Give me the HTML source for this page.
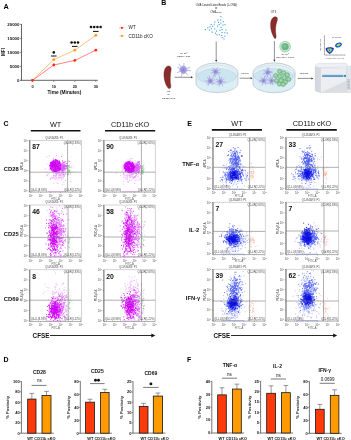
<!DOCTYPE html>
<html><head><meta charset="utf-8"><style>
html,body{margin:0;padding:0;background:#fff;width:351px;height:440px;overflow:hidden}
svg{display:block;font-family:"Liberation Sans", sans-serif;filter:blur(0.3px)}
</style></head><body>
<svg width="351" height="440" viewBox="0 0 351 440">
<defs><radialGradient id="dcg"><stop offset="0" stop-color="#857ccc"/><stop offset="0.55" stop-color="#a098dc"/><stop offset="1" stop-color="#b4aee8"/></radialGradient><filter id="soft" x="-10%" y="-10%" width="120%" height="120%"><feGaussianBlur stdDeviation="0.35"/></filter><filter id="bl" x="-50%" y="-50%" width="200%" height="200%"><feGaussianBlur stdDeviation="0.9"/></filter></defs>
<rect width="351" height="440" fill="#fff"/>
<text x="3.40" y="8.50" font-size="7.3" font-weight="bold" text-anchor="start" fill="#000" >A</text>
<line x1="21.50" y1="24.00" x2="21.50" y2="80.70" stroke="#666" stroke-width="1.0" />
<line x1="20.00" y1="80.30" x2="21.50" y2="80.30" stroke="#555" stroke-width="0.7" />
<text x="19.50" y="81.80" font-size="4.4" font-weight="bold" text-anchor="end" fill="#111" >0</text>
<line x1="20.00" y1="66.30" x2="21.50" y2="66.30" stroke="#555" stroke-width="0.7" />
<text x="19.50" y="67.80" font-size="4.4" font-weight="bold" text-anchor="end" fill="#111" >5000</text>
<line x1="20.00" y1="52.30" x2="21.50" y2="52.30" stroke="#555" stroke-width="0.7" />
<text x="19.50" y="53.80" font-size="4.4" font-weight="bold" text-anchor="end" fill="#111" >10000</text>
<line x1="20.00" y1="38.30" x2="21.50" y2="38.30" stroke="#555" stroke-width="0.7" />
<text x="19.50" y="39.80" font-size="4.4" font-weight="bold" text-anchor="end" fill="#111" >15000</text>
<line x1="20.00" y1="24.30" x2="21.50" y2="24.30" stroke="#555" stroke-width="0.7" />
<text x="19.50" y="25.80" font-size="4.4" font-weight="bold" text-anchor="end" fill="#111" >20000</text>
<line x1="20.50" y1="80.30" x2="97.80" y2="80.30" stroke="#666" stroke-width="1.0" />
<line x1="32.50" y1="80.30" x2="32.50" y2="81.80" stroke="#555" stroke-width="0.7" />
<text x="32.50" y="87.50" font-size="3.9" font-weight="bold" text-anchor="middle" fill="#111" >0</text>
<line x1="53.80" y1="80.30" x2="53.80" y2="81.80" stroke="#555" stroke-width="0.7" />
<text x="53.80" y="87.50" font-size="3.9" font-weight="bold" text-anchor="middle" fill="#111" >10</text>
<line x1="74.80" y1="80.30" x2="74.80" y2="81.80" stroke="#555" stroke-width="0.7" />
<text x="74.80" y="87.50" font-size="3.9" font-weight="bold" text-anchor="middle" fill="#111" >20</text>
<line x1="95.80" y1="80.30" x2="95.80" y2="81.80" stroke="#555" stroke-width="0.7" />
<text x="95.80" y="87.50" font-size="3.9" font-weight="bold" text-anchor="middle" fill="#111" >30</text>
<text x="64.40" y="94.40" font-size="4.8" font-weight="bold" text-anchor="middle" fill="#111" >Time (Minutes)</text>
<text transform="translate(5.2,52) rotate(-90)" font-size="4.6" font-weight="bold" text-anchor="middle" fill="#222">MFI</text>
<polyline points="32.5,80.3 53.8,59.6 74.8,50.2 95.8,35.3" fill="none" stroke="#ffa64d" stroke-width="0.7"/>
<polyline points="32.5,80.3 53.8,65.0 74.8,60.4 95.8,50.2" fill="none" stroke="#ff4d4d" stroke-width="0.7"/>
<circle cx="32.5" cy="80.3" r="1.4" fill="#ff9a1a"/>
<circle cx="53.8" cy="59.6" r="1.4" fill="#ff9a1a"/>
<circle cx="74.8" cy="50.2" r="1.4" fill="#ff9a1a"/>
<circle cx="95.8" cy="35.3" r="1.4" fill="#ff9a1a"/>
<circle cx="32.5" cy="80.3" r="1.4" fill="#ff2a1a"/>
<circle cx="53.8" cy="65.0" r="1.4" fill="#ff2a1a"/>
<circle cx="74.8" cy="60.4" r="1.4" fill="#ff2a1a"/>
<circle cx="95.8" cy="50.2" r="1.4" fill="#ff2a1a"/>
<circle cx="53.80" cy="52.4" r="1.3" fill="#111"/>
<line x1="51.00" y1="56.00" x2="56.60" y2="56.00" stroke="#111" stroke-width="1.0" />
<circle cx="71.60" cy="42.5" r="1.3" fill="#111"/>
<circle cx="74.80" cy="42.5" r="1.3" fill="#111"/>
<circle cx="78.00" cy="42.5" r="1.3" fill="#111"/>
<line x1="72.00" y1="46.40" x2="77.60" y2="46.40" stroke="#111" stroke-width="1.0" />
<circle cx="91.00" cy="27.0" r="1.3" fill="#111"/>
<circle cx="94.20" cy="27.0" r="1.3" fill="#111"/>
<circle cx="97.40" cy="27.0" r="1.3" fill="#111"/>
<circle cx="100.60" cy="27.0" r="1.3" fill="#111"/>
<line x1="93.00" y1="31.40" x2="98.60" y2="31.40" stroke="#111" stroke-width="1.0" />
<line x1="119.20" y1="27.80" x2="124.60" y2="27.80" stroke="#ff6a6a" stroke-width="0.6" />
<circle cx="121.9" cy="27.8" r="1.1" fill="#ff2a1a"/>
<text x="128.60" y="29.40" font-size="4.6" font-weight="normal" text-anchor="start" fill="#222" >WT</text>
<line x1="119.20" y1="35.90" x2="124.60" y2="35.90" stroke="#ffb060" stroke-width="0.6" />
<circle cx="121.9" cy="35.9" r="1.1" fill="#ff9a1a"/>
<text x="128.60" y="37.50" font-size="4.6" font-weight="normal" text-anchor="start" fill="#222" >CD11b cKO</text>
<text x="3.60" y="362.40" font-size="7.0" font-weight="bold" text-anchor="start" fill="#000" >D</text>
<text x="187.00" y="362.00" font-size="7.0" font-weight="bold" text-anchor="start" fill="#000" >F</text>
<line x1="21.40" y1="381.20" x2="21.40" y2="433.50" stroke="#777" stroke-width="1.0" />
<line x1="20.00" y1="433.20" x2="21.40" y2="433.20" stroke="#666" stroke-width="0.7" />
<text x="19.80" y="434.60" font-size="4.0" font-weight="bold" text-anchor="end" fill="#111" >0</text>
<line x1="20.00" y1="422.86" x2="21.40" y2="422.86" stroke="#666" stroke-width="0.7" />
<text x="19.80" y="424.26" font-size="4.0" font-weight="bold" text-anchor="end" fill="#111" >20</text>
<line x1="20.00" y1="412.52" x2="21.40" y2="412.52" stroke="#666" stroke-width="0.7" />
<text x="19.80" y="413.92" font-size="4.0" font-weight="bold" text-anchor="end" fill="#111" >40</text>
<line x1="20.00" y1="402.18" x2="21.40" y2="402.18" stroke="#666" stroke-width="0.7" />
<text x="19.80" y="403.58" font-size="4.0" font-weight="bold" text-anchor="end" fill="#111" >60</text>
<line x1="20.00" y1="391.84" x2="21.40" y2="391.84" stroke="#666" stroke-width="0.7" />
<text x="19.80" y="393.24" font-size="4.0" font-weight="bold" text-anchor="end" fill="#111" >80</text>
<line x1="20.00" y1="381.50" x2="21.40" y2="381.50" stroke="#666" stroke-width="0.7" />
<text x="19.80" y="382.90" font-size="4.0" font-weight="bold" text-anchor="end" fill="#111" >100</text>
<line x1="20.60" y1="433.20" x2="53.80" y2="433.20" stroke="#777" stroke-width="1.0" />
<line x1="31.85" y1="399.08" x2="31.85" y2="393.39" stroke="#555" stroke-width="0.6" />
<line x1="29.45" y1="393.39" x2="34.25" y2="393.39" stroke="#555" stroke-width="0.6" />
<rect x="27.70" y="399.08" width="8.30" height="34.12" fill="#ff3a0a" stroke="#151515" stroke-width="0.8"/>
<line x1="31.85" y1="433.20" x2="31.85" y2="434.20" stroke="#555" stroke-width="0.5" />
<line x1="46.50" y1="395.46" x2="46.50" y2="391.32" stroke="#555" stroke-width="0.6" />
<line x1="44.10" y1="391.32" x2="48.90" y2="391.32" stroke="#555" stroke-width="0.6" />
<rect x="42.00" y="395.46" width="9.00" height="37.74" fill="#ff9a00" stroke="#151515" stroke-width="0.8"/>
<line x1="46.50" y1="433.20" x2="46.50" y2="434.20" stroke="#555" stroke-width="0.5" />
<text x="39.40" y="373.70" font-size="5.0" font-weight="bold" text-anchor="middle" fill="#111" >CD28</text>
<text x="39.30" y="382.40" font-size="4.5" font-weight="normal" text-anchor="middle" fill="#111" >ns</text>
<line x1="31.60" y1="385.40" x2="46.50" y2="385.40" stroke="#444" stroke-width="0.7" />
<text transform="translate(9.10,407.35) rotate(-90)" font-size="4.1" font-weight="bold" text-anchor="middle" fill="#111">% Positivity</text>
<text x="27.20" y="440.20" font-size="3.9" font-weight="bold" text-anchor="start" fill="#111" >WT CD11b cKO</text>
<line x1="80.30" y1="381.20" x2="80.30" y2="433.50" stroke="#777" stroke-width="1.0" />
<line x1="78.90" y1="433.20" x2="80.30" y2="433.20" stroke="#666" stroke-width="0.7" />
<text x="78.70" y="434.60" font-size="4.0" font-weight="bold" text-anchor="end" fill="#111" >0</text>
<line x1="78.90" y1="420.27" x2="80.30" y2="420.27" stroke="#666" stroke-width="0.7" />
<text x="78.70" y="421.67" font-size="4.0" font-weight="bold" text-anchor="end" fill="#111" >20</text>
<line x1="78.90" y1="407.35" x2="80.30" y2="407.35" stroke="#666" stroke-width="0.7" />
<text x="78.70" y="408.75" font-size="4.0" font-weight="bold" text-anchor="end" fill="#111" >40</text>
<line x1="78.90" y1="394.43" x2="80.30" y2="394.43" stroke="#666" stroke-width="0.7" />
<text x="78.70" y="395.82" font-size="4.0" font-weight="bold" text-anchor="end" fill="#111" >60</text>
<line x1="78.90" y1="381.50" x2="80.30" y2="381.50" stroke="#666" stroke-width="0.7" />
<text x="78.70" y="382.90" font-size="4.0" font-weight="bold" text-anchor="end" fill="#111" >80</text>
<line x1="79.50" y1="433.20" x2="111.90" y2="433.20" stroke="#777" stroke-width="1.0" />
<line x1="90.00" y1="402.18" x2="90.00" y2="399.27" stroke="#555" stroke-width="0.6" />
<line x1="87.60" y1="399.27" x2="92.40" y2="399.27" stroke="#555" stroke-width="0.6" />
<rect x="85.60" y="402.18" width="8.80" height="31.02" fill="#ff3a0a" stroke="#151515" stroke-width="0.8"/>
<line x1="90.00" y1="433.20" x2="90.00" y2="434.20" stroke="#555" stroke-width="0.5" />
<line x1="104.85" y1="392.49" x2="104.85" y2="389.25" stroke="#555" stroke-width="0.6" />
<line x1="102.45" y1="389.25" x2="107.25" y2="389.25" stroke="#555" stroke-width="0.6" />
<rect x="100.60" y="392.49" width="8.50" height="40.71" fill="#ff9a00" stroke="#151515" stroke-width="0.8"/>
<line x1="104.85" y1="433.20" x2="104.85" y2="434.20" stroke="#555" stroke-width="0.5" />
<text x="97.30" y="373.30" font-size="5.0" font-weight="bold" text-anchor="middle" fill="#111" >CD25</text>
<circle cx="95.50" cy="380.20" r="1.45" fill="#111"/>
<circle cx="98.50" cy="380.20" r="1.45" fill="#111"/>
<line x1="90.00" y1="383.60" x2="104.60" y2="383.60" stroke="#444" stroke-width="0.7" />
<text transform="translate(69.90,407.35) rotate(-90)" font-size="4.1" font-weight="bold" text-anchor="middle" fill="#111">% Positivity</text>
<text x="87.30" y="440.20" font-size="3.9" font-weight="bold" text-anchor="start" fill="#111" >WT CD11b cKO</text>
<line x1="133.00" y1="381.40" x2="133.00" y2="433.40" stroke="#777" stroke-width="1.0" />
<line x1="131.60" y1="433.10" x2="133.00" y2="433.10" stroke="#666" stroke-width="0.7" />
<text x="131.40" y="434.50" font-size="4.0" font-weight="bold" text-anchor="end" fill="#111" >0</text>
<line x1="131.60" y1="422.82" x2="133.00" y2="422.82" stroke="#666" stroke-width="0.7" />
<text x="131.40" y="424.22" font-size="4.0" font-weight="bold" text-anchor="end" fill="#111" >5</text>
<line x1="131.60" y1="412.54" x2="133.00" y2="412.54" stroke="#666" stroke-width="0.7" />
<text x="131.40" y="413.94" font-size="4.0" font-weight="bold" text-anchor="end" fill="#111" >10</text>
<line x1="131.60" y1="402.26" x2="133.00" y2="402.26" stroke="#666" stroke-width="0.7" />
<text x="131.40" y="403.66" font-size="4.0" font-weight="bold" text-anchor="end" fill="#111" >15</text>
<line x1="131.60" y1="391.98" x2="133.00" y2="391.98" stroke="#666" stroke-width="0.7" />
<text x="131.40" y="393.38" font-size="4.0" font-weight="bold" text-anchor="end" fill="#111" >20</text>
<line x1="131.60" y1="381.70" x2="133.00" y2="381.70" stroke="#666" stroke-width="0.7" />
<text x="131.40" y="383.10" font-size="4.0" font-weight="bold" text-anchor="end" fill="#111" >25</text>
<line x1="132.20" y1="433.10" x2="165.40" y2="433.10" stroke="#777" stroke-width="1.0" />
<line x1="143.65" y1="406.37" x2="143.65" y2="403.29" stroke="#555" stroke-width="0.6" />
<line x1="141.25" y1="403.29" x2="146.05" y2="403.29" stroke="#555" stroke-width="0.6" />
<rect x="139.30" y="406.37" width="8.70" height="26.73" fill="#ff3a0a" stroke="#151515" stroke-width="0.8"/>
<line x1="143.65" y1="433.10" x2="143.65" y2="434.10" stroke="#555" stroke-width="0.5" />
<line x1="157.95" y1="396.09" x2="157.95" y2="393.01" stroke="#555" stroke-width="0.6" />
<line x1="155.55" y1="393.01" x2="160.35" y2="393.01" stroke="#555" stroke-width="0.6" />
<rect x="153.30" y="396.09" width="9.30" height="37.01" fill="#ff9a00" stroke="#151515" stroke-width="0.8"/>
<line x1="157.95" y1="433.10" x2="157.95" y2="434.10" stroke="#555" stroke-width="0.5" />
<text x="150.90" y="375.10" font-size="5.0" font-weight="bold" text-anchor="middle" fill="#111" >CD69</text>
<circle cx="150.90" cy="383.90" r="1.45" fill="#111"/>
<line x1="143.20" y1="387.40" x2="158.60" y2="387.40" stroke="#444" stroke-width="0.7" />
<text transform="translate(122.70,407.40) rotate(-90)" font-size="4.1" font-weight="bold" text-anchor="middle" fill="#111">% Positivity</text>
<text x="140.40" y="440.20" font-size="3.9" font-weight="bold" text-anchor="start" fill="#111" >WT CD11b cKO</text>
<line x1="211.80" y1="381.00" x2="211.80" y2="433.30" stroke="#777" stroke-width="1.0" />
<line x1="210.40" y1="433.00" x2="211.80" y2="433.00" stroke="#666" stroke-width="0.7" />
<text x="210.20" y="434.40" font-size="4.0" font-weight="bold" text-anchor="end" fill="#111" >0</text>
<line x1="210.40" y1="420.07" x2="211.80" y2="420.07" stroke="#666" stroke-width="0.7" />
<text x="210.20" y="421.47" font-size="4.0" font-weight="bold" text-anchor="end" fill="#111" >10</text>
<line x1="210.40" y1="407.15" x2="211.80" y2="407.15" stroke="#666" stroke-width="0.7" />
<text x="210.20" y="408.55" font-size="4.0" font-weight="bold" text-anchor="end" fill="#111" >20</text>
<line x1="210.40" y1="394.23" x2="211.80" y2="394.23" stroke="#666" stroke-width="0.7" />
<text x="210.20" y="395.62" font-size="4.0" font-weight="bold" text-anchor="end" fill="#111" >30</text>
<line x1="210.40" y1="381.30" x2="211.80" y2="381.30" stroke="#666" stroke-width="0.7" />
<text x="210.20" y="382.70" font-size="4.0" font-weight="bold" text-anchor="end" fill="#111" >40</text>
<line x1="211.00" y1="433.00" x2="244.10" y2="433.00" stroke="#777" stroke-width="1.0" />
<line x1="222.00" y1="394.87" x2="222.00" y2="387.76" stroke="#555" stroke-width="0.6" />
<line x1="219.60" y1="387.76" x2="224.40" y2="387.76" stroke="#555" stroke-width="0.6" />
<rect x="217.70" y="394.87" width="8.60" height="38.13" fill="#ff3a0a" stroke="#151515" stroke-width="0.8"/>
<line x1="222.00" y1="433.00" x2="222.00" y2="434.00" stroke="#555" stroke-width="0.5" />
<line x1="236.90" y1="389.06" x2="236.90" y2="384.14" stroke="#555" stroke-width="0.6" />
<line x1="234.50" y1="384.14" x2="239.30" y2="384.14" stroke="#555" stroke-width="0.6" />
<rect x="232.50" y="389.06" width="8.80" height="43.94" fill="#ff9a00" stroke="#151515" stroke-width="0.8"/>
<line x1="236.90" y1="433.00" x2="236.90" y2="434.00" stroke="#555" stroke-width="0.5" />
<text x="229.90" y="367.00" font-size="5.0" font-weight="bold" text-anchor="middle" fill="#111" >TNF-&#945;</text>
<text x="229.40" y="376.00" font-size="4.5" font-weight="normal" text-anchor="middle" fill="#111" >ns</text>
<line x1="222.00" y1="378.20" x2="237.00" y2="378.20" stroke="#444" stroke-width="0.7" />
<text transform="translate(201.20,407.15) rotate(-90)" font-size="4.1" font-weight="bold" text-anchor="middle" fill="#111">% Positivity</text>
<text x="218.60" y="440.20" font-size="3.9" font-weight="bold" text-anchor="start" fill="#111" >WT CD11b cKO</text>
<line x1="260.60" y1="381.00" x2="260.60" y2="433.30" stroke="#777" stroke-width="1.0" />
<line x1="259.20" y1="433.00" x2="260.60" y2="433.00" stroke="#666" stroke-width="0.7" />
<text x="259.00" y="434.40" font-size="4.0" font-weight="bold" text-anchor="end" fill="#111" >0</text>
<line x1="259.20" y1="422.66" x2="260.60" y2="422.66" stroke="#666" stroke-width="0.7" />
<text x="259.00" y="424.06" font-size="4.0" font-weight="bold" text-anchor="end" fill="#111" >5</text>
<line x1="259.20" y1="412.32" x2="260.60" y2="412.32" stroke="#666" stroke-width="0.7" />
<text x="259.00" y="413.72" font-size="4.0" font-weight="bold" text-anchor="end" fill="#111" >10</text>
<line x1="259.20" y1="401.98" x2="260.60" y2="401.98" stroke="#666" stroke-width="0.7" />
<text x="259.00" y="403.38" font-size="4.0" font-weight="bold" text-anchor="end" fill="#111" >15</text>
<line x1="259.20" y1="391.64" x2="260.60" y2="391.64" stroke="#666" stroke-width="0.7" />
<text x="259.00" y="393.04" font-size="4.0" font-weight="bold" text-anchor="end" fill="#111" >20</text>
<line x1="259.20" y1="381.30" x2="260.60" y2="381.30" stroke="#666" stroke-width="0.7" />
<text x="259.00" y="382.70" font-size="4.0" font-weight="bold" text-anchor="end" fill="#111" >25</text>
<line x1="259.80" y1="433.00" x2="293.10" y2="433.00" stroke="#777" stroke-width="1.0" />
<line x1="271.10" y1="393.29" x2="271.10" y2="385.85" stroke="#555" stroke-width="0.6" />
<line x1="268.70" y1="385.85" x2="273.50" y2="385.85" stroke="#555" stroke-width="0.6" />
<rect x="266.70" y="393.29" width="8.80" height="39.71" fill="#ff3a0a" stroke="#151515" stroke-width="0.8"/>
<line x1="271.10" y1="433.00" x2="271.10" y2="434.00" stroke="#555" stroke-width="0.5" />
<line x1="285.90" y1="392.67" x2="285.90" y2="385.44" stroke="#555" stroke-width="0.6" />
<line x1="283.50" y1="385.44" x2="288.30" y2="385.44" stroke="#555" stroke-width="0.6" />
<rect x="281.50" y="392.67" width="8.80" height="40.33" fill="#ff9a00" stroke="#151515" stroke-width="0.8"/>
<line x1="285.90" y1="433.00" x2="285.90" y2="434.00" stroke="#555" stroke-width="0.5" />
<text x="277.50" y="368.00" font-size="5.0" font-weight="bold" text-anchor="middle" fill="#111" >IL-2</text>
<text x="278.30" y="376.90" font-size="4.5" font-weight="normal" text-anchor="middle" fill="#111" >ns</text>
<line x1="270.80" y1="379.00" x2="286.00" y2="379.00" stroke="#444" stroke-width="0.7" />
<text transform="translate(250.70,407.15) rotate(-90)" font-size="4.1" font-weight="bold" text-anchor="middle" fill="#111">% Positivity</text>
<text x="267.40" y="440.20" font-size="3.9" font-weight="bold" text-anchor="start" fill="#111" >WT CD11b cKO</text>
<line x1="309.40" y1="381.10" x2="309.40" y2="433.60" stroke="#777" stroke-width="1.0" />
<line x1="308.00" y1="433.30" x2="309.40" y2="433.30" stroke="#666" stroke-width="0.7" />
<text x="307.80" y="434.70" font-size="4.0" font-weight="bold" text-anchor="end" fill="#111" >0</text>
<line x1="308.00" y1="420.32" x2="309.40" y2="420.32" stroke="#666" stroke-width="0.7" />
<text x="307.80" y="421.72" font-size="4.0" font-weight="bold" text-anchor="end" fill="#111" >20</text>
<line x1="308.00" y1="407.35" x2="309.40" y2="407.35" stroke="#666" stroke-width="0.7" />
<text x="307.80" y="408.75" font-size="4.0" font-weight="bold" text-anchor="end" fill="#111" >40</text>
<line x1="308.00" y1="394.38" x2="309.40" y2="394.38" stroke="#666" stroke-width="0.7" />
<text x="307.80" y="395.77" font-size="4.0" font-weight="bold" text-anchor="end" fill="#111" >60</text>
<line x1="308.00" y1="381.40" x2="309.40" y2="381.40" stroke="#666" stroke-width="0.7" />
<text x="307.80" y="382.80" font-size="4.0" font-weight="bold" text-anchor="end" fill="#111" >80</text>
<line x1="308.60" y1="433.30" x2="341.70" y2="433.30" stroke="#777" stroke-width="1.0" />
<line x1="319.85" y1="409.30" x2="319.85" y2="404.43" stroke="#555" stroke-width="0.6" />
<line x1="317.45" y1="404.43" x2="322.25" y2="404.43" stroke="#555" stroke-width="0.6" />
<rect x="315.50" y="409.30" width="8.70" height="24.00" fill="#ff3a0a" stroke="#151515" stroke-width="0.8"/>
<line x1="319.85" y1="433.30" x2="319.85" y2="434.30" stroke="#555" stroke-width="0.5" />
<line x1="334.60" y1="395.35" x2="334.60" y2="389.83" stroke="#555" stroke-width="0.6" />
<line x1="332.20" y1="389.83" x2="337.00" y2="389.83" stroke="#555" stroke-width="0.6" />
<rect x="330.30" y="395.35" width="8.60" height="37.95" fill="#ff9a00" stroke="#151515" stroke-width="0.8"/>
<line x1="334.60" y1="433.30" x2="334.60" y2="434.30" stroke="#555" stroke-width="0.5" />
<text x="324.80" y="372.30" font-size="5.0" font-weight="bold" text-anchor="middle" fill="#111" >IFN-&#947;</text>
<text x="327.70" y="381.00" font-size="4.5" font-weight="normal" text-anchor="middle" fill="#111" >0.0699</text>
<line x1="319.70" y1="383.30" x2="334.70" y2="383.30" stroke="#444" stroke-width="0.7" />
<text transform="translate(299.10,407.35) rotate(-90)" font-size="4.1" font-weight="bold" text-anchor="middle" fill="#111">% Positivity</text>
<text x="316.40" y="440.20" font-size="3.9" font-weight="bold" text-anchor="start" fill="#111" >WT CD11b cKO</text>
<text x="3.60" y="126.40" font-size="7.0" font-weight="bold" text-anchor="start" fill="#000" >C</text>
<text x="187.20" y="126.40" font-size="7.0" font-weight="bold" text-anchor="start" fill="#000" >E</text>
<text x="55.60" y="126.60" font-size="7.3" font-weight="normal" text-anchor="middle" fill="#111" >WT</text>
<text x="130.10" y="126.60" font-size="7.3" font-weight="normal" text-anchor="middle" fill="#111" >CD11b cKO</text>
<line x1="30.80" y1="130.80" x2="80.50" y2="130.80" stroke="#111" stroke-width="1.6" />
<line x1="105.00" y1="130.80" x2="155.20" y2="130.80" stroke="#111" stroke-width="1.6" />
<text x="237.00" y="126.30" font-size="7.3" font-weight="normal" text-anchor="middle" fill="#111" >WT</text>
<text x="312.00" y="126.30" font-size="7.3" font-weight="normal" text-anchor="middle" fill="#111" >CD11b cKO</text>
<line x1="211.80" y1="129.90" x2="262.00" y2="129.90" stroke="#111" stroke-width="1.6" />
<line x1="286.40" y1="129.90" x2="336.80" y2="129.90" stroke="#111" stroke-width="1.6" />
<text x="3.80" y="170.60" font-size="5.8" font-weight="bold" text-anchor="start" fill="#111" >CD28</text>
<text x="3.80" y="235.60" font-size="5.8" font-weight="bold" text-anchor="start" fill="#111" >CD25</text>
<text x="3.80" y="300.60" font-size="5.8" font-weight="bold" text-anchor="start" fill="#111" >CD69</text>
<text x="182.30" y="166.20" font-size="5.8" font-weight="bold" text-anchor="start" fill="#111" >TNF-&#945;</text>
<text x="189.00" y="231.80" font-size="5.8" font-weight="bold" text-anchor="start" fill="#111" >IL-2</text>
<text x="185.80" y="300.20" font-size="5.8" font-weight="bold" text-anchor="start" fill="#111" >IFN-&#947;</text>
<text x="32.60" y="337.90" font-size="6.3" font-weight="bold" text-anchor="start" fill="#111" >CFSE</text>
<line x1="50.00" y1="335.50" x2="152.80" y2="335.50" stroke="#111" stroke-width="0.9" />
<path d="M155.3 335.5 L151.3 333.6 L151.3 337.4 Z" fill="#111"/>
<text x="213.40" y="337.90" font-size="6.3" font-weight="bold" text-anchor="start" fill="#111" >CFSE</text>
<line x1="231.00" y1="335.50" x2="334.70" y2="335.50" stroke="#111" stroke-width="0.9" />
<path d="M337.2 335.5 L333.2 333.6 L333.2 337.4 Z" fill="#111"/>
<rect x="29.8" y="140.3" width="51.60" height="51.70" fill="#fff" stroke="#a8a8a8" stroke-width="0.5"/>
<g filter="url(#soft)">
<ellipse cx="55.2" cy="166.0" rx="5.0" ry="5.4" fill="#d000f6" fill-opacity="0.95" filter="url(#bl)"/>
<ellipse cx="62.0" cy="167.5" rx="4.0" ry="4.2" fill="#dd5cff" fill-opacity="0.45" filter="url(#bl)"/>
<path d="M59.5 177.3h0.9M57.4 180.1h0.9M55.8 173.6h0.9M61.6 175.7h0.9M56.3 173.5h0.9M56.4 177.6h0.9M59.2 171.4h0.9M59.5 176.1h0.9M52.9 178.1h0.9M56.3 174.4h0.9M61.2 180.0h0.9M54.4 177.0h0.9M53.5 183.4h0.9M55.3 179.6h0.9M54.6 178.3h0.9M67.8 166.9h0.9M55.6 177.2h0.9M57.1 173.2h0.9M67.4 175.8h0.9M50.0 178.4h0.9M49.6 179.4h0.9M54.9 176.0h0.9M63.4 175.9h0.9M51.2 169.7h0.9M63.0 178.0h0.9M53.8 178.4h0.9M59.8 177.7h0.9M47.2 174.5h0.9M61.7 178.0h0.9M61.6 167.1h0.9M58.3 177.2h0.9M69.3 172.3h0.9M56.0 175.6h0.9M61.6 174.0h0.9M62.8 172.8h0.9M58.8 173.7h0.9M58.3 173.2h0.9M50.2 179.2h0.9M58.9 173.6h0.9M58.5 178.9h0.9M53.1 175.1h0.9M60.0 177.3h0.9M56.0 168.3h0.9M63.3 176.6h0.9M57.6 174.6h0.9M58.8 174.1h0.9M52.8 173.0h0.9M54.8 173.4h0.9M52.2 177.7h0.9M51.5 177.7h0.9M52.9 176.7h0.9M63.9 176.2h0.9M54.2 175.7h0.9M58.2 169.6h0.9M54.8 176.1h0.9M55.4 175.8h0.9M60.9 178.1h0.9M61.7 177.5h0.9M56.2 175.4h0.9M56.3 174.4h0.9M56.7 169.6h0.9M56.0 175.4h0.9M53.1 175.4h0.9M59.9 174.9h0.9M67.1 166.6h0.9M56.6 169.3h0.9M62.1 184.5h0.9M46.0 175.9h0.9M59.9 174.5h0.9M60.1 167.9h0.9M61.5 176.8h0.9M57.7 173.5h0.9M60.5 173.8h0.9M58.6 173.8h0.9M47.2 175.4h0.9M58.5 178.1h0.9M53.5 175.4h0.9M60.4 176.0h0.9M63.3 182.3h0.9M53.4 169.0h0.9M61.3 179.2h0.9M61.6 174.9h0.9M53.1 165.7h0.9M61.4 164.5h0.9M46.6 164.0h0.9M70.3 181.5h0.9M52.8 165.6h0.9M57.8 165.5h0.9M63.8 169.5h0.9M50.6 177.9h0.9M53.3 171.3h0.9M56.5 168.1h0.9M58.3 165.8h0.9M46.4 156.8h0.9M49.6 165.4h0.9M56.4 170.3h0.9M59.6 170.7h0.9M52.2 165.7h0.9M44.9 169.0h0.9M59.2 173.2h0.9M55.9 169.0h0.9M61.7 170.1h0.9M60.6 173.5h0.9M57.7 177.8h0.9M53.4 167.8h0.9M52.1 165.2h0.9M65.1 180.6h0.9M56.7 173.4h0.9M63.0 174.8h0.9M63.2 162.4h0.9M53.0 172.7h0.9M64.4 170.6h0.9M51.8 167.9h0.9M52.9 164.9h0.9M64.8 166.2h0.9M56.7 183.0h0.9M63.1 172.0h0.9M53.2 172.5h0.9M65.5 173.7h0.9M63.5 170.6h0.9M59.4 168.8h0.9M58.9 177.8h0.9M48.7 169.6h0.9M57.9 166.6h0.9M54.9 174.7h0.9M67.6 173.8h0.9M58.3 160.7h0.9M67.2 170.5h0.9M56.4 163.3h0.9M56.2 163.4h0.9M56.9 172.8h0.9M56.7 171.7h0.9M51.9 178.6h0.9M53.0 159.1h0.9M55.5 165.4h0.9M51.0 167.9h0.9M58.2 162.9h0.9M55.8 178.6h0.9M60.3 169.1h0.9M57.3 169.3h0.9M56.3 174.4h0.9M56.0 155.6h0.9M56.4 164.7h0.9M60.1 166.3h0.9M57.4 183.1h0.9M50.8 163.3h0.9M48.8 155.6h0.9M46.2 172.2h0.9M53.0 158.8h0.9M48.4 173.7h0.9" stroke="#eba8ff" stroke-width="0.9" fill="none"/>
<path d="M65.6 163.6h0.9M58.1 162.3h0.9M65.1 166.0h0.9M61.9 166.5h0.9M61.7 164.0h0.9M62.1 162.9h0.9M61.9 168.5h0.9M63.3 166.8h0.9M59.7 168.0h0.9M60.8 172.5h0.9M64.0 167.1h0.9M60.8 165.3h0.9M59.6 166.4h0.9M62.8 169.1h0.9M63.5 174.2h0.9M60.2 167.5h0.9M69.3 161.5h0.9M60.7 168.0h0.9M62.5 168.8h0.9M61.4 168.7h0.9M62.2 170.0h0.9M57.1 164.7h0.9M62.0 164.2h0.9M59.3 169.5h0.9M60.4 169.5h0.9M64.0 168.5h0.9M63.4 167.2h0.9M58.4 167.4h0.9M63.2 165.8h0.9M61.8 169.9h0.9M59.8 169.5h0.9M66.9 165.7h0.9M62.4 167.0h0.9M66.1 168.5h0.9M64.4 165.3h0.9M62.0 167.5h0.9M57.4 172.1h0.9M64.4 161.9h0.9M64.0 167.1h0.9M63.2 168.7h0.9M58.2 166.8h0.9M65.9 165.7h0.9M59.4 163.1h0.9M58.9 168.6h0.9M66.5 168.9h0.9M62.7 174.6h0.9M60.7 165.3h0.9M63.4 169.3h0.9M59.4 163.8h0.9M62.8 168.3h0.9M58.7 166.9h0.9M60.6 169.0h0.9M61.7 167.2h0.9M61.1 170.9h0.9M65.7 166.3h0.9M64.2 165.1h0.9M62.2 169.9h0.9M66.0 166.3h0.9M61.9 168.1h0.9M58.2 167.6h0.9M60.3 168.7h0.9M59.1 161.2h0.9M62.1 168.3h0.9M60.6 170.3h0.9M61.3 165.6h0.9M63.3 162.5h0.9M60.3 167.4h0.9M64.3 167.0h0.9M62.9 165.4h0.9M62.8 172.8h0.9M60.3 175.1h0.9M60.4 167.6h0.9M62.5 170.8h0.9M58.8 160.8h0.9M63.6 170.0h0.9M63.7 175.9h0.9M62.6 168.3h0.9M64.5 168.7h0.9M66.4 163.5h0.9M61.1 156.5h0.9M64.2 166.3h0.9M64.5 174.4h0.9M62.0 166.7h0.9M60.8 164.8h0.9M60.4 169.5h0.9M62.1 167.7h0.9M61.6 170.4h0.9M63.3 167.0h0.9M63.8 167.0h0.9M59.1 172.2h0.9M63.3 164.4h0.9M64.9 168.6h0.9M58.0 172.7h0.9M62.9 170.4h0.9M62.6 167.0h0.9M58.0 170.6h0.9M62.1 166.6h0.9M63.0 167.7h0.9M63.8 166.3h0.9M62.0 160.7h0.9M60.9 169.7h0.9M65.5 166.3h0.9M61.7 172.6h0.9M61.2 169.8h0.9M66.4 167.6h0.9M65.2 165.2h0.9M62.6 167.3h0.9M62.3 171.1h0.9M68.3 165.4h0.9M60.6 169.1h0.9M59.3 169.1h0.9M63.5 166.6h0.9M63.4 162.5h0.9M64.0 162.6h0.9M60.2 165.7h0.9M61.0 170.2h0.9M62.3 166.2h0.9M63.5 172.6h0.9M62.1 168.7h0.9M65.3 168.4h0.9M58.7 175.5h0.9M67.8 161.1h0.9M61.9 168.8h0.9M64.6 169.6h0.9M61.3 164.1h0.9M62.3 170.8h0.9M59.2 164.2h0.9M62.0 161.3h0.9M61.4 166.1h0.9M63.2 165.3h0.9M59.8 166.2h0.9M61.9 165.4h0.9M62.1 169.9h0.9M65.1 173.0h0.9M60.0 166.2h0.9M55.6 173.6h0.9M60.2 167.4h0.9M63.4 163.2h0.9M63.3 167.4h0.9M57.3 168.4h0.9M65.2 161.5h0.9M64.1 168.2h0.9M63.3 168.9h0.9M65.4 166.8h0.9M64.3 166.2h0.9M63.9 164.9h0.9M61.8 173.0h0.9M63.2 167.0h0.9M59.1 165.0h0.9M62.6 170.5h0.9" stroke="#dd5cff" stroke-width="0.9" fill="none"/>
<path d="M53.1 161.7h0.9M56.7 160.7h0.9M55.5 164.3h0.9M50.1 166.1h0.9M49.9 165.2h0.9M54.2 170.1h0.9M50.8 162.6h0.9M56.5 171.6h0.9M55.9 164.7h0.9M59.1 163.4h0.9M52.9 169.9h0.9M51.5 167.0h0.9M56.6 164.4h0.9M55.6 160.6h0.9M57.1 165.1h0.9M53.0 167.1h0.9M54.5 163.5h0.9M58.3 168.5h0.9M52.2 166.9h0.9M55.3 170.7h0.9M57.6 163.4h0.9M54.1 169.2h0.9M51.2 165.9h0.9M49.9 168.1h0.9M58.0 166.9h0.9M59.3 163.7h0.9M57.2 167.2h0.9M55.9 165.5h0.9M54.8 168.0h0.9M50.1 168.5h0.9M58.7 163.3h0.9M53.8 168.1h0.9M49.7 165.5h0.9M50.9 162.9h0.9M53.8 170.6h0.9M50.4 165.4h0.9M55.6 170.8h0.9M58.6 170.5h0.9M52.6 164.9h0.9M53.5 170.8h0.9M51.4 162.7h0.9M52.1 165.8h0.9M56.0 163.1h0.9M53.6 166.8h0.9M60.1 168.4h0.9M55.2 167.5h0.9M57.0 160.5h0.9M59.5 169.5h0.9M59.2 169.7h0.9M53.8 164.7h0.9M50.6 167.7h0.9M51.8 161.8h0.9M53.3 160.5h0.9M50.6 164.3h0.9M56.3 161.6h0.9M52.3 164.1h0.9M53.5 161.3h0.9M54.7 165.8h0.9M53.3 163.1h0.9M58.7 161.8h0.9M55.4 161.6h0.9M55.5 160.1h0.9M55.4 171.9h0.9M59.1 168.4h0.9M52.4 164.3h0.9M51.3 169.4h0.9M55.4 169.5h0.9M53.1 162.6h0.9M59.0 169.8h0.9M58.6 169.0h0.9M52.0 166.2h0.9M53.4 160.2h0.9M52.4 168.4h0.9M60.2 165.3h0.9M60.1 164.3h0.9M51.9 162.6h0.9M51.7 162.3h0.9M56.4 171.0h0.9M58.9 165.7h0.9M56.8 169.7h0.9M50.4 168.0h0.9M59.6 169.5h0.9M57.9 165.7h0.9M51.4 169.6h0.9M53.2 169.7h0.9M60.3 164.7h0.9M53.9 171.5h0.9M57.6 161.9h0.9M51.1 170.0h0.9M53.4 166.6h0.9M60.3 167.9h0.9M55.3 171.4h0.9M54.3 170.6h0.9M58.7 162.4h0.9M52.3 163.4h0.9M52.1 167.1h0.9M52.4 165.0h0.9M53.4 165.5h0.9M56.0 171.0h0.9M54.2 171.2h0.9M55.1 166.4h0.9M55.3 160.0h0.9M54.4 162.1h0.9M51.4 165.7h0.9M57.6 166.7h0.9M53.1 166.2h0.9M55.7 169.5h0.9M50.6 166.7h0.9M52.2 163.2h0.9M58.1 166.1h0.9M55.7 169.2h0.9M59.7 165.3h0.9M56.3 166.1h0.9M55.2 168.4h0.9M54.5 166.4h0.9M54.8 171.5h0.9M57.3 170.7h0.9M55.7 171.5h0.9M58.9 161.5h0.9M50.8 165.3h0.9M50.3 162.8h0.9M50.3 168.1h0.9M58.2 170.9h0.9M51.2 168.7h0.9M56.8 161.6h0.9M53.9 165.8h0.9M51.3 165.2h0.9M55.2 164.0h0.9M51.6 163.7h0.9M55.7 165.3h0.9M56.4 166.2h0.9M50.6 163.1h0.9M52.5 161.4h0.9M54.2 171.1h0.9M58.6 163.0h0.9M55.8 168.5h0.9M57.2 165.1h0.9M56.6 169.7h0.9M54.5 164.0h0.9M55.6 171.3h0.9M52.5 161.4h0.9M55.4 162.8h0.9M52.9 163.6h0.9M58.0 163.4h0.9M55.1 162.0h0.9M57.7 166.6h0.9M51.6 165.7h0.9M58.6 165.2h0.9M55.0 170.1h0.9M53.9 166.1h0.9M53.3 170.1h0.9M57.4 167.7h0.9M54.0 164.1h0.9M50.2 169.0h0.9M52.3 161.8h0.9M59.2 168.1h0.9M52.6 162.8h0.9M52.7 165.5h0.9M51.2 165.3h0.9M60.3 166.6h0.9M52.9 164.2h0.9M54.8 166.0h0.9M51.7 166.1h0.9M50.5 164.8h0.9M52.9 162.7h0.9M56.0 166.4h0.9M57.9 168.0h0.9M57.5 170.7h0.9M53.8 163.8h0.9M57.6 167.8h0.9M59.4 167.6h0.9M57.7 169.9h0.9M51.0 166.3h0.9M55.1 170.2h0.9M58.5 170.0h0.9M56.0 170.9h0.9M57.1 168.4h0.9M50.9 164.3h0.9M55.7 167.6h0.9M56.5 168.2h0.9M54.9 159.8h0.9M58.4 169.1h0.9M55.1 166.4h0.9M56.8 160.6h0.9M57.7 162.9h0.9M50.3 163.1h0.9M57.6 162.3h0.9M55.0 164.5h0.9M54.8 168.3h0.9M58.0 167.5h0.9M56.6 160.8h0.9M51.1 162.9h0.9M57.8 163.6h0.9M55.8 160.0h0.9M50.1 163.1h0.9M57.0 168.4h0.9M57.0 163.4h0.9M55.2 165.6h0.9M54.7 161.3h0.9M59.5 162.3h0.9M49.6 165.5h0.9M54.5 163.1h0.9M51.8 167.0h0.9M51.0 166.3h0.9M58.6 166.1h0.9M59.4 168.5h0.9M52.0 170.9h0.9M54.9 160.1h0.9M49.5 165.9h0.9M54.5 163.5h0.9M51.0 164.1h0.9M53.0 170.2h0.9M59.8 168.6h0.9M59.5 163.4h0.9M53.6 164.7h0.9M53.5 165.1h0.9M52.6 171.4h0.9M52.2 163.1h0.9M55.2 162.2h0.9M53.6 171.7h0.9" stroke="#d000f6" stroke-width="0.9" fill="none"/>
<path d="M69.0 167.3h0.7M71.4 166.7h0.7M71.3 165.8h0.7M72.3 168.0h0.7M71.2 157.0h0.7M73.6 168.1h0.7M66.2 168.4h0.7M71.8 172.3h0.7M67.9 174.2h0.7M70.3 177.6h0.7M70.3 170.7h0.7M69.7 163.5h0.7M73.4 171.6h0.7M74.5 171.4h0.7M69.2 161.4h0.7M69.0 165.3h0.7M68.6 170.3h0.7M71.5 166.9h0.7M71.1 167.4h0.7M71.2 171.0h0.7M73.0 165.3h0.7M66.9 173.7h0.7" stroke="#bfe3bf" stroke-width="0.7" fill="none"/>
<path d="M67.6 169.5h0.7M68.5 174.0h0.7M70.0 173.2h0.7M68.4 171.0h0.7M69.9 174.2h0.7M68.0 171.7h0.7M68.5 170.6h0.7M67.8 167.1h0.7M67.8 166.5h0.7M69.4 171.9h0.7M67.2 174.1h0.7M69.1 165.5h0.7M69.9 172.6h0.7M70.1 167.3h0.7M68.7 171.6h0.7M68.4 170.9h0.7M69.2 166.6h0.7M67.1 166.9h0.7M67.7 168.9h0.7M68.6 171.2h0.7M68.3 168.7h0.7M67.9 173.0h0.7M68.9 170.8h0.7M68.0 174.5h0.7M67.7 172.2h0.7M69.3 169.8h0.7M69.0 167.6h0.7M69.2 171.0h0.7M66.8 172.2h0.7M67.4 173.8h0.7" stroke="#78c07e" stroke-width="0.7" fill="none"/>
</g>
<line x1="48" y1="191.5" x2="66" y2="191.5" stroke="#dd5cff" stroke-width="0.6" stroke-opacity="0.6"/>
<line x1="67.60" y1="140.30" x2="67.60" y2="192.00" stroke="#7a7a7a" stroke-width="0.6" />
<line x1="29.80" y1="172.20" x2="81.40" y2="172.20" stroke="#7a7a7a" stroke-width="0.6" />
<line x1="29.80" y1="140.30" x2="29.80" y2="192.00" stroke="#666" stroke-width="0.9" />
<line x1="29.80" y1="192.00" x2="81.40" y2="192.00" stroke="#999" stroke-width="0.5" />
<text x="32.20" y="149.30" font-size="6.8" font-weight="bold" text-anchor="start" fill="#111" >87</text>
<text x="54.10" y="138.70" font-size="2.7" font-weight="normal" text-anchor="middle" fill="#444" >Q1-R4&amp;R3: P1</text>
<text x="80.80" y="143.70" font-size="2.6" font-weight="normal" text-anchor="end" fill="#444" >Q4-UR(2.83%)</text>
<text x="30.80" y="190.50" font-size="2.6" font-weight="normal" text-anchor="start" fill="#444" >Q4-LL(8.93%)</text>
<text x="80.80" y="190.50" font-size="2.6" font-weight="normal" text-anchor="end" fill="#444" >Q4-LR(1.22%)</text>
<line x1="30.60" y1="192.00" x2="30.60" y2="192.90" stroke="#777" stroke-width="0.45" />
<text x="30.60" y="196.90" font-size="2.8" font-weight="normal" text-anchor="middle" fill="#555" >10<tspan dy="-1" font-size="2">0</tspan></text>
<line x1="40.60" y1="192.00" x2="40.60" y2="192.90" stroke="#777" stroke-width="0.45" />
<text x="40.60" y="196.90" font-size="2.8" font-weight="normal" text-anchor="middle" fill="#555" >10<tspan dy="-1" font-size="2">1</tspan></text>
<line x1="50.60" y1="192.00" x2="50.60" y2="192.90" stroke="#777" stroke-width="0.45" />
<text x="50.60" y="196.90" font-size="2.8" font-weight="normal" text-anchor="middle" fill="#555" >10<tspan dy="-1" font-size="2">2</tspan></text>
<line x1="60.60" y1="192.00" x2="60.60" y2="192.90" stroke="#777" stroke-width="0.45" />
<text x="60.60" y="196.90" font-size="2.8" font-weight="normal" text-anchor="middle" fill="#555" >10<tspan dy="-1" font-size="2">3</tspan></text>
<line x1="70.60" y1="192.00" x2="70.60" y2="192.90" stroke="#777" stroke-width="0.45" />
<text x="70.60" y="196.90" font-size="2.8" font-weight="normal" text-anchor="middle" fill="#555" >10<tspan dy="-1" font-size="2">4</tspan></text>
<line x1="80.60" y1="192.00" x2="80.60" y2="192.90" stroke="#777" stroke-width="0.45" />
<text x="80.60" y="196.90" font-size="2.8" font-weight="normal" text-anchor="middle" fill="#555" >10<tspan dy="-1" font-size="2">5</tspan></text>
<text x="55.60" y="199.80" font-size="2.6" font-weight="normal" text-anchor="middle" fill="#555" >FITC-A</text>
<path d="M29.2 140.3h0.6M29.2 142.5h0.6M29.2 144.6h0.6M29.2 146.8h0.6M29.2 148.9h0.6M29.2 151.1h0.6M29.2 153.2h0.6M29.2 155.4h0.6M29.2 157.5h0.6M29.2 159.7h0.6M29.2 161.8h0.6M29.2 164.0h0.6M29.2 166.2h0.6M29.2 168.3h0.6M29.2 170.5h0.6M29.2 172.6h0.6M29.2 174.8h0.6M29.2 176.9h0.6M29.2 179.1h0.6M29.2 181.2h0.6M29.2 183.4h0.6M29.2 185.5h0.6M29.2 187.7h0.6M29.2 189.8h0.6M29.2 192.0h0.6" stroke="#888" stroke-width="0.35"/>
<path d="M29.8 192.0v0.6M32.0 192.0v0.6M34.1 192.0v0.6M36.2 192.0v0.6M38.4 192.0v0.6M40.6 192.0v0.6M42.7 192.0v0.6M44.9 192.0v0.6M47.0 192.0v0.6M49.2 192.0v0.6M51.3 192.0v0.6M53.5 192.0v0.6M55.6 192.0v0.6M57.8 192.0v0.6M59.9 192.0v0.6M62.1 192.0v0.6M64.2 192.0v0.6M66.4 192.0v0.6M68.5 192.0v0.6M70.7 192.0v0.6M72.8 192.0v0.6M75.0 192.0v0.6M77.1 192.0v0.6M79.3 192.0v0.6M81.4 192.0v0.6" stroke="#888" stroke-width="0.35"/>
<line x1="28.60" y1="191.40" x2="29.80" y2="191.40" stroke="#666" stroke-width="0.45" />
<text x="27.80" y="192.30" font-size="2.8" font-weight="normal" text-anchor="end" fill="#555" >10<tspan dy="-1" font-size="2">0</tspan></text>
<line x1="28.60" y1="181.30" x2="29.80" y2="181.30" stroke="#666" stroke-width="0.45" />
<text x="27.80" y="182.20" font-size="2.8" font-weight="normal" text-anchor="end" fill="#555" >10<tspan dy="-1" font-size="2">1</tspan></text>
<line x1="28.60" y1="171.20" x2="29.80" y2="171.20" stroke="#666" stroke-width="0.45" />
<text x="27.80" y="172.10" font-size="2.8" font-weight="normal" text-anchor="end" fill="#555" >10<tspan dy="-1" font-size="2">2</tspan></text>
<line x1="28.60" y1="161.10" x2="29.80" y2="161.10" stroke="#666" stroke-width="0.45" />
<text x="27.80" y="162.00" font-size="2.8" font-weight="normal" text-anchor="end" fill="#555" >10<tspan dy="-1" font-size="2">3</tspan></text>
<line x1="28.60" y1="151.00" x2="29.80" y2="151.00" stroke="#666" stroke-width="0.45" />
<text x="27.80" y="151.90" font-size="2.8" font-weight="normal" text-anchor="end" fill="#555" >10<tspan dy="-1" font-size="2">4</tspan></text>
<line x1="28.60" y1="140.90" x2="29.80" y2="140.90" stroke="#666" stroke-width="0.45" />
<text x="27.80" y="141.80" font-size="2.8" font-weight="normal" text-anchor="end" fill="#555" >10<tspan dy="-1" font-size="2">5</tspan></text>
<text transform="translate(22.60,166.15) rotate(-90)" font-size="2.6" text-anchor="middle" fill="#555" stroke="#555" stroke-width="0.08">APC-A</text>
<rect x="103.9" y="140.3" width="51.30" height="51.70" fill="#fff" stroke="#a8a8a8" stroke-width="0.5"/>
<g filter="url(#soft)">
<ellipse cx="129.2" cy="167.0" rx="5.0" ry="5.0" fill="#d000f6" fill-opacity="0.95" filter="url(#bl)"/>
<ellipse cx="136.0" cy="168" rx="4.0" ry="4.0" fill="#dd5cff" fill-opacity="0.45" filter="url(#bl)"/>
<path d="M129.0 171.8h0.9M135.2 177.4h0.9M126.8 178.0h0.9M123.1 172.4h0.9M136.7 174.6h0.9M125.6 177.2h0.9M135.8 175.4h0.9M123.2 174.3h0.9M133.5 178.1h0.9M140.1 174.6h0.9M129.3 175.4h0.9M137.1 172.3h0.9M137.6 166.2h0.9M135.2 173.2h0.9M133.7 177.8h0.9M126.1 175.2h0.9M132.7 177.5h0.9M127.3 172.1h0.9M122.7 184.1h0.9M130.7 174.7h0.9M124.7 178.7h0.9M129.1 180.4h0.9M135.5 175.6h0.9M134.9 171.7h0.9M130.1 173.5h0.9M125.7 175.6h0.9M130.9 180.4h0.9M116.1 173.2h0.9M127.3 173.9h0.9M133.5 176.9h0.9M131.7 173.9h0.9M133.8 176.7h0.9M123.1 174.6h0.9M125.2 171.5h0.9M132.2 175.7h0.9M132.1 172.5h0.9M130.6 172.4h0.9M133.3 177.8h0.9M139.6 179.8h0.9M127.8 173.9h0.9M127.2 176.5h0.9M140.7 177.9h0.9M121.4 171.2h0.9M125.6 177.3h0.9M131.6 176.5h0.9M139.7 172.7h0.9M127.7 182.2h0.9M133.1 172.9h0.9M122.2 170.3h0.9M120.3 175.7h0.9M131.8 178.9h0.9M130.9 173.1h0.9M128.1 182.0h0.9M123.4 176.1h0.9M131.7 177.6h0.9M129.7 177.2h0.9M135.3 175.0h0.9M129.4 174.9h0.9M127.1 174.8h0.9M130.2 176.2h0.9M137.7 179.9h0.9M129.5 177.6h0.9M132.9 178.1h0.9M131.6 176.4h0.9M129.4 172.8h0.9M135.6 179.9h0.9M134.6 177.0h0.9M132.8 174.0h0.9M123.3 177.8h0.9M132.5 173.6h0.9M127.1 179.8h0.9M123.3 181.5h0.9M134.5 183.6h0.9M128.2 175.4h0.9M129.2 176.0h0.9M130.6 173.0h0.9M136.5 172.8h0.9M129.2 177.4h0.9M129.1 174.0h0.9M133.2 174.2h0.9M123.7 169.4h0.9M129.3 180.2h0.9M124.5 175.8h0.9M126.2 167.9h0.9M128.8 171.6h0.9M135.3 180.5h0.9M127.0 178.0h0.9M136.0 174.9h0.9M126.4 175.4h0.9M130.0 172.1h0.9M129.1 174.0h0.9M136.7 176.8h0.9M129.4 176.0h0.9M138.5 164.4h0.9M138.6 162.0h0.9M133.5 173.6h0.9M138.7 171.7h0.9M127.9 165.2h0.9M123.7 174.6h0.9M129.2 165.7h0.9M133.5 165.4h0.9M128.1 167.2h0.9M139.6 178.8h0.9M129.7 160.6h0.9M132.1 170.4h0.9M132.5 173.4h0.9M128.8 175.6h0.9M135.2 171.3h0.9M128.3 167.1h0.9M134.4 163.4h0.9M129.7 165.5h0.9M122.9 173.6h0.9M130.4 170.2h0.9M135.4 161.0h0.9M130.2 171.7h0.9M135.1 163.5h0.9M134.5 171.3h0.9M138.0 176.8h0.9M133.6 182.9h0.9M130.5 167.5h0.9M128.7 164.4h0.9M130.4 158.7h0.9M130.1 172.6h0.9M136.0 167.9h0.9M138.2 166.1h0.9M129.8 158.7h0.9M126.4 165.3h0.9M138.6 173.1h0.9M124.6 173.1h0.9M133.1 168.6h0.9M130.7 168.2h0.9M127.6 159.6h0.9M130.1 177.5h0.9M138.2 168.4h0.9M126.5 168.8h0.9M135.4 172.1h0.9M127.4 172.1h0.9M129.4 173.0h0.9M128.4 161.4h0.9M130.9 174.5h0.9M124.6 169.4h0.9M135.3 167.8h0.9M127.1 181.9h0.9M135.0 176.0h0.9M125.5 179.5h0.9M121.7 167.0h0.9M134.5 177.8h0.9M125.6 166.1h0.9M131.6 158.7h0.9M134.0 173.3h0.9" stroke="#eba8ff" stroke-width="0.9" fill="none"/>
<path d="M141.5 173.5h0.9M141.2 170.2h0.9M135.2 166.2h0.9M133.9 168.3h0.9M136.0 170.0h0.9M130.8 174.9h0.9M142.0 167.9h0.9M137.8 169.4h0.9M136.8 167.4h0.9M135.7 165.5h0.9M136.5 167.9h0.9M136.9 165.4h0.9M136.2 168.1h0.9M137.6 164.8h0.9M137.1 170.9h0.9M137.6 166.9h0.9M134.8 167.3h0.9M137.9 172.7h0.9M135.6 166.1h0.9M137.0 168.6h0.9M133.7 165.8h0.9M135.8 170.0h0.9M132.9 164.9h0.9M137.3 164.3h0.9M136.3 169.1h0.9M135.8 164.9h0.9M135.9 167.0h0.9M136.9 165.5h0.9M138.9 163.0h0.9M135.6 168.0h0.9M138.6 166.2h0.9M137.5 166.3h0.9M138.0 173.2h0.9M135.0 169.3h0.9M133.6 170.9h0.9M139.2 168.1h0.9M133.1 169.2h0.9M139.0 171.3h0.9M138.2 162.5h0.9M134.3 172.3h0.9M132.9 171.4h0.9M140.9 170.3h0.9M139.0 167.0h0.9M132.9 167.7h0.9M135.5 167.9h0.9M137.9 167.6h0.9M136.5 169.3h0.9M136.0 173.5h0.9M137.2 168.3h0.9M135.5 166.1h0.9M139.5 168.5h0.9M133.2 166.3h0.9M135.7 166.7h0.9M138.9 164.5h0.9M137.3 168.4h0.9M133.0 168.1h0.9M135.8 169.5h0.9M134.9 168.9h0.9M131.7 164.7h0.9M138.1 171.1h0.9M136.0 166.2h0.9M138.9 161.7h0.9M134.0 170.0h0.9M137.7 164.9h0.9M131.1 172.4h0.9M136.4 165.3h0.9M136.2 170.7h0.9M129.3 171.3h0.9M138.0 161.8h0.9M138.1 162.7h0.9M139.0 169.2h0.9M141.9 166.2h0.9M136.1 171.1h0.9M134.4 165.9h0.9M135.1 167.8h0.9M133.2 169.5h0.9M137.5 168.2h0.9M140.5 167.0h0.9M139.4 166.4h0.9M138.0 162.2h0.9M136.6 167.5h0.9M134.8 166.2h0.9M135.1 165.8h0.9M130.3 166.2h0.9M134.6 166.4h0.9M133.3 167.6h0.9M138.1 167.2h0.9M134.8 172.1h0.9M138.6 170.8h0.9M139.1 167.0h0.9M135.7 171.3h0.9M134.6 167.6h0.9M137.0 169.1h0.9M135.3 171.0h0.9M135.6 170.2h0.9M138.8 170.0h0.9M138.0 164.5h0.9M132.6 166.1h0.9M137.3 172.5h0.9M132.9 168.9h0.9M133.8 165.8h0.9M135.3 170.1h0.9M136.6 171.5h0.9M133.5 170.7h0.9M138.5 168.2h0.9M137.3 166.3h0.9M133.2 166.8h0.9M134.4 176.7h0.9M134.8 173.0h0.9M136.6 168.9h0.9M138.0 165.7h0.9M138.4 169.1h0.9M132.1 169.8h0.9M137.5 169.4h0.9M140.2 166.8h0.9M137.4 170.2h0.9M133.7 171.6h0.9M132.3 164.1h0.9M137.4 164.7h0.9M135.7 163.1h0.9M136.2 164.6h0.9M136.9 163.4h0.9M137.2 167.2h0.9M136.2 167.8h0.9M136.4 164.0h0.9M129.4 168.1h0.9M133.6 166.6h0.9M137.2 162.0h0.9M134.1 166.2h0.9M133.3 169.0h0.9M135.7 165.5h0.9M133.5 170.4h0.9M134.3 169.8h0.9M137.2 162.3h0.9M133.2 168.0h0.9M136.9 170.3h0.9M138.1 171.1h0.9M135.1 167.4h0.9M138.1 166.7h0.9M138.8 163.2h0.9M137.7 167.5h0.9M130.9 170.9h0.9M136.9 168.1h0.9M133.3 166.6h0.9M140.0 165.5h0.9M127.0 165.4h0.9M132.9 167.6h0.9M135.0 165.3h0.9M133.9 171.1h0.9M132.3 173.9h0.9" stroke="#dd5cff" stroke-width="0.9" fill="none"/>
<path d="M126.1 166.5h0.9M129.4 170.0h0.9M131.9 168.7h0.9M127.4 165.0h0.9M125.2 171.0h0.9M130.9 169.8h0.9M125.3 166.3h0.9M132.1 167.9h0.9M124.9 166.6h0.9M133.4 164.0h0.9M125.6 164.7h0.9M131.3 171.0h0.9M125.2 163.0h0.9M126.2 165.0h0.9M129.3 163.1h0.9M127.1 163.4h0.9M124.6 165.7h0.9M131.7 166.2h0.9M125.6 168.6h0.9M124.6 163.6h0.9M127.8 161.6h0.9M127.9 170.4h0.9M131.2 167.0h0.9M130.5 166.6h0.9M125.0 168.2h0.9M128.0 169.8h0.9M133.6 166.2h0.9M129.9 169.9h0.9M128.2 163.9h0.9M131.5 171.4h0.9M132.1 169.3h0.9M133.0 169.1h0.9M130.6 166.5h0.9M127.0 168.5h0.9M124.5 166.1h0.9M132.2 169.5h0.9M130.5 164.1h0.9M128.2 166.5h0.9M130.4 165.9h0.9M131.0 172.0h0.9M125.5 168.8h0.9M132.2 165.7h0.9M128.9 172.5h0.9M123.9 167.5h0.9M125.3 170.3h0.9M134.0 167.2h0.9M124.6 167.9h0.9M129.5 169.5h0.9M129.2 168.6h0.9M132.7 167.3h0.9M128.0 172.2h0.9M125.8 169.1h0.9M127.8 170.0h0.9M127.4 161.9h0.9M126.5 165.8h0.9M123.6 166.1h0.9M128.2 169.3h0.9M127.4 164.3h0.9M126.0 169.8h0.9M134.0 167.3h0.9M125.9 170.5h0.9M127.8 163.7h0.9M124.9 170.2h0.9M132.5 168.6h0.9M128.7 167.7h0.9M127.4 168.6h0.9M132.6 170.7h0.9M128.7 164.6h0.9M129.6 162.7h0.9M132.8 165.3h0.9M133.0 164.3h0.9M127.7 164.1h0.9M128.2 163.4h0.9M126.6 164.0h0.9M126.8 166.8h0.9M128.2 168.6h0.9M130.8 165.4h0.9M133.6 170.3h0.9M125.0 170.8h0.9M130.8 164.1h0.9M126.1 170.2h0.9M127.3 163.0h0.9M133.6 170.4h0.9M130.3 170.3h0.9M130.9 171.6h0.9M132.3 170.9h0.9M125.7 169.2h0.9M129.4 169.8h0.9M128.4 171.4h0.9M129.7 164.3h0.9M126.1 162.8h0.9M129.0 161.9h0.9M128.7 162.9h0.9M129.0 167.0h0.9M129.5 171.2h0.9M128.7 167.7h0.9M130.9 171.0h0.9M127.6 166.1h0.9M130.6 168.6h0.9M123.8 168.3h0.9M131.1 172.0h0.9M129.2 166.8h0.9M131.5 168.5h0.9M127.2 171.2h0.9M127.6 166.7h0.9M129.3 170.1h0.9M125.8 166.2h0.9M128.2 167.6h0.9M132.7 164.6h0.9M132.7 165.9h0.9M129.1 164.4h0.9M129.1 172.5h0.9M130.8 170.4h0.9M127.2 164.9h0.9M126.8 168.0h0.9M130.6 170.3h0.9M133.4 167.5h0.9M124.0 164.7h0.9M133.8 168.3h0.9M130.8 170.4h0.9M133.6 168.3h0.9M130.4 168.5h0.9M131.2 168.1h0.9M131.1 163.7h0.9M130.9 166.5h0.9M132.0 162.4h0.9M132.1 171.8h0.9M130.8 165.5h0.9M132.7 170.3h0.9M129.7 164.2h0.9M126.8 166.1h0.9M127.0 166.2h0.9M130.6 172.0h0.9M124.1 167.8h0.9M132.5 167.9h0.9M133.7 166.4h0.9M123.6 165.7h0.9M130.1 172.1h0.9M134.4 166.7h0.9M128.1 162.4h0.9M130.7 163.7h0.9M131.5 164.0h0.9M131.7 163.4h0.9M131.4 171.1h0.9M131.6 162.2h0.9M130.5 169.4h0.9M128.6 172.0h0.9M126.9 169.7h0.9M125.3 171.2h0.9M128.9 161.9h0.9M127.6 167.9h0.9M128.4 169.1h0.9M125.1 170.4h0.9M127.5 168.7h0.9M130.5 166.0h0.9M127.8 170.3h0.9M129.8 164.6h0.9M131.3 170.8h0.9M127.2 168.2h0.9M130.2 164.8h0.9M128.2 171.5h0.9M127.7 169.1h0.9M130.2 171.6h0.9M132.5 164.5h0.9M128.2 168.0h0.9M132.6 171.5h0.9M132.5 171.3h0.9M129.9 164.4h0.9M133.0 170.6h0.9M131.1 171.8h0.9M127.3 162.2h0.9M129.7 170.4h0.9M125.7 169.9h0.9M130.2 169.1h0.9M128.7 163.6h0.9M126.3 169.9h0.9M132.3 166.5h0.9M132.1 163.9h0.9M129.9 171.6h0.9M133.4 167.3h0.9M128.8 168.0h0.9M125.6 163.4h0.9M125.5 169.3h0.9M127.5 167.7h0.9M128.0 167.2h0.9M124.6 168.5h0.9M132.3 163.0h0.9M130.1 165.2h0.9M129.3 161.4h0.9M133.2 166.8h0.9M129.8 164.2h0.9M132.2 166.1h0.9M125.7 163.3h0.9M129.7 171.3h0.9M128.6 172.2h0.9M130.1 165.8h0.9M126.3 167.7h0.9M130.6 172.3h0.9M131.0 165.8h0.9M128.5 163.1h0.9M126.3 165.3h0.9M132.3 169.4h0.9M131.0 164.7h0.9M130.1 170.0h0.9M124.6 165.0h0.9M126.3 162.6h0.9M128.8 163.2h0.9M126.1 162.9h0.9M131.5 163.5h0.9M125.0 166.4h0.9M132.9 168.5h0.9M128.5 165.1h0.9M132.7 166.7h0.9M130.5 162.9h0.9M131.4 167.6h0.9M126.4 166.0h0.9M125.2 164.3h0.9M132.9 165.1h0.9M125.3 166.9h0.9M127.0 171.7h0.9" stroke="#d000f6" stroke-width="0.9" fill="none"/>
<path d="M148.6 162.6h0.7M140.7 168.2h0.7M144.8 170.8h0.7M142.8 167.2h0.7M143.1 165.8h0.7M137.5 171.7h0.7M144.3 168.6h0.7M142.1 169.0h0.7M143.6 167.7h0.7M146.3 161.4h0.7M144.3 163.9h0.7M142.9 173.8h0.7M141.0 167.6h0.7M142.2 171.6h0.7M141.3 161.5h0.7M144.9 166.6h0.7M142.9 172.2h0.7M141.5 166.6h0.7M144.0 169.6h0.7M142.4 172.0h0.7" stroke="#bfe3bf" stroke-width="0.7" fill="none"/>
<path d="M141.5 171.4h0.7M142.5 170.8h0.7M142.3 173.8h0.7M141.4 170.4h0.7M141.4 172.6h0.7M141.5 171.2h0.7M142.0 170.2h0.7M143.3 169.8h0.7M143.1 172.1h0.7M143.0 169.6h0.7M142.7 171.9h0.7M141.3 170.7h0.7M141.7 169.9h0.7M143.0 168.2h0.7M140.4 165.6h0.7M141.5 168.4h0.7M141.9 171.4h0.7M143.4 170.8h0.7M142.3 168.2h0.7M142.4 173.4h0.7M143.0 165.1h0.7M142.6 174.0h0.7M142.6 166.3h0.7M141.6 171.5h0.7M142.2 168.0h0.7M141.1 172.4h0.7M140.7 173.6h0.7M141.9 170.8h0.7M140.7 168.5h0.7M142.4 166.3h0.7" stroke="#78c07e" stroke-width="0.7" fill="none"/>
</g>
<line x1="122" y1="191.5" x2="140" y2="191.5" stroke="#dd5cff" stroke-width="0.6" stroke-opacity="0.6"/>
<line x1="141.40" y1="140.30" x2="141.40" y2="192.00" stroke="#7a7a7a" stroke-width="0.6" />
<line x1="103.90" y1="172.20" x2="155.20" y2="172.20" stroke="#7a7a7a" stroke-width="0.6" />
<line x1="103.90" y1="140.30" x2="103.90" y2="192.00" stroke="#666" stroke-width="0.9" />
<line x1="103.90" y1="192.00" x2="155.20" y2="192.00" stroke="#999" stroke-width="0.5" />
<text x="106.30" y="149.30" font-size="6.8" font-weight="bold" text-anchor="start" fill="#111" >90</text>
<text x="128.05" y="138.70" font-size="2.7" font-weight="normal" text-anchor="middle" fill="#444" >Q1-R4&amp;R3: P1</text>
<text x="154.60" y="143.70" font-size="2.6" font-weight="normal" text-anchor="end" fill="#444" >Q4-UR(2.83%)</text>
<text x="104.90" y="190.50" font-size="2.6" font-weight="normal" text-anchor="start" fill="#444" >Q4-LL(8.93%)</text>
<text x="154.60" y="190.50" font-size="2.6" font-weight="normal" text-anchor="end" fill="#444" >Q4-LR(1.22%)</text>
<line x1="104.70" y1="192.00" x2="104.70" y2="192.90" stroke="#777" stroke-width="0.45" />
<text x="104.70" y="196.90" font-size="2.8" font-weight="normal" text-anchor="middle" fill="#555" >10<tspan dy="-1" font-size="2">0</tspan></text>
<line x1="114.64" y1="192.00" x2="114.64" y2="192.90" stroke="#777" stroke-width="0.45" />
<text x="114.64" y="196.90" font-size="2.8" font-weight="normal" text-anchor="middle" fill="#555" >10<tspan dy="-1" font-size="2">1</tspan></text>
<line x1="124.58" y1="192.00" x2="124.58" y2="192.90" stroke="#777" stroke-width="0.45" />
<text x="124.58" y="196.90" font-size="2.8" font-weight="normal" text-anchor="middle" fill="#555" >10<tspan dy="-1" font-size="2">2</tspan></text>
<line x1="134.52" y1="192.00" x2="134.52" y2="192.90" stroke="#777" stroke-width="0.45" />
<text x="134.52" y="196.90" font-size="2.8" font-weight="normal" text-anchor="middle" fill="#555" >10<tspan dy="-1" font-size="2">3</tspan></text>
<line x1="144.46" y1="192.00" x2="144.46" y2="192.90" stroke="#777" stroke-width="0.45" />
<text x="144.46" y="196.90" font-size="2.8" font-weight="normal" text-anchor="middle" fill="#555" >10<tspan dy="-1" font-size="2">4</tspan></text>
<line x1="154.40" y1="192.00" x2="154.40" y2="192.90" stroke="#777" stroke-width="0.45" />
<text x="154.40" y="196.90" font-size="2.8" font-weight="normal" text-anchor="middle" fill="#555" >10<tspan dy="-1" font-size="2">5</tspan></text>
<text x="129.55" y="199.80" font-size="2.6" font-weight="normal" text-anchor="middle" fill="#555" >FITC-A</text>
<path d="M103.3 140.3h0.6M103.3 142.5h0.6M103.3 144.6h0.6M103.3 146.8h0.6M103.3 148.9h0.6M103.3 151.1h0.6M103.3 153.2h0.6M103.3 155.4h0.6M103.3 157.5h0.6M103.3 159.7h0.6M103.3 161.8h0.6M103.3 164.0h0.6M103.3 166.2h0.6M103.3 168.3h0.6M103.3 170.5h0.6M103.3 172.6h0.6M103.3 174.8h0.6M103.3 176.9h0.6M103.3 179.1h0.6M103.3 181.2h0.6M103.3 183.4h0.6M103.3 185.5h0.6M103.3 187.7h0.6M103.3 189.8h0.6M103.3 192.0h0.6" stroke="#888" stroke-width="0.35"/>
<path d="M103.9 192.0v0.6M106.0 192.0v0.6M108.2 192.0v0.6M110.3 192.0v0.6M112.5 192.0v0.6M114.6 192.0v0.6M116.7 192.0v0.6M118.9 192.0v0.6M121.0 192.0v0.6M123.1 192.0v0.6M125.3 192.0v0.6M127.4 192.0v0.6M129.6 192.0v0.6M131.7 192.0v0.6M133.8 192.0v0.6M136.0 192.0v0.6M138.1 192.0v0.6M140.2 192.0v0.6M142.4 192.0v0.6M144.5 192.0v0.6M146.6 192.0v0.6M148.8 192.0v0.6M150.9 192.0v0.6M153.1 192.0v0.6M155.2 192.0v0.6" stroke="#888" stroke-width="0.35"/>
<line x1="102.70" y1="191.40" x2="103.90" y2="191.40" stroke="#666" stroke-width="0.45" />
<text x="101.90" y="192.30" font-size="2.8" font-weight="normal" text-anchor="end" fill="#555" >10<tspan dy="-1" font-size="2">0</tspan></text>
<line x1="102.70" y1="181.30" x2="103.90" y2="181.30" stroke="#666" stroke-width="0.45" />
<text x="101.90" y="182.20" font-size="2.8" font-weight="normal" text-anchor="end" fill="#555" >10<tspan dy="-1" font-size="2">1</tspan></text>
<line x1="102.70" y1="171.20" x2="103.90" y2="171.20" stroke="#666" stroke-width="0.45" />
<text x="101.90" y="172.10" font-size="2.8" font-weight="normal" text-anchor="end" fill="#555" >10<tspan dy="-1" font-size="2">2</tspan></text>
<line x1="102.70" y1="161.10" x2="103.90" y2="161.10" stroke="#666" stroke-width="0.45" />
<text x="101.90" y="162.00" font-size="2.8" font-weight="normal" text-anchor="end" fill="#555" >10<tspan dy="-1" font-size="2">3</tspan></text>
<line x1="102.70" y1="151.00" x2="103.90" y2="151.00" stroke="#666" stroke-width="0.45" />
<text x="101.90" y="151.90" font-size="2.8" font-weight="normal" text-anchor="end" fill="#555" >10<tspan dy="-1" font-size="2">4</tspan></text>
<line x1="102.70" y1="140.90" x2="103.90" y2="140.90" stroke="#666" stroke-width="0.45" />
<text x="101.90" y="141.80" font-size="2.8" font-weight="normal" text-anchor="end" fill="#555" >10<tspan dy="-1" font-size="2">5</tspan></text>
<text transform="translate(96.70,166.15) rotate(-90)" font-size="2.6" text-anchor="middle" fill="#555" stroke="#555" stroke-width="0.08">APC-A</text>
<rect x="29.8" y="205.0" width="51.60" height="52.00" fill="#fff" stroke="#a8a8a8" stroke-width="0.5"/>
<g filter="url(#soft)">
<ellipse cx="53.6" cy="236.0" rx="2.8" ry="11" fill="#d000f6" fill-opacity="0.3" filter="url(#bl)"/>
<path d="M61.1 254.8h0.9M60.7 246.3h0.9M64.5 247.1h0.9M66.1 214.5h0.9M67.3 233.4h0.9M48.8 224.7h0.9M50.6 232.7h0.9M50.1 220.0h0.9M59.0 235.0h0.9M53.6 230.0h0.9M57.1 234.0h0.9M57.5 230.1h0.9M61.9 212.2h0.9M55.1 234.7h0.9M55.5 225.8h0.9M55.4 235.7h0.9M63.8 230.6h0.9M56.2 237.6h0.9M56.3 207.9h0.9M58.9 228.1h0.9M54.7 241.2h0.9M57.8 225.7h0.9M46.7 210.7h0.9M57.6 231.5h0.9M59.7 235.9h0.9M55.2 216.6h0.9M52.1 231.2h0.9M51.8 242.8h0.9M50.9 209.7h0.9M56.6 209.9h0.9M65.7 220.1h0.9M57.3 229.8h0.9M53.5 210.0h0.9M48.2 244.2h0.9M50.2 240.3h0.9M57.5 244.0h0.9M55.0 242.4h0.9M62.0 240.9h0.9M64.8 230.7h0.9M65.3 223.9h0.9M57.6 222.6h0.9M57.6 246.4h0.9M61.1 234.2h0.9M66.1 213.8h0.9M53.5 252.6h0.9M59.2 206.0h0.9M59.3 217.6h0.9M64.9 247.9h0.9M54.8 249.8h0.9M53.4 245.0h0.9M60.4 231.3h0.9M50.4 229.4h0.9M46.1 225.7h0.9M48.3 248.8h0.9M60.5 237.8h0.9M61.4 233.9h0.9M59.9 245.5h0.9M54.6 214.6h0.9M57.3 211.3h0.9M57.6 243.0h0.9M65.1 236.4h0.9M58.5 242.7h0.9M64.5 228.8h0.9M51.4 222.7h0.9M51.3 221.4h0.9M56.9 237.5h0.9M58.3 233.9h0.9M55.8 238.5h0.9M62.0 242.9h0.9M65.0 229.2h0.9M56.3 255.0h0.9M58.6 238.4h0.9M55.9 245.6h0.9M55.5 219.9h0.9M57.2 227.3h0.9M61.7 228.1h0.9M58.2 230.2h0.9M59.3 224.8h0.9M63.1 214.5h0.9M55.6 223.8h0.9M60.8 233.5h0.9M60.0 228.7h0.9M54.0 218.4h0.9M55.9 226.0h0.9M59.0 237.6h0.9M62.4 231.6h0.9M53.8 219.2h0.9M57.9 237.7h0.9M67.3 235.4h0.9M52.3 248.7h0.9M63.2 250.5h0.9M57.5 245.4h0.9M55.1 232.1h0.9M57.6 256.2h0.9M56.5 245.4h0.9M57.9 223.8h0.9M58.8 241.6h0.9M54.0 241.2h0.9M54.0 221.6h0.9M58.7 229.9h0.9M52.6 211.8h0.9M57.7 236.2h0.9M55.3 235.4h0.9M49.9 238.1h0.9M59.6 236.6h0.9M54.5 234.0h0.9M58.2 246.9h0.9M58.9 236.3h0.9M53.9 244.2h0.9M63.4 226.6h0.9M60.7 237.0h0.9M57.3 216.3h0.9M66.3 208.8h0.9M59.1 228.1h0.9" stroke="#eba8ff" stroke-width="0.9" fill="none"/>
<path d="M62.0 237.7h0.9M63.2 221.6h0.9M61.0 229.0h0.9M59.8 238.1h0.9M56.7 232.8h0.9M56.2 237.6h0.9M57.1 230.2h0.9M60.2 228.7h0.9M62.9 228.8h0.9M62.0 237.7h0.9M56.5 232.9h0.9M57.1 231.5h0.9M58.8 252.6h0.9M58.3 250.2h0.9M60.9 222.3h0.9M52.8 241.6h0.9M53.8 242.0h0.9M62.5 238.8h0.9M58.9 232.6h0.9M60.3 232.1h0.9M58.0 231.4h0.9M63.0 229.0h0.9M60.7 223.8h0.9M57.5 221.7h0.9M59.0 241.6h0.9M60.4 230.2h0.9M61.3 231.6h0.9M60.6 237.6h0.9M61.1 211.0h0.9M55.8 242.5h0.9M58.9 229.7h0.9M63.9 240.4h0.9M65.1 239.9h0.9M59.0 242.0h0.9M57.3 230.7h0.9M57.9 232.9h0.9M61.8 230.3h0.9M60.5 230.2h0.9M62.1 208.3h0.9M58.9 236.6h0.9M56.4 244.8h0.9M60.2 247.4h0.9M62.3 241.2h0.9M59.1 224.5h0.9M58.9 230.6h0.9M60.3 230.5h0.9M68.4 219.6h0.9M63.0 230.5h0.9M58.8 243.9h0.9M59.6 223.3h0.9M60.7 233.1h0.9M53.6 236.9h0.9M56.5 227.8h0.9M60.9 237.9h0.9M58.7 256.0h0.9M60.8 229.1h0.9M60.2 233.8h0.9M53.2 219.8h0.9M55.5 254.9h0.9M59.0 232.3h0.9M57.9 244.5h0.9M59.6 251.5h0.9M61.8 250.9h0.9M59.2 238.6h0.9M58.3 233.4h0.9M54.5 229.4h0.9M56.8 228.7h0.9M63.1 237.5h0.9M63.1 243.3h0.9M62.2 244.7h0.9M57.8 242.7h0.9M58.6 229.9h0.9M63.0 255.9h0.9M56.7 251.7h0.9M62.0 226.8h0.9M60.3 238.6h0.9M60.6 231.6h0.9M55.8 235.3h0.9M62.0 242.6h0.9M61.5 245.6h0.9M56.7 234.6h0.9M60.5 244.6h0.9M60.0 240.0h0.9M59.9 255.2h0.9M53.2 234.8h0.9M66.7 237.3h0.9M54.3 236.3h0.9M55.4 228.5h0.9M60.2 251.5h0.9M60.9 241.4h0.9M62.5 236.9h0.9M57.1 234.1h0.9M60.5 232.3h0.9M57.6 231.5h0.9M55.2 225.1h0.9M59.3 231.5h0.9M59.7 248.5h0.9M60.4 234.7h0.9M56.2 224.6h0.9M60.6 226.6h0.9M60.8 224.7h0.9M59.9 234.3h0.9M62.4 231.2h0.9M58.5 237.4h0.9M59.7 251.3h0.9M58.8 229.8h0.9M58.6 239.6h0.9M60.2 241.7h0.9M64.9 234.7h0.9M56.1 236.5h0.9M60.7 213.5h0.9M59.6 220.8h0.9M60.9 248.3h0.9M62.5 220.5h0.9M63.5 243.7h0.9M58.5 239.8h0.9M63.9 231.8h0.9M59.5 229.6h0.9M62.9 214.3h0.9M63.6 225.7h0.9M62.2 219.4h0.9M56.8 229.2h0.9M61.9 219.4h0.9M61.3 228.9h0.9M63.1 232.0h0.9M61.0 233.3h0.9M64.7 231.5h0.9M59.5 254.1h0.9M59.8 241.6h0.9M57.4 236.9h0.9M53.0 236.0h0.9M57.7 220.5h0.9M55.5 246.0h0.9M60.8 220.4h0.9M64.8 228.3h0.9M58.5 237.4h0.9M56.3 219.4h0.9M57.4 246.4h0.9M62.3 219.8h0.9M63.0 235.3h0.9M61.0 235.5h0.9M60.7 225.4h0.9M56.9 228.2h0.9M58.5 241.0h0.9M56.0 250.3h0.9M57.7 229.3h0.9M61.6 239.2h0.9M58.6 224.7h0.9M56.7 219.6h0.9M62.9 245.4h0.9M64.9 239.8h0.9M60.5 242.3h0.9M62.3 232.5h0.9M60.6 255.7h0.9M54.7 221.5h0.9M56.8 242.3h0.9M63.0 231.7h0.9M61.5 234.5h0.9M60.4 229.8h0.9M59.5 235.0h0.9M54.3 240.1h0.9M59.5 244.3h0.9M62.6 242.5h0.9M61.9 225.9h0.9M54.6 251.1h0.9M63.0 225.8h0.9M63.3 241.4h0.9M52.5 243.7h0.9M56.7 246.2h0.9M57.6 227.8h0.9M55.1 232.9h0.9M62.5 228.5h0.9M54.2 255.7h0.9M64.9 241.6h0.9M58.0 223.3h0.9M54.8 240.4h0.9M63.3 224.8h0.9M59.5 232.3h0.9M58.8 239.8h0.9M65.6 228.9h0.9M62.0 245.5h0.9M58.7 233.6h0.9M55.7 245.4h0.9M58.0 228.7h0.9M59.7 226.7h0.9M56.5 232.1h0.9M63.8 233.0h0.9M61.1 220.9h0.9M53.9 252.5h0.9M58.4 220.2h0.9M59.2 240.9h0.9M54.6 226.5h0.9M60.3 226.1h0.9M61.9 244.3h0.9M60.8 230.9h0.9M59.4 228.9h0.9M59.2 238.1h0.9M53.2 230.6h0.9M61.6 220.3h0.9M55.0 229.6h0.9M55.9 222.4h0.9M52.7 230.8h0.9M55.9 227.4h0.9M51.7 228.3h0.9M56.4 222.7h0.9M55.9 238.7h0.9M48.6 228.1h0.9M50.7 214.8h0.9M53.4 227.7h0.9M54.2 216.1h0.9M49.9 220.2h0.9M54.1 218.4h0.9M49.7 235.9h0.9M51.6 222.9h0.9M52.5 220.0h0.9M54.2 222.0h0.9M55.8 216.0h0.9M49.7 237.2h0.9M53.8 229.2h0.9M57.5 227.8h0.9M54.2 213.5h0.9M49.4 230.6h0.9M56.0 227.9h0.9M49.2 209.5h0.9M51.0 216.0h0.9M54.5 217.1h0.9M58.6 219.8h0.9M52.4 229.9h0.9M55.0 217.9h0.9M56.4 237.0h0.9M50.5 222.3h0.9M50.9 210.8h0.9M55.9 228.7h0.9M56.9 226.9h0.9M48.2 223.8h0.9M52.1 216.0h0.9M50.8 229.2h0.9M53.2 237.4h0.9M55.4 211.0h0.9M56.7 232.5h0.9M54.1 215.8h0.9M59.2 215.1h0.9M53.8 211.0h0.9M50.4 212.4h0.9M57.2 232.0h0.9M52.9 214.8h0.9M53.9 226.6h0.9M49.6 216.1h0.9M53.8 228.8h0.9M54.3 227.1h0.9M50.4 207.0h0.9M55.0 217.7h0.9M53.7 221.4h0.9M55.5 218.7h0.9M58.3 224.2h0.9M55.6 228.3h0.9M57.1 226.8h0.9M48.9 219.7h0.9M59.5 227.2h0.9M55.7 227.2h0.9M52.2 219.4h0.9M52.2 231.9h0.9M55.1 236.2h0.9M55.5 236.9h0.9M55.4 215.9h0.9M59.2 226.3h0.9M57.5 225.5h0.9M53.1 225.2h0.9M50.8 215.8h0.9M51.4 220.4h0.9M50.1 223.3h0.9M54.9 237.9h0.9M59.5 223.7h0.9M56.7 222.5h0.9M55.2 223.8h0.9M52.5 224.5h0.9M49.7 227.0h0.9M53.2 216.6h0.9M53.0 227.8h0.9M52.0 227.3h0.9M55.7 234.7h0.9M50.8 223.2h0.9M55.6 234.3h0.9M54.8 229.2h0.9M49.7 220.0h0.9M59.0 222.0h0.9M60.4 219.0h0.9M53.2 213.0h0.9M55.9 225.8h0.9M60.0 225.1h0.9M53.3 214.3h0.9M53.8 230.5h0.9M56.2 232.5h0.9M56.6 223.7h0.9M55.8 225.2h0.9M50.1 235.8h0.9M55.2 216.7h0.9M55.2 226.0h0.9M57.0 234.0h0.9M45.0 227.8h0.9M58.6 217.4h0.9M48.5 225.9h0.9M55.0 226.4h0.9M50.8 220.8h0.9M54.6 229.2h0.9M60.6 226.0h0.9M52.3 207.6h0.9M57.2 223.1h0.9M53.7 217.1h0.9M56.2 211.6h0.9M54.4 224.8h0.9M54.9 233.1h0.9M53.8 224.7h0.9M56.6 213.2h0.9M53.2 224.5h0.9M56.9 218.4h0.9M56.4 226.7h0.9M49.6 213.7h0.9M49.8 225.0h0.9M54.7 229.0h0.9M56.5 220.2h0.9M57.2 229.7h0.9M55.5 227.3h0.9M50.2 226.5h0.9M51.0 215.7h0.9M53.0 225.0h0.9M53.9 221.7h0.9M51.1 225.3h0.9M51.8 214.2h0.9M54.3 234.1h0.9M52.8 216.6h0.9M58.2 235.9h0.9M53.2 222.5h0.9M54.7 244.5h0.9M54.4 230.9h0.9M55.4 211.3h0.9M50.8 215.4h0.9M55.3 224.7h0.9M59.4 222.1h0.9M55.0 224.5h0.9M54.5 240.1h0.9M54.9 234.3h0.9M57.9 219.8h0.9M56.1 221.3h0.9M54.4 225.1h0.9M54.1 220.7h0.9M58.7 222.2h0.9" stroke="#dd5cff" stroke-width="0.9" fill="none"/>
<path d="M58.5 233.3h0.9M57.6 217.8h0.9M56.5 233.9h0.9M53.3 233.9h0.9M51.4 225.3h0.9M52.0 248.8h0.9M55.8 233.8h0.9M51.6 230.6h0.9M50.0 253.5h0.9M54.6 238.1h0.9M51.7 227.7h0.9M56.2 244.1h0.9M50.6 246.0h0.9M50.2 242.9h0.9M50.6 233.2h0.9M54.2 240.9h0.9M55.5 229.4h0.9M56.9 249.3h0.9M52.9 241.2h0.9M51.0 235.6h0.9M49.7 237.8h0.9M53.4 249.3h0.9M55.3 244.4h0.9M52.0 235.0h0.9M52.1 239.0h0.9M48.1 244.0h0.9M49.0 232.3h0.9M53.0 232.3h0.9M57.1 236.1h0.9M56.9 247.7h0.9M51.7 240.7h0.9M56.2 234.0h0.9M53.2 231.9h0.9M53.1 233.8h0.9M53.2 246.1h0.9M56.4 238.2h0.9M53.5 244.8h0.9M52.2 227.3h0.9M55.7 228.5h0.9M55.3 228.2h0.9M57.5 227.5h0.9M55.1 250.7h0.9M50.6 250.5h0.9M50.9 220.9h0.9M54.8 243.4h0.9M52.4 214.0h0.9M52.8 234.2h0.9M52.0 234.4h0.9M48.5 231.8h0.9M57.4 251.1h0.9M52.0 230.5h0.9M53.9 246.7h0.9M54.8 226.3h0.9M53.4 238.3h0.9M56.5 247.9h0.9M54.3 248.1h0.9M52.0 251.0h0.9M51.9 240.6h0.9M55.2 228.7h0.9M51.2 221.0h0.9M53.4 236.5h0.9M52.1 241.5h0.9M47.7 236.8h0.9M53.2 234.6h0.9M54.9 253.0h0.9M51.8 228.4h0.9M51.4 237.8h0.9M54.4 229.1h0.9M55.4 227.7h0.9M55.0 240.9h0.9M52.3 235.5h0.9M54.1 244.9h0.9M49.6 239.5h0.9M51.1 242.7h0.9M56.4 237.5h0.9M52.7 238.7h0.9M45.6 244.0h0.9M54.4 238.5h0.9M52.0 230.3h0.9M52.5 248.1h0.9M52.7 249.3h0.9M46.5 232.8h0.9M53.6 236.9h0.9M48.8 230.9h0.9M56.1 225.2h0.9M50.5 227.0h0.9M51.6 242.9h0.9M54.4 218.5h0.9M56.6 231.6h0.9M51.5 252.2h0.9M52.7 225.7h0.9M51.4 230.4h0.9M50.4 234.0h0.9M55.1 240.2h0.9M50.5 238.1h0.9M53.0 243.9h0.9M52.1 241.2h0.9M58.2 237.9h0.9M50.2 240.0h0.9M50.9 233.6h0.9M53.4 240.1h0.9M52.2 244.7h0.9M52.5 225.1h0.9M55.1 233.7h0.9M56.0 231.0h0.9M54.4 239.9h0.9M46.2 223.4h0.9M50.2 249.8h0.9M48.2 245.3h0.9M55.7 241.5h0.9M54.6 232.5h0.9M52.9 239.1h0.9M54.0 243.4h0.9M52.4 230.6h0.9M51.5 240.7h0.9M48.8 225.6h0.9M51.9 232.0h0.9M52.3 212.7h0.9M52.1 234.7h0.9M54.9 218.9h0.9M52.2 241.3h0.9M54.2 247.9h0.9M55.6 227.4h0.9M54.5 233.9h0.9M50.9 251.0h0.9M51.4 229.2h0.9M51.9 229.2h0.9M55.5 240.5h0.9M56.5 240.8h0.9M51.4 246.6h0.9M51.3 232.8h0.9M52.5 237.4h0.9M55.9 231.5h0.9M53.8 236.7h0.9M49.8 227.0h0.9M52.4 240.7h0.9M53.8 241.4h0.9M53.1 232.9h0.9M54.0 227.8h0.9M49.6 234.0h0.9M49.4 232.3h0.9M51.1 231.9h0.9M52.8 229.7h0.9M51.9 221.3h0.9M53.3 228.9h0.9M54.0 211.1h0.9M50.9 239.2h0.9M46.8 233.7h0.9M53.2 237.9h0.9M49.2 239.1h0.9M53.3 228.1h0.9M54.8 236.6h0.9M53.0 232.9h0.9M54.3 237.9h0.9M55.8 241.1h0.9M51.4 235.0h0.9M55.3 233.7h0.9M53.9 241.8h0.9M52.5 215.6h0.9M53.3 239.0h0.9M53.3 230.0h0.9M56.0 235.8h0.9M51.4 230.4h0.9M53.9 227.0h0.9M50.4 255.4h0.9M56.2 246.7h0.9M56.4 242.5h0.9M48.7 248.0h0.9M56.1 241.5h0.9M48.0 248.4h0.9M56.4 232.5h0.9M53.3 244.1h0.9M52.7 247.1h0.9M53.2 243.4h0.9M53.2 223.4h0.9M53.7 249.1h0.9M55.8 252.8h0.9M54.3 231.5h0.9M53.0 219.3h0.9M52.5 245.3h0.9M47.5 238.8h0.9M55.0 249.2h0.9M50.6 231.0h0.9M48.2 227.6h0.9M54.3 256.1h0.9M50.1 249.7h0.9M54.0 232.4h0.9M58.5 213.7h0.9M52.8 239.0h0.9M58.3 253.6h0.9M58.7 238.2h0.9M55.4 249.6h0.9M54.2 240.3h0.9M52.5 233.2h0.9M49.8 255.0h0.9M51.8 217.8h0.9M53.6 236.7h0.9M53.4 253.8h0.9M52.7 234.5h0.9M51.1 236.8h0.9M51.8 238.9h0.9M60.8 240.6h0.9M50.8 254.8h0.9M55.1 244.5h0.9M54.8 244.6h0.9M54.7 250.0h0.9M55.5 249.5h0.9M51.7 237.0h0.9M51.1 245.9h0.9M55.1 232.7h0.9M56.1 226.7h0.9M52.7 242.9h0.9M52.9 240.6h0.9M55.9 240.0h0.9M50.2 243.6h0.9M52.7 238.1h0.9M51.5 224.2h0.9M49.8 233.7h0.9M50.2 211.9h0.9M55.9 226.3h0.9M51.1 241.9h0.9M46.8 249.4h0.9M51.0 243.1h0.9M51.7 239.8h0.9M53.2 237.0h0.9M48.3 223.4h0.9M52.8 250.0h0.9M51.6 241.9h0.9M53.4 241.5h0.9M55.5 223.1h0.9M53.6 235.4h0.9M52.2 229.1h0.9M51.0 227.5h0.9M57.3 237.1h0.9M54.8 228.0h0.9M45.9 220.1h0.9M53.3 250.3h0.9M52.8 227.7h0.9M52.3 227.8h0.9M49.4 234.9h0.9M51.9 229.5h0.9M50.7 228.4h0.9M53.5 249.9h0.9M48.9 239.5h0.9M50.0 235.5h0.9M53.2 242.2h0.9M55.8 231.9h0.9M49.8 235.3h0.9M53.7 230.5h0.9M55.2 252.6h0.9M49.3 240.4h0.9M55.5 219.2h0.9M53.5 234.9h0.9M49.3 249.2h0.9M53.5 232.6h0.9M54.1 243.0h0.9M54.9 242.4h0.9M54.0 226.1h0.9M51.9 238.2h0.9M52.0 227.2h0.9M48.3 239.3h0.9M53.0 231.6h0.9M51.9 228.8h0.9M51.1 236.1h0.9M51.3 243.3h0.9M52.6 238.2h0.9M54.0 248.8h0.9M54.5 239.1h0.9M52.5 229.5h0.9M52.1 243.3h0.9M53.5 233.4h0.9M49.6 222.8h0.9M53.8 246.5h0.9M53.9 224.3h0.9M52.4 239.1h0.9M50.6 240.2h0.9M52.4 229.3h0.9M49.8 244.5h0.9M53.9 228.8h0.9M50.4 245.2h0.9M54.5 234.2h0.9M57.0 234.3h0.9M50.3 247.1h0.9M52.5 240.2h0.9M53.0 227.7h0.9M49.9 235.2h0.9M56.5 227.7h0.9M56.4 239.0h0.9M50.1 239.5h0.9M54.4 228.7h0.9M47.6 240.3h0.9M50.1 241.1h0.9M48.1 235.7h0.9M50.9 223.3h0.9M52.3 238.6h0.9M51.5 226.1h0.9M53.5 220.8h0.9M54.3 241.5h0.9M57.2 245.2h0.9M53.8 239.4h0.9M53.0 224.8h0.9M56.6 241.9h0.9M52.2 226.4h0.9M56.7 241.9h0.9M50.0 243.2h0.9M57.7 236.8h0.9M54.0 233.2h0.9M51.4 246.9h0.9M60.7 238.1h0.9M52.6 244.3h0.9M52.2 243.7h0.9M55.0 227.6h0.9M50.2 236.3h0.9" stroke="#d000f6" stroke-width="0.9" fill="none"/>
<path d="M67.2 243.0h0.6M74.6 237.5h0.6M69.9 245.1h0.6M64.8 234.6h0.6M63.5 237.2h0.6M68.7 232.1h0.6M70.4 231.4h0.6M71.9 236.0h0.6M70.5 256.2h0.6M68.8 243.4h0.6M68.1 245.9h0.6M71.6 237.1h0.6M71.7 248.8h0.6M72.4 236.0h0.6M69.6 244.8h0.6M66.8 231.2h0.6" stroke="#bfe3bf" stroke-width="0.6" fill="none"/>
<path d="M69.4 239.1h0.6M68.5 243.7h0.6M68.9 238.7h0.6M69.0 242.8h0.6M69.3 238.7h0.6M68.5 239.2h0.6M67.8 242.1h0.6M68.8 247.4h0.6M68.2 242.7h0.6M69.4 240.5h0.6M68.6 241.6h0.6M67.9 236.6h0.6M69.4 241.8h0.6M68.4 235.4h0.6M68.6 246.3h0.6M67.6 237.0h0.6M69.4 247.4h0.6M69.7 238.5h0.6M69.0 237.6h0.6M68.9 239.4h0.6M68.7 247.0h0.6M68.8 239.9h0.6M68.5 242.2h0.6M68.1 241.9h0.6M69.0 248.0h0.6M66.9 235.7h0.6" stroke="#78c07e" stroke-width="0.6" fill="none"/>
</g>
<line x1="48" y1="256.5" x2="66" y2="256.5" stroke="#dd5cff" stroke-width="0.6" stroke-opacity="0.6"/>
<line x1="68.00" y1="205.00" x2="68.00" y2="257.00" stroke="#7a7a7a" stroke-width="0.6" />
<line x1="29.80" y1="237.40" x2="81.40" y2="237.40" stroke="#7a7a7a" stroke-width="0.6" />
<line x1="29.80" y1="205.00" x2="29.80" y2="257.00" stroke="#666" stroke-width="0.9" />
<line x1="29.80" y1="257.00" x2="81.40" y2="257.00" stroke="#999" stroke-width="0.5" />
<text x="32.20" y="214.00" font-size="6.8" font-weight="bold" text-anchor="start" fill="#111" >46</text>
<text x="54.10" y="203.40" font-size="2.7" font-weight="normal" text-anchor="middle" fill="#444" >Q1-R4&amp;R3: P1</text>
<text x="80.80" y="208.40" font-size="2.6" font-weight="normal" text-anchor="end" fill="#444" >Q4-UR(2.83%)</text>
<text x="30.80" y="255.50" font-size="2.6" font-weight="normal" text-anchor="start" fill="#444" >Q4-LL(8.93%)</text>
<text x="80.80" y="255.50" font-size="2.6" font-weight="normal" text-anchor="end" fill="#444" >Q4-LR(1.22%)</text>
<line x1="30.60" y1="257.00" x2="30.60" y2="257.90" stroke="#777" stroke-width="0.45" />
<text x="30.60" y="261.90" font-size="2.8" font-weight="normal" text-anchor="middle" fill="#555" >10<tspan dy="-1" font-size="2">0</tspan></text>
<line x1="40.60" y1="257.00" x2="40.60" y2="257.90" stroke="#777" stroke-width="0.45" />
<text x="40.60" y="261.90" font-size="2.8" font-weight="normal" text-anchor="middle" fill="#555" >10<tspan dy="-1" font-size="2">1</tspan></text>
<line x1="50.60" y1="257.00" x2="50.60" y2="257.90" stroke="#777" stroke-width="0.45" />
<text x="50.60" y="261.90" font-size="2.8" font-weight="normal" text-anchor="middle" fill="#555" >10<tspan dy="-1" font-size="2">2</tspan></text>
<line x1="60.60" y1="257.00" x2="60.60" y2="257.90" stroke="#777" stroke-width="0.45" />
<text x="60.60" y="261.90" font-size="2.8" font-weight="normal" text-anchor="middle" fill="#555" >10<tspan dy="-1" font-size="2">3</tspan></text>
<line x1="70.60" y1="257.00" x2="70.60" y2="257.90" stroke="#777" stroke-width="0.45" />
<text x="70.60" y="261.90" font-size="2.8" font-weight="normal" text-anchor="middle" fill="#555" >10<tspan dy="-1" font-size="2">4</tspan></text>
<line x1="80.60" y1="257.00" x2="80.60" y2="257.90" stroke="#777" stroke-width="0.45" />
<text x="80.60" y="261.90" font-size="2.8" font-weight="normal" text-anchor="middle" fill="#555" >10<tspan dy="-1" font-size="2">5</tspan></text>
<text x="55.60" y="264.80" font-size="2.6" font-weight="normal" text-anchor="middle" fill="#555" >FITC-A</text>
<path d="M29.2 205.0h0.6M29.2 207.2h0.6M29.2 209.3h0.6M29.2 211.5h0.6M29.2 213.7h0.6M29.2 215.8h0.6M29.2 218.0h0.6M29.2 220.2h0.6M29.2 222.3h0.6M29.2 224.5h0.6M29.2 226.7h0.6M29.2 228.8h0.6M29.2 231.0h0.6M29.2 233.2h0.6M29.2 235.3h0.6M29.2 237.5h0.6M29.2 239.7h0.6M29.2 241.8h0.6M29.2 244.0h0.6M29.2 246.2h0.6M29.2 248.3h0.6M29.2 250.5h0.6M29.2 252.7h0.6M29.2 254.8h0.6M29.2 257.0h0.6" stroke="#888" stroke-width="0.35"/>
<path d="M29.8 257.0v0.6M32.0 257.0v0.6M34.1 257.0v0.6M36.2 257.0v0.6M38.4 257.0v0.6M40.6 257.0v0.6M42.7 257.0v0.6M44.9 257.0v0.6M47.0 257.0v0.6M49.2 257.0v0.6M51.3 257.0v0.6M53.5 257.0v0.6M55.6 257.0v0.6M57.8 257.0v0.6M59.9 257.0v0.6M62.1 257.0v0.6M64.2 257.0v0.6M66.4 257.0v0.6M68.5 257.0v0.6M70.7 257.0v0.6M72.8 257.0v0.6M75.0 257.0v0.6M77.1 257.0v0.6M79.3 257.0v0.6M81.4 257.0v0.6" stroke="#888" stroke-width="0.35"/>
<line x1="28.60" y1="256.40" x2="29.80" y2="256.40" stroke="#666" stroke-width="0.45" />
<text x="27.80" y="257.30" font-size="2.8" font-weight="normal" text-anchor="end" fill="#555" >10<tspan dy="-1" font-size="2">0</tspan></text>
<line x1="28.60" y1="246.24" x2="29.80" y2="246.24" stroke="#666" stroke-width="0.45" />
<text x="27.80" y="247.14" font-size="2.8" font-weight="normal" text-anchor="end" fill="#555" >10<tspan dy="-1" font-size="2">1</tspan></text>
<line x1="28.60" y1="236.08" x2="29.80" y2="236.08" stroke="#666" stroke-width="0.45" />
<text x="27.80" y="236.98" font-size="2.8" font-weight="normal" text-anchor="end" fill="#555" >10<tspan dy="-1" font-size="2">2</tspan></text>
<line x1="28.60" y1="225.92" x2="29.80" y2="225.92" stroke="#666" stroke-width="0.45" />
<text x="27.80" y="226.82" font-size="2.8" font-weight="normal" text-anchor="end" fill="#555" >10<tspan dy="-1" font-size="2">3</tspan></text>
<line x1="28.60" y1="215.76" x2="29.80" y2="215.76" stroke="#666" stroke-width="0.45" />
<text x="27.80" y="216.66" font-size="2.8" font-weight="normal" text-anchor="end" fill="#555" >10<tspan dy="-1" font-size="2">4</tspan></text>
<line x1="28.60" y1="205.60" x2="29.80" y2="205.60" stroke="#666" stroke-width="0.45" />
<text x="27.80" y="206.50" font-size="2.8" font-weight="normal" text-anchor="end" fill="#555" >10<tspan dy="-1" font-size="2">5</tspan></text>
<text transform="translate(22.60,231.00) rotate(-90)" font-size="2.6" text-anchor="middle" fill="#555" stroke="#555" stroke-width="0.08">PE-Cy7-A</text>
<rect x="103.9" y="205.0" width="51.30" height="52.00" fill="#fff" stroke="#a8a8a8" stroke-width="0.5"/>
<g filter="url(#soft)">
<ellipse cx="128.6" cy="235.0" rx="3.0" ry="11" fill="#d000f6" fill-opacity="0.3" filter="url(#bl)"/>
<path d="M129.7 230.8h0.9M137.5 224.8h0.9M123.8 231.0h0.9M135.1 251.7h0.9M127.0 250.9h0.9M135.9 237.8h0.9M128.8 220.8h0.9M127.8 243.9h0.9M133.6 245.7h0.9M141.5 232.3h0.9M126.1 226.3h0.9M130.7 227.2h0.9M133.3 221.4h0.9M138.3 214.7h0.9M128.5 210.5h0.9M125.7 239.5h0.9M135.6 229.5h0.9M136.7 239.9h0.9M129.7 231.6h0.9M130.4 236.8h0.9M135.2 247.6h0.9M134.6 245.7h0.9M127.3 228.7h0.9M123.0 231.4h0.9M144.0 235.1h0.9M133.0 235.5h0.9M133.3 215.2h0.9M129.1 229.9h0.9M133.4 221.1h0.9M132.0 222.7h0.9M126.1 223.7h0.9M128.6 242.7h0.9M139.1 239.4h0.9M131.5 225.0h0.9M124.8 225.4h0.9M140.2 246.7h0.9M133.7 229.0h0.9M132.6 237.4h0.9M132.5 237.5h0.9M128.8 232.7h0.9M130.8 245.8h0.9M126.5 248.6h0.9M132.1 225.7h0.9M132.7 233.7h0.9M131.4 237.5h0.9M129.7 210.6h0.9M136.0 231.8h0.9M140.7 237.0h0.9M122.7 247.8h0.9M129.2 239.0h0.9M143.5 245.9h0.9M127.2 230.9h0.9M124.7 240.6h0.9M135.3 219.1h0.9M134.8 243.9h0.9M136.5 223.6h0.9M129.1 217.9h0.9M126.2 236.1h0.9M132.7 248.6h0.9M133.9 228.0h0.9M125.5 251.7h0.9M133.4 231.7h0.9M127.6 218.8h0.9M135.7 219.8h0.9M135.4 240.1h0.9M130.7 211.6h0.9M134.6 249.9h0.9M128.5 216.1h0.9M137.9 233.9h0.9M129.5 247.6h0.9M131.2 237.8h0.9M130.6 222.6h0.9M133.6 221.3h0.9M123.8 225.3h0.9M138.6 246.0h0.9M143.2 244.7h0.9M140.5 235.3h0.9M130.4 238.0h0.9M127.9 241.4h0.9M130.4 235.4h0.9M128.4 230.4h0.9M137.4 229.4h0.9M129.2 235.7h0.9M136.9 229.8h0.9M126.8 212.5h0.9M126.0 245.6h0.9M132.1 238.2h0.9M137.8 235.7h0.9M134.9 225.8h0.9M124.7 240.1h0.9M132.1 239.4h0.9M127.3 230.3h0.9M142.4 221.5h0.9M133.0 248.6h0.9M131.4 233.7h0.9M122.1 241.9h0.9M130.4 248.3h0.9M132.1 227.5h0.9M134.7 229.1h0.9M130.0 251.6h0.9M137.4 233.5h0.9M136.5 242.5h0.9M135.4 232.7h0.9M132.9 237.3h0.9M135.3 236.6h0.9M129.9 231.2h0.9M134.8 219.8h0.9M132.5 241.7h0.9M133.4 228.6h0.9M132.4 226.1h0.9M137.4 227.5h0.9M124.4 217.1h0.9M134.0 234.8h0.9M130.2 215.8h0.9M131.8 221.7h0.9M129.3 232.2h0.9M128.8 236.1h0.9M128.9 226.4h0.9" stroke="#eba8ff" stroke-width="0.9" fill="none"/>
<path d="M137.5 224.8h0.9M133.0 242.6h0.9M140.1 227.1h0.9M137.9 227.5h0.9M135.7 238.8h0.9M131.1 244.3h0.9M139.9 234.5h0.9M135.4 222.3h0.9M139.9 234.6h0.9M130.7 241.6h0.9M130.2 227.1h0.9M128.2 247.8h0.9M141.2 227.7h0.9M132.6 228.2h0.9M132.9 239.5h0.9M138.9 223.9h0.9M135.9 216.0h0.9M139.1 233.1h0.9M132.4 249.3h0.9M134.2 247.7h0.9M137.8 250.6h0.9M132.1 234.6h0.9M135.7 232.1h0.9M139.1 226.9h0.9M137.6 247.6h0.9M128.7 224.3h0.9M131.8 228.5h0.9M135.7 232.3h0.9M134.8 229.4h0.9M134.3 238.8h0.9M136.8 226.2h0.9M134.2 226.4h0.9M134.0 219.6h0.9M137.4 240.7h0.9M134.2 227.2h0.9M133.2 227.3h0.9M129.9 250.3h0.9M144.4 221.7h0.9M131.0 239.8h0.9M136.4 218.3h0.9M128.8 239.4h0.9M128.6 248.2h0.9M133.1 234.9h0.9M134.5 228.4h0.9M134.1 231.0h0.9M138.3 233.1h0.9M134.5 228.7h0.9M132.6 226.6h0.9M134.6 252.4h0.9M137.9 236.4h0.9M139.6 244.1h0.9M135.2 232.4h0.9M131.3 236.5h0.9M133.6 218.1h0.9M130.7 253.4h0.9M135.2 239.0h0.9M135.1 229.4h0.9M135.9 244.8h0.9M133.6 239.1h0.9M137.6 229.2h0.9M135.1 226.6h0.9M136.4 230.3h0.9M138.0 226.4h0.9M139.6 230.9h0.9M132.0 225.0h0.9M136.5 225.4h0.9M140.0 246.8h0.9M136.1 219.8h0.9M134.5 226.7h0.9M129.1 238.3h0.9M141.2 228.6h0.9M137.0 246.8h0.9M131.7 230.6h0.9M135.4 238.7h0.9M131.1 236.2h0.9M134.2 243.5h0.9M129.8 228.4h0.9M133.0 230.8h0.9M136.7 227.7h0.9M142.8 226.9h0.9M137.1 244.2h0.9M137.4 232.0h0.9M132.1 231.4h0.9M136.5 235.2h0.9M136.3 239.7h0.9M131.9 224.6h0.9M138.9 229.1h0.9M129.8 252.6h0.9M132.0 224.7h0.9M137.5 222.7h0.9M131.9 244.5h0.9M134.9 234.6h0.9M132.6 231.8h0.9M133.0 233.8h0.9M136.9 221.3h0.9M131.8 213.1h0.9M139.1 233.3h0.9M134.5 233.4h0.9M137.6 237.2h0.9M137.1 232.3h0.9M134.2 233.4h0.9M129.0 244.9h0.9M129.8 224.1h0.9M136.6 234.6h0.9M137.0 251.1h0.9M140.1 247.8h0.9M133.9 254.5h0.9M131.9 233.1h0.9M137.5 231.9h0.9M134.2 230.5h0.9M138.6 209.3h0.9M138.4 244.6h0.9M134.3 239.6h0.9M131.6 245.1h0.9M143.7 224.8h0.9M138.7 233.4h0.9M133.5 229.1h0.9M134.0 221.5h0.9M130.5 250.6h0.9M134.5 239.5h0.9M135.5 238.8h0.9M130.0 224.5h0.9M136.4 244.0h0.9M131.1 228.2h0.9M131.3 240.5h0.9M135.6 234.3h0.9M132.6 237.4h0.9M134.6 226.6h0.9M135.5 227.4h0.9M137.4 240.3h0.9M132.5 239.9h0.9M134.8 226.9h0.9M131.8 217.4h0.9M131.2 237.5h0.9M138.2 227.7h0.9M135.0 237.4h0.9M136.9 238.4h0.9M138.2 241.7h0.9M132.3 238.0h0.9M127.5 232.2h0.9M134.6 239.8h0.9M133.6 242.3h0.9M138.5 225.6h0.9M132.9 236.6h0.9M136.0 235.4h0.9M137.0 222.2h0.9M136.9 245.7h0.9M137.9 238.3h0.9M133.8 238.0h0.9M134.3 218.1h0.9M132.7 233.6h0.9M133.0 224.7h0.9M133.9 230.3h0.9M134.8 233.5h0.9M135.1 243.9h0.9M135.0 238.1h0.9M133.3 240.8h0.9M133.5 227.8h0.9M130.8 242.9h0.9M133.0 236.5h0.9M137.9 239.4h0.9M141.3 232.7h0.9M137.4 240.9h0.9M132.6 234.5h0.9M132.9 223.8h0.9M135.4 226.3h0.9M139.6 226.6h0.9M132.9 234.9h0.9M133.0 234.5h0.9M132.7 219.8h0.9M127.3 221.1h0.9M139.1 238.4h0.9M135.0 229.4h0.9M134.1 237.0h0.9M130.4 226.0h0.9M131.9 246.6h0.9M131.4 245.7h0.9M134.3 234.3h0.9M138.6 242.7h0.9M137.4 223.3h0.9M138.0 250.8h0.9M134.2 229.2h0.9M131.3 244.2h0.9M135.4 234.1h0.9M130.8 250.2h0.9M137.2 233.8h0.9M139.0 224.5h0.9M137.2 224.0h0.9M138.8 231.2h0.9M138.2 229.8h0.9M135.7 245.4h0.9M131.8 235.0h0.9M132.0 242.5h0.9M132.7 230.3h0.9M133.9 245.6h0.9M131.4 233.7h0.9M128.0 219.2h0.9M126.5 221.9h0.9M129.7 212.2h0.9M129.8 214.7h0.9M129.1 239.0h0.9M126.0 222.5h0.9M128.2 229.9h0.9M127.5 210.5h0.9M123.9 224.2h0.9M129.9 230.5h0.9M127.3 227.7h0.9M125.6 232.1h0.9M128.8 218.3h0.9M129.6 235.2h0.9M126.3 214.3h0.9M125.8 214.9h0.9M128.9 225.5h0.9M128.5 224.4h0.9M132.8 221.0h0.9M125.0 207.0h0.9M129.8 218.2h0.9M128.3 225.9h0.9M130.5 212.0h0.9M126.0 223.5h0.9M128.6 231.0h0.9M127.4 208.5h0.9M132.8 211.6h0.9M125.9 225.7h0.9M125.7 240.4h0.9M129.8 226.7h0.9M127.7 238.5h0.9M130.8 218.0h0.9M133.1 211.2h0.9M127.2 225.0h0.9M129.5 216.3h0.9M134.1 233.3h0.9M126.1 225.6h0.9M127.0 220.0h0.9M132.2 223.9h0.9M128.7 223.7h0.9M125.3 231.5h0.9M126.6 232.2h0.9M127.6 219.8h0.9M133.8 224.3h0.9M127.0 219.3h0.9M131.0 236.1h0.9M131.0 220.2h0.9M125.5 218.3h0.9M128.7 224.7h0.9M127.0 232.0h0.9M126.0 218.0h0.9M130.6 226.4h0.9M127.8 229.7h0.9M124.5 234.4h0.9M136.0 236.7h0.9M129.4 236.8h0.9M129.2 232.3h0.9M128.4 224.4h0.9M130.7 210.8h0.9M128.4 235.0h0.9M119.7 225.7h0.9M132.0 225.3h0.9M129.7 232.7h0.9M130.1 209.8h0.9M126.0 220.9h0.9M129.5 219.9h0.9M128.7 234.7h0.9M119.7 231.1h0.9M132.0 227.2h0.9M129.1 223.4h0.9M130.2 224.7h0.9M126.7 228.5h0.9M126.4 222.7h0.9M127.9 214.9h0.9M131.0 222.5h0.9M125.3 222.5h0.9M124.6 233.0h0.9M130.7 236.9h0.9M127.2 227.9h0.9M126.0 217.0h0.9M128.8 225.9h0.9M132.0 221.1h0.9M132.6 229.7h0.9M126.3 221.8h0.9M126.1 234.9h0.9M127.3 229.2h0.9M132.0 221.2h0.9M127.5 225.4h0.9M126.6 214.2h0.9M126.0 225.4h0.9M129.7 235.3h0.9M123.2 226.5h0.9M125.4 231.1h0.9M131.3 223.9h0.9M133.7 220.4h0.9M127.4 215.7h0.9M127.0 223.8h0.9M131.2 231.9h0.9M128.2 217.9h0.9M128.0 220.0h0.9M127.6 220.2h0.9M126.3 222.6h0.9M127.4 221.8h0.9M124.6 224.0h0.9M130.9 227.5h0.9M127.3 215.1h0.9M124.9 214.8h0.9M127.0 220.8h0.9M123.4 227.7h0.9M124.2 218.2h0.9M126.8 228.8h0.9M134.9 220.5h0.9M128.2 220.3h0.9M128.4 221.8h0.9M136.9 215.4h0.9M128.7 217.5h0.9M130.2 219.4h0.9M130.9 215.5h0.9M135.7 224.5h0.9M123.4 227.9h0.9M127.6 215.0h0.9M130.4 219.4h0.9M131.4 219.2h0.9M131.9 224.0h0.9M130.2 224.1h0.9M127.9 220.5h0.9M130.5 227.9h0.9M127.8 238.5h0.9M134.4 215.1h0.9M132.5 222.5h0.9M129.8 217.5h0.9M134.3 217.3h0.9M128.8 218.0h0.9M135.2 231.7h0.9M124.9 219.9h0.9M130.2 220.0h0.9M127.9 215.6h0.9M129.8 215.5h0.9M131.7 239.5h0.9M128.0 234.3h0.9M130.2 218.4h0.9M128.0 216.4h0.9M129.4 227.8h0.9M132.0 221.1h0.9M125.3 222.5h0.9M134.3 224.9h0.9M128.9 208.7h0.9M127.7 226.8h0.9M126.1 232.3h0.9M127.3 217.0h0.9" stroke="#dd5cff" stroke-width="0.9" fill="none"/>
<path d="M129.3 241.4h0.9M133.1 252.6h0.9M128.9 240.2h0.9M124.3 234.3h0.9M128.7 233.9h0.9M128.1 241.7h0.9M125.3 230.7h0.9M123.0 246.8h0.9M125.0 220.0h0.9M130.1 234.0h0.9M130.6 232.5h0.9M133.8 242.7h0.9M128.4 237.1h0.9M127.4 243.6h0.9M133.5 232.0h0.9M124.9 241.6h0.9M130.9 222.0h0.9M126.0 226.6h0.9M129.5 240.7h0.9M125.9 225.4h0.9M129.8 216.7h0.9M129.7 234.5h0.9M133.3 245.3h0.9M126.3 233.4h0.9M127.2 229.2h0.9M128.2 245.0h0.9M123.8 233.9h0.9M132.1 243.0h0.9M125.7 228.4h0.9M125.6 221.0h0.9M131.1 236.7h0.9M126.0 222.6h0.9M126.9 231.2h0.9M132.7 231.7h0.9M128.3 246.0h0.9M129.8 234.3h0.9M121.9 249.1h0.9M129.6 231.9h0.9M127.7 227.1h0.9M125.5 222.1h0.9M129.3 240.8h0.9M128.4 243.3h0.9M129.4 237.1h0.9M125.5 241.5h0.9M131.2 241.9h0.9M131.4 231.6h0.9M125.3 247.7h0.9M126.3 238.3h0.9M127.4 236.2h0.9M127.2 231.0h0.9M123.0 253.8h0.9M128.5 218.0h0.9M125.5 225.5h0.9M125.9 212.2h0.9M129.5 251.3h0.9M127.3 242.9h0.9M129.6 224.4h0.9M131.3 220.3h0.9M126.4 232.7h0.9M131.4 237.1h0.9M127.6 228.5h0.9M128.2 236.4h0.9M130.0 249.0h0.9M130.0 236.2h0.9M127.5 250.9h0.9M128.5 235.8h0.9M132.9 250.6h0.9M129.5 235.0h0.9M126.2 245.9h0.9M126.7 244.9h0.9M125.8 237.0h0.9M129.1 237.3h0.9M128.6 239.5h0.9M124.9 225.7h0.9M127.5 252.8h0.9M127.6 227.4h0.9M126.1 236.3h0.9M131.2 230.7h0.9M129.5 237.7h0.9M127.0 227.2h0.9M127.5 229.3h0.9M129.4 219.6h0.9M131.0 243.0h0.9M129.5 249.9h0.9M129.6 220.1h0.9M128.1 240.2h0.9M126.1 225.5h0.9M129.1 240.7h0.9M126.8 233.8h0.9M126.6 230.7h0.9M127.8 246.0h0.9M123.6 232.8h0.9M132.4 238.9h0.9M128.4 243.7h0.9M125.2 224.8h0.9M123.4 222.5h0.9M128.6 243.9h0.9M126.8 229.7h0.9M129.1 241.7h0.9M128.7 218.4h0.9M126.5 212.6h0.9M128.6 228.1h0.9M126.2 249.9h0.9M131.6 240.5h0.9M128.7 237.6h0.9M126.4 235.5h0.9M133.2 227.9h0.9M126.1 237.5h0.9M130.4 243.7h0.9M125.3 234.8h0.9M127.2 224.6h0.9M128.2 231.6h0.9M130.5 240.0h0.9M125.8 236.7h0.9M127.0 230.1h0.9M126.6 245.8h0.9M126.8 220.2h0.9M125.8 243.5h0.9M133.8 226.3h0.9M127.0 233.0h0.9M124.1 239.7h0.9M127.8 238.6h0.9M134.0 233.5h0.9M130.1 243.7h0.9M126.2 230.5h0.9M132.2 242.6h0.9M128.3 225.9h0.9M130.4 240.9h0.9M133.9 249.6h0.9M130.1 238.5h0.9M128.1 230.9h0.9M128.8 238.3h0.9M129.7 246.0h0.9M128.8 231.0h0.9M130.1 250.3h0.9M125.7 239.9h0.9M129.4 241.0h0.9M129.3 235.2h0.9M127.7 251.6h0.9M132.7 223.1h0.9M121.0 240.0h0.9M126.1 231.2h0.9M123.6 239.3h0.9M127.8 231.0h0.9M132.0 246.8h0.9M126.8 242.1h0.9M127.8 246.7h0.9M129.5 235.7h0.9M129.5 229.4h0.9M130.1 249.9h0.9M127.0 241.1h0.9M123.4 244.7h0.9M130.3 226.6h0.9M132.7 237.1h0.9M123.2 223.4h0.9M130.3 233.5h0.9M131.0 221.7h0.9M127.7 245.0h0.9M126.1 242.3h0.9M127.0 239.2h0.9M124.6 243.2h0.9M131.5 225.6h0.9M130.8 208.6h0.9M127.3 220.2h0.9M128.8 229.3h0.9M126.4 228.3h0.9M128.8 231.7h0.9M125.5 233.9h0.9M129.1 228.1h0.9M131.0 220.7h0.9M129.1 232.4h0.9M132.2 230.1h0.9M126.1 223.6h0.9M133.4 241.7h0.9M125.0 232.9h0.9M125.3 250.1h0.9M129.1 217.2h0.9M128.5 244.4h0.9M128.0 240.4h0.9M127.7 237.9h0.9M128.5 229.5h0.9M128.9 237.5h0.9M127.8 229.7h0.9M125.2 238.3h0.9M130.2 213.7h0.9M126.5 248.5h0.9M130.4 229.4h0.9M131.6 226.9h0.9M125.8 253.9h0.9M126.8 234.0h0.9M123.5 226.7h0.9M124.8 234.7h0.9M123.0 245.8h0.9M127.0 230.4h0.9M126.2 242.9h0.9M132.1 232.2h0.9M132.3 250.9h0.9M131.6 238.8h0.9M123.9 242.2h0.9M126.8 237.8h0.9M122.8 233.4h0.9M128.6 227.3h0.9M128.8 251.5h0.9M128.6 229.7h0.9M134.4 216.1h0.9M125.4 239.8h0.9M126.3 214.8h0.9M128.7 243.7h0.9M125.8 249.6h0.9M129.3 247.0h0.9M123.8 236.0h0.9M132.3 254.6h0.9M131.5 236.0h0.9M128.4 230.2h0.9M130.9 229.6h0.9M128.3 216.9h0.9M123.8 252.5h0.9M128.1 238.0h0.9M122.0 235.7h0.9M133.6 222.1h0.9M121.5 234.5h0.9M126.5 234.1h0.9M124.5 223.4h0.9M124.6 241.9h0.9M127.8 243.6h0.9M125.0 241.5h0.9M126.7 236.8h0.9M130.5 236.3h0.9M127.0 220.6h0.9M128.1 243.3h0.9M126.2 235.4h0.9M123.1 223.6h0.9M129.1 248.0h0.9M127.1 220.5h0.9M126.9 221.5h0.9M127.2 254.0h0.9M128.8 234.6h0.9M130.8 232.5h0.9M128.9 237.9h0.9M129.2 222.3h0.9M129.9 244.2h0.9M121.7 210.7h0.9M125.5 249.9h0.9M128.0 242.3h0.9M129.5 244.3h0.9M126.2 230.5h0.9M129.0 241.7h0.9M129.5 239.2h0.9M126.6 246.3h0.9M129.2 245.9h0.9M121.0 245.4h0.9M121.2 238.0h0.9M126.1 237.1h0.9M126.6 233.1h0.9M128.5 239.2h0.9M125.7 212.3h0.9M125.8 241.1h0.9M125.6 240.0h0.9M126.9 227.2h0.9M131.2 251.5h0.9M127.7 235.5h0.9M130.6 223.6h0.9M125.5 246.6h0.9M130.4 231.4h0.9M125.8 239.3h0.9M124.1 231.3h0.9M127.3 212.9h0.9M129.6 243.2h0.9M130.9 222.5h0.9M124.4 228.3h0.9M124.3 255.3h0.9M125.2 233.1h0.9M128.5 240.3h0.9M132.0 225.8h0.9M130.4 237.4h0.9M124.7 237.4h0.9M124.1 251.3h0.9M125.9 245.5h0.9M131.6 230.2h0.9M125.5 237.2h0.9M125.0 244.5h0.9M128.4 228.8h0.9M126.0 242.8h0.9M123.9 251.9h0.9M125.8 234.2h0.9M125.4 251.3h0.9M130.2 248.3h0.9M129.8 236.8h0.9M132.7 242.3h0.9M129.2 241.4h0.9M130.0 238.6h0.9M127.5 220.9h0.9M133.7 223.7h0.9M121.9 229.3h0.9M133.3 247.5h0.9M126.3 238.5h0.9M127.9 217.2h0.9M127.0 238.8h0.9M131.2 224.6h0.9M121.7 221.1h0.9M128.9 236.8h0.9M128.4 237.4h0.9M126.9 223.1h0.9M129.2 239.7h0.9M129.6 247.8h0.9M124.5 213.8h0.9M123.0 256.3h0.9M125.4 239.8h0.9M127.9 242.9h0.9M136.9 231.1h0.9M127.5 230.3h0.9M128.6 240.9h0.9M125.2 248.5h0.9M131.2 240.2h0.9M127.6 233.7h0.9M123.3 242.2h0.9M125.2 231.2h0.9" stroke="#d000f6" stroke-width="0.9" fill="none"/>
<path d="M145.6 254.1h0.6M147.1 233.0h0.6M145.9 235.6h0.6M144.5 231.0h0.6M143.6 223.3h0.6M147.2 230.3h0.6M144.8 231.7h0.6M144.2 227.2h0.6M143.0 243.1h0.6M144.9 221.3h0.6M145.4 226.1h0.6M144.3 240.1h0.6M142.4 233.7h0.6M143.2 239.2h0.6M145.5 246.5h0.6M144.3 251.3h0.6" stroke="#bfe3bf" stroke-width="0.6" fill="none"/>
<path d="M141.7 247.4h0.6M143.1 245.1h0.6M141.3 241.1h0.6M142.6 244.5h0.6M140.6 240.8h0.6M141.3 244.3h0.6M142.4 238.8h0.6M143.6 239.9h0.6M143.8 240.3h0.6M141.8 249.2h0.6M141.5 239.0h0.6M143.1 240.9h0.6M142.3 235.6h0.6M143.3 245.3h0.6M142.2 244.1h0.6M141.5 239.0h0.6M140.7 242.7h0.6M142.9 244.8h0.6M142.6 244.1h0.6M141.2 235.5h0.6M142.4 241.8h0.6M142.7 239.9h0.6M141.2 243.0h0.6M141.5 234.0h0.6M141.4 237.3h0.6M141.0 238.7h0.6" stroke="#78c07e" stroke-width="0.6" fill="none"/>
</g>
<line x1="122" y1="256.5" x2="140" y2="256.5" stroke="#dd5cff" stroke-width="0.6" stroke-opacity="0.6"/>
<line x1="141.50" y1="205.00" x2="141.50" y2="257.00" stroke="#7a7a7a" stroke-width="0.6" />
<line x1="103.90" y1="237.00" x2="155.20" y2="237.00" stroke="#7a7a7a" stroke-width="0.6" />
<line x1="103.90" y1="205.00" x2="103.90" y2="257.00" stroke="#666" stroke-width="0.9" />
<line x1="103.90" y1="257.00" x2="155.20" y2="257.00" stroke="#999" stroke-width="0.5" />
<text x="106.30" y="214.00" font-size="6.8" font-weight="bold" text-anchor="start" fill="#111" >58</text>
<text x="128.05" y="203.40" font-size="2.7" font-weight="normal" text-anchor="middle" fill="#444" >Q1-R4&amp;R3: P1</text>
<text x="154.60" y="208.40" font-size="2.6" font-weight="normal" text-anchor="end" fill="#444" >Q4-UR(2.83%)</text>
<text x="104.90" y="255.50" font-size="2.6" font-weight="normal" text-anchor="start" fill="#444" >Q4-LL(8.93%)</text>
<text x="154.60" y="255.50" font-size="2.6" font-weight="normal" text-anchor="end" fill="#444" >Q4-LR(1.22%)</text>
<line x1="104.70" y1="257.00" x2="104.70" y2="257.90" stroke="#777" stroke-width="0.45" />
<text x="104.70" y="261.90" font-size="2.8" font-weight="normal" text-anchor="middle" fill="#555" >10<tspan dy="-1" font-size="2">0</tspan></text>
<line x1="114.64" y1="257.00" x2="114.64" y2="257.90" stroke="#777" stroke-width="0.45" />
<text x="114.64" y="261.90" font-size="2.8" font-weight="normal" text-anchor="middle" fill="#555" >10<tspan dy="-1" font-size="2">1</tspan></text>
<line x1="124.58" y1="257.00" x2="124.58" y2="257.90" stroke="#777" stroke-width="0.45" />
<text x="124.58" y="261.90" font-size="2.8" font-weight="normal" text-anchor="middle" fill="#555" >10<tspan dy="-1" font-size="2">2</tspan></text>
<line x1="134.52" y1="257.00" x2="134.52" y2="257.90" stroke="#777" stroke-width="0.45" />
<text x="134.52" y="261.90" font-size="2.8" font-weight="normal" text-anchor="middle" fill="#555" >10<tspan dy="-1" font-size="2">3</tspan></text>
<line x1="144.46" y1="257.00" x2="144.46" y2="257.90" stroke="#777" stroke-width="0.45" />
<text x="144.46" y="261.90" font-size="2.8" font-weight="normal" text-anchor="middle" fill="#555" >10<tspan dy="-1" font-size="2">4</tspan></text>
<line x1="154.40" y1="257.00" x2="154.40" y2="257.90" stroke="#777" stroke-width="0.45" />
<text x="154.40" y="261.90" font-size="2.8" font-weight="normal" text-anchor="middle" fill="#555" >10<tspan dy="-1" font-size="2">5</tspan></text>
<text x="129.55" y="264.80" font-size="2.6" font-weight="normal" text-anchor="middle" fill="#555" >FITC-A</text>
<path d="M103.3 205.0h0.6M103.3 207.2h0.6M103.3 209.3h0.6M103.3 211.5h0.6M103.3 213.7h0.6M103.3 215.8h0.6M103.3 218.0h0.6M103.3 220.2h0.6M103.3 222.3h0.6M103.3 224.5h0.6M103.3 226.7h0.6M103.3 228.8h0.6M103.3 231.0h0.6M103.3 233.2h0.6M103.3 235.3h0.6M103.3 237.5h0.6M103.3 239.7h0.6M103.3 241.8h0.6M103.3 244.0h0.6M103.3 246.2h0.6M103.3 248.3h0.6M103.3 250.5h0.6M103.3 252.7h0.6M103.3 254.8h0.6M103.3 257.0h0.6" stroke="#888" stroke-width="0.35"/>
<path d="M103.9 257.0v0.6M106.0 257.0v0.6M108.2 257.0v0.6M110.3 257.0v0.6M112.5 257.0v0.6M114.6 257.0v0.6M116.7 257.0v0.6M118.9 257.0v0.6M121.0 257.0v0.6M123.1 257.0v0.6M125.3 257.0v0.6M127.4 257.0v0.6M129.6 257.0v0.6M131.7 257.0v0.6M133.8 257.0v0.6M136.0 257.0v0.6M138.1 257.0v0.6M140.2 257.0v0.6M142.4 257.0v0.6M144.5 257.0v0.6M146.6 257.0v0.6M148.8 257.0v0.6M150.9 257.0v0.6M153.1 257.0v0.6M155.2 257.0v0.6" stroke="#888" stroke-width="0.35"/>
<line x1="102.70" y1="256.40" x2="103.90" y2="256.40" stroke="#666" stroke-width="0.45" />
<text x="101.90" y="257.30" font-size="2.8" font-weight="normal" text-anchor="end" fill="#555" >10<tspan dy="-1" font-size="2">0</tspan></text>
<line x1="102.70" y1="246.24" x2="103.90" y2="246.24" stroke="#666" stroke-width="0.45" />
<text x="101.90" y="247.14" font-size="2.8" font-weight="normal" text-anchor="end" fill="#555" >10<tspan dy="-1" font-size="2">1</tspan></text>
<line x1="102.70" y1="236.08" x2="103.90" y2="236.08" stroke="#666" stroke-width="0.45" />
<text x="101.90" y="236.98" font-size="2.8" font-weight="normal" text-anchor="end" fill="#555" >10<tspan dy="-1" font-size="2">2</tspan></text>
<line x1="102.70" y1="225.92" x2="103.90" y2="225.92" stroke="#666" stroke-width="0.45" />
<text x="101.90" y="226.82" font-size="2.8" font-weight="normal" text-anchor="end" fill="#555" >10<tspan dy="-1" font-size="2">3</tspan></text>
<line x1="102.70" y1="215.76" x2="103.90" y2="215.76" stroke="#666" stroke-width="0.45" />
<text x="101.90" y="216.66" font-size="2.8" font-weight="normal" text-anchor="end" fill="#555" >10<tspan dy="-1" font-size="2">4</tspan></text>
<line x1="102.70" y1="205.60" x2="103.90" y2="205.60" stroke="#666" stroke-width="0.45" />
<text x="101.90" y="206.50" font-size="2.8" font-weight="normal" text-anchor="end" fill="#555" >10<tspan dy="-1" font-size="2">5</tspan></text>
<text transform="translate(96.70,231.00) rotate(-90)" font-size="2.6" text-anchor="middle" fill="#555" stroke="#555" stroke-width="0.08">PE-Cy7-A</text>
<rect x="29.8" y="269.8" width="51.60" height="51.60" fill="#fff" stroke="#a8a8a8" stroke-width="0.5"/>
<g filter="url(#soft)">
<ellipse cx="54.6" cy="310.0" rx="3.4" ry="5.5" fill="#d000f6" fill-opacity="0.45" filter="url(#bl)"/>
<path d="M67.2 296.8h0.9M55.3 287.0h0.9M58.2 292.3h0.9M52.4 306.8h0.9M58.7 289.1h0.9M63.8 295.6h0.9M59.0 297.2h0.9M62.3 300.8h0.9M54.9 301.6h0.9M54.6 297.0h0.9M64.6 287.7h0.9M51.5 292.9h0.9M54.1 306.1h0.9M48.8 313.9h0.9M64.3 292.5h0.9M57.5 293.2h0.9M59.8 301.2h0.9M60.2 302.0h0.9M66.0 294.7h0.9M60.0 294.5h0.9M56.7 297.7h0.9M56.3 298.7h0.9M52.4 294.8h0.9M53.6 286.9h0.9M53.1 292.1h0.9M55.8 283.8h0.9M55.3 287.2h0.9M52.6 297.5h0.9M62.0 298.2h0.9M54.2 292.6h0.9M63.1 283.3h0.9M62.1 284.3h0.9M53.4 296.4h0.9M55.5 309.0h0.9M59.0 295.6h0.9M61.2 296.3h0.9M52.6 304.8h0.9M63.9 306.0h0.9M50.8 310.9h0.9M54.5 302.0h0.9M62.4 314.6h0.9M48.6 288.0h0.9M62.3 299.9h0.9M55.0 273.2h0.9M58.7 294.5h0.9M43.8 316.9h0.9M44.3 291.6h0.9M56.5 297.8h0.9M60.2 293.9h0.9M52.2 293.2h0.9M46.3 287.3h0.9M66.2 290.6h0.9M56.2 310.8h0.9M61.7 297.0h0.9M60.1 293.9h0.9M52.1 303.8h0.9M57.2 308.5h0.9M55.3 293.1h0.9M58.2 294.5h0.9M55.0 289.0h0.9M57.8 298.5h0.9M65.5 295.8h0.9M48.0 299.6h0.9M67.8 292.6h0.9M52.6 294.7h0.9M42.5 293.4h0.9M55.6 284.2h0.9M59.4 289.2h0.9M47.5 290.4h0.9M59.7 311.0h0.9M62.7 297.5h0.9M54.0 294.0h0.9M61.3 291.9h0.9M58.6 303.6h0.9M52.1 291.4h0.9M58.8 296.1h0.9M55.9 291.9h0.9M56.2 310.5h0.9M63.2 283.4h0.9M56.8 296.7h0.9M56.7 285.2h0.9M55.9 297.2h0.9M53.2 298.5h0.9M44.6 284.2h0.9M57.0 299.1h0.9M55.7 292.4h0.9M57.5 304.5h0.9M61.0 295.4h0.9M54.3 304.3h0.9M59.2 302.9h0.9" stroke="#eba8ff" stroke-width="0.9" fill="none"/>
<path d="M56.7 306.4h0.9M62.8 306.7h0.9M63.4 307.6h0.9M59.9 310.1h0.9M59.8 307.8h0.9M63.8 303.4h0.9M64.1 300.1h0.9M59.9 296.1h0.9M58.9 317.0h0.9M61.7 315.0h0.9M56.0 300.7h0.9M62.0 312.2h0.9M63.2 296.5h0.9M62.1 306.5h0.9M60.9 310.0h0.9M59.7 296.4h0.9M57.2 297.9h0.9M56.5 306.2h0.9M64.6 302.5h0.9M58.2 299.8h0.9M55.2 307.4h0.9M59.0 305.5h0.9M57.6 310.1h0.9M56.8 310.4h0.9M58.5 311.9h0.9M57.8 309.8h0.9M61.9 306.5h0.9M65.6 308.1h0.9M57.8 311.3h0.9M58.0 303.6h0.9M60.6 308.1h0.9M65.9 296.0h0.9M59.7 314.1h0.9M60.1 309.0h0.9M65.3 299.3h0.9M60.7 312.0h0.9M58.7 296.0h0.9M57.4 308.2h0.9M61.1 318.6h0.9M64.7 297.3h0.9M63.8 312.7h0.9M65.6 306.0h0.9M58.8 307.9h0.9M65.4 310.9h0.9M65.8 311.9h0.9M58.7 300.6h0.9M66.3 297.5h0.9M59.5 305.0h0.9M57.7 303.4h0.9M60.3 303.7h0.9M60.9 312.9h0.9M58.0 304.5h0.9M55.1 311.4h0.9M62.7 316.4h0.9M56.8 320.7h0.9M63.3 305.3h0.9M59.3 305.1h0.9M56.8 311.8h0.9M58.7 302.5h0.9M62.2 307.7h0.9M58.7 305.5h0.9M59.0 315.5h0.9M63.7 302.4h0.9M60.4 315.6h0.9M59.7 318.2h0.9M61.9 311.2h0.9M54.1 312.3h0.9M61.6 310.7h0.9M62.1 310.3h0.9M59.0 312.7h0.9M60.7 300.4h0.9M57.4 308.0h0.9M61.6 293.1h0.9M54.1 313.6h0.9M55.8 305.4h0.9M58.7 310.5h0.9M64.9 317.2h0.9M57.4 314.8h0.9M56.8 308.9h0.9M61.1 310.9h0.9M58.1 315.4h0.9M60.3 306.9h0.9M59.7 300.3h0.9M62.8 309.1h0.9M62.0 318.7h0.9M57.8 305.2h0.9M60.6 312.4h0.9M60.0 312.9h0.9M62.0 295.9h0.9M58.4 294.2h0.9M59.7 304.4h0.9M62.4 308.1h0.9M60.4 315.0h0.9M62.4 299.2h0.9M58.4 309.1h0.9M65.9 305.8h0.9M60.0 308.7h0.9M63.0 306.4h0.9M61.5 304.3h0.9M58.8 302.0h0.9M62.6 303.5h0.9M62.3 309.6h0.9M63.6 290.1h0.9M57.5 299.3h0.9M60.0 312.1h0.9M68.5 316.7h0.9M64.8 309.4h0.9M59.3 310.4h0.9M53.7 312.9h0.9M60.6 310.9h0.9M57.3 300.1h0.9M58.5 306.7h0.9M61.6 304.8h0.9M61.6 311.3h0.9M56.9 306.4h0.9M55.7 303.5h0.9M63.4 302.5h0.9M66.4 310.2h0.9M63.3 307.7h0.9M63.3 313.9h0.9M60.9 303.7h0.9M58.8 319.2h0.9M60.0 304.1h0.9M58.3 296.4h0.9M59.0 309.1h0.9M59.0 302.2h0.9M61.8 309.9h0.9M59.2 308.9h0.9M57.5 312.4h0.9M57.5 304.9h0.9M61.0 304.4h0.9M57.0 320.3h0.9M65.3 296.0h0.9M60.9 299.0h0.9M61.5 298.8h0.9M62.4 310.4h0.9M65.9 314.6h0.9M59.1 313.0h0.9M59.1 306.3h0.9M59.0 295.9h0.9M62.4 294.1h0.9M59.8 310.3h0.9M60.9 297.0h0.9M58.5 311.3h0.9M64.0 317.1h0.9M54.9 309.9h0.9M59.0 311.8h0.9M55.3 306.1h0.9M62.8 302.9h0.9M59.4 300.8h0.9M64.0 298.6h0.9M57.7 304.9h0.9M59.6 320.4h0.9M61.4 301.7h0.9M62.4 309.2h0.9M61.4 306.6h0.9M62.0 299.6h0.9M56.8 304.3h0.9M57.1 311.4h0.9M66.6 314.8h0.9M61.9 309.1h0.9M58.4 298.8h0.9M62.3 297.6h0.9M61.5 306.1h0.9M62.9 307.3h0.9M60.9 303.3h0.9M55.2 304.8h0.9M62.7 313.6h0.9M64.9 300.7h0.9M57.6 311.4h0.9M61.5 297.4h0.9M58.8 316.9h0.9M54.8 308.0h0.9M56.2 317.1h0.9M59.2 300.5h0.9M55.2 302.5h0.9M52.6 304.0h0.9" stroke="#dd5cff" stroke-width="0.9" fill="none"/>
<path d="M51.2 318.5h0.9M53.2 313.7h0.9M53.6 310.5h0.9M51.3 311.9h0.9M59.9 310.8h0.9M53.9 310.1h0.9M56.0 309.1h0.9M53.9 311.1h0.9M57.8 314.6h0.9M50.9 307.1h0.9M54.0 314.1h0.9M56.8 309.1h0.9M60.2 309.3h0.9M58.1 316.8h0.9M58.6 311.0h0.9M55.6 302.8h0.9M48.7 307.2h0.9M56.1 315.1h0.9M53.6 315.0h0.9M55.6 317.3h0.9M49.3 306.1h0.9M51.1 305.1h0.9M58.8 305.7h0.9M51.5 308.2h0.9M56.5 307.9h0.9M56.1 312.7h0.9M52.1 298.9h0.9M51.3 304.2h0.9M58.8 306.7h0.9M50.8 311.9h0.9M54.1 305.6h0.9M57.2 314.4h0.9M54.8 306.5h0.9M51.4 300.3h0.9M55.1 311.9h0.9M51.2 310.2h0.9M63.6 304.7h0.9M48.9 313.0h0.9M52.7 307.7h0.9M55.8 309.5h0.9M56.9 312.5h0.9M57.4 310.6h0.9M47.6 316.5h0.9M48.9 315.0h0.9M54.7 303.5h0.9M54.1 314.3h0.9M50.9 310.3h0.9M51.8 305.3h0.9M52.1 316.1h0.9M56.0 309.9h0.9M53.7 310.7h0.9M54.8 310.9h0.9M48.9 314.4h0.9M51.4 297.7h0.9M56.0 304.3h0.9M53.5 309.6h0.9M52.2 312.6h0.9M53.1 308.7h0.9M51.1 308.7h0.9M50.9 310.3h0.9M57.8 314.9h0.9M55.2 303.6h0.9M57.0 314.5h0.9M60.0 299.4h0.9M54.0 308.5h0.9M57.2 304.9h0.9M56.9 300.6h0.9M54.0 316.6h0.9M52.1 312.9h0.9M54.2 303.1h0.9M52.1 315.4h0.9M57.4 307.2h0.9M57.3 306.7h0.9M54.7 309.9h0.9M50.3 311.6h0.9M52.8 297.0h0.9M51.5 306.0h0.9M51.5 305.4h0.9M51.9 298.4h0.9M56.6 310.4h0.9M54.7 308.8h0.9M54.1 308.8h0.9M50.7 302.8h0.9M54.2 314.9h0.9M54.6 317.7h0.9M49.9 308.8h0.9M52.1 315.9h0.9M59.0 307.5h0.9M56.1 308.9h0.9M51.0 309.5h0.9M50.9 317.4h0.9M55.7 315.7h0.9M55.0 298.4h0.9M56.3 310.5h0.9M46.9 310.5h0.9M56.9 318.2h0.9M50.9 313.8h0.9M54.9 309.2h0.9M53.1 312.6h0.9M55.7 313.2h0.9M52.7 303.7h0.9M57.8 316.2h0.9M52.3 309.9h0.9M56.3 301.6h0.9M54.8 306.6h0.9M60.0 310.1h0.9M54.6 308.0h0.9M54.5 301.4h0.9M50.2 303.0h0.9M56.6 309.6h0.9M57.4 300.3h0.9M52.2 317.0h0.9M51.6 301.1h0.9M51.8 308.4h0.9M53.9 316.3h0.9M57.9 317.4h0.9M55.7 307.6h0.9M52.5 302.9h0.9M57.7 316.0h0.9M54.2 305.7h0.9M55.9 312.4h0.9M54.4 304.4h0.9M54.7 307.3h0.9M56.1 312.9h0.9M55.2 308.0h0.9M58.4 313.7h0.9M57.7 314.0h0.9M55.9 311.9h0.9M50.8 301.3h0.9M51.2 313.0h0.9M56.6 310.9h0.9M54.2 318.8h0.9M52.8 301.5h0.9M49.4 308.5h0.9M56.0 313.5h0.9M53.3 313.9h0.9M53.8 306.5h0.9M52.8 313.6h0.9M56.8 304.6h0.9M51.0 310.6h0.9M60.2 304.4h0.9M50.3 312.0h0.9M55.4 307.1h0.9M53.9 312.3h0.9M48.8 309.9h0.9M55.7 314.4h0.9M57.4 309.7h0.9M49.7 316.4h0.9M56.2 307.0h0.9M57.0 315.0h0.9M53.5 298.7h0.9M52.6 306.4h0.9M51.5 309.6h0.9M50.8 311.9h0.9M59.5 304.3h0.9M57.0 307.5h0.9M55.5 309.4h0.9M57.7 306.6h0.9M56.1 306.3h0.9M54.6 309.9h0.9M57.2 302.4h0.9M50.0 316.7h0.9M55.1 318.1h0.9M50.9 311.0h0.9M55.7 318.5h0.9M53.8 307.9h0.9M56.1 309.5h0.9M51.8 313.7h0.9M48.4 305.1h0.9M57.9 307.6h0.9M53.0 311.8h0.9M57.2 312.5h0.9M51.1 307.3h0.9M57.0 309.4h0.9M52.1 314.2h0.9M57.3 320.4h0.9M50.8 306.6h0.9M51.9 311.7h0.9M52.6 315.3h0.9M46.1 314.6h0.9M52.1 308.7h0.9M55.6 311.0h0.9M51.0 317.2h0.9M55.6 307.6h0.9M54.6 304.7h0.9M50.4 308.6h0.9M55.0 310.5h0.9M51.7 303.4h0.9M49.0 317.7h0.9M55.0 306.2h0.9M57.4 312.6h0.9M52.7 307.1h0.9M57.3 311.6h0.9M58.7 311.7h0.9M52.2 307.1h0.9M51.9 311.2h0.9M54.7 312.9h0.9M55.3 305.0h0.9M53.4 305.5h0.9M55.4 303.7h0.9M52.3 305.9h0.9M52.1 308.8h0.9M58.4 308.8h0.9M49.8 308.6h0.9M56.1 312.7h0.9M54.7 319.6h0.9M57.2 310.4h0.9M57.5 303.6h0.9M53.5 305.8h0.9M54.5 317.8h0.9M52.5 317.6h0.9M51.0 316.8h0.9M49.0 305.9h0.9M56.9 309.6h0.9M54.4 309.9h0.9M54.5 309.1h0.9M51.1 308.6h0.9M54.3 305.7h0.9M55.3 318.5h0.9M49.2 307.4h0.9M53.1 310.1h0.9M54.2 306.5h0.9M53.9 310.0h0.9M53.7 317.4h0.9M54.3 302.9h0.9M49.4 312.8h0.9M53.0 307.0h0.9M50.0 308.5h0.9M53.7 306.7h0.9M52.9 314.3h0.9M56.2 312.6h0.9M53.4 303.5h0.9M56.2 317.2h0.9M57.7 315.6h0.9M54.8 311.8h0.9M53.9 316.0h0.9M53.2 320.3h0.9M56.2 308.5h0.9M53.9 302.3h0.9M51.8 308.6h0.9M61.1 306.1h0.9M56.6 310.4h0.9M53.1 313.0h0.9M48.1 314.5h0.9M59.6 311.4h0.9M53.8 310.8h0.9M55.9 307.7h0.9M54.3 312.4h0.9M52.9 311.9h0.9M54.9 313.4h0.9M51.1 307.4h0.9M52.7 315.7h0.9M54.7 302.1h0.9M50.2 319.3h0.9M54.9 303.8h0.9M51.3 310.7h0.9M58.1 317.8h0.9M52.9 308.6h0.9M59.5 305.3h0.9M58.5 311.6h0.9M54.2 316.2h0.9M55.4 306.0h0.9M49.5 310.1h0.9M55.4 316.6h0.9M46.3 316.4h0.9M55.8 317.3h0.9M56.3 311.0h0.9M55.2 311.9h0.9M52.1 309.5h0.9M54.3 307.8h0.9M49.7 303.1h0.9M55.4 312.5h0.9M54.3 304.4h0.9M56.4 308.1h0.9M47.9 317.5h0.9M55.5 307.9h0.9M47.1 306.6h0.9M58.3 316.5h0.9M54.7 301.8h0.9M52.8 308.6h0.9M55.3 309.4h0.9M55.0 302.2h0.9M52.1 316.9h0.9M49.7 314.4h0.9M60.7 313.1h0.9M49.9 316.0h0.9M48.5 311.6h0.9M52.8 316.0h0.9M57.4 310.9h0.9M59.2 314.7h0.9M52.6 305.3h0.9M61.1 308.1h0.9M55.1 309.4h0.9M52.6 302.3h0.9M53.5 309.4h0.9M56.8 307.5h0.9M49.4 304.8h0.9M53.8 311.2h0.9M56.1 308.2h0.9M55.5 310.7h0.9M58.9 309.7h0.9M54.4 312.7h0.9M57.5 305.6h0.9M52.6 308.7h0.9M47.7 316.3h0.9M57.1 310.1h0.9M63.8 316.1h0.9M59.8 317.6h0.9M56.6 303.2h0.9M58.4 312.0h0.9M50.5 310.3h0.9M56.1 314.7h0.9M54.5 307.5h0.9M56.2 306.3h0.9M53.7 313.7h0.9M49.8 311.8h0.9M48.2 305.5h0.9" stroke="#d000f6" stroke-width="0.9" fill="none"/>
<path d="M72.1 303.7h0.6M68.8 298.0h0.6M71.0 295.5h0.6M71.5 300.1h0.6M67.9 295.2h0.6M69.4 315.9h0.6M71.2 302.2h0.6M67.9 316.9h0.6M69.2 302.0h0.6M68.9 312.5h0.6M70.0 298.4h0.6M70.1 294.2h0.6M67.6 300.7h0.6M64.0 311.2h0.6M73.6 293.3h0.6M69.4 289.6h0.6" stroke="#bfe3bf" stroke-width="0.6" fill="none"/>
<path d="M68.5 298.4h0.6M68.8 299.6h0.6M69.6 307.6h0.6M67.0 306.6h0.6M69.7 308.6h0.6M68.3 298.4h0.6M69.5 308.5h0.6M68.7 296.8h0.6M67.5 304.4h0.6M68.1 299.3h0.6M69.0 308.7h0.6M67.1 299.4h0.6M69.7 302.8h0.6M68.4 306.4h0.6M67.8 296.4h0.6M68.7 311.4h0.6M69.5 303.0h0.6M69.5 300.8h0.6M67.8 294.0h0.6M68.9 307.8h0.6M69.0 302.8h0.6M68.4 308.9h0.6M68.7 295.2h0.6M69.8 299.5h0.6M69.0 303.0h0.6M69.5 304.3h0.6" stroke="#78c07e" stroke-width="0.6" fill="none"/>
</g>
<line x1="47" y1="320.9" x2="66" y2="320.9" stroke="#dd5cff" stroke-width="0.6" stroke-opacity="0.6"/>
<line x1="68.20" y1="269.80" x2="68.20" y2="321.40" stroke="#7a7a7a" stroke-width="0.6" />
<line x1="29.80" y1="300.20" x2="81.40" y2="300.20" stroke="#7a7a7a" stroke-width="0.6" />
<line x1="29.80" y1="269.80" x2="29.80" y2="321.40" stroke="#666" stroke-width="0.9" />
<line x1="29.80" y1="321.40" x2="81.40" y2="321.40" stroke="#999" stroke-width="0.5" />
<text x="32.20" y="278.80" font-size="6.8" font-weight="bold" text-anchor="start" fill="#111" >8</text>
<text x="54.10" y="268.20" font-size="2.7" font-weight="normal" text-anchor="middle" fill="#444" >Q1-R4&amp;R3: P1</text>
<text x="80.80" y="273.20" font-size="2.6" font-weight="normal" text-anchor="end" fill="#444" >Q4-UR(2.83%)</text>
<text x="30.80" y="319.90" font-size="2.6" font-weight="normal" text-anchor="start" fill="#444" >Q4-LL(8.93%)</text>
<text x="80.80" y="319.90" font-size="2.6" font-weight="normal" text-anchor="end" fill="#444" >Q4-LR(1.22%)</text>
<line x1="30.60" y1="321.40" x2="30.60" y2="322.30" stroke="#777" stroke-width="0.45" />
<text x="30.60" y="326.30" font-size="2.8" font-weight="normal" text-anchor="middle" fill="#555" >10<tspan dy="-1" font-size="2">0</tspan></text>
<line x1="40.60" y1="321.40" x2="40.60" y2="322.30" stroke="#777" stroke-width="0.45" />
<text x="40.60" y="326.30" font-size="2.8" font-weight="normal" text-anchor="middle" fill="#555" >10<tspan dy="-1" font-size="2">1</tspan></text>
<line x1="50.60" y1="321.40" x2="50.60" y2="322.30" stroke="#777" stroke-width="0.45" />
<text x="50.60" y="326.30" font-size="2.8" font-weight="normal" text-anchor="middle" fill="#555" >10<tspan dy="-1" font-size="2">2</tspan></text>
<line x1="60.60" y1="321.40" x2="60.60" y2="322.30" stroke="#777" stroke-width="0.45" />
<text x="60.60" y="326.30" font-size="2.8" font-weight="normal" text-anchor="middle" fill="#555" >10<tspan dy="-1" font-size="2">3</tspan></text>
<line x1="70.60" y1="321.40" x2="70.60" y2="322.30" stroke="#777" stroke-width="0.45" />
<text x="70.60" y="326.30" font-size="2.8" font-weight="normal" text-anchor="middle" fill="#555" >10<tspan dy="-1" font-size="2">4</tspan></text>
<line x1="80.60" y1="321.40" x2="80.60" y2="322.30" stroke="#777" stroke-width="0.45" />
<text x="80.60" y="326.30" font-size="2.8" font-weight="normal" text-anchor="middle" fill="#555" >10<tspan dy="-1" font-size="2">5</tspan></text>
<text x="55.60" y="329.20" font-size="2.6" font-weight="normal" text-anchor="middle" fill="#555" >FITC-A</text>
<path d="M29.2 269.8h0.6M29.2 271.9h0.6M29.2 274.1h0.6M29.2 276.2h0.6M29.2 278.4h0.6M29.2 280.6h0.6M29.2 282.7h0.6M29.2 284.9h0.6M29.2 287.0h0.6M29.2 289.1h0.6M29.2 291.3h0.6M29.2 293.4h0.6M29.2 295.6h0.6M29.2 297.8h0.6M29.2 299.9h0.6M29.2 302.1h0.6M29.2 304.2h0.6M29.2 306.3h0.6M29.2 308.5h0.6M29.2 310.6h0.6M29.2 312.8h0.6M29.2 314.9h0.6M29.2 317.1h0.6M29.2 319.2h0.6M29.2 321.4h0.6" stroke="#888" stroke-width="0.35"/>
<path d="M29.8 321.4v0.6M32.0 321.4v0.6M34.1 321.4v0.6M36.2 321.4v0.6M38.4 321.4v0.6M40.6 321.4v0.6M42.7 321.4v0.6M44.9 321.4v0.6M47.0 321.4v0.6M49.2 321.4v0.6M51.3 321.4v0.6M53.5 321.4v0.6M55.6 321.4v0.6M57.8 321.4v0.6M59.9 321.4v0.6M62.1 321.4v0.6M64.2 321.4v0.6M66.4 321.4v0.6M68.5 321.4v0.6M70.7 321.4v0.6M72.8 321.4v0.6M75.0 321.4v0.6M77.1 321.4v0.6M79.3 321.4v0.6M81.4 321.4v0.6" stroke="#888" stroke-width="0.35"/>
<line x1="28.60" y1="320.80" x2="29.80" y2="320.80" stroke="#666" stroke-width="0.45" />
<text x="27.80" y="321.70" font-size="2.8" font-weight="normal" text-anchor="end" fill="#555" >10<tspan dy="-1" font-size="2">0</tspan></text>
<line x1="28.60" y1="310.72" x2="29.80" y2="310.72" stroke="#666" stroke-width="0.45" />
<text x="27.80" y="311.62" font-size="2.8" font-weight="normal" text-anchor="end" fill="#555" >10<tspan dy="-1" font-size="2">1</tspan></text>
<line x1="28.60" y1="300.64" x2="29.80" y2="300.64" stroke="#666" stroke-width="0.45" />
<text x="27.80" y="301.54" font-size="2.8" font-weight="normal" text-anchor="end" fill="#555" >10<tspan dy="-1" font-size="2">2</tspan></text>
<line x1="28.60" y1="290.56" x2="29.80" y2="290.56" stroke="#666" stroke-width="0.45" />
<text x="27.80" y="291.46" font-size="2.8" font-weight="normal" text-anchor="end" fill="#555" >10<tspan dy="-1" font-size="2">3</tspan></text>
<line x1="28.60" y1="280.48" x2="29.80" y2="280.48" stroke="#666" stroke-width="0.45" />
<text x="27.80" y="281.38" font-size="2.8" font-weight="normal" text-anchor="end" fill="#555" >10<tspan dy="-1" font-size="2">4</tspan></text>
<line x1="28.60" y1="270.40" x2="29.80" y2="270.40" stroke="#666" stroke-width="0.45" />
<text x="27.80" y="271.30" font-size="2.8" font-weight="normal" text-anchor="end" fill="#555" >10<tspan dy="-1" font-size="2">5</tspan></text>
<text transform="translate(22.60,295.60) rotate(-90)" font-size="2.6" text-anchor="middle" fill="#555" stroke="#555" stroke-width="0.08">PE-Cy7-A</text>
<rect x="103.9" y="269.8" width="51.30" height="51.60" fill="#fff" stroke="#a8a8a8" stroke-width="0.5"/>
<g filter="url(#soft)">
<ellipse cx="129.6" cy="306.0" rx="3.4" ry="7" fill="#d000f6" fill-opacity="0.4" filter="url(#bl)"/>
<path d="M140.8 283.6h0.9M125.9 288.1h0.9M133.7 298.2h0.9M132.2 297.2h0.9M128.2 287.3h0.9M132.3 281.6h0.9M132.5 289.0h0.9M135.0 284.2h0.9M129.1 287.6h0.9M129.9 284.3h0.9M130.4 281.6h0.9M134.2 297.2h0.9M131.6 290.6h0.9M127.3 284.6h0.9M130.6 285.0h0.9M125.9 293.3h0.9M131.5 288.9h0.9M127.7 291.6h0.9M128.3 288.7h0.9M132.5 297.6h0.9M135.3 287.3h0.9M137.5 283.1h0.9M130.8 302.1h0.9M143.2 293.0h0.9M129.9 289.1h0.9M125.7 290.9h0.9M129.6 286.2h0.9M137.4 286.0h0.9M139.8 298.5h0.9M134.7 287.5h0.9M129.2 276.6h0.9M133.0 289.9h0.9M133.5 286.8h0.9M134.0 280.5h0.9M121.0 295.7h0.9M137.9 289.3h0.9M130.8 280.1h0.9M126.8 297.5h0.9M128.1 291.7h0.9M130.9 307.4h0.9M135.9 281.8h0.9M129.3 283.1h0.9M124.9 286.7h0.9M137.0 292.4h0.9M134.9 291.0h0.9M129.6 292.7h0.9M131.3 306.9h0.9M140.3 294.9h0.9M134.5 276.6h0.9M131.0 310.5h0.9M127.8 298.3h0.9M137.5 288.9h0.9M130.5 288.5h0.9M135.5 292.2h0.9M138.9 301.2h0.9M131.6 312.1h0.9M130.1 287.3h0.9M130.5 285.2h0.9M129.6 291.5h0.9M135.9 279.8h0.9M124.9 286.0h0.9M130.2 295.5h0.9M127.8 303.7h0.9M129.1 290.3h0.9M131.9 301.1h0.9M133.1 292.2h0.9M129.0 293.3h0.9M133.6 289.3h0.9M131.5 277.8h0.9M129.1 301.2h0.9M138.5 291.4h0.9M121.2 306.2h0.9M130.8 311.9h0.9M129.6 299.8h0.9M128.6 302.6h0.9M137.2 283.8h0.9M137.9 314.2h0.9M130.5 282.6h0.9M132.9 288.9h0.9M124.4 283.9h0.9M132.8 280.2h0.9M136.8 295.5h0.9M130.7 302.9h0.9M127.2 297.3h0.9M125.1 289.5h0.9M134.7 287.9h0.9M131.1 297.0h0.9M138.9 302.1h0.9M133.8 290.0h0.9" stroke="#eba8ff" stroke-width="0.9" fill="none"/>
<path d="M137.6 303.1h0.9M134.8 301.9h0.9M130.7 299.1h0.9M138.5 315.3h0.9M141.4 301.1h0.9M137.5 285.2h0.9M134.7 294.1h0.9M138.2 291.1h0.9M132.3 295.4h0.9M136.8 310.5h0.9M132.7 318.1h0.9M136.1 297.5h0.9M136.7 303.9h0.9M138.2 306.7h0.9M142.5 313.1h0.9M133.5 310.2h0.9M138.0 296.2h0.9M133.2 297.7h0.9M127.8 309.0h0.9M134.9 313.6h0.9M133.8 304.6h0.9M137.9 311.6h0.9M136.6 295.9h0.9M142.5 310.8h0.9M139.9 316.6h0.9M140.0 307.2h0.9M137.1 308.9h0.9M130.8 310.4h0.9M132.5 307.3h0.9M132.4 309.6h0.9M136.2 308.0h0.9M132.7 301.8h0.9M135.4 301.8h0.9M134.2 297.2h0.9M138.0 301.0h0.9M133.0 306.9h0.9M133.0 302.6h0.9M134.0 296.8h0.9M134.9 297.6h0.9M131.6 306.8h0.9M134.6 292.6h0.9M134.3 305.5h0.9M136.9 306.9h0.9M136.4 308.7h0.9M134.0 297.8h0.9M137.5 300.8h0.9M135.6 309.1h0.9M138.5 313.5h0.9M133.4 301.1h0.9M137.3 292.8h0.9M131.6 308.7h0.9M133.6 296.8h0.9M138.1 308.1h0.9M138.5 301.4h0.9M134.7 301.4h0.9M136.5 288.2h0.9M133.4 309.5h0.9M133.1 303.5h0.9M136.0 308.1h0.9M134.1 295.2h0.9M143.4 298.4h0.9M141.0 290.3h0.9M135.9 302.5h0.9M141.5 319.9h0.9M138.7 296.1h0.9M133.0 298.2h0.9M134.0 306.0h0.9M133.1 302.1h0.9M140.2 315.2h0.9M129.7 296.6h0.9M134.4 314.1h0.9M134.5 318.9h0.9M136.7 315.2h0.9M132.9 301.6h0.9M138.8 308.5h0.9M129.7 301.9h0.9M136.1 308.9h0.9M133.6 317.5h0.9M136.1 315.3h0.9M136.8 304.7h0.9M134.6 294.9h0.9M138.3 309.9h0.9M138.5 301.1h0.9M132.4 301.1h0.9M134.6 303.9h0.9M138.7 296.9h0.9M134.0 309.4h0.9M137.2 297.4h0.9M132.3 297.9h0.9M135.8 306.0h0.9M135.4 299.3h0.9M135.0 303.4h0.9M137.4 304.7h0.9M133.0 294.9h0.9M140.2 303.3h0.9M135.0 303.8h0.9M139.1 301.6h0.9M136.1 302.2h0.9M137.4 296.2h0.9M136.2 312.0h0.9M139.3 308.8h0.9M136.5 316.2h0.9M137.8 314.9h0.9M131.8 295.5h0.9M138.1 302.0h0.9M134.2 296.7h0.9M140.2 294.8h0.9M135.9 293.2h0.9M143.2 300.2h0.9M132.4 316.6h0.9M132.9 290.2h0.9M136.7 295.7h0.9M131.0 312.7h0.9M133.3 295.8h0.9M136.1 302.6h0.9M139.1 304.8h0.9M140.6 312.8h0.9M141.2 312.7h0.9M135.8 308.2h0.9M135.7 292.0h0.9M131.9 309.8h0.9M128.2 297.6h0.9M131.6 303.5h0.9M132.3 305.9h0.9M135.0 300.4h0.9M132.9 286.8h0.9M135.8 294.0h0.9M134.7 306.9h0.9M138.9 309.5h0.9M140.2 293.0h0.9M137.7 316.2h0.9M136.8 295.4h0.9M136.8 300.0h0.9M133.6 312.3h0.9M135.0 295.4h0.9M133.5 319.2h0.9M133.0 309.2h0.9M136.2 313.1h0.9M134.7 296.7h0.9M133.6 296.1h0.9M143.7 305.5h0.9M134.6 313.8h0.9M137.7 302.6h0.9M137.5 306.1h0.9M139.1 316.8h0.9M134.6 303.7h0.9M135.0 313.5h0.9M136.8 310.1h0.9M138.4 299.1h0.9M136.0 314.7h0.9M138.5 310.3h0.9M134.7 301.2h0.9M132.9 301.9h0.9M135.4 292.9h0.9M139.2 298.1h0.9M136.4 308.7h0.9M133.9 290.0h0.9M138.6 307.2h0.9M134.8 312.8h0.9M138.4 296.6h0.9M135.4 290.4h0.9M134.8 314.9h0.9M133.0 310.4h0.9M130.9 301.7h0.9M138.5 317.3h0.9M137.0 309.9h0.9M141.0 285.1h0.9M130.3 318.6h0.9M143.3 308.6h0.9M135.8 306.0h0.9M135.7 299.3h0.9M135.6 303.1h0.9M137.7 309.3h0.9M138.7 308.6h0.9M132.6 314.8h0.9M127.3 304.9h0.9M136.6 299.9h0.9" stroke="#dd5cff" stroke-width="0.9" fill="none"/>
<path d="M129.5 307.9h0.9M131.3 298.0h0.9M127.1 302.4h0.9M128.3 306.2h0.9M127.4 311.6h0.9M137.0 313.9h0.9M133.8 299.7h0.9M132.3 306.7h0.9M132.9 313.2h0.9M131.0 295.8h0.9M129.4 303.3h0.9M130.4 306.7h0.9M132.2 296.3h0.9M126.6 306.0h0.9M130.0 303.9h0.9M128.9 306.9h0.9M132.2 305.8h0.9M129.7 294.9h0.9M120.7 297.2h0.9M130.1 291.8h0.9M130.2 305.9h0.9M129.0 301.8h0.9M127.6 311.8h0.9M130.1 306.3h0.9M127.4 307.9h0.9M132.7 306.4h0.9M127.8 299.0h0.9M129.3 300.6h0.9M124.4 312.1h0.9M127.0 293.5h0.9M126.7 318.3h0.9M128.6 298.0h0.9M125.5 311.1h0.9M130.2 307.9h0.9M128.3 309.6h0.9M133.8 309.6h0.9M128.4 297.6h0.9M130.4 316.5h0.9M131.0 298.5h0.9M129.5 314.8h0.9M127.0 309.7h0.9M132.8 317.0h0.9M123.9 295.3h0.9M130.1 311.0h0.9M127.8 306.4h0.9M127.7 314.2h0.9M122.0 308.1h0.9M124.9 302.2h0.9M124.1 300.7h0.9M128.9 306.7h0.9M134.6 305.1h0.9M130.0 308.8h0.9M129.8 315.9h0.9M129.4 307.5h0.9M128.6 306.5h0.9M128.8 312.9h0.9M129.0 306.9h0.9M128.8 311.3h0.9M127.5 312.5h0.9M127.1 310.9h0.9M135.0 308.0h0.9M128.7 298.9h0.9M131.3 306.6h0.9M131.8 302.3h0.9M130.6 318.1h0.9M130.2 304.4h0.9M124.8 306.4h0.9M131.0 310.3h0.9M125.4 299.9h0.9M125.9 300.0h0.9M128.1 308.2h0.9M135.0 307.8h0.9M133.5 295.9h0.9M133.8 311.6h0.9M130.3 311.8h0.9M130.9 318.8h0.9M131.5 295.3h0.9M123.4 316.8h0.9M128.7 315.0h0.9M127.9 302.3h0.9M127.9 308.5h0.9M129.5 302.5h0.9M130.6 310.5h0.9M126.1 299.4h0.9M122.8 304.5h0.9M129.0 302.0h0.9M127.0 305.6h0.9M129.0 310.2h0.9M131.6 309.3h0.9M132.5 300.3h0.9M130.9 308.9h0.9M125.7 302.2h0.9M130.4 307.0h0.9M125.0 303.0h0.9M133.8 311.9h0.9M129.2 315.2h0.9M126.1 305.4h0.9M132.0 304.3h0.9M125.4 310.3h0.9M134.0 290.2h0.9M129.4 298.5h0.9M128.0 297.4h0.9M137.2 302.1h0.9M129.1 302.0h0.9M125.8 303.6h0.9M129.6 317.8h0.9M129.9 316.6h0.9M125.6 307.0h0.9M127.6 296.4h0.9M140.7 304.9h0.9M129.7 301.7h0.9M127.1 299.9h0.9M132.2 303.9h0.9M128.5 307.7h0.9M125.1 308.0h0.9M128.4 309.4h0.9M127.7 306.7h0.9M130.6 312.7h0.9M126.8 312.7h0.9M125.8 305.3h0.9M129.4 307.4h0.9M121.1 300.2h0.9M128.4 312.4h0.9M126.7 316.2h0.9M123.2 307.0h0.9M130.7 306.6h0.9M129.8 312.5h0.9M126.4 310.3h0.9M132.3 305.0h0.9M121.6 298.9h0.9M126.2 299.7h0.9M130.3 301.3h0.9M136.8 310.2h0.9M124.8 304.7h0.9M133.8 310.9h0.9M125.7 313.1h0.9M127.2 310.3h0.9M130.7 303.6h0.9M128.5 313.9h0.9M130.5 306.1h0.9M130.4 317.7h0.9M131.9 309.6h0.9M130.0 296.5h0.9M129.4 303.4h0.9M131.3 302.6h0.9M130.4 299.7h0.9M131.8 301.8h0.9M128.9 310.2h0.9M127.9 306.5h0.9M132.3 317.9h0.9M123.2 300.7h0.9M131.1 312.5h0.9M127.5 307.1h0.9M128.3 298.9h0.9M124.0 298.3h0.9M133.1 304.0h0.9M135.1 310.6h0.9M130.2 310.6h0.9M131.4 312.4h0.9M125.9 302.9h0.9M127.2 307.2h0.9M128.2 298.6h0.9M126.8 318.0h0.9M135.7 301.0h0.9M130.2 306.3h0.9M126.3 311.1h0.9M128.7 317.2h0.9M130.4 304.5h0.9M120.6 305.8h0.9M131.6 301.9h0.9M131.7 310.9h0.9M123.4 305.2h0.9M130.0 311.3h0.9M129.4 306.4h0.9M127.9 304.6h0.9M129.0 299.7h0.9M131.0 304.4h0.9M130.6 303.2h0.9M130.2 307.3h0.9M131.8 309.5h0.9M131.9 305.4h0.9M128.8 304.8h0.9M125.0 305.7h0.9M132.4 311.4h0.9M126.3 308.4h0.9M131.3 297.8h0.9M130.1 308.6h0.9M131.3 308.1h0.9M123.4 293.6h0.9M135.2 304.0h0.9M133.0 314.6h0.9M129.2 299.2h0.9M133.3 306.3h0.9M130.6 309.6h0.9M132.0 313.0h0.9M124.5 297.5h0.9M129.4 306.6h0.9M131.4 305.6h0.9M128.4 319.5h0.9M133.3 313.9h0.9M132.2 301.5h0.9M128.7 306.1h0.9M125.5 300.9h0.9M129.5 298.7h0.9M130.7 309.5h0.9M128.2 304.3h0.9M130.9 309.6h0.9M130.1 298.7h0.9M123.8 319.6h0.9M126.9 304.2h0.9M123.2 301.4h0.9M126.6 311.6h0.9M120.6 297.5h0.9M127.6 303.4h0.9M126.5 303.7h0.9M124.0 308.2h0.9M132.7 307.5h0.9M127.3 314.6h0.9M130.5 299.9h0.9M127.1 302.6h0.9M128.8 314.3h0.9M126.7 305.6h0.9M129.3 298.9h0.9M127.4 310.4h0.9M132.5 294.5h0.9M131.2 304.6h0.9M133.0 310.5h0.9M135.2 308.5h0.9M127.7 301.2h0.9M124.4 310.0h0.9M130.6 311.7h0.9M130.1 296.9h0.9M127.7 304.9h0.9M129.5 311.4h0.9M133.4 308.3h0.9M122.4 300.0h0.9M122.2 301.6h0.9M125.2 308.0h0.9M128.3 313.6h0.9M132.4 303.6h0.9M131.9 306.6h0.9M130.4 315.1h0.9M125.3 306.1h0.9M133.8 301.6h0.9M129.6 307.3h0.9M127.6 298.2h0.9M126.8 300.2h0.9M132.4 308.1h0.9M131.2 298.9h0.9M130.5 307.4h0.9M132.3 301.9h0.9M131.5 315.2h0.9M134.7 300.6h0.9M125.4 297.2h0.9M132.0 310.3h0.9M130.0 301.0h0.9M132.9 316.7h0.9M128.8 305.7h0.9M132.7 309.7h0.9M133.2 303.9h0.9M130.0 304.3h0.9M127.2 304.6h0.9M128.1 309.7h0.9M128.0 307.0h0.9M126.4 298.7h0.9M133.5 300.2h0.9M134.7 312.5h0.9M121.7 302.4h0.9M127.6 306.6h0.9M128.4 302.7h0.9M132.9 305.7h0.9M132.0 302.1h0.9M126.8 315.0h0.9M128.1 299.5h0.9M128.4 313.2h0.9M128.4 301.9h0.9M131.0 312.8h0.9M128.3 304.5h0.9M128.4 317.6h0.9M128.5 309.1h0.9M122.5 307.6h0.9M129.1 304.5h0.9M127.7 297.8h0.9M124.2 307.6h0.9M126.9 305.9h0.9M128.4 303.3h0.9M126.7 318.3h0.9M125.5 303.3h0.9M128.0 299.2h0.9M125.9 312.0h0.9M131.9 307.3h0.9M139.2 311.8h0.9M132.9 301.3h0.9M132.4 317.2h0.9M127.8 318.0h0.9M126.4 299.3h0.9M128.8 301.4h0.9M131.0 299.5h0.9M129.2 294.1h0.9M128.9 313.2h0.9M128.1 308.5h0.9M132.4 299.5h0.9M124.9 307.0h0.9M129.8 304.8h0.9M125.9 314.2h0.9M125.3 304.9h0.9M128.8 311.1h0.9M127.5 301.3h0.9M135.3 301.1h0.9M131.5 305.5h0.9M127.5 306.2h0.9M128.2 308.5h0.9M120.9 306.3h0.9M129.2 300.3h0.9M134.8 310.6h0.9M129.7 304.6h0.9M133.3 303.7h0.9M126.4 310.9h0.9M125.9 301.5h0.9M133.5 296.3h0.9M128.8 307.3h0.9M129.8 297.3h0.9M128.2 304.4h0.9M135.0 312.9h0.9M126.6 312.1h0.9" stroke="#d000f6" stroke-width="0.9" fill="none"/>
<path d="M144.1 290.5h0.6M141.7 295.0h0.6M143.8 290.1h0.6M143.3 309.5h0.6M143.7 300.8h0.6M139.7 297.9h0.6M143.4 294.6h0.6M141.1 299.4h0.6M141.8 295.8h0.6M140.7 299.3h0.6M145.5 293.5h0.6M144.3 288.2h0.6M144.8 304.2h0.6M143.0 306.9h0.6M142.0 300.4h0.6M147.0 299.8h0.6" stroke="#bfe3bf" stroke-width="0.6" fill="none"/>
<path d="M140.8 311.2h0.6M143.4 290.5h0.6M142.6 301.8h0.6M142.5 303.7h0.6M141.8 302.0h0.6M141.9 308.2h0.6M141.7 299.1h0.6M142.4 305.4h0.6M142.2 303.5h0.6M143.0 308.0h0.6M142.1 300.9h0.6M142.4 292.0h0.6M141.5 298.2h0.6M142.0 299.9h0.6M143.8 305.9h0.6M142.2 314.0h0.6M141.9 300.3h0.6M142.9 306.4h0.6M142.6 308.5h0.6M141.6 298.5h0.6M141.4 302.6h0.6M142.7 296.4h0.6M141.5 294.9h0.6M143.4 306.3h0.6" stroke="#78c07e" stroke-width="0.6" fill="none"/>
</g>
<line x1="122" y1="320.9" x2="140" y2="320.9" stroke="#dd5cff" stroke-width="0.6" stroke-opacity="0.6"/>
<line x1="141.50" y1="269.80" x2="141.50" y2="321.40" stroke="#7a7a7a" stroke-width="0.6" />
<line x1="103.90" y1="300.20" x2="155.20" y2="300.20" stroke="#7a7a7a" stroke-width="0.6" />
<line x1="103.90" y1="269.80" x2="103.90" y2="321.40" stroke="#666" stroke-width="0.9" />
<line x1="103.90" y1="321.40" x2="155.20" y2="321.40" stroke="#999" stroke-width="0.5" />
<text x="106.30" y="278.80" font-size="6.8" font-weight="bold" text-anchor="start" fill="#111" >20</text>
<text x="128.05" y="268.20" font-size="2.7" font-weight="normal" text-anchor="middle" fill="#444" >Q1-R4&amp;R3: P1</text>
<text x="154.60" y="273.20" font-size="2.6" font-weight="normal" text-anchor="end" fill="#444" >Q4-UR(2.83%)</text>
<text x="104.90" y="319.90" font-size="2.6" font-weight="normal" text-anchor="start" fill="#444" >Q4-LL(8.93%)</text>
<text x="154.60" y="319.90" font-size="2.6" font-weight="normal" text-anchor="end" fill="#444" >Q4-LR(1.22%)</text>
<line x1="104.70" y1="321.40" x2="104.70" y2="322.30" stroke="#777" stroke-width="0.45" />
<text x="104.70" y="326.30" font-size="2.8" font-weight="normal" text-anchor="middle" fill="#555" >10<tspan dy="-1" font-size="2">0</tspan></text>
<line x1="114.64" y1="321.40" x2="114.64" y2="322.30" stroke="#777" stroke-width="0.45" />
<text x="114.64" y="326.30" font-size="2.8" font-weight="normal" text-anchor="middle" fill="#555" >10<tspan dy="-1" font-size="2">1</tspan></text>
<line x1="124.58" y1="321.40" x2="124.58" y2="322.30" stroke="#777" stroke-width="0.45" />
<text x="124.58" y="326.30" font-size="2.8" font-weight="normal" text-anchor="middle" fill="#555" >10<tspan dy="-1" font-size="2">2</tspan></text>
<line x1="134.52" y1="321.40" x2="134.52" y2="322.30" stroke="#777" stroke-width="0.45" />
<text x="134.52" y="326.30" font-size="2.8" font-weight="normal" text-anchor="middle" fill="#555" >10<tspan dy="-1" font-size="2">3</tspan></text>
<line x1="144.46" y1="321.40" x2="144.46" y2="322.30" stroke="#777" stroke-width="0.45" />
<text x="144.46" y="326.30" font-size="2.8" font-weight="normal" text-anchor="middle" fill="#555" >10<tspan dy="-1" font-size="2">4</tspan></text>
<line x1="154.40" y1="321.40" x2="154.40" y2="322.30" stroke="#777" stroke-width="0.45" />
<text x="154.40" y="326.30" font-size="2.8" font-weight="normal" text-anchor="middle" fill="#555" >10<tspan dy="-1" font-size="2">5</tspan></text>
<text x="129.55" y="329.20" font-size="2.6" font-weight="normal" text-anchor="middle" fill="#555" >FITC-A</text>
<path d="M103.3 269.8h0.6M103.3 271.9h0.6M103.3 274.1h0.6M103.3 276.2h0.6M103.3 278.4h0.6M103.3 280.6h0.6M103.3 282.7h0.6M103.3 284.9h0.6M103.3 287.0h0.6M103.3 289.1h0.6M103.3 291.3h0.6M103.3 293.4h0.6M103.3 295.6h0.6M103.3 297.8h0.6M103.3 299.9h0.6M103.3 302.1h0.6M103.3 304.2h0.6M103.3 306.3h0.6M103.3 308.5h0.6M103.3 310.6h0.6M103.3 312.8h0.6M103.3 314.9h0.6M103.3 317.1h0.6M103.3 319.2h0.6M103.3 321.4h0.6" stroke="#888" stroke-width="0.35"/>
<path d="M103.9 321.4v0.6M106.0 321.4v0.6M108.2 321.4v0.6M110.3 321.4v0.6M112.5 321.4v0.6M114.6 321.4v0.6M116.7 321.4v0.6M118.9 321.4v0.6M121.0 321.4v0.6M123.1 321.4v0.6M125.3 321.4v0.6M127.4 321.4v0.6M129.6 321.4v0.6M131.7 321.4v0.6M133.8 321.4v0.6M136.0 321.4v0.6M138.1 321.4v0.6M140.2 321.4v0.6M142.4 321.4v0.6M144.5 321.4v0.6M146.6 321.4v0.6M148.8 321.4v0.6M150.9 321.4v0.6M153.1 321.4v0.6M155.2 321.4v0.6" stroke="#888" stroke-width="0.35"/>
<line x1="102.70" y1="320.80" x2="103.90" y2="320.80" stroke="#666" stroke-width="0.45" />
<text x="101.90" y="321.70" font-size="2.8" font-weight="normal" text-anchor="end" fill="#555" >10<tspan dy="-1" font-size="2">0</tspan></text>
<line x1="102.70" y1="310.72" x2="103.90" y2="310.72" stroke="#666" stroke-width="0.45" />
<text x="101.90" y="311.62" font-size="2.8" font-weight="normal" text-anchor="end" fill="#555" >10<tspan dy="-1" font-size="2">1</tspan></text>
<line x1="102.70" y1="300.64" x2="103.90" y2="300.64" stroke="#666" stroke-width="0.45" />
<text x="101.90" y="301.54" font-size="2.8" font-weight="normal" text-anchor="end" fill="#555" >10<tspan dy="-1" font-size="2">2</tspan></text>
<line x1="102.70" y1="290.56" x2="103.90" y2="290.56" stroke="#666" stroke-width="0.45" />
<text x="101.90" y="291.46" font-size="2.8" font-weight="normal" text-anchor="end" fill="#555" >10<tspan dy="-1" font-size="2">3</tspan></text>
<line x1="102.70" y1="280.48" x2="103.90" y2="280.48" stroke="#666" stroke-width="0.45" />
<text x="101.90" y="281.38" font-size="2.8" font-weight="normal" text-anchor="end" fill="#555" >10<tspan dy="-1" font-size="2">4</tspan></text>
<line x1="102.70" y1="270.40" x2="103.90" y2="270.40" stroke="#666" stroke-width="0.45" />
<text x="101.90" y="271.30" font-size="2.8" font-weight="normal" text-anchor="end" fill="#555" >10<tspan dy="-1" font-size="2">5</tspan></text>
<text transform="translate(96.70,295.60) rotate(-90)" font-size="2.6" text-anchor="middle" fill="#555" stroke="#555" stroke-width="0.08">PE-Cy7-A</text>
<rect x="213.0" y="137.5" width="52.20" height="52.00" fill="#fff" stroke="#a8a8a8" stroke-width="0.5"/>
<g filter="url(#soft)">
<ellipse cx="233.8" cy="175.0" rx="4.4" ry="3.4" fill="#1010e0" fill-opacity="0.6" filter="url(#bl)"/>
<path d="M235.1 179.9h0.9M234.4 163.1h0.9M239.8 174.4h0.9M230.6 169.7h0.9M228.7 178.2h0.9M232.0 175.6h0.9M236.1 170.0h0.9M236.8 170.1h0.9M227.4 168.9h0.9M227.5 177.7h0.9M238.5 167.6h0.9M238.3 173.8h0.9M240.4 165.0h0.9M234.7 164.6h0.9M230.4 182.3h0.9M222.5 165.1h0.9M237.5 177.8h0.9M229.8 156.8h0.9M224.2 174.7h0.9M241.2 178.8h0.9M230.1 182.1h0.9M233.4 176.6h0.9M233.4 183.9h0.9M231.4 155.9h0.9M232.7 173.4h0.9M236.2 166.6h0.9M233.2 163.5h0.9M233.1 172.6h0.9M236.0 184.3h0.9M222.5 175.9h0.9M237.1 163.3h0.9M235.0 171.9h0.9M228.5 177.4h0.9M246.0 177.0h0.9M239.2 180.0h0.9M233.8 179.3h0.9M229.7 173.3h0.9M238.8 181.8h0.9M232.8 169.8h0.9M237.4 171.4h0.9M235.4 178.0h0.9M230.0 178.6h0.9M236.8 170.0h0.9M227.1 167.3h0.9M234.3 179.0h0.9M222.8 177.3h0.9M235.7 163.5h0.9M239.7 175.0h0.9M237.2 164.7h0.9M227.9 178.8h0.9M242.9 174.7h0.9M233.4 168.6h0.9M224.3 179.3h0.9M234.0 181.2h0.9M230.2 179.8h0.9M230.3 176.4h0.9M242.8 166.7h0.9M240.0 171.9h0.9M229.0 173.5h0.9M238.4 166.7h0.9M233.0 167.8h0.9M230.0 170.4h0.9M239.5 168.3h0.9M242.0 169.2h0.9M230.4 180.0h0.9M242.9 167.1h0.9M238.0 163.3h0.9M232.1 169.2h0.9M238.8 162.7h0.9M231.5 166.9h0.9M235.1 162.9h0.9M235.8 160.8h0.9M239.5 162.2h0.9M223.3 184.4h0.9M242.0 165.8h0.9M228.1 175.5h0.9M246.6 176.5h0.9M238.5 163.2h0.9M224.0 174.9h0.9M240.6 173.0h0.9M234.5 182.3h0.9M229.6 180.1h0.9M239.5 167.4h0.9M235.3 172.8h0.9M238.0 164.8h0.9M233.2 172.7h0.9M234.7 172.2h0.9M236.0 170.6h0.9M231.6 179.6h0.9M230.7 169.6h0.9M229.3 163.5h0.9M237.2 171.7h0.9M233.8 175.3h0.9M233.5 177.0h0.9M245.2 174.6h0.9M233.0 184.2h0.9M238.7 159.7h0.9M242.4 173.6h0.9M239.6 163.5h0.9M229.5 167.2h0.9M237.8 163.7h0.9M230.4 179.0h0.9M230.7 172.9h0.9M229.2 159.4h0.9M234.1 171.1h0.9M226.1 179.2h0.9M239.4 178.5h0.9M231.5 163.5h0.9M234.0 173.2h0.9M233.5 167.7h0.9M228.7 166.6h0.9M234.1 168.4h0.9M244.4 170.0h0.9M237.2 168.6h0.9M233.5 164.8h0.9M231.7 161.0h0.9M222.3 181.9h0.9M228.3 175.2h0.9M233.8 167.8h0.9M238.8 167.9h0.9M237.1 169.3h0.9M240.3 179.0h0.9M234.9 180.1h0.9M237.5 183.5h0.9M233.8 160.6h0.9M235.8 173.7h0.9M232.4 170.5h0.9M233.0 162.8h0.9M244.6 166.3h0.9M228.2 160.4h0.9M229.6 171.7h0.9M243.2 176.4h0.9M230.3 162.8h0.9M228.0 171.4h0.9M239.6 168.5h0.9M244.0 186.2h0.9M235.5 156.1h0.9M241.0 171.3h0.9M238.5 179.2h0.9M228.6 172.5h0.9M235.6 166.5h0.9M238.6 171.0h0.9M232.2 185.8h0.9M235.5 184.0h0.9M233.6 179.6h0.9M230.1 173.1h0.9M240.9 156.0h0.9M237.7 170.0h0.9M240.9 173.3h0.9M234.1 162.6h0.9M251.8 166.6h0.9M232.6 166.7h0.9M232.8 173.6h0.9M226.7 179.7h0.9M233.0 176.4h0.9M222.2 168.2h0.9M232.8 169.1h0.9M230.6 174.3h0.9M236.9 164.8h0.9M223.0 177.3h0.9M232.6 179.8h0.9M239.6 171.2h0.9M226.1 169.3h0.9M230.3 181.1h0.9M224.6 178.7h0.9M225.5 167.8h0.9M226.2 166.9h0.9M231.9 174.7h0.9M231.1 177.0h0.9M244.8 173.2h0.9M227.8 170.7h0.9M233.9 169.3h0.9M241.3 180.5h0.9M246.3 175.8h0.9M218.9 171.0h0.9M238.4 166.1h0.9M231.0 178.7h0.9M235.4 163.7h0.9M231.1 149.3h0.9M234.5 163.0h0.9M234.2 163.3h0.9M229.1 168.2h0.9M250.8 163.3h0.9M227.6 168.0h0.9M240.7 177.8h0.9M238.6 169.6h0.9M235.3 166.3h0.9M233.4 166.1h0.9M226.0 164.7h0.9M245.8 174.9h0.9M230.1 171.2h0.9M231.9 180.9h0.9M234.3 167.3h0.9M238.5 174.3h0.9M230.5 166.3h0.9M235.3 160.0h0.9M229.2 179.4h0.9M239.6 180.2h0.9M231.9 167.6h0.9" stroke="#aab4f6" stroke-width="0.9" fill="none"/>
<path d="M231.6 165.3h0.9M236.0 158.1h0.9M229.7 150.0h0.9M230.5 167.0h0.9M235.4 155.2h0.9M237.7 166.9h0.9M232.3 161.9h0.9M230.1 161.4h0.9M239.5 152.3h0.9M234.7 156.3h0.9M234.3 159.9h0.9M235.3 164.0h0.9M236.0 164.8h0.9M237.3 165.1h0.9M232.8 161.6h0.9M233.6 155.2h0.9M239.8 161.0h0.9M234.7 148.8h0.9M234.0 163.4h0.9M234.0 156.7h0.9M238.5 157.9h0.9M233.7 159.0h0.9M233.9 164.8h0.9M236.1 159.1h0.9M233.6 158.4h0.9M239.1 158.0h0.9M236.3 151.5h0.9M235.4 163.0h0.9M238.0 161.1h0.9M236.1 161.1h0.9M237.4 169.9h0.9M235.1 155.4h0.9M236.2 158.9h0.9M236.3 163.4h0.9M235.0 157.3h0.9M235.4 153.2h0.9M235.3 155.0h0.9M235.8 160.1h0.9M234.0 153.4h0.9M234.7 156.1h0.9M234.2 163.0h0.9M237.1 153.0h0.9M237.1 166.4h0.9M237.6 160.9h0.9M234.3 168.3h0.9M233.7 151.8h0.9M234.8 161.0h0.9M231.8 153.3h0.9M239.9 160.1h0.9M236.7 156.5h0.9M230.5 158.6h0.9M238.2 156.1h0.9M229.8 158.6h0.9M233.8 159.6h0.9M231.8 157.9h0.9M233.1 164.0h0.9M235.0 163.9h0.9M234.4 148.7h0.9M229.3 162.2h0.9M236.9 163.9h0.9M234.4 150.4h0.9M233.3 161.6h0.9M238.3 157.8h0.9M233.1 155.6h0.9M237.3 163.9h0.9M229.7 165.7h0.9M232.1 152.0h0.9M230.3 155.8h0.9M240.8 172.5h0.9M231.2 156.1h0.9M235.0 161.6h0.9M233.3 151.5h0.9M233.5 156.0h0.9M229.8 160.2h0.9M230.7 150.7h0.9M238.6 164.3h0.9M238.5 160.1h0.9M233.5 159.1h0.9M230.9 163.3h0.9M235.3 158.0h0.9M229.6 158.9h0.9M238.9 166.9h0.9M236.9 157.7h0.9M235.0 162.3h0.9M235.1 164.8h0.9M232.8 147.7h0.9M228.1 154.9h0.9M230.9 162.9h0.9M237.5 159.5h0.9M236.0 159.9h0.9M235.0 157.1h0.9M233.5 165.5h0.9M233.9 159.3h0.9M237.8 164.5h0.9M233.5 160.8h0.9M231.9 160.2h0.9M235.4 159.5h0.9M235.0 161.4h0.9M227.8 155.3h0.9M234.8 157.0h0.9M232.0 158.3h0.9M238.9 158.3h0.9M232.8 157.1h0.9M231.4 162.0h0.9M231.9 164.1h0.9M237.0 162.4h0.9M237.4 159.1h0.9M229.9 159.2h0.9M236.3 151.7h0.9M231.3 165.1h0.9M235.8 166.3h0.9M236.4 159.8h0.9M235.7 163.8h0.9M234.5 158.4h0.9M235.4 157.9h0.9M241.1 155.6h0.9M230.5 152.9h0.9M237.4 157.4h0.9M235.0 158.4h0.9M235.3 152.1h0.9M234.8 156.6h0.9M237.5 162.7h0.9M231.2 154.6h0.9M236.1 165.6h0.9M236.6 158.7h0.9M237.6 147.5h0.9M233.1 154.5h0.9M231.8 162.4h0.9M235.3 160.9h0.9M234.2 162.7h0.9M236.7 156.6h0.9M237.1 154.8h0.9M239.3 152.9h0.9M233.8 154.0h0.9M234.7 166.2h0.9M232.6 168.5h0.9M238.4 161.5h0.9M233.0 164.1h0.9M226.9 155.6h0.9M237.2 159.3h0.9M241.3 156.1h0.9M231.0 158.4h0.9M236.2 168.2h0.9M229.8 160.3h0.9M238.0 156.1h0.9M233.4 153.3h0.9M236.7 163.7h0.9M236.2 160.8h0.9M237.3 158.9h0.9M236.5 163.7h0.9M238.1 162.1h0.9M234.8 163.1h0.9M230.4 150.5h0.9M239.0 160.2h0.9M231.7 156.5h0.9M234.2 159.9h0.9M232.5 164.6h0.9M230.0 173.8h0.9M231.6 168.0h0.9M236.4 150.9h0.9M231.3 159.8h0.9M235.3 157.3h0.9M234.6 160.3h0.9M231.5 159.8h0.9M240.8 156.2h0.9M231.8 162.9h0.9M238.3 164.8h0.9M232.9 159.1h0.9M235.1 158.4h0.9M235.7 165.0h0.9M236.1 159.4h0.9M234.0 168.7h0.9M231.2 169.8h0.9M236.6 160.0h0.9M232.6 168.9h0.9M237.9 164.2h0.9M240.3 150.3h0.9M234.9 157.9h0.9M232.6 159.9h0.9M236.1 162.2h0.9M234.2 152.7h0.9M236.1 162.6h0.9M240.4 164.3h0.9M234.6 153.6h0.9M242.1 156.0h0.9M235.1 163.3h0.9M236.0 166.3h0.9M231.8 156.0h0.9M235.1 153.2h0.9M232.9 166.6h0.9M235.4 159.0h0.9M233.0 159.7h0.9M234.5 154.0h0.9M236.8 152.9h0.9M238.1 157.8h0.9M228.3 151.5h0.9M235.4 155.0h0.9M239.6 166.6h0.9M240.4 164.1h0.9M238.3 156.4h0.9M240.4 173.4h0.9M233.8 170.2h0.9M234.3 176.4h0.9M233.7 171.1h0.9M238.5 178.3h0.9M233.6 177.8h0.9M238.9 171.5h0.9M233.8 168.4h0.9M228.9 176.5h0.9M229.7 176.4h0.9M235.8 167.6h0.9M231.6 180.4h0.9M234.1 175.4h0.9M230.5 169.3h0.9M226.1 185.3h0.9M233.1 171.9h0.9M234.6 168.1h0.9M241.0 181.1h0.9M230.3 176.2h0.9M229.5 178.1h0.9M229.8 174.5h0.9M240.5 176.9h0.9M232.4 169.6h0.9M226.1 179.3h0.9M236.6 175.2h0.9M240.3 175.5h0.9M230.4 174.6h0.9M233.5 175.0h0.9M246.4 177.1h0.9M235.4 174.1h0.9M230.6 171.4h0.9M224.6 173.4h0.9M226.4 168.4h0.9M229.3 167.7h0.9M240.9 179.5h0.9M229.2 182.3h0.9M237.3 165.9h0.9M234.1 171.4h0.9M225.3 174.1h0.9M239.8 176.6h0.9M226.7 172.6h0.9M230.2 179.1h0.9M233.5 171.5h0.9M229.4 167.9h0.9M229.8 178.2h0.9M224.4 175.7h0.9M233.4 177.9h0.9M228.3 178.3h0.9M241.8 183.2h0.9M225.9 174.9h0.9M232.9 175.4h0.9M229.1 178.1h0.9M245.7 180.4h0.9M229.2 172.9h0.9M237.7 175.5h0.9M230.2 179.4h0.9M236.6 178.7h0.9M233.1 179.6h0.9M231.7 171.0h0.9M234.0 170.0h0.9M240.3 177.6h0.9M225.6 175.6h0.9M238.2 173.7h0.9M236.1 172.9h0.9M233.6 174.7h0.9M236.4 171.5h0.9M228.3 176.2h0.9M231.4 176.9h0.9M231.5 170.3h0.9M237.7 176.0h0.9M237.7 173.8h0.9M232.2 179.6h0.9M225.5 181.3h0.9M236.6 174.8h0.9M234.4 177.2h0.9M230.1 176.0h0.9M229.2 168.3h0.9M235.0 175.4h0.9M237.2 177.0h0.9M237.5 177.9h0.9M228.7 179.4h0.9M247.4 173.0h0.9M227.6 177.5h0.9M238.6 178.7h0.9M241.7 170.0h0.9M235.9 176.7h0.9M240.3 171.8h0.9M234.1 173.7h0.9M233.2 174.5h0.9M233.2 168.6h0.9M233.8 175.2h0.9M232.0 162.2h0.9M230.5 172.6h0.9M229.6 180.8h0.9M238.6 174.3h0.9M237.0 186.9h0.9M229.1 176.7h0.9M231.0 180.4h0.9M239.5 174.6h0.9M237.1 172.1h0.9M226.0 178.0h0.9M242.2 173.9h0.9M231.3 168.5h0.9M244.8 170.7h0.9M229.1 174.3h0.9M240.1 175.2h0.9M233.9 175.1h0.9M238.2 174.9h0.9M234.8 174.7h0.9M228.4 179.9h0.9M230.5 170.2h0.9M231.8 175.1h0.9M238.1 169.7h0.9M227.6 175.6h0.9M235.9 171.0h0.9M228.3 175.6h0.9M233.2 169.2h0.9M229.6 180.4h0.9M228.6 178.8h0.9M226.3 180.4h0.9M242.0 172.7h0.9M230.5 177.3h0.9M227.7 177.0h0.9M240.1 176.0h0.9M235.6 174.4h0.9M239.0 172.0h0.9M242.0 174.9h0.9M232.3 169.1h0.9M231.7 175.9h0.9M240.2 169.2h0.9M233.3 172.5h0.9M227.9 175.0h0.9M230.1 178.1h0.9M220.4 177.7h0.9M224.4 168.0h0.9M236.6 173.8h0.9M234.6 171.5h0.9M228.7 172.3h0.9M233.7 172.0h0.9M231.8 171.9h0.9M235.1 170.9h0.9M223.5 165.5h0.9M233.9 175.3h0.9M238.8 172.3h0.9M228.2 169.6h0.9M237.8 172.7h0.9M238.9 174.7h0.9M232.6 168.3h0.9M230.6 177.9h0.9M230.9 177.5h0.9M225.7 178.7h0.9M247.9 179.0h0.9M235.6 170.5h0.9M231.3 172.6h0.9M234.9 167.7h0.9M229.6 177.9h0.9M234.7 177.7h0.9M238.2 170.9h0.9M227.2 176.7h0.9M234.1 175.3h0.9M229.9 178.7h0.9M236.4 179.1h0.9M232.2 177.5h0.9M233.7 171.6h0.9M233.5 169.0h0.9M233.0 175.6h0.9M237.4 171.2h0.9M227.3 172.4h0.9M223.6 172.6h0.9M247.1 175.5h0.9M230.1 172.5h0.9M242.8 170.8h0.9M233.4 174.7h0.9M230.3 172.4h0.9M225.5 172.0h0.9M240.5 180.1h0.9M232.5 177.5h0.9M236.3 175.4h0.9M233.3 179.4h0.9M236.8 174.2h0.9M232.8 178.4h0.9M231.0 172.4h0.9M232.6 173.2h0.9M240.3 176.3h0.9M233.5 173.1h0.9M241.0 176.6h0.9M244.4 178.3h0.9M232.9 173.0h0.9M232.5 175.7h0.9M237.9 176.8h0.9M241.8 169.5h0.9M234.1 169.9h0.9M228.8 172.8h0.9M230.7 171.5h0.9M226.3 179.1h0.9M232.3 178.5h0.9M228.4 166.6h0.9M231.0 178.2h0.9M231.1 176.4h0.9M228.5 180.0h0.9M236.1 178.8h0.9M232.6 179.6h0.9M234.3 173.2h0.9M230.7 175.2h0.9M229.4 170.7h0.9M234.6 177.6h0.9M232.5 178.0h0.9M241.9 170.4h0.9M235.2 171.5h0.9M230.7 175.6h0.9M222.1 177.2h0.9M238.2 177.0h0.9M237.2 181.5h0.9M232.1 178.9h0.9M241.2 176.8h0.9M225.0 174.4h0.9M232.5 169.2h0.9M233.6 177.7h0.9M232.7 174.3h0.9M241.3 172.8h0.9M229.2 175.1h0.9M239.6 177.1h0.9M234.3 173.2h0.9M240.1 178.2h0.9M225.3 176.2h0.9M221.9 180.4h0.9M237.0 172.7h0.9M227.5 173.9h0.9M225.2 177.0h0.9M231.4 168.6h0.9M233.8 179.3h0.9M227.6 173.7h0.9M243.0 175.7h0.9M231.2 175.7h0.9M237.9 171.4h0.9M233.5 169.1h0.9M226.0 169.4h0.9M238.2 176.1h0.9M237.6 179.4h0.9M234.2 175.8h0.9M236.0 176.7h0.9M228.6 174.0h0.9M233.2 175.1h0.9M230.2 174.5h0.9M235.4 175.7h0.9M236.9 178.0h0.9M236.7 178.5h0.9M238.2 180.0h0.9M237.1 172.8h0.9M245.6 179.1h0.9M240.2 177.6h0.9M234.2 170.9h0.9M236.1 173.7h0.9M231.9 167.3h0.9M241.7 170.8h0.9M228.4 176.7h0.9M236.8 172.1h0.9M233.9 175.9h0.9M234.7 176.9h0.9M237.8 173.7h0.9M225.8 182.8h0.9M232.0 171.4h0.9M237.7 177.1h0.9M230.9 183.5h0.9M222.2 179.6h0.9M233.8 176.1h0.9M235.5 174.2h0.9M235.5 170.3h0.9M231.9 181.7h0.9M221.0 179.4h0.9M222.7 171.9h0.9M238.4 173.5h0.9M231.0 169.6h0.9M233.3 174.4h0.9M230.7 169.4h0.9M234.7 176.5h0.9M239.7 176.9h0.9M241.6 179.3h0.9M219.8 181.0h0.9M233.4 171.2h0.9" stroke="#4a5af0" stroke-width="0.9" fill="none"/>
<path d="M234.7 177.3h0.9M229.5 172.0h0.9M235.3 173.7h0.9M237.4 175.5h0.9M232.1 171.8h0.9M235.1 170.9h0.9M230.1 171.8h0.9M238.0 179.1h0.9M233.0 174.1h0.9M235.4 178.0h0.9M231.4 180.3h0.9M233.0 177.7h0.9M227.4 174.9h0.9M231.7 179.8h0.9M233.0 171.9h0.9M238.6 173.3h0.9M233.5 172.0h0.9M235.3 175.5h0.9M232.8 174.0h0.9M232.1 173.3h0.9M229.9 177.9h0.9M235.9 171.6h0.9M230.5 176.0h0.9M239.5 174.5h0.9M232.7 174.4h0.9M234.2 174.6h0.9M236.4 177.4h0.9M235.0 178.8h0.9M232.9 173.7h0.9M241.3 170.3h0.9M229.5 169.3h0.9M234.5 172.4h0.9M236.3 169.9h0.9M233.2 174.1h0.9M230.7 177.7h0.9M232.5 176.1h0.9M232.2 175.4h0.9M232.4 175.2h0.9M233.3 173.4h0.9M234.7 174.6h0.9M231.0 172.5h0.9M234.7 178.2h0.9M230.1 174.0h0.9M234.7 177.5h0.9M235.4 172.1h0.9M233.6 177.2h0.9M234.2 174.5h0.9M230.5 175.4h0.9M233.4 175.1h0.9M237.5 177.9h0.9M231.5 175.6h0.9M232.7 175.2h0.9M237.8 177.2h0.9M233.7 173.4h0.9M233.1 175.9h0.9M232.2 177.7h0.9M233.6 172.2h0.9M238.9 168.0h0.9M232.8 174.7h0.9M236.1 177.7h0.9M237.4 178.8h0.9M234.4 175.3h0.9M236.2 174.9h0.9M230.3 173.9h0.9M235.3 176.5h0.9M230.7 177.9h0.9M234.4 171.4h0.9M234.8 177.4h0.9M234.9 174.2h0.9M231.5 177.7h0.9M234.1 175.0h0.9M232.5 172.5h0.9M228.7 174.2h0.9M236.4 176.8h0.9M231.8 178.7h0.9M233.0 172.6h0.9M236.1 178.3h0.9M232.5 172.1h0.9M233.4 169.1h0.9M233.7 178.7h0.9M234.3 173.2h0.9M235.4 173.8h0.9M236.9 174.1h0.9M238.9 174.2h0.9M234.0 172.7h0.9M230.2 175.8h0.9M234.5 172.7h0.9M235.0 174.0h0.9M232.1 174.8h0.9M234.6 176.7h0.9M236.8 175.9h0.9M231.6 173.3h0.9M234.5 172.1h0.9M233.1 174.1h0.9M233.3 175.4h0.9M236.3 178.9h0.9M235.9 177.4h0.9M230.8 177.5h0.9M236.9 171.7h0.9M240.1 173.6h0.9M227.3 179.2h0.9M233.7 173.1h0.9M232.1 177.6h0.9M234.2 174.1h0.9M236.6 172.7h0.9M231.3 173.6h0.9M231.6 176.7h0.9M232.9 172.5h0.9M232.4 170.2h0.9M234.0 175.2h0.9M235.1 174.4h0.9M234.6 172.8h0.9M233.6 175.4h0.9M230.4 176.4h0.9M233.9 175.1h0.9M232.3 179.8h0.9M233.6 173.2h0.9M231.3 176.4h0.9M233.0 173.1h0.9M231.7 177.2h0.9" stroke="#1010e0" stroke-width="0.9" fill="none"/>
<path d="M252.3 168.7h0.7M250.7 175.0h0.7M254.3 179.9h0.7M250.2 178.7h0.7M251.0 176.9h0.7M254.1 181.2h0.7M251.0 175.2h0.7M253.0 171.9h0.7M252.3 176.9h0.7M248.6 170.8h0.7M257.1 176.2h0.7M250.9 165.0h0.7M250.1 176.5h0.7M253.6 176.2h0.7M253.4 171.0h0.7M255.5 168.5h0.7M253.2 172.7h0.7M248.5 178.4h0.7" stroke="#f8d0c0" stroke-width="0.7" fill="none"/>
<path d="M251.3 172.2h0.7M253.3 172.9h0.7M253.4 171.5h0.7M252.1 177.9h0.7M250.7 171.7h0.7M250.9 169.1h0.7M251.3 171.7h0.7M254.4 172.2h0.7M248.9 176.1h0.7M252.8 173.4h0.7M252.0 175.5h0.7M250.9 173.6h0.7M251.8 178.0h0.7M253.4 174.0h0.7M249.9 175.9h0.7M251.6 176.7h0.7M251.7 174.0h0.7M252.5 171.5h0.7M250.8 179.8h0.7M250.5 176.0h0.7M252.5 175.7h0.7M253.4 169.8h0.7M252.8 167.8h0.7M251.7 174.4h0.7M252.9 176.5h0.7M250.5 172.7h0.7M251.4 171.6h0.7M250.6 171.7h0.7M253.1 177.2h0.7M252.6 178.1h0.7" stroke="#f2a88e" stroke-width="0.7" fill="none"/>
</g>
<line x1="222" y1="189.0" x2="244" y2="189.0" stroke="#4a5af0" stroke-width="0.6" stroke-opacity="0.6"/>
<line x1="249.60" y1="137.50" x2="249.60" y2="189.50" stroke="#7a7a7a" stroke-width="0.6" />
<line x1="213.00" y1="167.30" x2="265.20" y2="167.30" stroke="#7a7a7a" stroke-width="0.6" />
<line x1="213.00" y1="137.50" x2="213.00" y2="189.50" stroke="#666" stroke-width="0.9" />
<line x1="213.00" y1="189.50" x2="265.20" y2="189.50" stroke="#999" stroke-width="0.5" />
<text x="215.40" y="146.50" font-size="6.8" font-weight="bold" text-anchor="start" fill="#111" >27</text>
<text x="237.60" y="135.90" font-size="2.7" font-weight="normal" text-anchor="middle" fill="#444" >Q1-R4&amp;R3: P1</text>
<text x="264.60" y="140.90" font-size="2.6" font-weight="normal" text-anchor="end" fill="#444" >Q1-UR(2.83%)</text>
<text x="214.00" y="188.00" font-size="2.6" font-weight="normal" text-anchor="start" fill="#444" >Q1-LL(8.93%)</text>
<text x="264.60" y="188.00" font-size="2.6" font-weight="normal" text-anchor="end" fill="#444" >Q1-LR(1.22%)</text>
<line x1="213.80" y1="189.50" x2="213.80" y2="190.40" stroke="#777" stroke-width="0.45" />
<text x="213.80" y="194.40" font-size="2.8" font-weight="normal" text-anchor="middle" fill="#555" >10<tspan dy="-1" font-size="2">0</tspan></text>
<line x1="223.92" y1="189.50" x2="223.92" y2="190.40" stroke="#777" stroke-width="0.45" />
<text x="223.92" y="194.40" font-size="2.8" font-weight="normal" text-anchor="middle" fill="#555" >10<tspan dy="-1" font-size="2">1</tspan></text>
<line x1="234.04" y1="189.50" x2="234.04" y2="190.40" stroke="#777" stroke-width="0.45" />
<text x="234.04" y="194.40" font-size="2.8" font-weight="normal" text-anchor="middle" fill="#555" >10<tspan dy="-1" font-size="2">2</tspan></text>
<line x1="244.16" y1="189.50" x2="244.16" y2="190.40" stroke="#777" stroke-width="0.45" />
<text x="244.16" y="194.40" font-size="2.8" font-weight="normal" text-anchor="middle" fill="#555" >10<tspan dy="-1" font-size="2">3</tspan></text>
<line x1="254.28" y1="189.50" x2="254.28" y2="190.40" stroke="#777" stroke-width="0.45" />
<text x="254.28" y="194.40" font-size="2.8" font-weight="normal" text-anchor="middle" fill="#555" >10<tspan dy="-1" font-size="2">4</tspan></text>
<line x1="264.40" y1="189.50" x2="264.40" y2="190.40" stroke="#777" stroke-width="0.45" />
<text x="264.40" y="194.40" font-size="2.8" font-weight="normal" text-anchor="middle" fill="#555" >10<tspan dy="-1" font-size="2">5</tspan></text>
<text x="239.10" y="197.30" font-size="2.6" font-weight="normal" text-anchor="middle" fill="#555" >FITC-A</text>
<path d="M212.4 137.5h0.6M212.4 139.7h0.6M212.4 141.8h0.6M212.4 144.0h0.6M212.4 146.2h0.6M212.4 148.3h0.6M212.4 150.5h0.6M212.4 152.7h0.6M212.4 154.8h0.6M212.4 157.0h0.6M212.4 159.2h0.6M212.4 161.3h0.6M212.4 163.5h0.6M212.4 165.7h0.6M212.4 167.8h0.6M212.4 170.0h0.6M212.4 172.2h0.6M212.4 174.3h0.6M212.4 176.5h0.6M212.4 178.7h0.6M212.4 180.8h0.6M212.4 183.0h0.6M212.4 185.2h0.6M212.4 187.3h0.6M212.4 189.5h0.6" stroke="#888" stroke-width="0.35"/>
<path d="M213.0 189.5v0.6M215.2 189.5v0.6M217.3 189.5v0.6M219.5 189.5v0.6M221.7 189.5v0.6M223.9 189.5v0.6M226.1 189.5v0.6M228.2 189.5v0.6M230.4 189.5v0.6M232.6 189.5v0.6M234.8 189.5v0.6M236.9 189.5v0.6M239.1 189.5v0.6M241.3 189.5v0.6M243.4 189.5v0.6M245.6 189.5v0.6M247.8 189.5v0.6M250.0 189.5v0.6M252.1 189.5v0.6M254.3 189.5v0.6M256.5 189.5v0.6M258.7 189.5v0.6M260.8 189.5v0.6M263.0 189.5v0.6M265.2 189.5v0.6" stroke="#888" stroke-width="0.35"/>
<line x1="211.80" y1="188.90" x2="213.00" y2="188.90" stroke="#666" stroke-width="0.45" />
<text x="211.00" y="189.80" font-size="2.8" font-weight="normal" text-anchor="end" fill="#555" >10<tspan dy="-1" font-size="2">0</tspan></text>
<line x1="211.80" y1="178.74" x2="213.00" y2="178.74" stroke="#666" stroke-width="0.45" />
<text x="211.00" y="179.64" font-size="2.8" font-weight="normal" text-anchor="end" fill="#555" >10<tspan dy="-1" font-size="2">1</tspan></text>
<line x1="211.80" y1="168.58" x2="213.00" y2="168.58" stroke="#666" stroke-width="0.45" />
<text x="211.00" y="169.48" font-size="2.8" font-weight="normal" text-anchor="end" fill="#555" >10<tspan dy="-1" font-size="2">2</tspan></text>
<line x1="211.80" y1="158.42" x2="213.00" y2="158.42" stroke="#666" stroke-width="0.45" />
<text x="211.00" y="159.32" font-size="2.8" font-weight="normal" text-anchor="end" fill="#555" >10<tspan dy="-1" font-size="2">3</tspan></text>
<line x1="211.80" y1="148.26" x2="213.00" y2="148.26" stroke="#666" stroke-width="0.45" />
<text x="211.00" y="149.16" font-size="2.8" font-weight="normal" text-anchor="end" fill="#555" >10<tspan dy="-1" font-size="2">4</tspan></text>
<line x1="211.80" y1="138.10" x2="213.00" y2="138.10" stroke="#666" stroke-width="0.45" />
<text x="211.00" y="139.00" font-size="2.8" font-weight="normal" text-anchor="end" fill="#555" >10<tspan dy="-1" font-size="2">5</tspan></text>
<text transform="translate(205.80,163.50) rotate(-90)" font-size="2.6" text-anchor="middle" fill="#555" stroke="#555" stroke-width="0.08">APC-A</text>
<rect x="286.0" y="137.5" width="52.60" height="52.00" fill="#fff" stroke="#a8a8a8" stroke-width="0.5"/>
<g filter="url(#soft)">
<ellipse cx="307.0" cy="173.8" rx="4.4" ry="3.4" fill="#1010e0" fill-opacity="0.6" filter="url(#bl)"/>
<path d="M319.0 176.9h0.9M312.6 172.7h0.9M300.5 178.9h0.9M304.1 157.8h0.9M312.4 169.5h0.9M308.1 175.8h0.9M306.7 175.1h0.9M315.7 169.6h0.9M306.0 172.1h0.9M311.9 169.0h0.9M308.6 167.0h0.9M307.6 176.0h0.9M303.3 170.7h0.9M299.5 166.8h0.9M308.5 175.9h0.9M302.0 171.3h0.9M302.6 174.4h0.9M309.6 175.3h0.9M306.8 161.5h0.9M304.8 162.1h0.9M304.1 171.6h0.9M314.4 167.2h0.9M303.5 173.5h0.9M296.0 186.7h0.9M299.0 179.5h0.9M313.8 179.1h0.9M307.5 177.4h0.9M306.1 179.1h0.9M304.2 166.0h0.9M310.3 168.7h0.9M312.0 165.7h0.9M309.6 164.8h0.9M307.5 187.9h0.9M301.8 162.9h0.9M298.7 170.3h0.9M317.5 168.7h0.9M313.5 170.7h0.9M304.4 186.8h0.9M314.4 158.4h0.9M302.4 175.1h0.9M311.9 170.4h0.9M309.9 176.0h0.9M306.0 179.4h0.9M303.1 177.6h0.9M313.4 173.5h0.9M306.1 171.9h0.9M295.1 173.9h0.9M299.8 157.1h0.9M312.5 165.3h0.9M310.1 172.3h0.9M297.8 165.4h0.9M306.5 175.5h0.9M308.5 162.7h0.9M305.0 172.8h0.9M300.7 168.8h0.9M304.9 156.3h0.9M318.1 178.5h0.9M305.4 179.0h0.9M302.0 183.3h0.9M305.9 173.0h0.9M304.7 172.7h0.9M310.0 172.2h0.9M303.2 177.6h0.9M311.3 172.0h0.9M314.2 166.6h0.9M315.5 170.8h0.9M316.9 168.7h0.9M306.6 173.6h0.9M314.4 182.6h0.9M305.4 166.6h0.9M312.5 181.2h0.9M312.2 169.6h0.9M315.5 171.8h0.9M309.0 176.6h0.9M304.8 155.3h0.9M309.3 177.3h0.9M310.6 176.0h0.9M309.0 179.7h0.9M308.7 183.0h0.9M308.4 177.9h0.9M304.9 174.2h0.9M310.5 173.0h0.9M317.0 172.3h0.9M314.6 174.6h0.9M314.4 165.4h0.9M305.9 179.1h0.9M303.3 174.9h0.9M311.4 173.4h0.9M310.6 176.0h0.9M306.7 175.1h0.9M305.1 168.7h0.9M298.8 171.2h0.9M298.2 172.2h0.9M309.3 164.0h0.9M308.5 174.1h0.9M306.0 165.3h0.9M307.4 175.0h0.9M313.4 186.3h0.9M296.6 174.5h0.9M310.6 167.3h0.9M309.9 187.5h0.9M308.7 182.1h0.9M314.2 168.7h0.9M294.6 180.6h0.9M317.0 159.0h0.9M306.9 166.9h0.9M309.2 172.5h0.9M314.7 167.6h0.9M319.3 159.4h0.9M307.5 176.7h0.9M313.2 169.4h0.9M296.9 173.6h0.9M312.3 156.9h0.9M305.2 176.2h0.9M294.1 170.6h0.9M298.8 162.1h0.9M310.4 180.4h0.9M314.8 167.1h0.9M311.0 158.9h0.9M299.5 176.0h0.9M305.7 164.5h0.9M297.2 170.3h0.9M321.0 157.1h0.9M302.0 180.3h0.9M296.9 167.4h0.9M308.5 180.4h0.9M307.6 185.5h0.9M307.9 171.2h0.9M310.6 174.6h0.9M299.3 165.0h0.9M306.7 174.5h0.9M300.9 166.7h0.9M303.7 174.5h0.9M305.6 176.5h0.9M310.3 165.2h0.9M306.3 162.8h0.9M308.7 178.0h0.9M302.3 158.9h0.9M311.1 169.9h0.9M307.9 175.4h0.9M310.3 178.9h0.9M305.4 155.6h0.9M305.2 169.7h0.9M305.7 174.9h0.9M306.6 181.6h0.9M304.4 172.0h0.9M306.0 187.7h0.9M302.5 164.6h0.9M305.8 177.7h0.9M308.1 170.7h0.9M299.5 156.6h0.9M306.8 170.2h0.9M318.3 174.8h0.9M310.5 179.2h0.9M302.8 162.8h0.9M305.9 183.0h0.9M313.8 167.7h0.9M300.8 178.9h0.9M314.4 163.8h0.9M317.4 166.2h0.9M312.4 170.5h0.9M306.1 167.4h0.9M312.1 176.6h0.9M312.8 169.9h0.9M303.1 188.0h0.9M318.1 170.6h0.9M301.3 183.2h0.9M308.8 172.4h0.9M313.0 174.6h0.9M308.7 186.8h0.9M297.0 176.8h0.9M302.3 172.6h0.9M307.1 174.0h0.9M293.9 177.2h0.9M321.7 168.9h0.9M313.3 176.7h0.9M309.8 168.3h0.9M311.8 174.0h0.9M316.6 178.2h0.9M303.9 150.2h0.9M316.9 175.6h0.9M309.1 167.5h0.9M322.8 182.0h0.9M308.6 169.3h0.9M311.4 182.1h0.9M311.1 179.1h0.9M309.6 174.7h0.9M300.6 172.9h0.9M308.4 171.5h0.9M306.6 174.3h0.9M304.6 170.5h0.9M302.8 163.0h0.9M304.9 168.9h0.9M301.7 153.8h0.9M317.8 179.6h0.9M305.8 176.2h0.9M301.5 159.9h0.9" stroke="#aab4f6" stroke-width="0.9" fill="none"/>
<path d="M307.0 163.1h0.9M311.2 160.3h0.9M305.9 158.4h0.9M307.5 166.9h0.9M310.0 167.6h0.9M309.8 155.6h0.9M310.2 164.4h0.9M307.4 161.9h0.9M306.8 153.1h0.9M307.5 163.4h0.9M306.7 148.1h0.9M305.5 165.0h0.9M308.3 165.2h0.9M305.7 157.4h0.9M305.0 155.5h0.9M309.1 160.2h0.9M306.4 161.0h0.9M304.2 157.5h0.9M303.6 151.8h0.9M304.0 153.9h0.9M312.0 166.5h0.9M311.1 156.5h0.9M309.4 153.7h0.9M306.2 160.7h0.9M303.4 160.5h0.9M309.4 148.9h0.9M301.1 158.1h0.9M307.4 160.2h0.9M304.6 162.4h0.9M308.0 155.7h0.9M312.2 160.8h0.9M309.7 169.0h0.9M306.4 158.4h0.9M303.0 158.3h0.9M308.9 172.3h0.9M309.2 160.5h0.9M304.3 155.1h0.9M302.7 152.4h0.9M308.0 161.0h0.9M305.2 158.4h0.9M305.5 162.7h0.9M309.4 156.6h0.9M306.5 153.2h0.9M306.4 170.7h0.9M307.7 163.9h0.9M309.3 167.1h0.9M306.8 154.9h0.9M310.5 164.2h0.9M305.9 165.1h0.9M307.7 159.3h0.9M312.7 162.2h0.9M308.6 157.9h0.9M308.2 164.9h0.9M308.9 155.6h0.9M308.9 158.9h0.9M308.5 158.5h0.9M301.7 151.2h0.9M306.7 148.2h0.9M303.6 169.9h0.9M309.6 157.1h0.9M308.6 148.0h0.9M308.4 164.5h0.9M308.2 152.8h0.9M310.3 156.8h0.9M306.1 160.5h0.9M306.9 170.0h0.9M307.3 170.5h0.9M308.9 153.1h0.9M307.7 159.8h0.9M311.6 166.1h0.9M314.7 156.1h0.9M306.5 171.5h0.9M305.3 161.3h0.9M312.1 154.3h0.9M306.8 155.7h0.9M309.1 161.6h0.9M307.6 162.9h0.9M305.6 157.6h0.9M309.0 169.9h0.9M307.6 159.8h0.9M311.3 159.9h0.9M311.3 160.7h0.9M310.9 160.4h0.9M305.2 155.1h0.9M308.9 169.2h0.9M312.8 157.9h0.9M314.6 153.7h0.9M305.4 164.3h0.9M303.5 164.2h0.9M308.7 162.7h0.9M304.4 161.5h0.9M310.3 159.2h0.9M310.5 159.6h0.9M308.6 157.9h0.9M304.0 158.7h0.9M309.1 155.6h0.9M302.4 151.5h0.9M311.3 158.3h0.9M305.6 165.9h0.9M307.2 151.7h0.9M306.5 154.9h0.9M307.2 154.8h0.9M307.9 161.9h0.9M306.1 158.5h0.9M307.3 163.8h0.9M305.7 163.4h0.9M311.1 158.5h0.9M305.1 157.9h0.9M302.8 156.7h0.9M304.4 158.6h0.9M306.7 162.2h0.9M308.0 161.7h0.9M307.6 161.0h0.9M304.6 162.9h0.9M311.3 165.3h0.9M304.0 161.7h0.9M303.2 163.4h0.9M307.1 157.1h0.9M305.7 158.3h0.9M307.7 154.5h0.9M307.9 160.8h0.9M309.2 159.3h0.9M307.7 171.5h0.9M310.5 161.2h0.9M303.9 162.7h0.9M309.3 145.7h0.9M307.3 161.5h0.9M307.8 160.0h0.9M307.3 166.7h0.9M308.8 158.0h0.9M307.1 170.3h0.9M305.3 156.8h0.9M308.6 160.3h0.9M308.5 166.5h0.9M310.8 161.7h0.9M307.8 159.2h0.9M307.1 164.7h0.9M304.2 154.1h0.9M306.5 154.5h0.9M305.7 165.7h0.9M301.5 162.5h0.9M304.1 158.2h0.9M306.1 154.3h0.9M303.6 159.9h0.9M299.5 148.5h0.9M306.6 165.2h0.9M312.8 158.0h0.9M305.5 158.0h0.9M309.0 164.4h0.9M305.1 162.0h0.9M307.6 165.4h0.9M306.6 158.4h0.9M305.4 152.6h0.9M308.5 163.2h0.9M310.8 160.9h0.9M306.4 154.7h0.9M304.5 155.7h0.9M308.6 160.0h0.9M301.4 159.0h0.9M306.9 154.1h0.9M307.7 162.3h0.9M304.9 152.5h0.9M306.8 160.9h0.9M307.0 167.5h0.9M308.1 154.3h0.9M309.9 156.1h0.9M309.6 160.0h0.9M311.1 154.3h0.9M309.7 161.7h0.9M305.2 163.2h0.9M314.0 161.4h0.9M305.6 158.7h0.9M311.3 160.8h0.9M311.8 156.1h0.9M311.3 151.3h0.9M307.3 158.0h0.9M306.4 165.9h0.9M306.1 161.3h0.9M312.9 163.8h0.9M306.6 155.7h0.9M302.2 161.5h0.9M310.2 165.3h0.9M308.4 170.7h0.9M309.9 147.5h0.9M305.3 163.7h0.9M306.6 163.9h0.9M314.8 155.5h0.9M313.9 159.1h0.9M303.6 160.0h0.9M310.2 156.5h0.9M312.1 155.0h0.9M307.2 164.3h0.9M307.1 156.6h0.9M307.7 162.9h0.9M312.5 166.6h0.9M312.9 159.4h0.9M303.1 159.3h0.9M306.6 154.3h0.9M306.3 159.2h0.9M307.9 164.3h0.9M302.6 177.9h0.9M307.3 176.4h0.9M313.3 169.3h0.9M315.1 171.2h0.9M309.1 177.7h0.9M311.7 168.2h0.9M307.9 177.9h0.9M306.5 173.5h0.9M307.5 179.7h0.9M304.4 170.4h0.9M301.6 171.9h0.9M306.0 175.1h0.9M306.7 167.6h0.9M299.3 176.3h0.9M310.7 168.9h0.9M311.8 165.0h0.9M318.7 175.9h0.9M298.9 175.6h0.9M307.0 172.2h0.9M305.3 173.0h0.9M306.6 170.5h0.9M304.3 175.8h0.9M309.8 169.0h0.9M304.7 179.4h0.9M310.7 179.8h0.9M300.4 170.1h0.9M296.3 166.8h0.9M305.3 170.0h0.9M301.7 171.3h0.9M306.2 176.8h0.9M309.9 167.5h0.9M314.6 172.6h0.9M302.1 173.7h0.9M305.1 168.8h0.9M314.9 171.7h0.9M304.1 175.7h0.9M315.5 175.5h0.9M302.6 175.4h0.9M312.7 175.2h0.9M310.4 172.1h0.9M306.8 167.7h0.9M303.6 169.7h0.9M307.2 179.2h0.9M295.9 169.0h0.9M302.5 173.5h0.9M313.0 171.0h0.9M303.2 178.2h0.9M309.0 175.7h0.9M311.3 171.1h0.9M308.3 171.4h0.9M303.5 174.3h0.9M309.3 169.2h0.9M303.3 176.0h0.9M308.0 176.2h0.9M305.6 170.9h0.9M311.1 176.0h0.9M292.9 176.9h0.9M303.3 176.2h0.9M315.0 172.8h0.9M302.3 174.7h0.9M307.6 175.8h0.9M300.1 174.7h0.9M311.6 176.3h0.9M310.3 178.1h0.9M303.0 178.2h0.9M308.2 170.2h0.9M305.7 174.8h0.9M308.8 178.7h0.9M308.1 172.0h0.9M318.1 172.6h0.9M303.0 177.1h0.9M305.1 171.0h0.9M301.8 178.1h0.9M301.8 174.2h0.9M304.9 173.1h0.9M303.0 174.4h0.9M310.2 177.6h0.9M305.3 169.6h0.9M299.7 173.8h0.9M294.7 178.6h0.9M307.3 174.3h0.9M300.1 171.5h0.9M303.4 176.2h0.9M305.1 176.0h0.9M309.7 166.9h0.9M306.0 178.4h0.9M304.6 174.3h0.9M306.5 169.4h0.9M318.1 173.3h0.9M310.3 172.2h0.9M314.2 178.0h0.9M313.1 177.3h0.9M310.7 178.8h0.9M309.2 174.3h0.9M311.2 170.6h0.9M294.4 176.7h0.9M307.9 171.3h0.9M305.8 170.4h0.9M302.9 174.5h0.9M307.8 176.8h0.9M306.7 176.1h0.9M310.6 171.3h0.9M298.7 171.4h0.9M305.9 171.9h0.9M318.2 171.4h0.9M309.5 171.1h0.9M310.6 169.3h0.9M311.9 174.5h0.9M305.1 169.5h0.9M315.5 171.7h0.9M314.4 165.2h0.9M301.1 180.4h0.9M316.1 173.9h0.9M312.2 176.0h0.9M305.4 174.3h0.9M301.4 169.0h0.9M307.8 176.5h0.9M307.9 169.4h0.9M311.4 174.2h0.9M310.9 172.8h0.9M305.8 177.6h0.9M314.0 169.5h0.9M301.6 177.3h0.9M309.0 174.0h0.9M302.2 177.5h0.9M308.1 174.6h0.9M309.1 172.0h0.9M309.1 174.3h0.9M310.8 175.2h0.9M300.7 171.3h0.9M305.8 178.0h0.9M303.9 177.9h0.9M312.6 177.0h0.9M318.5 173.8h0.9M308.8 178.2h0.9M309.2 177.4h0.9M306.5 178.9h0.9M308.9 167.0h0.9M312.6 173.2h0.9M302.7 172.8h0.9M305.7 178.0h0.9M308.8 173.6h0.9M307.1 170.6h0.9M303.9 172.2h0.9M306.0 169.7h0.9M305.1 177.4h0.9M309.4 173.8h0.9M308.9 173.0h0.9M301.2 177.0h0.9M318.4 175.7h0.9M310.6 182.7h0.9M301.1 175.7h0.9M305.4 172.9h0.9M298.8 173.6h0.9M309.2 168.1h0.9M306.0 172.1h0.9M302.1 176.1h0.9M315.4 175.3h0.9M312.3 176.6h0.9M306.8 175.9h0.9M313.8 172.3h0.9M306.4 168.9h0.9M297.8 170.9h0.9M311.6 175.2h0.9M308.5 178.6h0.9M298.3 178.8h0.9M307.6 176.6h0.9M314.1 170.9h0.9M302.8 175.3h0.9M306.9 171.8h0.9M306.5 171.3h0.9M307.8 172.5h0.9M315.7 170.1h0.9M310.1 174.1h0.9M315.1 170.4h0.9M304.8 180.0h0.9M303.8 172.5h0.9M305.2 170.4h0.9M313.3 179.3h0.9M306.4 171.2h0.9M300.4 176.2h0.9M304.5 175.8h0.9M295.1 172.3h0.9M310.3 175.3h0.9M292.8 174.9h0.9M307.8 173.8h0.9M305.4 172.3h0.9M307.9 175.7h0.9M291.3 173.8h0.9M311.8 173.1h0.9M313.3 170.5h0.9M316.8 177.3h0.9M305.1 183.7h0.9M314.4 179.5h0.9M301.2 173.5h0.9M309.5 177.6h0.9M307.5 169.2h0.9M313.3 173.2h0.9M309.4 172.7h0.9M306.6 168.9h0.9M310.5 171.6h0.9M298.2 175.3h0.9M307.0 177.3h0.9M311.3 169.5h0.9M306.3 173.8h0.9M307.6 170.1h0.9M307.5 177.3h0.9M313.4 179.0h0.9M311.0 164.9h0.9M305.8 171.9h0.9M292.6 179.3h0.9M311.7 173.8h0.9M309.0 175.6h0.9M306.1 178.7h0.9M316.3 176.8h0.9M304.4 174.7h0.9M312.1 176.4h0.9M303.7 177.2h0.9M310.8 175.9h0.9M305.1 173.7h0.9M297.6 173.7h0.9M304.9 172.8h0.9M305.7 172.7h0.9M307.6 174.2h0.9M304.1 173.4h0.9M306.7 175.6h0.9M309.4 172.6h0.9M303.0 168.0h0.9M300.9 175.3h0.9M302.5 179.6h0.9M306.4 172.5h0.9M306.4 171.9h0.9M304.0 174.1h0.9M299.9 174.3h0.9M306.7 170.6h0.9M312.3 175.1h0.9M312.6 171.5h0.9M300.9 169.6h0.9M299.3 167.1h0.9M315.0 172.1h0.9M308.1 171.9h0.9M306.4 179.4h0.9M298.4 170.3h0.9M307.8 170.6h0.9M310.6 178.4h0.9M311.6 176.5h0.9M306.3 177.4h0.9M303.1 169.6h0.9M305.8 172.9h0.9M313.3 170.3h0.9M312.9 171.1h0.9M300.8 167.8h0.9M307.0 168.7h0.9M308.2 174.0h0.9M305.1 167.0h0.9M304.5 175.4h0.9M298.2 176.3h0.9M307.2 171.9h0.9M308.2 176.1h0.9M307.0 171.1h0.9M311.1 171.4h0.9M309.0 177.3h0.9M313.7 179.5h0.9M312.3 174.3h0.9M306.1 174.5h0.9M309.8 184.5h0.9M310.5 170.9h0.9M314.8 168.2h0.9M312.2 169.3h0.9M301.7 172.0h0.9M305.7 169.0h0.9M310.3 173.4h0.9M313.9 170.2h0.9M298.1 176.3h0.9M306.0 177.3h0.9M295.4 169.4h0.9M307.6 180.8h0.9M301.0 167.0h0.9M304.9 178.9h0.9M315.1 169.0h0.9" stroke="#4a5af0" stroke-width="0.9" fill="none"/>
<path d="M305.2 169.4h0.9M304.6 171.5h0.9M307.9 176.5h0.9M313.0 173.0h0.9M308.9 174.3h0.9M307.1 178.4h0.9M308.6 177.5h0.9M307.5 175.9h0.9M308.1 173.6h0.9M304.9 172.9h0.9M306.8 172.9h0.9M305.9 172.1h0.9M309.0 173.2h0.9M306.4 173.3h0.9M310.2 172.5h0.9M310.4 171.8h0.9M310.7 175.3h0.9M305.5 174.9h0.9M309.7 171.6h0.9M306.2 174.6h0.9M306.2 173.1h0.9M306.8 174.6h0.9M308.8 177.3h0.9M305.9 180.8h0.9M305.9 178.0h0.9M306.4 170.4h0.9M305.6 173.0h0.9M309.5 169.0h0.9M305.1 173.5h0.9M308.5 174.7h0.9M309.0 173.4h0.9M306.1 176.7h0.9M311.2 174.7h0.9M307.2 171.8h0.9M312.2 174.8h0.9M308.4 170.0h0.9M308.3 179.6h0.9M306.3 173.3h0.9M310.7 173.4h0.9M309.0 178.4h0.9M303.7 171.8h0.9M308.5 174.1h0.9M306.9 173.4h0.9M307.1 174.7h0.9M305.5 173.2h0.9M307.4 171.2h0.9M307.9 168.6h0.9M308.4 173.5h0.9M303.7 177.0h0.9M303.7 178.7h0.9M304.9 176.7h0.9M306.6 177.6h0.9M306.2 176.3h0.9M305.9 169.4h0.9M307.8 174.9h0.9M307.8 177.8h0.9M304.9 170.4h0.9M307.4 172.2h0.9M306.5 173.8h0.9M304.6 176.4h0.9M306.4 178.1h0.9M307.4 176.3h0.9M306.0 172.2h0.9M305.4 171.7h0.9M307.9 174.1h0.9M304.0 170.2h0.9M304.5 169.5h0.9M304.5 170.2h0.9M308.6 171.1h0.9M305.2 173.5h0.9M306.8 174.8h0.9M308.7 175.3h0.9M305.9 176.8h0.9M307.7 172.1h0.9M310.6 171.0h0.9M308.0 176.8h0.9M307.1 174.6h0.9M307.1 175.4h0.9M307.3 173.8h0.9M308.6 169.3h0.9M307.4 173.1h0.9M311.8 174.5h0.9M305.1 175.4h0.9M305.8 171.0h0.9M306.0 175.0h0.9M309.8 176.3h0.9M307.4 173.4h0.9M307.3 176.7h0.9M306.4 176.6h0.9M304.7 173.8h0.9M308.8 175.5h0.9M307.3 172.6h0.9M302.1 172.8h0.9M304.6 172.9h0.9M310.8 172.0h0.9M308.9 173.8h0.9M303.9 174.1h0.9M308.7 171.0h0.9M303.8 172.9h0.9M308.6 172.4h0.9M307.8 174.9h0.9M306.8 174.9h0.9M310.0 173.4h0.9M307.6 171.3h0.9M304.9 173.6h0.9M308.9 172.2h0.9M303.2 176.0h0.9M312.8 167.7h0.9M304.0 174.1h0.9M308.0 171.6h0.9M307.6 176.4h0.9M306.1 175.5h0.9M307.1 171.6h0.9M305.2 172.4h0.9M310.2 176.6h0.9M307.4 170.1h0.9M305.5 172.9h0.9M301.8 173.8h0.9M307.5 170.7h0.9M305.7 172.7h0.9" stroke="#1010e0" stroke-width="0.9" fill="none"/>
<path d="M325.3 174.1h0.7M323.3 175.4h0.7M326.9 174.3h0.7M323.2 174.0h0.7M325.4 175.6h0.7M324.7 178.1h0.7M328.0 178.1h0.7M326.2 180.1h0.7M325.6 173.2h0.7M322.5 174.1h0.7M328.3 169.3h0.7M327.3 167.7h0.7M326.3 183.0h0.7M325.7 168.2h0.7M326.3 173.3h0.7M327.4 171.4h0.7M321.9 171.6h0.7M326.9 179.1h0.7" stroke="#f8d0c0" stroke-width="0.7" fill="none"/>
<path d="M325.2 175.1h0.7M324.1 173.5h0.7M321.5 173.1h0.7M326.0 174.0h0.7M325.0 175.1h0.7M322.6 169.9h0.7M323.5 174.2h0.7M324.2 168.2h0.7M325.8 173.0h0.7M325.9 179.1h0.7M323.1 169.9h0.7M326.0 177.4h0.7M325.3 174.5h0.7M325.6 175.3h0.7M323.5 175.6h0.7M325.9 172.4h0.7M323.9 172.1h0.7M324.2 175.0h0.7M325.7 173.6h0.7M324.5 168.6h0.7M324.4 170.7h0.7M324.2 174.5h0.7M325.0 183.3h0.7M323.9 172.0h0.7M323.6 172.8h0.7M324.5 176.3h0.7M322.7 176.0h0.7M325.6 172.0h0.7M324.1 174.0h0.7M325.4 173.1h0.7" stroke="#f2a88e" stroke-width="0.7" fill="none"/>
</g>
<line x1="296" y1="189.0" x2="318" y2="189.0" stroke="#4a5af0" stroke-width="0.6" stroke-opacity="0.6"/>
<line x1="323.50" y1="137.50" x2="323.50" y2="189.50" stroke="#7a7a7a" stroke-width="0.6" />
<line x1="286.00" y1="167.30" x2="338.60" y2="167.30" stroke="#7a7a7a" stroke-width="0.6" />
<line x1="286.00" y1="137.50" x2="286.00" y2="189.50" stroke="#666" stroke-width="0.9" />
<line x1="286.00" y1="189.50" x2="338.60" y2="189.50" stroke="#999" stroke-width="0.5" />
<text x="288.40" y="146.50" font-size="6.8" font-weight="bold" text-anchor="start" fill="#111" >33</text>
<text x="310.80" y="135.90" font-size="2.7" font-weight="normal" text-anchor="middle" fill="#444" >Q1-R4&amp;R3: P1</text>
<text x="338.00" y="140.90" font-size="2.6" font-weight="normal" text-anchor="end" fill="#444" >Q1-UR(2.83%)</text>
<text x="287.00" y="188.00" font-size="2.6" font-weight="normal" text-anchor="start" fill="#444" >Q1-LL(8.93%)</text>
<text x="338.00" y="188.00" font-size="2.6" font-weight="normal" text-anchor="end" fill="#444" >Q1-LR(1.22%)</text>
<line x1="286.80" y1="189.50" x2="286.80" y2="190.40" stroke="#777" stroke-width="0.45" />
<text x="286.80" y="194.40" font-size="2.8" font-weight="normal" text-anchor="middle" fill="#555" >10<tspan dy="-1" font-size="2">0</tspan></text>
<line x1="297.00" y1="189.50" x2="297.00" y2="190.40" stroke="#777" stroke-width="0.45" />
<text x="297.00" y="194.40" font-size="2.8" font-weight="normal" text-anchor="middle" fill="#555" >10<tspan dy="-1" font-size="2">1</tspan></text>
<line x1="307.20" y1="189.50" x2="307.20" y2="190.40" stroke="#777" stroke-width="0.45" />
<text x="307.20" y="194.40" font-size="2.8" font-weight="normal" text-anchor="middle" fill="#555" >10<tspan dy="-1" font-size="2">2</tspan></text>
<line x1="317.40" y1="189.50" x2="317.40" y2="190.40" stroke="#777" stroke-width="0.45" />
<text x="317.40" y="194.40" font-size="2.8" font-weight="normal" text-anchor="middle" fill="#555" >10<tspan dy="-1" font-size="2">3</tspan></text>
<line x1="327.60" y1="189.50" x2="327.60" y2="190.40" stroke="#777" stroke-width="0.45" />
<text x="327.60" y="194.40" font-size="2.8" font-weight="normal" text-anchor="middle" fill="#555" >10<tspan dy="-1" font-size="2">4</tspan></text>
<line x1="337.80" y1="189.50" x2="337.80" y2="190.40" stroke="#777" stroke-width="0.45" />
<text x="337.80" y="194.40" font-size="2.8" font-weight="normal" text-anchor="middle" fill="#555" >10<tspan dy="-1" font-size="2">5</tspan></text>
<text x="312.30" y="197.30" font-size="2.6" font-weight="normal" text-anchor="middle" fill="#555" >FITC-A</text>
<path d="M285.4 137.5h0.6M285.4 139.7h0.6M285.4 141.8h0.6M285.4 144.0h0.6M285.4 146.2h0.6M285.4 148.3h0.6M285.4 150.5h0.6M285.4 152.7h0.6M285.4 154.8h0.6M285.4 157.0h0.6M285.4 159.2h0.6M285.4 161.3h0.6M285.4 163.5h0.6M285.4 165.7h0.6M285.4 167.8h0.6M285.4 170.0h0.6M285.4 172.2h0.6M285.4 174.3h0.6M285.4 176.5h0.6M285.4 178.7h0.6M285.4 180.8h0.6M285.4 183.0h0.6M285.4 185.2h0.6M285.4 187.3h0.6M285.4 189.5h0.6" stroke="#888" stroke-width="0.35"/>
<path d="M286.0 189.5v0.6M288.2 189.5v0.6M290.4 189.5v0.6M292.6 189.5v0.6M294.8 189.5v0.6M297.0 189.5v0.6M299.1 189.5v0.6M301.3 189.5v0.6M303.5 189.5v0.6M305.7 189.5v0.6M307.9 189.5v0.6M310.1 189.5v0.6M312.3 189.5v0.6M314.5 189.5v0.6M316.7 189.5v0.6M318.9 189.5v0.6M321.1 189.5v0.6M323.3 189.5v0.6M325.5 189.5v0.6M327.6 189.5v0.6M329.8 189.5v0.6M332.0 189.5v0.6M334.2 189.5v0.6M336.4 189.5v0.6M338.6 189.5v0.6" stroke="#888" stroke-width="0.35"/>
<line x1="284.80" y1="188.90" x2="286.00" y2="188.90" stroke="#666" stroke-width="0.45" />
<text x="284.00" y="189.80" font-size="2.8" font-weight="normal" text-anchor="end" fill="#555" >10<tspan dy="-1" font-size="2">0</tspan></text>
<line x1="284.80" y1="178.74" x2="286.00" y2="178.74" stroke="#666" stroke-width="0.45" />
<text x="284.00" y="179.64" font-size="2.8" font-weight="normal" text-anchor="end" fill="#555" >10<tspan dy="-1" font-size="2">1</tspan></text>
<line x1="284.80" y1="168.58" x2="286.00" y2="168.58" stroke="#666" stroke-width="0.45" />
<text x="284.00" y="169.48" font-size="2.8" font-weight="normal" text-anchor="end" fill="#555" >10<tspan dy="-1" font-size="2">2</tspan></text>
<line x1="284.80" y1="158.42" x2="286.00" y2="158.42" stroke="#666" stroke-width="0.45" />
<text x="284.00" y="159.32" font-size="2.8" font-weight="normal" text-anchor="end" fill="#555" >10<tspan dy="-1" font-size="2">3</tspan></text>
<line x1="284.80" y1="148.26" x2="286.00" y2="148.26" stroke="#666" stroke-width="0.45" />
<text x="284.00" y="149.16" font-size="2.8" font-weight="normal" text-anchor="end" fill="#555" >10<tspan dy="-1" font-size="2">4</tspan></text>
<line x1="284.80" y1="138.10" x2="286.00" y2="138.10" stroke="#666" stroke-width="0.45" />
<text x="284.00" y="139.00" font-size="2.8" font-weight="normal" text-anchor="end" fill="#555" >10<tspan dy="-1" font-size="2">5</tspan></text>
<text transform="translate(278.80,163.50) rotate(-90)" font-size="2.6" text-anchor="middle" fill="#555" stroke="#555" stroke-width="0.08">APC-A</text>
<rect x="213.0" y="202.2" width="52.20" height="52.40" fill="#fff" stroke="#a8a8a8" stroke-width="0.5"/>
<g filter="url(#soft)">
<ellipse cx="232.8" cy="239.5" rx="4.6" ry="3.6" fill="#1010e0" fill-opacity="0.85" filter="url(#bl)"/>
<path d="M238.0 248.2h0.9M233.3 239.2h0.9M238.4 245.4h0.9M241.2 243.9h0.9M231.1 243.1h0.9M235.1 230.2h0.9M242.4 243.3h0.9M243.2 239.6h0.9M239.4 239.6h0.9M236.0 245.3h0.9M235.4 243.5h0.9M234.8 247.1h0.9M238.9 230.4h0.9M245.0 242.5h0.9M232.0 236.4h0.9M246.9 240.5h0.9M238.1 243.4h0.9M231.5 250.1h0.9M247.6 235.5h0.9M241.8 230.6h0.9M233.0 240.4h0.9M235.4 243.3h0.9M237.5 242.1h0.9M234.2 241.7h0.9M231.7 251.3h0.9M235.4 247.1h0.9M235.7 239.1h0.9M234.0 232.6h0.9M247.4 242.4h0.9M235.8 237.3h0.9M242.7 238.1h0.9M232.3 236.9h0.9M244.3 241.8h0.9M234.2 236.3h0.9M242.7 241.7h0.9M233.1 245.2h0.9M240.3 234.3h0.9M241.9 246.3h0.9M233.6 232.4h0.9M241.6 238.0h0.9M233.9 238.4h0.9M233.5 244.8h0.9M228.6 243.1h0.9M242.0 246.1h0.9M239.4 241.5h0.9M233.9 239.3h0.9M229.9 249.6h0.9M234.4 234.2h0.9M240.0 248.7h0.9M236.7 238.2h0.9M228.5 243.7h0.9M233.6 236.2h0.9M238.7 232.6h0.9M239.5 226.1h0.9M231.4 231.8h0.9M233.6 244.6h0.9M227.4 247.8h0.9M231.1 237.3h0.9M241.0 235.8h0.9M243.7 238.8h0.9M234.5 234.5h0.9M241.9 239.6h0.9M232.2 234.6h0.9M231.3 239.5h0.9M230.9 244.6h0.9M234.9 236.5h0.9M237.8 248.2h0.9M222.8 242.1h0.9M241.5 240.8h0.9M240.0 231.2h0.9M230.7 245.8h0.9M234.6 240.4h0.9M238.8 242.1h0.9M237.8 237.2h0.9M233.4 247.5h0.9M232.2 231.8h0.9M233.1 245.1h0.9M245.7 240.9h0.9M231.5 243.5h0.9M236.9 246.7h0.9M238.2 244.3h0.9M238.1 242.4h0.9M229.8 239.1h0.9M244.6 247.6h0.9M240.8 242.3h0.9M234.5 242.0h0.9M233.2 246.2h0.9M233.3 235.7h0.9M225.7 248.9h0.9M230.7 235.1h0.9M237.5 250.2h0.9M239.1 238.1h0.9M238.5 235.3h0.9M233.7 240.2h0.9M235.3 244.4h0.9M238.3 250.7h0.9M240.1 238.4h0.9M236.7 235.2h0.9M231.6 238.1h0.9M241.1 236.1h0.9M226.1 234.3h0.9M228.2 239.0h0.9M233.4 233.4h0.9M230.6 237.7h0.9M237.5 243.5h0.9M242.9 238.6h0.9M238.9 240.4h0.9M228.8 236.4h0.9M248.0 239.1h0.9M244.8 244.7h0.9M244.9 238.9h0.9M240.7 238.3h0.9M228.8 233.4h0.9M237.8 230.9h0.9M237.4 235.1h0.9M237.3 232.2h0.9M240.2 238.7h0.9M226.3 231.9h0.9M235.6 230.7h0.9M237.2 242.8h0.9M231.4 247.9h0.9M243.7 241.8h0.9M237.9 242.7h0.9M233.7 247.5h0.9M232.2 225.8h0.9M235.4 242.5h0.9M240.1 233.8h0.9M243.4 235.4h0.9M238.9 244.2h0.9M236.3 246.4h0.9M232.4 251.6h0.9M238.1 237.6h0.9M250.4 240.0h0.9M225.9 248.1h0.9M244.3 236.7h0.9M229.5 246.4h0.9M235.6 234.6h0.9M232.5 240.4h0.9M241.0 248.9h0.9M231.7 248.7h0.9M226.5 244.1h0.9M234.5 242.5h0.9M232.8 236.0h0.9M236.9 246.4h0.9M222.4 240.3h0.9M233.0 233.9h0.9M227.5 242.9h0.9M238.5 243.7h0.9M223.8 231.4h0.9M231.7 237.6h0.9M245.5 237.8h0.9M236.0 245.7h0.9M245.0 242.1h0.9M237.3 251.0h0.9M233.0 229.8h0.9M230.9 238.2h0.9M242.9 241.8h0.9M242.3 240.6h0.9M235.5 236.7h0.9M228.1 242.9h0.9M237.4 243.3h0.9M232.2 237.6h0.9M237.5 243.5h0.9M246.9 235.1h0.9M241.0 245.0h0.9M233.8 240.8h0.9M235.0 248.7h0.9M250.1 241.8h0.9M233.8 245.4h0.9M238.2 239.0h0.9M239.7 245.0h0.9M233.0 244.8h0.9M222.3 232.7h0.9M233.5 240.9h0.9M226.9 248.4h0.9M233.1 240.9h0.9M235.1 244.3h0.9M231.9 244.2h0.9M230.5 231.6h0.9M238.3 240.9h0.9M240.4 229.0h0.9M235.9 236.4h0.9M234.2 237.8h0.9M233.1 236.2h0.9M241.2 230.2h0.9M225.6 242.0h0.9M247.0 235.7h0.9M230.1 233.4h0.9M229.4 247.1h0.9M239.3 245.1h0.9M237.3 241.3h0.9M231.9 234.5h0.9M233.2 247.2h0.9M231.2 240.2h0.9M245.2 239.6h0.9M239.0 236.8h0.9M246.2 233.0h0.9M238.6 238.7h0.9M236.4 242.1h0.9" stroke="#aab4f6" stroke-width="0.9" fill="none"/>
<path d="M234.4 232.1h0.9M235.7 231.3h0.9M232.1 232.8h0.9M237.0 230.3h0.9M235.1 229.8h0.9M231.2 232.6h0.9M229.3 229.1h0.9M229.8 229.9h0.9M230.6 240.0h0.9M235.5 232.3h0.9M229.3 223.8h0.9M234.9 229.8h0.9M236.9 230.7h0.9M229.4 229.8h0.9M228.7 227.2h0.9M235.8 230.2h0.9M235.7 230.1h0.9M232.8 230.1h0.9M231.8 229.7h0.9M238.3 231.8h0.9M227.3 237.8h0.9M237.5 235.9h0.9M233.2 231.5h0.9M232.0 232.4h0.9M235.0 232.0h0.9M230.9 228.7h0.9M238.8 237.8h0.9M229.6 229.8h0.9M233.4 234.0h0.9M233.2 232.8h0.9M234.7 235.9h0.9M229.4 235.8h0.9M234.9 233.9h0.9M228.7 231.2h0.9M232.7 234.2h0.9M235.7 234.4h0.9M229.4 236.3h0.9M233.7 235.2h0.9M233.5 229.6h0.9M241.9 234.2h0.9M235.9 230.4h0.9M232.8 235.8h0.9M234.9 238.0h0.9M237.3 228.4h0.9M228.6 236.0h0.9M235.4 231.1h0.9M232.6 230.1h0.9M239.2 231.5h0.9M229.1 235.1h0.9M233.2 233.2h0.9M232.3 231.9h0.9M227.5 233.8h0.9M231.3 230.7h0.9M234.5 236.3h0.9M226.6 231.6h0.9M235.2 235.5h0.9M230.6 233.1h0.9M234.8 235.2h0.9M231.5 231.4h0.9M231.9 235.9h0.9M237.0 230.5h0.9M233.1 232.8h0.9M230.6 231.6h0.9M236.3 234.6h0.9M231.3 229.8h0.9M233.1 227.1h0.9M234.5 232.4h0.9M229.2 231.2h0.9M231.4 231.1h0.9M230.7 236.6h0.9M230.4 234.6h0.9M234.2 236.9h0.9M233.3 232.0h0.9M233.7 225.7h0.9M241.2 231.3h0.9M232.5 228.3h0.9M233.1 237.4h0.9M231.1 233.5h0.9M236.8 235.2h0.9M232.2 226.2h0.9M234.4 241.4h0.9M231.3 238.1h0.9M240.0 234.4h0.9M230.5 237.6h0.9M226.1 237.3h0.9M229.3 243.6h0.9M225.4 235.1h0.9M233.8 234.5h0.9M224.3 237.5h0.9M227.6 236.4h0.9M232.0 241.0h0.9M230.0 238.6h0.9M235.7 239.0h0.9M235.7 237.6h0.9M234.7 243.7h0.9M226.9 249.2h0.9M231.3 238.4h0.9M232.0 241.0h0.9M227.6 239.7h0.9M230.2 244.2h0.9M225.4 241.6h0.9M231.4 237.1h0.9M233.2 238.8h0.9M232.8 240.3h0.9M237.7 238.2h0.9M239.7 230.8h0.9M240.3 243.5h0.9M239.2 240.2h0.9M233.9 236.3h0.9M238.3 235.8h0.9M229.3 239.5h0.9M233.7 240.6h0.9M227.8 238.4h0.9M234.7 243.4h0.9M235.9 240.9h0.9M231.6 237.8h0.9M230.5 239.2h0.9M234.9 237.9h0.9M241.3 236.3h0.9M236.1 238.9h0.9M232.1 238.3h0.9M239.1 238.6h0.9M235.0 239.9h0.9M235.8 241.4h0.9M239.6 237.2h0.9M229.2 245.0h0.9M238.0 239.8h0.9M231.5 240.4h0.9M238.1 237.1h0.9M238.8 239.4h0.9M231.2 238.3h0.9M223.9 240.6h0.9M227.2 237.8h0.9M228.9 240.3h0.9M235.7 239.7h0.9M233.5 240.9h0.9M239.4 241.4h0.9M239.2 239.3h0.9M234.1 237.5h0.9M235.2 236.8h0.9M234.6 237.5h0.9M231.2 243.5h0.9M233.3 242.1h0.9M231.7 233.6h0.9M238.8 239.0h0.9M230.0 242.6h0.9M227.9 237.2h0.9M237.5 237.3h0.9M237.4 238.6h0.9M231.8 239.8h0.9M230.6 243.0h0.9M237.3 239.8h0.9M235.2 241.3h0.9M239.7 234.5h0.9M237.0 242.5h0.9M231.4 239.6h0.9M231.2 243.5h0.9M227.9 241.5h0.9M238.0 241.4h0.9M230.7 238.1h0.9M223.8 236.3h0.9M237.3 236.5h0.9M225.8 238.8h0.9M226.4 241.0h0.9M229.0 242.6h0.9M232.2 235.0h0.9M229.4 237.5h0.9M229.1 243.5h0.9M228.5 240.7h0.9M230.2 241.4h0.9M226.7 234.5h0.9M234.8 244.1h0.9M226.9 238.6h0.9M230.6 236.6h0.9M236.7 239.7h0.9M226.9 238.9h0.9M238.3 237.3h0.9M230.5 236.9h0.9M233.4 237.8h0.9M236.4 236.9h0.9M226.6 241.0h0.9M219.4 236.5h0.9M233.9 240.3h0.9M230.3 238.1h0.9M234.9 251.5h0.9M229.3 239.0h0.9M230.8 241.3h0.9M232.7 241.3h0.9M239.5 238.7h0.9M231.5 240.8h0.9M241.5 238.4h0.9M239.8 243.4h0.9M221.2 236.4h0.9M228.6 240.8h0.9M238.2 239.7h0.9M233.4 246.5h0.9M234.2 246.4h0.9M228.9 244.8h0.9M230.6 231.8h0.9M229.2 238.0h0.9M232.5 242.0h0.9M235.6 241.2h0.9M229.6 245.3h0.9M237.7 239.7h0.9M230.3 239.4h0.9M231.8 237.3h0.9M232.6 237.4h0.9M235.4 237.5h0.9M234.7 240.6h0.9M233.4 241.2h0.9M228.4 247.8h0.9M229.8 241.9h0.9M232.8 238.2h0.9M240.0 243.1h0.9M231.5 241.4h0.9M235.6 244.6h0.9M236.9 239.0h0.9M231.6 235.8h0.9M233.8 242.3h0.9M231.1 241.7h0.9M233.2 238.1h0.9M227.6 243.1h0.9M243.3 241.3h0.9M228.2 236.2h0.9M233.8 241.6h0.9M239.1 231.8h0.9M240.5 240.1h0.9M233.3 240.8h0.9M231.2 238.6h0.9M237.1 234.0h0.9M232.2 241.4h0.9M225.8 239.0h0.9M239.1 240.8h0.9M235.7 241.8h0.9M233.6 240.7h0.9M229.3 238.9h0.9M240.5 235.6h0.9M232.0 235.5h0.9M230.5 237.1h0.9M227.6 240.3h0.9M228.7 241.3h0.9M240.3 231.3h0.9M232.0 232.8h0.9M232.2 240.8h0.9M233.6 243.4h0.9M233.4 234.0h0.9M239.0 236.5h0.9M232.3 240.6h0.9M229.0 239.8h0.9M239.0 234.1h0.9M225.7 238.1h0.9M232.0 235.4h0.9M223.0 242.5h0.9M234.4 235.3h0.9M235.1 239.3h0.9M233.4 235.2h0.9M231.8 241.1h0.9M225.4 236.2h0.9M236.8 246.0h0.9M235.5 239.3h0.9M228.2 238.2h0.9M231.7 241.0h0.9M231.7 247.6h0.9M238.3 232.4h0.9M227.8 239.5h0.9M236.9 240.9h0.9M221.2 234.2h0.9M238.4 241.5h0.9M243.5 242.1h0.9M234.7 244.5h0.9M230.9 237.8h0.9M228.5 240.3h0.9M234.6 242.6h0.9M238.8 241.6h0.9M237.9 238.7h0.9M228.7 241.9h0.9M237.0 243.9h0.9M232.0 238.0h0.9M231.2 240.7h0.9M232.5 238.9h0.9M233.8 238.6h0.9M234.2 237.6h0.9M226.2 238.5h0.9M240.7 236.9h0.9M236.6 243.9h0.9M230.4 240.4h0.9M223.1 241.4h0.9M239.2 240.1h0.9M224.4 237.6h0.9M229.6 239.9h0.9M233.9 238.2h0.9M231.4 236.9h0.9M235.2 240.2h0.9M234.2 237.9h0.9M234.8 238.6h0.9M234.0 239.0h0.9M229.9 236.0h0.9M224.9 235.1h0.9M234.7 250.2h0.9M225.8 236.9h0.9M232.7 251.2h0.9M231.9 235.7h0.9M234.5 246.3h0.9M221.0 235.7h0.9M238.0 235.7h0.9M232.3 237.5h0.9M236.0 234.8h0.9M234.1 240.2h0.9M235.1 240.9h0.9M233.4 233.7h0.9M231.4 236.4h0.9M235.0 238.8h0.9M233.4 243.1h0.9M232.3 245.0h0.9M236.3 234.7h0.9M230.3 243.5h0.9M230.6 243.4h0.9M230.4 239.1h0.9M237.1 234.4h0.9M233.1 238.0h0.9M233.5 245.1h0.9M234.8 235.1h0.9M236.8 238.0h0.9M233.4 243.3h0.9M231.4 242.7h0.9M233.5 236.6h0.9M231.4 235.1h0.9M237.7 240.1h0.9M236.8 235.9h0.9M236.3 235.6h0.9M233.9 239.5h0.9M230.3 240.5h0.9M232.9 236.7h0.9M229.6 235.2h0.9M238.5 240.0h0.9M231.2 241.8h0.9M229.1 235.7h0.9M234.2 244.7h0.9M234.0 240.0h0.9M240.1 234.4h0.9M245.6 235.9h0.9M232.4 235.1h0.9M227.6 238.7h0.9M243.0 236.4h0.9M230.2 240.4h0.9M228.5 238.7h0.9M236.2 232.3h0.9M231.5 238.5h0.9M230.6 239.1h0.9M225.2 238.1h0.9M230.6 236.1h0.9M238.1 246.1h0.9M236.1 236.7h0.9M238.7 241.1h0.9M229.3 241.5h0.9M230.3 241.4h0.9M236.6 243.3h0.9M228.3 239.1h0.9M232.8 235.5h0.9M234.5 241.8h0.9" stroke="#4a5af0" stroke-width="0.9" fill="none"/>
<path d="M228.5 238.2h0.9M229.3 236.5h0.9M229.4 242.7h0.9M230.5 238.6h0.9M235.1 241.9h0.9M236.3 234.7h0.9M234.5 235.4h0.9M230.6 238.5h0.9M230.8 244.1h0.9M231.9 242.2h0.9M231.8 239.4h0.9M233.8 240.5h0.9M233.8 235.5h0.9M233.8 240.2h0.9M234.0 239.4h0.9M233.5 236.5h0.9M235.5 236.7h0.9M236.3 241.9h0.9M232.2 238.8h0.9M234.5 238.8h0.9M229.0 240.1h0.9M228.9 238.4h0.9M237.4 241.4h0.9M231.1 239.3h0.9M230.5 239.5h0.9M228.3 241.1h0.9M232.4 238.1h0.9M230.6 245.6h0.9M231.1 238.4h0.9M230.7 238.3h0.9M236.0 241.1h0.9M233.5 240.4h0.9M229.2 233.9h0.9M236.6 241.2h0.9M233.0 240.2h0.9M232.9 239.6h0.9M231.6 234.3h0.9M233.9 239.6h0.9M235.1 240.2h0.9M231.5 240.9h0.9M232.9 238.5h0.9M231.3 238.5h0.9M231.5 238.5h0.9M235.1 246.3h0.9M232.0 242.1h0.9M226.8 232.0h0.9M231.0 239.1h0.9M230.3 236.3h0.9M230.0 238.3h0.9M232.8 238.7h0.9M229.0 238.6h0.9M236.6 237.4h0.9M232.5 241.9h0.9M230.1 238.2h0.9M240.5 242.4h0.9M230.9 239.9h0.9M232.6 239.8h0.9M233.7 238.8h0.9M226.1 237.3h0.9M232.8 236.3h0.9M231.4 243.0h0.9M233.0 238.0h0.9M232.7 241.9h0.9M227.6 236.6h0.9M230.5 238.5h0.9M232.1 238.1h0.9M232.7 239.7h0.9M229.1 238.0h0.9M228.9 240.2h0.9M233.1 241.0h0.9M229.9 238.3h0.9M226.1 239.5h0.9M227.8 240.3h0.9M235.4 240.5h0.9M234.1 240.0h0.9M233.4 241.7h0.9M235.9 244.2h0.9M231.6 241.4h0.9M234.8 240.5h0.9M233.1 236.6h0.9M235.4 237.4h0.9M230.5 237.5h0.9M233.9 237.2h0.9M233.6 240.8h0.9M232.6 238.7h0.9M234.0 242.6h0.9M231.1 237.1h0.9M230.7 237.5h0.9M231.7 239.1h0.9M225.9 242.9h0.9M230.1 238.5h0.9M226.9 234.9h0.9M229.5 240.0h0.9M234.7 235.3h0.9M233.0 243.0h0.9M231.6 241.6h0.9M233.2 237.3h0.9M235.1 238.1h0.9M233.3 238.6h0.9M231.7 239.9h0.9M236.0 235.6h0.9M229.2 239.7h0.9M235.1 239.1h0.9M231.8 240.7h0.9M236.8 237.4h0.9M227.9 238.8h0.9M234.5 236.4h0.9M235.5 241.7h0.9M234.6 237.5h0.9M228.7 241.0h0.9M233.1 241.1h0.9M228.6 232.6h0.9M235.5 241.8h0.9M231.6 239.5h0.9M233.6 241.2h0.9M231.8 238.3h0.9M229.6 241.9h0.9M232.6 231.6h0.9M233.3 238.2h0.9M228.8 238.3h0.9M228.8 238.5h0.9M230.8 240.7h0.9M229.5 235.3h0.9M230.7 236.3h0.9M234.4 239.0h0.9M227.7 237.5h0.9M232.3 239.4h0.9M227.2 239.2h0.9M233.2 241.8h0.9M235.4 239.2h0.9M228.7 238.6h0.9M234.2 237.4h0.9M235.9 237.3h0.9M229.2 241.4h0.9M232.1 240.2h0.9M231.5 239.6h0.9M230.7 243.9h0.9M234.2 239.2h0.9M233.7 241.4h0.9M230.9 239.9h0.9M232.9 238.2h0.9M230.2 239.0h0.9M231.5 238.5h0.9M226.9 239.7h0.9M234.2 239.7h0.9M237.1 241.5h0.9M231.4 237.9h0.9M233.7 238.6h0.9M227.8 239.8h0.9M231.5 239.0h0.9M234.1 239.9h0.9M238.0 237.8h0.9M232.1 240.2h0.9M231.1 238.3h0.9M237.2 236.1h0.9M233.3 235.4h0.9M233.3 235.0h0.9M229.1 242.1h0.9M236.6 239.8h0.9M224.8 241.8h0.9M233.0 236.9h0.9M231.4 236.4h0.9M232.1 239.3h0.9M232.7 241.3h0.9M230.5 234.4h0.9M229.1 236.6h0.9M231.3 238.5h0.9M232.2 242.7h0.9M232.4 237.0h0.9M231.5 237.5h0.9M231.7 240.8h0.9M229.2 241.1h0.9M237.3 243.0h0.9M236.9 239.7h0.9M228.6 244.1h0.9M232.2 240.0h0.9M231.4 237.3h0.9M234.1 236.3h0.9M228.5 240.8h0.9M231.3 237.6h0.9" stroke="#1010e0" stroke-width="0.9" fill="none"/>
<path d="M253.2 239.7h0.7M254.3 246.5h0.7M251.4 236.7h0.7M257.3 245.6h0.7M257.4 245.6h0.7M253.1 248.8h0.7M251.1 239.0h0.7M251.8 244.3h0.7M250.7 240.2h0.7M250.7 239.9h0.7M255.5 246.3h0.7M252.2 253.2h0.7M251.0 243.2h0.7M251.6 230.5h0.7M249.9 246.9h0.7" stroke="#f8d0c0" stroke-width="0.7" fill="none"/>
<path d="M253.6 243.5h0.7M253.2 242.1h0.7M250.2 244.8h0.7M253.9 242.4h0.7M252.9 240.3h0.7M249.6 243.8h0.7M250.7 246.5h0.7M252.7 241.0h0.7M250.8 241.3h0.7M250.2 239.9h0.7M254.0 240.2h0.7M254.4 240.7h0.7M252.3 238.4h0.7M251.3 239.7h0.7M249.7 246.5h0.7M252.6 240.8h0.7M250.1 241.1h0.7M250.2 238.2h0.7M251.4 247.2h0.7M249.2 242.6h0.7M250.9 232.7h0.7M249.7 240.6h0.7M251.8 238.9h0.7M254.3 242.5h0.7M250.8 236.3h0.7M252.0 239.1h0.7M253.2 238.0h0.7M253.4 239.7h0.7" stroke="#f2a88e" stroke-width="0.7" fill="none"/>
</g>
<line x1="222" y1="254.1" x2="244" y2="254.1" stroke="#4a5af0" stroke-width="0.6" stroke-opacity="0.6"/>
<line x1="249.60" y1="202.20" x2="249.60" y2="254.60" stroke="#7a7a7a" stroke-width="0.6" />
<line x1="213.00" y1="231.40" x2="265.20" y2="231.40" stroke="#7a7a7a" stroke-width="0.6" />
<line x1="213.00" y1="202.20" x2="213.00" y2="254.60" stroke="#666" stroke-width="0.9" />
<line x1="213.00" y1="254.60" x2="265.20" y2="254.60" stroke="#999" stroke-width="0.5" />
<text x="215.40" y="211.20" font-size="6.8" font-weight="bold" text-anchor="start" fill="#111" >7</text>
<text x="237.60" y="200.60" font-size="2.7" font-weight="normal" text-anchor="middle" fill="#444" >Q1-R4&amp;R3: P1</text>
<text x="264.60" y="205.60" font-size="2.6" font-weight="normal" text-anchor="end" fill="#444" >Q1-UR(2.83%)</text>
<text x="214.00" y="253.10" font-size="2.6" font-weight="normal" text-anchor="start" fill="#444" >Q1-LL(8.93%)</text>
<text x="264.60" y="253.10" font-size="2.6" font-weight="normal" text-anchor="end" fill="#444" >Q1-LR(1.22%)</text>
<line x1="213.80" y1="254.60" x2="213.80" y2="255.50" stroke="#777" stroke-width="0.45" />
<text x="213.80" y="259.50" font-size="2.8" font-weight="normal" text-anchor="middle" fill="#555" >10<tspan dy="-1" font-size="2">0</tspan></text>
<line x1="223.92" y1="254.60" x2="223.92" y2="255.50" stroke="#777" stroke-width="0.45" />
<text x="223.92" y="259.50" font-size="2.8" font-weight="normal" text-anchor="middle" fill="#555" >10<tspan dy="-1" font-size="2">1</tspan></text>
<line x1="234.04" y1="254.60" x2="234.04" y2="255.50" stroke="#777" stroke-width="0.45" />
<text x="234.04" y="259.50" font-size="2.8" font-weight="normal" text-anchor="middle" fill="#555" >10<tspan dy="-1" font-size="2">2</tspan></text>
<line x1="244.16" y1="254.60" x2="244.16" y2="255.50" stroke="#777" stroke-width="0.45" />
<text x="244.16" y="259.50" font-size="2.8" font-weight="normal" text-anchor="middle" fill="#555" >10<tspan dy="-1" font-size="2">3</tspan></text>
<line x1="254.28" y1="254.60" x2="254.28" y2="255.50" stroke="#777" stroke-width="0.45" />
<text x="254.28" y="259.50" font-size="2.8" font-weight="normal" text-anchor="middle" fill="#555" >10<tspan dy="-1" font-size="2">4</tspan></text>
<line x1="264.40" y1="254.60" x2="264.40" y2="255.50" stroke="#777" stroke-width="0.45" />
<text x="264.40" y="259.50" font-size="2.8" font-weight="normal" text-anchor="middle" fill="#555" >10<tspan dy="-1" font-size="2">5</tspan></text>
<text x="239.10" y="262.40" font-size="2.6" font-weight="normal" text-anchor="middle" fill="#555" >FITC-A</text>
<path d="M212.4 202.2h0.6M212.4 204.4h0.6M212.4 206.6h0.6M212.4 208.8h0.6M212.4 210.9h0.6M212.4 213.1h0.6M212.4 215.3h0.6M212.4 217.5h0.6M212.4 219.7h0.6M212.4 221.8h0.6M212.4 224.0h0.6M212.4 226.2h0.6M212.4 228.4h0.6M212.4 230.6h0.6M212.4 232.8h0.6M212.4 234.9h0.6M212.4 237.1h0.6M212.4 239.3h0.6M212.4 241.5h0.6M212.4 243.7h0.6M212.4 245.9h0.6M212.4 248.0h0.6M212.4 250.2h0.6M212.4 252.4h0.6M212.4 254.6h0.6" stroke="#888" stroke-width="0.35"/>
<path d="M213.0 254.6v0.6M215.2 254.6v0.6M217.3 254.6v0.6M219.5 254.6v0.6M221.7 254.6v0.6M223.9 254.6v0.6M226.1 254.6v0.6M228.2 254.6v0.6M230.4 254.6v0.6M232.6 254.6v0.6M234.8 254.6v0.6M236.9 254.6v0.6M239.1 254.6v0.6M241.3 254.6v0.6M243.4 254.6v0.6M245.6 254.6v0.6M247.8 254.6v0.6M250.0 254.6v0.6M252.1 254.6v0.6M254.3 254.6v0.6M256.5 254.6v0.6M258.7 254.6v0.6M260.8 254.6v0.6M263.0 254.6v0.6M265.2 254.6v0.6" stroke="#888" stroke-width="0.35"/>
<line x1="211.80" y1="254.00" x2="213.00" y2="254.00" stroke="#666" stroke-width="0.45" />
<text x="211.00" y="254.90" font-size="2.8" font-weight="normal" text-anchor="end" fill="#555" >10<tspan dy="-1" font-size="2">0</tspan></text>
<line x1="211.80" y1="243.76" x2="213.00" y2="243.76" stroke="#666" stroke-width="0.45" />
<text x="211.00" y="244.66" font-size="2.8" font-weight="normal" text-anchor="end" fill="#555" >10<tspan dy="-1" font-size="2">1</tspan></text>
<line x1="211.80" y1="233.52" x2="213.00" y2="233.52" stroke="#666" stroke-width="0.45" />
<text x="211.00" y="234.42" font-size="2.8" font-weight="normal" text-anchor="end" fill="#555" >10<tspan dy="-1" font-size="2">2</tspan></text>
<line x1="211.80" y1="223.28" x2="213.00" y2="223.28" stroke="#666" stroke-width="0.45" />
<text x="211.00" y="224.18" font-size="2.8" font-weight="normal" text-anchor="end" fill="#555" >10<tspan dy="-1" font-size="2">3</tspan></text>
<line x1="211.80" y1="213.04" x2="213.00" y2="213.04" stroke="#666" stroke-width="0.45" />
<text x="211.00" y="213.94" font-size="2.8" font-weight="normal" text-anchor="end" fill="#555" >10<tspan dy="-1" font-size="2">4</tspan></text>
<line x1="211.80" y1="202.80" x2="213.00" y2="202.80" stroke="#666" stroke-width="0.45" />
<text x="211.00" y="203.70" font-size="2.8" font-weight="normal" text-anchor="end" fill="#555" >10<tspan dy="-1" font-size="2">5</tspan></text>
<text transform="translate(205.80,228.40) rotate(-90)" font-size="2.6" text-anchor="middle" fill="#555" stroke="#555" stroke-width="0.08">PE-Cy7-A</text>
<rect x="286.0" y="202.2" width="52.60" height="52.40" fill="#fff" stroke="#a8a8a8" stroke-width="0.5"/>
<g filter="url(#soft)">
<ellipse cx="307.0" cy="237.0" rx="4.0" ry="3.8" fill="#1010e0" fill-opacity="0.85" filter="url(#bl)"/>
<path d="M309.4 244.7h0.9M313.5 230.2h0.9M313.3 249.2h0.9M314.5 238.6h0.9M311.3 230.1h0.9M305.8 236.1h0.9M321.1 239.1h0.9M303.6 248.7h0.9M316.3 229.6h0.9M308.0 229.4h0.9M315.2 226.0h0.9M319.9 233.0h0.9M303.2 251.2h0.9M312.3 241.1h0.9M314.1 233.4h0.9M314.2 237.5h0.9M312.2 240.4h0.9M317.1 231.7h0.9M301.2 242.8h0.9M322.8 242.2h0.9M308.2 242.9h0.9M302.2 239.6h0.9M299.5 239.7h0.9M313.3 248.8h0.9M306.3 244.4h0.9M316.9 233.1h0.9M307.6 228.4h0.9M304.1 241.6h0.9M297.5 237.4h0.9M313.3 247.3h0.9M294.8 241.3h0.9M305.6 225.9h0.9M303.3 242.5h0.9M309.1 243.1h0.9M307.4 242.8h0.9M303.6 233.5h0.9M308.2 229.0h0.9M316.3 237.6h0.9M303.5 234.1h0.9M303.6 239.8h0.9M307.1 244.0h0.9M302.6 238.6h0.9M300.5 236.4h0.9M317.0 238.4h0.9M314.3 238.7h0.9M302.9 234.0h0.9M302.7 241.0h0.9M318.7 243.9h0.9M303.6 239.7h0.9M304.0 252.6h0.9M305.0 245.8h0.9M301.4 243.5h0.9M302.1 236.4h0.9M310.1 239.9h0.9M308.8 238.7h0.9M304.2 238.4h0.9M308.8 233.7h0.9M312.4 240.1h0.9M304.8 246.5h0.9M305.9 228.1h0.9M316.4 236.9h0.9M317.6 241.6h0.9M304.1 245.5h0.9M311.8 244.4h0.9M309.4 248.0h0.9M314.5 237.1h0.9M300.5 238.8h0.9M309.5 233.4h0.9M308.1 247.7h0.9M306.4 245.5h0.9M303.8 233.5h0.9M314.5 238.1h0.9M310.4 245.0h0.9M318.5 231.9h0.9M312.5 240.4h0.9M310.0 249.4h0.9M307.8 235.6h0.9M312.0 227.4h0.9M311.3 233.9h0.9M311.0 234.8h0.9M312.1 237.6h0.9M305.0 242.2h0.9M313.4 229.8h0.9M301.7 237.5h0.9M307.0 246.7h0.9M318.2 241.8h0.9M315.4 237.2h0.9M301.3 240.8h0.9M299.0 248.5h0.9M310.6 245.8h0.9M305.5 229.7h0.9M308.0 241.9h0.9M307.9 236.1h0.9M309.6 237.9h0.9M317.1 231.5h0.9M296.4 238.5h0.9M310.7 230.2h0.9M308.9 241.6h0.9M311.1 240.8h0.9M304.8 230.7h0.9M314.6 237.0h0.9M301.3 248.0h0.9M313.4 222.8h0.9M324.0 239.9h0.9M299.9 244.6h0.9M311.0 246.2h0.9M309.2 229.4h0.9M308.2 236.6h0.9M310.8 238.0h0.9M312.3 232.0h0.9M306.0 236.1h0.9M311.5 229.2h0.9M309.1 252.8h0.9M298.8 245.0h0.9M309.7 244.8h0.9M309.4 240.5h0.9M311.2 241.7h0.9M302.2 238.3h0.9M319.6 247.2h0.9M304.3 233.6h0.9M308.1 245.2h0.9M314.4 235.6h0.9M295.5 238.8h0.9M299.6 246.0h0.9M317.6 242.9h0.9M312.5 242.3h0.9M319.7 245.3h0.9M317.4 232.4h0.9M306.1 239.0h0.9M296.3 237.4h0.9M309.0 238.7h0.9M323.6 237.9h0.9M308.0 238.3h0.9M307.1 230.8h0.9M315.5 239.2h0.9M311.2 239.2h0.9M304.6 229.8h0.9M307.5 242.1h0.9M308.4 243.3h0.9M304.6 237.3h0.9M310.0 238.4h0.9M310.1 247.3h0.9M306.7 239.8h0.9M305.4 242.2h0.9M310.4 234.8h0.9M303.3 232.1h0.9M307.5 239.9h0.9M306.2 238.4h0.9M309.9 252.6h0.9M315.9 252.5h0.9M309.9 240.3h0.9M320.3 241.2h0.9M312.9 236.1h0.9M306.0 243.5h0.9M305.6 235.2h0.9M300.5 240.7h0.9M308.5 242.2h0.9M304.1 231.8h0.9M315.4 239.2h0.9" stroke="#aab4f6" stroke-width="0.9" fill="none"/>
<path d="M310.7 240.5h0.9M302.3 235.5h0.9M312.3 240.6h0.9M306.7 241.5h0.9M312.1 242.9h0.9M302.3 233.5h0.9M305.4 237.8h0.9M306.0 238.8h0.9M312.5 241.8h0.9M310.7 238.0h0.9M313.1 239.6h0.9M308.1 237.9h0.9M300.7 245.4h0.9M307.1 241.1h0.9M315.2 237.4h0.9M303.1 241.5h0.9M308.1 234.8h0.9M310.6 238.0h0.9M303.9 229.3h0.9M303.7 239.3h0.9M303.5 241.4h0.9M315.0 239.1h0.9M308.0 237.7h0.9M310.3 238.1h0.9M310.9 242.9h0.9M310.2 234.7h0.9M309.6 237.1h0.9M308.3 241.3h0.9M304.9 238.7h0.9M312.4 235.1h0.9M306.5 240.5h0.9M306.4 241.5h0.9M303.6 232.9h0.9M308.6 237.5h0.9M308.3 241.3h0.9M311.0 236.8h0.9M305.8 231.4h0.9M303.8 238.9h0.9M308.0 232.9h0.9M310.0 237.9h0.9M311.1 236.8h0.9M310.7 234.2h0.9M300.6 235.2h0.9M309.7 239.4h0.9M300.5 238.5h0.9M309.6 243.8h0.9M310.0 239.8h0.9M301.6 239.3h0.9M300.2 237.0h0.9M305.9 234.7h0.9M303.6 237.5h0.9M309.3 235.8h0.9M308.3 240.4h0.9M307.1 244.6h0.9M306.1 235.5h0.9M300.5 241.7h0.9M309.6 237.4h0.9M308.3 237.6h0.9M310.3 238.0h0.9M308.0 237.7h0.9M304.1 230.4h0.9M309.2 233.8h0.9M308.6 240.2h0.9M313.9 235.5h0.9M307.7 241.3h0.9M304.8 236.0h0.9M308.8 245.1h0.9M311.1 241.3h0.9M303.8 240.3h0.9M311.3 233.7h0.9M307.3 237.4h0.9M309.5 232.1h0.9M309.7 238.0h0.9M306.3 230.8h0.9M299.8 236.2h0.9M309.5 239.5h0.9M309.9 232.2h0.9M307.9 242.6h0.9M301.7 240.2h0.9M304.6 239.9h0.9M307.6 232.5h0.9M303.5 242.3h0.9M306.8 242.2h0.9M308.4 241.1h0.9M305.8 238.8h0.9M305.9 241.1h0.9M305.2 241.8h0.9M312.8 233.9h0.9M306.6 239.9h0.9M313.5 241.9h0.9M307.5 232.1h0.9M310.2 236.0h0.9M307.9 239.4h0.9M302.2 241.6h0.9M310.5 240.0h0.9M309.3 239.2h0.9M302.2 236.3h0.9M310.1 236.9h0.9M307.3 239.3h0.9M307.5 238.9h0.9M308.9 238.0h0.9M303.3 237.1h0.9M310.6 235.7h0.9M308.9 239.1h0.9M304.1 228.4h0.9M307.1 235.4h0.9M305.0 241.2h0.9M304.5 239.2h0.9M307.6 238.7h0.9M314.3 231.3h0.9M310.6 237.5h0.9M306.2 235.7h0.9M307.3 238.2h0.9M303.9 243.6h0.9M304.6 237.5h0.9M302.7 238.5h0.9M308.5 241.7h0.9M310.7 236.3h0.9M312.9 237.6h0.9M312.7 243.8h0.9M305.8 234.4h0.9M309.1 242.9h0.9M308.6 241.7h0.9M309.3 241.0h0.9M311.9 237.0h0.9M302.2 237.6h0.9M304.4 234.0h0.9M306.6 240.4h0.9M300.6 232.9h0.9M310.0 235.0h0.9M305.8 242.6h0.9M311.2 239.2h0.9M309.1 228.8h0.9M309.2 239.3h0.9M302.3 238.6h0.9M308.8 237.6h0.9M310.0 241.0h0.9M307.4 237.2h0.9M303.0 241.9h0.9M305.2 239.1h0.9M312.6 240.6h0.9M302.7 237.7h0.9M304.7 232.4h0.9M304.3 240.0h0.9M308.4 237.3h0.9M307.8 234.1h0.9M304.5 237.4h0.9M310.0 236.9h0.9M306.6 239.1h0.9M312.4 233.7h0.9M309.1 238.6h0.9M306.9 238.8h0.9M300.2 238.1h0.9M306.4 233.8h0.9M310.2 237.6h0.9M306.0 240.6h0.9M303.9 235.6h0.9M310.1 241.0h0.9M314.4 236.5h0.9M302.0 233.0h0.9M302.9 238.4h0.9M306.3 235.7h0.9M303.6 235.6h0.9M305.9 242.0h0.9M309.4 242.6h0.9M310.1 240.6h0.9M311.4 239.5h0.9M312.7 241.8h0.9M313.6 238.7h0.9M304.4 246.5h0.9M306.2 239.8h0.9M305.8 235.6h0.9M308.7 234.2h0.9M306.6 242.8h0.9M307.6 240.8h0.9M309.5 239.3h0.9M307.6 240.1h0.9M303.8 240.0h0.9M303.4 235.4h0.9M305.1 233.5h0.9M300.2 239.3h0.9M309.0 240.2h0.9M315.0 238.6h0.9M309.8 235.5h0.9M309.7 234.1h0.9M314.2 234.7h0.9M305.7 240.5h0.9M299.4 242.5h0.9M303.8 238.7h0.9M310.7 238.5h0.9M310.5 236.3h0.9M309.3 230.6h0.9M312.5 235.8h0.9M304.1 238.1h0.9M313.2 235.6h0.9M307.1 236.8h0.9M303.9 233.6h0.9M309.3 240.4h0.9M304.5 238.8h0.9M308.8 239.3h0.9M306.6 238.2h0.9M308.2 234.4h0.9M306.7 240.7h0.9M305.2 242.4h0.9M306.3 234.3h0.9M306.1 233.4h0.9M309.3 232.6h0.9M307.2 237.2h0.9M306.1 239.4h0.9M308.2 236.1h0.9M310.1 236.5h0.9M310.4 242.6h0.9M308.5 241.1h0.9M302.4 239.9h0.9M301.9 237.4h0.9M309.6 228.9h0.9M304.4 235.4h0.9M303.8 238.1h0.9M309.4 234.1h0.9M305.0 231.7h0.9M304.7 230.9h0.9M301.8 239.6h0.9M310.3 235.2h0.9M308.4 235.4h0.9M311.0 243.9h0.9M298.4 235.1h0.9M304.9 236.4h0.9M312.7 243.3h0.9M307.1 240.2h0.9M301.5 237.0h0.9M306.1 237.5h0.9M308.2 232.7h0.9M303.5 245.3h0.9M301.0 238.2h0.9M309.7 239.7h0.9M307.4 232.5h0.9M305.5 232.7h0.9M314.1 239.2h0.9M309.7 238.7h0.9M305.8 242.0h0.9M313.4 240.8h0.9M304.4 244.5h0.9M305.8 236.1h0.9M309.4 234.8h0.9M307.8 240.9h0.9M315.5 238.7h0.9M305.4 234.0h0.9M311.4 238.9h0.9M308.9 235.8h0.9M324.4 237.3h0.9M310.2 225.3h0.9M308.0 244.8h0.9M315.8 231.4h0.9M315.5 237.8h0.9M307.8 240.8h0.9M308.7 235.6h0.9M311.7 238.0h0.9M309.5 238.4h0.9M311.7 238.0h0.9M313.5 234.0h0.9M305.0 236.7h0.9M317.6 238.6h0.9M312.7 233.5h0.9M306.1 231.1h0.9M307.2 235.3h0.9M304.2 236.5h0.9M304.0 240.1h0.9M311.5 228.7h0.9M309.0 238.1h0.9M313.5 240.7h0.9M309.9 236.3h0.9M310.5 239.6h0.9M308.3 236.3h0.9M312.3 235.4h0.9M306.4 243.5h0.9M314.1 232.7h0.9M321.2 233.4h0.9M307.4 235.3h0.9M314.2 244.2h0.9M318.3 239.7h0.9M312.0 240.2h0.9M307.8 233.7h0.9M314.2 238.0h0.9M312.8 232.2h0.9M312.8 230.2h0.9M316.1 237.1h0.9M308.5 234.8h0.9M325.1 251.9h0.9M308.2 243.5h0.9M297.6 242.4h0.9M311.7 238.3h0.9M307.0 230.8h0.9M312.8 234.9h0.9M314.1 242.1h0.9M311.1 239.6h0.9M312.5 238.2h0.9M309.1 238.2h0.9M313.7 237.4h0.9M309.5 230.1h0.9M306.5 244.5h0.9M316.5 238.4h0.9M313.1 236.3h0.9M314.9 241.6h0.9M310.4 238.5h0.9M316.3 229.5h0.9M307.1 234.3h0.9M306.0 235.0h0.9M307.6 235.2h0.9M314.0 231.4h0.9M312.1 243.6h0.9M312.6 231.2h0.9M308.7 242.6h0.9M310.4 234.0h0.9M315.4 233.6h0.9M306.3 240.0h0.9M311.7 233.9h0.9M313.9 242.3h0.9M316.9 237.5h0.9M313.9 239.4h0.9M304.5 245.0h0.9M308.5 234.4h0.9M307.7 232.4h0.9M316.9 237.1h0.9M308.9 228.3h0.9M312.5 236.8h0.9M306.7 236.6h0.9M302.8 240.1h0.9M305.8 239.4h0.9M312.1 226.9h0.9M306.3 233.9h0.9M315.5 239.9h0.9M314.7 245.0h0.9M310.3 234.6h0.9M302.6 232.1h0.9M314.4 233.0h0.9M307.4 241.6h0.9M299.8 243.7h0.9M317.9 228.5h0.9M313.9 237.0h0.9M316.0 235.4h0.9M311.1 243.8h0.9M308.8 239.0h0.9M314.7 236.5h0.9M315.9 239.5h0.9M315.6 228.9h0.9M306.7 238.4h0.9M317.3 243.9h0.9M311.7 233.5h0.9M306.4 227.8h0.9M309.2 239.8h0.9M311.3 230.0h0.9M311.2 237.3h0.9M308.1 244.0h0.9M313.8 242.3h0.9M312.1 232.4h0.9M316.8 242.3h0.9M308.8 230.7h0.9M315.6 234.4h0.9M306.1 236.7h0.9M314.3 233.5h0.9" stroke="#4a5af0" stroke-width="0.9" fill="none"/>
<path d="M303.6 240.4h0.9M306.9 232.8h0.9M309.8 232.1h0.9M305.8 230.3h0.9M305.1 233.6h0.9M306.1 233.5h0.9M303.9 230.8h0.9M311.5 233.0h0.9M306.9 235.4h0.9M307.7 236.4h0.9M304.6 234.2h0.9M304.9 234.0h0.9M312.4 236.4h0.9M305.3 233.2h0.9M308.1 229.9h0.9M307.6 229.0h0.9M309.2 234.6h0.9M306.8 234.0h0.9M312.2 231.5h0.9M303.1 233.0h0.9M306.1 229.8h0.9M309.0 234.9h0.9M308.4 236.7h0.9M305.8 230.8h0.9M308.0 224.3h0.9M301.3 233.0h0.9M306.7 232.2h0.9M305.1 232.7h0.9M309.4 230.2h0.9M308.3 231.6h0.9M306.8 232.3h0.9M310.3 233.5h0.9M308.6 232.4h0.9M302.5 234.7h0.9M307.1 232.3h0.9M306.0 227.6h0.9M310.3 237.3h0.9M310.5 226.7h0.9M308.3 228.6h0.9M306.7 230.5h0.9M305.8 229.8h0.9M306.1 234.2h0.9M310.6 234.7h0.9M307.1 231.6h0.9M306.6 231.9h0.9M305.8 231.5h0.9M308.9 231.4h0.9M305.4 231.7h0.9M307.3 231.8h0.9M306.5 234.0h0.9M307.0 229.1h0.9M308.3 230.0h0.9M308.8 234.4h0.9M308.1 232.9h0.9M304.2 231.4h0.9M307.4 233.8h0.9M304.7 231.6h0.9M303.8 232.5h0.9M307.3 232.4h0.9M310.6 234.1h0.9M306.7 230.3h0.9M306.1 234.3h0.9M309.1 230.6h0.9M306.8 230.8h0.9M308.6 232.6h0.9M305.5 229.5h0.9M309.9 228.0h0.9M303.2 223.2h0.9M311.5 230.5h0.9M308.9 233.6h0.9M308.9 235.3h0.9M306.1 232.0h0.9M309.2 233.6h0.9M305.5 229.8h0.9M304.0 232.8h0.9M305.9 227.5h0.9M305.9 232.9h0.9M307.5 231.4h0.9M307.4 233.9h0.9M304.5 229.7h0.9M308.8 240.1h0.9M308.1 240.3h0.9M306.1 239.6h0.9M306.9 237.9h0.9M308.3 243.7h0.9M302.0 242.0h0.9M305.7 241.4h0.9M304.3 238.0h0.9M309.2 238.3h0.9M307.6 235.5h0.9M304.0 242.6h0.9M307.1 238.3h0.9M303.5 236.0h0.9M304.3 238.4h0.9M306.5 237.0h0.9M305.2 238.8h0.9M309.5 235.1h0.9M303.4 241.3h0.9M303.4 237.5h0.9M307.0 243.0h0.9M301.9 231.4h0.9M306.6 241.1h0.9M307.1 236.5h0.9M307.2 233.5h0.9M308.7 242.1h0.9M306.3 240.5h0.9M304.3 242.1h0.9M305.2 236.5h0.9M304.9 234.2h0.9M308.3 243.4h0.9M303.4 238.0h0.9M307.8 237.1h0.9M303.1 239.3h0.9M309.1 238.8h0.9M304.2 237.8h0.9M302.2 238.4h0.9M309.6 241.2h0.9M306.5 239.6h0.9M305.5 238.8h0.9M305.3 238.9h0.9M305.5 239.0h0.9M308.4 238.5h0.9M303.7 239.7h0.9M306.2 237.3h0.9M308.1 236.5h0.9M309.0 239.9h0.9M305.1 236.8h0.9M306.5 236.3h0.9M309.0 233.0h0.9M307.1 237.6h0.9M304.2 240.0h0.9M305.6 239.6h0.9M305.7 237.8h0.9M308.0 240.8h0.9M309.1 238.4h0.9M310.3 237.7h0.9M303.5 233.9h0.9M303.3 236.4h0.9M302.5 239.3h0.9M306.8 238.4h0.9M307.3 238.2h0.9M306.2 237.7h0.9M306.8 235.7h0.9M309.8 242.3h0.9M306.8 244.1h0.9M304.5 240.7h0.9M302.9 240.0h0.9M305.0 241.0h0.9M307.0 240.8h0.9M308.2 239.8h0.9M306.1 242.4h0.9M307.6 239.7h0.9M310.1 237.9h0.9M310.9 241.2h0.9M306.9 234.9h0.9M309.6 237.7h0.9M307.0 238.8h0.9M309.0 240.1h0.9M302.5 236.9h0.9M307.6 238.9h0.9M308.6 239.9h0.9M310.6 236.7h0.9M309.8 239.4h0.9M307.5 240.2h0.9M306.0 240.3h0.9M306.3 240.3h0.9M305.0 241.4h0.9M303.2 236.9h0.9M306.6 239.1h0.9M304.9 237.5h0.9M307.4 241.1h0.9M309.8 237.3h0.9M306.6 237.7h0.9M303.2 237.4h0.9M309.4 235.2h0.9M313.5 240.9h0.9M310.8 239.0h0.9M301.3 239.6h0.9M310.5 237.1h0.9M309.8 240.4h0.9M308.6 240.3h0.9M308.1 240.1h0.9M309.6 239.5h0.9M308.3 239.6h0.9M307.1 236.4h0.9M302.5 236.0h0.9M303.8 234.9h0.9M308.4 237.7h0.9M309.8 246.2h0.9M308.6 237.4h0.9M307.7 238.0h0.9M307.4 243.6h0.9M310.5 241.7h0.9M307.4 242.9h0.9M308.7 240.7h0.9M304.0 237.0h0.9M307.2 238.0h0.9M305.5 233.6h0.9M305.0 238.2h0.9M307.5 235.9h0.9M306.5 243.0h0.9M307.1 233.7h0.9M306.3 238.5h0.9M309.8 239.0h0.9M310.0 239.3h0.9M309.5 241.8h0.9M310.4 239.0h0.9M308.3 248.2h0.9M303.9 239.0h0.9M307.9 236.8h0.9M308.7 238.1h0.9M308.6 239.0h0.9M304.6 241.1h0.9M311.5 240.8h0.9M307.4 234.3h0.9M307.5 238.4h0.9M304.9 233.8h0.9M307.8 240.9h0.9M308.5 244.1h0.9M302.3 239.4h0.9M306.7 242.0h0.9M306.7 236.1h0.9M306.6 239.6h0.9M305.0 236.6h0.9M307.4 240.7h0.9M306.2 239.7h0.9M305.6 237.7h0.9M307.2 240.9h0.9M310.5 238.2h0.9M307.8 243.4h0.9M308.7 237.6h0.9M307.7 235.0h0.9M301.8 236.6h0.9M305.1 235.2h0.9M309.2 237.4h0.9M307.0 238.7h0.9M306.3 235.6h0.9M311.3 233.6h0.9M306.7 240.2h0.9M306.3 238.3h0.9M307.5 239.1h0.9M306.0 241.2h0.9M308.0 242.2h0.9M307.0 233.6h0.9M302.9 237.2h0.9M307.9 234.5h0.9M305.5 241.6h0.9M307.6 236.8h0.9M306.5 238.8h0.9M305.8 237.7h0.9M305.3 239.1h0.9M310.5 242.1h0.9M303.9 244.3h0.9M306.5 235.0h0.9M303.3 238.9h0.9M307.3 236.9h0.9M304.9 238.0h0.9M307.4 240.2h0.9M308.1 232.6h0.9M305.4 239.2h0.9" stroke="#1010e0" stroke-width="0.9" fill="none"/>
<path d="M328.1 239.5h0.7M326.2 239.4h0.7M325.7 229.3h0.7M323.4 241.8h0.7M324.1 237.0h0.7M325.8 251.1h0.7M323.8 235.4h0.7M321.3 242.2h0.7M325.5 235.9h0.7M324.7 244.7h0.7M328.1 241.8h0.7M328.4 244.9h0.7M324.5 243.9h0.7M326.0 243.7h0.7M326.3 250.3h0.7" stroke="#f8d0c0" stroke-width="0.7" fill="none"/>
<path d="M325.8 236.7h0.7M323.2 232.7h0.7M325.2 242.9h0.7M326.5 245.1h0.7M322.6 236.9h0.7M324.2 237.7h0.7M324.6 237.7h0.7M323.0 239.9h0.7M325.0 237.8h0.7M324.9 236.2h0.7M324.4 239.0h0.7M324.3 239.8h0.7M323.3 236.1h0.7M323.8 242.1h0.7M323.7 237.3h0.7M327.3 239.3h0.7M324.4 237.4h0.7M326.7 241.5h0.7M325.2 244.6h0.7M323.4 235.1h0.7M326.2 241.3h0.7M324.2 242.3h0.7M324.7 245.7h0.7M323.3 241.0h0.7M326.1 242.6h0.7M324.4 238.9h0.7M324.3 242.0h0.7M324.3 239.6h0.7" stroke="#f2a88e" stroke-width="0.7" fill="none"/>
</g>
<line x1="296" y1="254.1" x2="318" y2="254.1" stroke="#4a5af0" stroke-width="0.6" stroke-opacity="0.6"/>
<line x1="324.00" y1="202.20" x2="324.00" y2="254.60" stroke="#7a7a7a" stroke-width="0.6" />
<line x1="286.00" y1="231.00" x2="338.60" y2="231.00" stroke="#7a7a7a" stroke-width="0.6" />
<line x1="286.00" y1="202.20" x2="286.00" y2="254.60" stroke="#666" stroke-width="0.9" />
<line x1="286.00" y1="254.60" x2="338.60" y2="254.60" stroke="#999" stroke-width="0.5" />
<text x="288.40" y="211.20" font-size="6.8" font-weight="bold" text-anchor="start" fill="#111" >7</text>
<text x="310.80" y="200.60" font-size="2.7" font-weight="normal" text-anchor="middle" fill="#444" >Q1-R4&amp;R3: P1</text>
<text x="338.00" y="205.60" font-size="2.6" font-weight="normal" text-anchor="end" fill="#444" >Q1-UR(2.83%)</text>
<text x="287.00" y="253.10" font-size="2.6" font-weight="normal" text-anchor="start" fill="#444" >Q1-LL(8.93%)</text>
<text x="338.00" y="253.10" font-size="2.6" font-weight="normal" text-anchor="end" fill="#444" >Q1-LR(1.22%)</text>
<line x1="286.80" y1="254.60" x2="286.80" y2="255.50" stroke="#777" stroke-width="0.45" />
<text x="286.80" y="259.50" font-size="2.8" font-weight="normal" text-anchor="middle" fill="#555" >10<tspan dy="-1" font-size="2">0</tspan></text>
<line x1="297.00" y1="254.60" x2="297.00" y2="255.50" stroke="#777" stroke-width="0.45" />
<text x="297.00" y="259.50" font-size="2.8" font-weight="normal" text-anchor="middle" fill="#555" >10<tspan dy="-1" font-size="2">1</tspan></text>
<line x1="307.20" y1="254.60" x2="307.20" y2="255.50" stroke="#777" stroke-width="0.45" />
<text x="307.20" y="259.50" font-size="2.8" font-weight="normal" text-anchor="middle" fill="#555" >10<tspan dy="-1" font-size="2">2</tspan></text>
<line x1="317.40" y1="254.60" x2="317.40" y2="255.50" stroke="#777" stroke-width="0.45" />
<text x="317.40" y="259.50" font-size="2.8" font-weight="normal" text-anchor="middle" fill="#555" >10<tspan dy="-1" font-size="2">3</tspan></text>
<line x1="327.60" y1="254.60" x2="327.60" y2="255.50" stroke="#777" stroke-width="0.45" />
<text x="327.60" y="259.50" font-size="2.8" font-weight="normal" text-anchor="middle" fill="#555" >10<tspan dy="-1" font-size="2">4</tspan></text>
<line x1="337.80" y1="254.60" x2="337.80" y2="255.50" stroke="#777" stroke-width="0.45" />
<text x="337.80" y="259.50" font-size="2.8" font-weight="normal" text-anchor="middle" fill="#555" >10<tspan dy="-1" font-size="2">5</tspan></text>
<text x="312.30" y="262.40" font-size="2.6" font-weight="normal" text-anchor="middle" fill="#555" >FITC-A</text>
<path d="M285.4 202.2h0.6M285.4 204.4h0.6M285.4 206.6h0.6M285.4 208.8h0.6M285.4 210.9h0.6M285.4 213.1h0.6M285.4 215.3h0.6M285.4 217.5h0.6M285.4 219.7h0.6M285.4 221.8h0.6M285.4 224.0h0.6M285.4 226.2h0.6M285.4 228.4h0.6M285.4 230.6h0.6M285.4 232.8h0.6M285.4 234.9h0.6M285.4 237.1h0.6M285.4 239.3h0.6M285.4 241.5h0.6M285.4 243.7h0.6M285.4 245.9h0.6M285.4 248.0h0.6M285.4 250.2h0.6M285.4 252.4h0.6M285.4 254.6h0.6" stroke="#888" stroke-width="0.35"/>
<path d="M286.0 254.6v0.6M288.2 254.6v0.6M290.4 254.6v0.6M292.6 254.6v0.6M294.8 254.6v0.6M297.0 254.6v0.6M299.1 254.6v0.6M301.3 254.6v0.6M303.5 254.6v0.6M305.7 254.6v0.6M307.9 254.6v0.6M310.1 254.6v0.6M312.3 254.6v0.6M314.5 254.6v0.6M316.7 254.6v0.6M318.9 254.6v0.6M321.1 254.6v0.6M323.3 254.6v0.6M325.5 254.6v0.6M327.6 254.6v0.6M329.8 254.6v0.6M332.0 254.6v0.6M334.2 254.6v0.6M336.4 254.6v0.6M338.6 254.6v0.6" stroke="#888" stroke-width="0.35"/>
<line x1="284.80" y1="254.00" x2="286.00" y2="254.00" stroke="#666" stroke-width="0.45" />
<text x="284.00" y="254.90" font-size="2.8" font-weight="normal" text-anchor="end" fill="#555" >10<tspan dy="-1" font-size="2">0</tspan></text>
<line x1="284.80" y1="243.76" x2="286.00" y2="243.76" stroke="#666" stroke-width="0.45" />
<text x="284.00" y="244.66" font-size="2.8" font-weight="normal" text-anchor="end" fill="#555" >10<tspan dy="-1" font-size="2">1</tspan></text>
<line x1="284.80" y1="233.52" x2="286.00" y2="233.52" stroke="#666" stroke-width="0.45" />
<text x="284.00" y="234.42" font-size="2.8" font-weight="normal" text-anchor="end" fill="#555" >10<tspan dy="-1" font-size="2">2</tspan></text>
<line x1="284.80" y1="223.28" x2="286.00" y2="223.28" stroke="#666" stroke-width="0.45" />
<text x="284.00" y="224.18" font-size="2.8" font-weight="normal" text-anchor="end" fill="#555" >10<tspan dy="-1" font-size="2">3</tspan></text>
<line x1="284.80" y1="213.04" x2="286.00" y2="213.04" stroke="#666" stroke-width="0.45" />
<text x="284.00" y="213.94" font-size="2.8" font-weight="normal" text-anchor="end" fill="#555" >10<tspan dy="-1" font-size="2">4</tspan></text>
<line x1="284.80" y1="202.80" x2="286.00" y2="202.80" stroke="#666" stroke-width="0.45" />
<text x="284.00" y="203.70" font-size="2.8" font-weight="normal" text-anchor="end" fill="#555" >10<tspan dy="-1" font-size="2">5</tspan></text>
<text transform="translate(278.80,228.40) rotate(-90)" font-size="2.6" text-anchor="middle" fill="#555" stroke="#555" stroke-width="0.08">PE-Cy7-A</text>
<rect x="213.0" y="269.2" width="52.20" height="51.80" fill="#fff" stroke="#a8a8a8" stroke-width="0.5"/>
<g filter="url(#soft)">
<ellipse cx="233.3" cy="303.0" rx="4.0" ry="4.2" fill="#1010e0" fill-opacity="0.8" filter="url(#bl)"/>
<path d="M234.2 282.5h0.9M232.8 297.7h0.9M240.2 285.8h0.9M227.3 303.1h0.9M234.4 293.1h0.9M233.5 277.4h0.9M235.6 283.3h0.9M233.1 285.6h0.9M233.2 306.6h0.9M240.8 276.4h0.9M227.6 286.5h0.9M231.4 295.4h0.9M241.0 284.9h0.9M236.7 288.5h0.9M225.8 298.1h0.9M241.8 284.3h0.9M237.0 286.4h0.9M233.9 286.8h0.9M233.7 290.3h0.9M231.7 291.9h0.9M228.7 295.6h0.9M230.2 277.1h0.9M237.9 287.6h0.9M232.0 296.3h0.9M234.1 303.5h0.9M236.1 280.0h0.9M232.1 285.3h0.9M233.0 301.7h0.9M246.0 301.9h0.9M236.2 293.8h0.9M235.0 274.6h0.9M240.3 303.8h0.9M232.0 289.8h0.9M231.2 288.5h0.9M230.6 282.1h0.9M239.5 276.5h0.9M238.7 282.0h0.9M233.2 276.0h0.9M237.1 283.0h0.9M245.0 283.5h0.9M235.4 294.6h0.9M230.1 284.2h0.9M229.7 293.8h0.9M235.6 297.0h0.9M228.1 283.5h0.9M233.8 286.9h0.9M235.6 297.8h0.9M234.9 284.4h0.9M234.1 285.0h0.9M231.5 302.9h0.9M237.2 302.7h0.9M233.4 289.5h0.9M228.8 291.6h0.9M237.4 294.8h0.9M229.3 290.7h0.9M238.3 286.7h0.9M237.3 286.5h0.9M234.3 285.9h0.9M227.9 284.2h0.9M235.0 288.0h0.9M234.3 286.0h0.9M238.1 288.7h0.9M236.0 286.7h0.9M239.9 289.3h0.9M236.2 305.3h0.9M236.2 279.1h0.9M231.4 292.2h0.9M228.6 279.7h0.9M233.8 279.0h0.9M239.0 293.0h0.9M232.9 298.4h0.9M231.4 281.7h0.9M238.2 290.1h0.9M233.3 297.1h0.9M233.7 294.5h0.9M235.2 298.0h0.9M236.7 286.7h0.9M240.8 287.5h0.9M241.8 281.2h0.9M234.5 274.4h0.9M236.6 299.3h0.9M232.6 293.3h0.9M233.3 300.0h0.9M235.8 292.4h0.9M239.0 279.4h0.9M237.3 290.9h0.9M239.9 290.2h0.9M236.9 289.6h0.9M230.1 286.5h0.9M233.5 280.7h0.9M234.1 286.7h0.9M242.2 288.3h0.9M234.9 290.6h0.9M237.3 278.8h0.9M226.8 301.0h0.9M230.7 283.8h0.9M239.4 292.1h0.9M230.9 295.2h0.9M229.4 301.3h0.9M233.0 292.3h0.9M234.3 303.3h0.9M230.2 289.3h0.9M243.6 275.8h0.9M232.2 291.9h0.9M233.4 293.1h0.9M239.3 282.1h0.9M231.5 299.1h0.9M242.7 271.4h0.9M236.7 296.9h0.9M231.4 284.0h0.9M229.5 288.6h0.9M229.4 294.9h0.9M231.4 293.6h0.9M227.6 296.1h0.9M237.2 296.5h0.9M235.5 305.9h0.9M238.5 290.3h0.9M241.3 287.5h0.9M235.0 301.4h0.9M232.4 290.0h0.9M223.6 314.2h0.9M235.5 302.9h0.9M233.2 307.1h0.9M231.9 308.5h0.9M232.2 309.8h0.9M229.2 306.7h0.9M241.0 299.6h0.9M229.2 313.8h0.9M234.6 307.4h0.9M234.0 302.9h0.9M230.6 310.3h0.9M233.9 311.4h0.9M233.5 317.6h0.9M237.7 300.1h0.9M240.6 301.7h0.9M237.9 300.1h0.9M234.8 307.5h0.9M239.9 288.8h0.9M223.9 314.2h0.9M236.7 302.1h0.9M233.5 292.1h0.9M231.3 300.9h0.9M237.3 308.3h0.9M232.3 315.7h0.9M230.0 312.4h0.9M232.0 310.0h0.9M231.7 317.7h0.9M236.9 299.6h0.9M231.0 317.2h0.9M240.1 296.5h0.9M233.9 311.4h0.9M244.4 311.8h0.9M232.1 313.9h0.9M233.5 299.4h0.9M232.9 304.6h0.9M232.1 307.0h0.9M234.8 300.1h0.9M236.3 293.6h0.9M236.3 310.3h0.9M235.1 294.3h0.9M230.7 308.0h0.9M235.3 312.5h0.9M225.8 306.6h0.9M238.3 297.0h0.9M227.3 302.6h0.9M231.8 304.3h0.9M239.1 308.7h0.9M224.0 312.8h0.9M233.6 313.4h0.9M233.0 317.7h0.9M233.8 302.5h0.9M227.4 314.0h0.9M232.4 292.3h0.9M237.1 317.0h0.9M223.1 311.1h0.9M239.0 300.5h0.9M235.3 312.5h0.9M226.1 318.2h0.9M235.5 313.3h0.9M228.9 313.2h0.9M232.9 304.0h0.9M233.3 309.3h0.9M225.8 306.5h0.9M234.8 293.5h0.9M236.3 306.5h0.9M228.1 297.6h0.9M227.2 313.7h0.9M228.9 308.1h0.9M231.0 313.8h0.9M239.2 314.0h0.9M236.3 315.2h0.9M241.3 299.5h0.9M234.4 301.3h0.9M233.3 304.8h0.9M233.7 312.3h0.9M226.9 285.6h0.9M234.4 315.1h0.9M231.2 318.5h0.9M243.9 307.2h0.9M232.1 310.8h0.9M236.8 294.5h0.9M235.5 290.0h0.9M228.0 308.4h0.9M234.6 297.0h0.9M233.3 317.0h0.9M225.2 311.2h0.9M239.2 295.8h0.9M238.8 310.2h0.9M231.6 306.8h0.9M232.9 306.9h0.9M232.1 300.7h0.9M232.2 318.1h0.9M229.4 296.3h0.9M236.1 308.6h0.9M235.3 298.9h0.9M231.2 314.9h0.9M240.7 308.7h0.9M234.9 285.4h0.9M230.0 317.2h0.9M242.2 300.0h0.9M220.9 310.7h0.9M226.8 303.3h0.9M230.2 303.7h0.9M228.5 312.0h0.9M234.5 296.0h0.9M235.8 308.4h0.9M228.1 307.7h0.9M234.7 300.8h0.9M233.7 303.0h0.9M223.2 295.5h0.9M230.1 302.4h0.9M235.1 320.1h0.9M231.0 307.6h0.9M232.0 293.0h0.9M232.7 305.0h0.9M229.1 312.8h0.9M235.0 304.2h0.9M228.8 309.1h0.9M229.2 299.8h0.9M230.6 314.4h0.9M231.7 305.4h0.9M231.4 311.5h0.9M232.2 313.4h0.9M232.3 313.5h0.9M231.6 300.7h0.9M235.0 305.1h0.9M230.8 318.4h0.9M230.6 300.4h0.9M231.4 318.4h0.9M226.6 316.2h0.9M235.4 303.5h0.9M231.4 300.8h0.9M223.3 299.2h0.9M226.3 293.7h0.9M230.9 311.5h0.9M228.5 304.0h0.9M229.3 305.1h0.9M234.8 316.6h0.9M235.8 309.8h0.9M239.5 312.6h0.9M235.2 311.4h0.9M236.8 298.4h0.9M228.7 307.5h0.9M224.4 304.6h0.9M231.3 309.3h0.9M236.2 317.4h0.9M221.6 308.5h0.9M234.5 318.4h0.9M229.9 310.2h0.9M232.2 299.1h0.9M234.0 314.6h0.9M231.2 307.5h0.9M238.1 305.2h0.9M231.4 309.2h0.9M235.0 310.1h0.9M238.7 310.4h0.9M227.1 293.6h0.9M233.0 303.2h0.9M234.1 311.1h0.9M238.8 296.4h0.9M236.5 308.3h0.9M236.7 315.6h0.9M222.2 314.3h0.9M235.2 300.4h0.9M232.2 315.3h0.9M225.7 313.9h0.9M228.8 301.8h0.9M237.6 304.5h0.9M234.8 285.6h0.9M244.2 291.7h0.9M225.0 310.9h0.9M235.2 300.2h0.9M222.3 311.2h0.9M233.9 299.3h0.9M233.4 302.1h0.9M227.9 312.5h0.9M232.8 307.1h0.9M226.9 301.0h0.9M231.5 301.9h0.9M234.4 307.0h0.9M231.7 305.4h0.9M234.7 315.0h0.9M227.6 314.5h0.9M237.1 313.2h0.9M230.1 308.5h0.9M242.8 295.9h0.9M236.8 304.7h0.9M240.7 307.9h0.9M236.8 301.7h0.9" stroke="#aab4f6" stroke-width="0.9" fill="none"/>
<path d="M230.2 291.3h0.9M230.8 303.6h0.9M232.7 286.7h0.9M234.3 288.7h0.9M239.9 288.7h0.9M235.2 295.7h0.9M239.3 283.0h0.9M235.3 280.7h0.9M236.0 297.9h0.9M232.6 287.2h0.9M238.2 291.8h0.9M237.0 286.1h0.9M233.3 286.7h0.9M239.5 279.6h0.9M232.7 298.8h0.9M234.1 282.1h0.9M235.1 287.6h0.9M233.9 292.2h0.9M236.9 279.6h0.9M235.0 298.5h0.9M230.0 288.4h0.9M230.5 293.2h0.9M231.6 286.9h0.9M233.0 291.9h0.9M230.1 280.2h0.9M235.0 297.6h0.9M232.7 291.6h0.9M235.2 289.7h0.9M234.3 285.5h0.9M233.5 296.6h0.9M235.8 297.1h0.9M232.0 289.8h0.9M232.2 280.6h0.9M237.3 287.2h0.9M235.1 280.0h0.9M233.5 288.2h0.9M233.1 295.4h0.9M235.8 289.8h0.9M235.1 286.2h0.9M232.0 287.2h0.9M231.0 287.9h0.9M234.0 296.1h0.9M232.9 304.4h0.9M232.6 289.8h0.9M234.2 285.1h0.9M234.1 277.8h0.9M238.0 285.3h0.9M234.2 277.5h0.9M236.2 280.9h0.9M238.8 282.4h0.9M231.9 293.2h0.9M238.5 276.4h0.9M228.8 299.3h0.9M235.8 279.4h0.9M232.9 293.4h0.9M233.1 298.6h0.9M232.0 290.1h0.9M238.1 298.4h0.9M235.1 292.7h0.9M233.2 288.6h0.9M232.5 291.5h0.9M237.1 282.6h0.9M230.5 289.3h0.9M240.9 290.4h0.9M234.8 288.7h0.9M228.9 284.5h0.9M239.2 275.6h0.9M240.2 281.4h0.9M241.0 305.7h0.9M239.2 288.1h0.9M236.3 285.5h0.9M232.9 290.3h0.9M224.1 292.6h0.9M233.3 282.1h0.9M233.4 293.1h0.9M231.8 291.3h0.9M229.9 289.6h0.9M230.6 293.9h0.9M230.9 292.9h0.9M227.8 290.1h0.9M237.9 283.7h0.9M234.5 283.5h0.9M235.9 293.8h0.9M238.1 297.5h0.9M238.6 284.3h0.9M234.7 292.4h0.9M234.9 280.6h0.9M240.9 305.3h0.9M234.5 272.3h0.9M240.3 287.8h0.9M241.7 282.3h0.9M236.0 294.1h0.9M229.6 286.9h0.9M235.9 293.2h0.9M235.6 272.2h0.9M226.5 291.3h0.9M239.5 279.1h0.9M235.6 294.9h0.9M231.1 278.8h0.9M235.2 286.1h0.9M234.0 287.7h0.9M233.9 291.0h0.9M232.6 288.8h0.9M232.5 283.4h0.9M235.5 283.7h0.9M236.1 288.8h0.9M237.8 292.8h0.9M227.8 288.8h0.9M236.5 289.7h0.9M234.5 295.9h0.9M236.5 280.3h0.9M234.6 295.4h0.9M234.8 280.8h0.9M236.9 292.9h0.9M238.1 290.1h0.9M234.7 294.5h0.9M230.7 300.0h0.9M235.6 290.4h0.9M236.8 294.1h0.9M227.1 295.0h0.9M234.0 283.9h0.9M237.3 295.0h0.9M235.6 285.0h0.9M234.7 282.8h0.9M242.5 284.7h0.9M237.2 299.5h0.9M231.5 285.5h0.9M227.0 287.4h0.9M230.0 290.0h0.9M233.6 289.0h0.9M234.4 285.9h0.9M234.7 288.5h0.9M232.0 286.9h0.9M232.5 280.6h0.9M234.2 277.0h0.9M236.0 288.8h0.9M234.8 296.4h0.9M237.4 286.1h0.9M235.4 296.6h0.9M233.8 291.4h0.9M235.7 282.3h0.9M235.2 286.5h0.9M233.5 291.8h0.9M236.4 283.2h0.9M233.5 287.7h0.9M231.2 291.4h0.9M233.6 284.4h0.9M237.4 288.4h0.9M230.5 288.4h0.9M233.7 290.9h0.9M241.7 292.5h0.9M239.0 287.9h0.9M235.8 292.2h0.9M234.0 290.5h0.9M232.8 293.4h0.9M231.4 300.0h0.9M222.2 280.0h0.9M233.9 291.3h0.9M234.8 278.5h0.9M235.7 283.3h0.9M235.0 286.3h0.9M233.4 279.2h0.9M230.0 285.4h0.9M230.8 290.5h0.9M229.8 290.4h0.9M236.1 284.2h0.9M231.2 286.7h0.9M236.9 297.9h0.9M241.3 289.5h0.9M236.3 290.2h0.9M233.8 304.0h0.9M232.1 307.3h0.9M240.4 301.8h0.9M227.9 301.5h0.9M228.2 298.3h0.9M229.4 307.5h0.9M233.5 306.1h0.9M232.6 307.3h0.9M231.5 308.5h0.9M236.0 304.2h0.9M227.9 298.9h0.9M233.8 299.2h0.9M232.4 302.7h0.9M237.7 300.6h0.9M233.4 301.5h0.9M230.4 305.0h0.9M236.3 297.6h0.9M238.1 312.1h0.9M233.5 305.4h0.9M229.4 301.7h0.9M234.0 303.0h0.9M237.7 299.8h0.9M232.1 305.4h0.9M232.7 302.3h0.9M232.6 304.9h0.9M226.3 313.6h0.9M235.5 299.1h0.9M229.8 298.8h0.9M234.5 295.9h0.9M241.4 301.1h0.9M228.1 311.5h0.9M232.9 305.3h0.9M232.3 302.3h0.9M240.0 295.5h0.9M233.8 300.4h0.9M231.8 303.1h0.9M226.6 305.8h0.9M233.7 305.5h0.9M230.9 306.2h0.9M231.4 306.4h0.9M237.6 305.8h0.9M228.0 303.6h0.9M229.4 311.0h0.9M233.6 298.3h0.9M227.7 308.5h0.9M229.5 304.9h0.9M231.8 302.7h0.9M231.4 303.3h0.9M238.5 299.9h0.9M234.7 305.2h0.9M230.7 299.0h0.9M229.9 305.6h0.9M233.5 307.4h0.9M234.2 303.8h0.9M233.0 304.2h0.9M233.1 306.0h0.9M230.0 307.5h0.9M238.6 303.0h0.9M234.9 298.7h0.9M233.3 297.7h0.9M236.4 303.5h0.9M236.7 307.8h0.9M230.4 306.5h0.9M238.3 312.0h0.9M232.6 305.5h0.9M230.8 305.8h0.9M235.0 309.0h0.9M232.5 303.6h0.9M234.7 302.7h0.9M240.1 294.6h0.9M227.1 301.3h0.9M235.4 303.4h0.9M234.4 297.4h0.9M235.0 305.5h0.9M238.6 306.6h0.9M230.8 300.4h0.9M229.1 301.4h0.9M232.6 308.2h0.9M238.7 303.6h0.9M235.0 302.7h0.9M228.5 305.4h0.9M230.5 297.0h0.9M230.1 309.2h0.9M229.0 308.7h0.9M228.3 303.1h0.9M234.7 301.8h0.9M229.6 303.3h0.9M238.7 305.9h0.9M233.7 305.6h0.9M237.1 308.5h0.9M232.0 299.9h0.9M229.6 303.6h0.9M231.9 303.3h0.9M230.8 313.1h0.9M230.6 308.9h0.9M230.0 300.2h0.9M228.9 299.1h0.9M227.3 300.1h0.9M232.1 306.0h0.9M226.8 305.1h0.9M232.6 303.3h0.9M225.5 305.2h0.9M235.3 307.8h0.9M232.0 308.2h0.9M233.2 299.7h0.9M234.8 307.2h0.9M233.8 303.2h0.9M232.1 305.9h0.9M226.7 304.5h0.9M228.5 301.3h0.9M233.7 308.2h0.9M232.9 299.7h0.9M242.4 304.6h0.9M223.6 302.9h0.9M230.4 301.0h0.9M236.6 311.7h0.9M233.3 298.1h0.9M236.0 303.7h0.9M231.6 304.1h0.9M229.0 304.1h0.9M234.2 308.0h0.9M239.9 300.9h0.9M234.3 300.2h0.9M233.4 307.8h0.9M235.2 302.2h0.9M239.2 306.8h0.9M237.2 303.6h0.9M237.6 302.8h0.9M236.0 303.5h0.9M233.0 297.3h0.9M236.4 305.6h0.9M230.8 303.6h0.9M235.1 305.8h0.9M225.8 309.2h0.9M229.4 310.8h0.9M237.0 303.9h0.9M233.7 304.4h0.9M231.6 309.3h0.9M230.6 301.2h0.9M232.2 297.1h0.9M236.6 298.7h0.9M238.3 307.0h0.9M240.0 301.0h0.9M231.9 301.6h0.9M235.8 299.8h0.9M231.8 294.3h0.9M233.1 304.2h0.9M239.9 300.0h0.9M236.4 305.6h0.9M236.1 299.0h0.9M220.8 301.4h0.9M236.4 304.0h0.9M238.1 311.8h0.9M230.5 301.7h0.9M238.4 296.8h0.9M224.2 304.4h0.9M234.1 309.3h0.9M235.6 303.2h0.9M231.0 296.1h0.9M234.8 300.9h0.9M231.6 304.6h0.9M225.8 303.0h0.9M230.8 311.2h0.9M232.6 307.8h0.9M229.5 297.1h0.9M236.1 302.0h0.9M228.2 307.6h0.9M234.8 296.5h0.9M232.2 311.2h0.9M233.4 298.0h0.9M230.0 308.8h0.9M238.3 306.1h0.9M227.6 306.6h0.9M230.1 301.3h0.9M231.2 307.6h0.9M234.8 305.6h0.9M231.4 301.3h0.9M236.8 300.9h0.9M232.0 305.5h0.9M232.4 307.3h0.9M235.0 305.9h0.9M241.2 301.2h0.9M240.4 298.2h0.9M230.2 293.4h0.9M230.6 300.1h0.9M235.5 308.4h0.9M241.2 301.2h0.9M236.8 302.6h0.9M226.4 286.7h0.9M231.7 295.6h0.9M236.1 299.6h0.9M235.3 300.6h0.9M234.7 299.5h0.9M234.4 310.6h0.9M234.3 297.8h0.9M230.2 303.9h0.9M235.9 298.4h0.9M229.7 296.8h0.9M239.3 304.5h0.9M234.1 301.6h0.9M239.8 305.6h0.9M232.6 308.2h0.9M235.1 302.2h0.9M231.7 303.3h0.9M237.9 297.6h0.9M227.1 306.1h0.9M236.8 309.2h0.9M235.0 297.3h0.9M235.9 304.0h0.9M229.4 296.9h0.9M227.5 303.6h0.9M228.4 304.8h0.9M232.4 305.9h0.9M236.1 299.6h0.9M231.6 306.3h0.9M230.7 307.4h0.9M235.1 307.0h0.9M230.8 306.5h0.9M232.2 304.2h0.9M235.2 301.0h0.9M232.8 293.7h0.9M230.5 305.8h0.9M229.1 294.7h0.9M227.9 302.1h0.9M235.4 305.5h0.9M227.9 304.9h0.9M228.6 307.7h0.9M234.4 300.7h0.9M231.3 303.0h0.9M230.9 308.0h0.9M234.1 301.0h0.9M234.6 297.7h0.9M233.5 302.0h0.9M230.9 303.1h0.9M233.8 297.4h0.9M234.3 315.3h0.9M235.8 300.9h0.9M234.2 310.0h0.9M229.2 310.0h0.9M231.7 311.0h0.9" stroke="#4a5af0" stroke-width="0.9" fill="none"/>
<path d="M230.8 306.0h0.9M231.5 306.6h0.9M235.1 304.0h0.9M230.8 306.0h0.9M233.8 299.9h0.9M234.2 302.5h0.9M232.6 300.2h0.9M233.4 305.5h0.9M230.8 305.3h0.9M228.4 303.3h0.9M233.5 300.3h0.9M233.3 299.3h0.9M237.4 304.1h0.9M235.5 300.3h0.9M227.4 302.8h0.9M236.1 302.5h0.9M235.7 304.1h0.9M233.7 306.0h0.9M231.4 301.8h0.9M235.5 304.3h0.9M231.6 299.9h0.9M236.5 293.8h0.9M235.1 302.6h0.9M229.7 304.2h0.9M234.0 309.5h0.9M233.6 295.8h0.9M230.6 305.2h0.9M231.7 302.8h0.9M232.7 307.1h0.9M233.7 302.5h0.9M231.3 305.9h0.9M231.2 304.2h0.9M233.9 305.1h0.9M234.8 303.8h0.9M237.6 305.2h0.9M231.1 300.4h0.9M231.2 306.8h0.9M230.2 307.5h0.9M233.9 301.3h0.9M230.5 302.7h0.9M234.7 302.8h0.9M234.6 303.5h0.9M236.1 301.6h0.9M232.6 299.8h0.9M232.1 300.2h0.9M229.3 302.4h0.9M234.5 296.6h0.9M229.8 299.0h0.9M233.7 304.6h0.9M233.6 302.5h0.9M231.0 303.5h0.9M230.8 302.3h0.9M233.8 302.3h0.9M235.7 296.8h0.9M229.1 305.8h0.9M231.5 301.7h0.9M231.6 302.8h0.9M232.5 304.0h0.9M235.1 308.3h0.9M227.9 302.7h0.9M230.8 303.6h0.9M230.5 303.2h0.9M233.5 302.9h0.9M233.4 304.9h0.9M230.4 302.9h0.9M235.3 305.6h0.9M235.2 300.6h0.9M231.3 305.8h0.9M232.9 303.8h0.9M232.0 305.6h0.9M233.3 300.2h0.9M233.7 302.0h0.9M232.2 304.6h0.9M233.2 301.4h0.9M230.1 301.7h0.9M232.5 299.6h0.9M231.4 309.6h0.9M231.4 303.2h0.9M230.0 302.1h0.9M233.4 303.5h0.9M228.9 303.1h0.9M230.6 306.1h0.9M232.6 307.5h0.9M233.7 299.7h0.9M235.1 301.6h0.9M232.6 303.3h0.9M229.8 306.3h0.9M233.2 300.1h0.9M229.6 304.3h0.9M235.7 304.1h0.9M233.6 301.8h0.9M235.4 304.5h0.9M231.0 301.3h0.9M227.8 306.3h0.9M239.9 302.7h0.9M233.9 305.2h0.9M232.3 309.1h0.9M230.5 300.6h0.9M236.7 305.6h0.9M234.6 302.7h0.9M232.8 303.4h0.9M233.9 301.3h0.9M235.3 308.0h0.9M231.6 300.3h0.9M233.1 310.0h0.9M230.6 306.8h0.9M231.3 300.9h0.9M235.4 302.5h0.9M232.8 305.0h0.9M235.5 303.7h0.9M236.5 301.1h0.9M231.6 304.9h0.9M234.4 298.1h0.9M232.1 305.0h0.9M232.5 308.1h0.9M229.1 303.6h0.9M230.9 298.5h0.9M232.3 302.8h0.9M231.9 301.2h0.9M234.9 300.1h0.9M231.4 299.1h0.9M235.6 298.9h0.9M236.9 300.4h0.9M232.7 307.6h0.9M230.4 306.8h0.9M229.8 301.7h0.9M234.2 304.0h0.9M233.6 303.9h0.9M236.6 298.5h0.9M231.2 305.5h0.9M229.4 301.1h0.9M238.6 306.8h0.9M234.1 303.3h0.9M232.5 300.5h0.9M230.8 300.3h0.9M229.9 303.4h0.9M233.9 300.4h0.9M233.2 299.3h0.9M233.7 302.1h0.9M232.7 303.6h0.9M235.9 303.6h0.9M231.3 303.5h0.9M233.8 304.6h0.9M235.3 300.7h0.9M230.0 304.8h0.9M230.2 304.3h0.9M239.3 306.6h0.9M229.4 300.7h0.9M233.8 302.2h0.9M234.5 303.7h0.9M233.6 304.6h0.9M229.2 306.3h0.9M229.5 300.5h0.9M227.2 303.1h0.9M233.8 302.0h0.9M230.0 296.9h0.9M234.2 299.8h0.9M232.0 303.7h0.9M232.7 304.2h0.9M236.8 305.1h0.9M230.5 302.9h0.9M232.3 300.6h0.9M234.4 302.0h0.9M233.4 304.9h0.9M237.8 301.3h0.9M234.6 309.1h0.9M236.6 303.9h0.9M231.1 303.5h0.9M231.4 301.9h0.9M228.8 302.2h0.9" stroke="#1010e0" stroke-width="0.9" fill="none"/>
<path d="M253.4 319.3h0.7M254.5 300.3h0.7M253.7 311.0h0.7M253.3 305.1h0.7M255.9 310.1h0.7M251.1 298.4h0.7M251.9 301.1h0.7M249.0 319.5h0.7M252.3 315.5h0.7M255.2 314.1h0.7M251.5 302.3h0.7M252.1 310.3h0.7M252.2 307.7h0.7M252.8 300.7h0.7M255.0 302.3h0.7" stroke="#f8d0c0" stroke-width="0.7" fill="none"/>
<path d="M251.2 316.8h0.7M249.9 307.0h0.7M251.6 303.7h0.7M253.1 303.8h0.7M252.1 308.3h0.7M248.3 310.1h0.7M249.4 309.6h0.7M248.1 307.0h0.7M253.5 310.7h0.7M254.0 316.9h0.7M253.3 308.5h0.7M251.8 312.3h0.7M249.9 304.6h0.7M252.0 317.4h0.7M250.1 310.6h0.7M250.8 312.7h0.7M252.6 309.3h0.7M253.6 308.3h0.7M249.2 319.1h0.7M251.9 310.8h0.7M253.4 305.7h0.7M251.2 306.0h0.7M253.0 311.3h0.7M252.4 303.4h0.7M250.6 302.8h0.7M249.7 306.0h0.7M252.5 311.7h0.7M249.0 312.3h0.7" stroke="#f2a88e" stroke-width="0.7" fill="none"/>
</g>
<line x1="222" y1="320.5" x2="244" y2="320.5" stroke="#4a5af0" stroke-width="0.6" stroke-opacity="0.6"/>
<line x1="249.60" y1="269.20" x2="249.60" y2="321.00" stroke="#7a7a7a" stroke-width="0.6" />
<line x1="213.00" y1="301.00" x2="265.20" y2="301.00" stroke="#7a7a7a" stroke-width="0.6" />
<line x1="213.00" y1="269.20" x2="213.00" y2="321.00" stroke="#666" stroke-width="0.9" />
<line x1="213.00" y1="321.00" x2="265.20" y2="321.00" stroke="#999" stroke-width="0.5" />
<text x="215.40" y="278.20" font-size="6.8" font-weight="bold" text-anchor="start" fill="#111" >39</text>
<text x="237.60" y="267.60" font-size="2.7" font-weight="normal" text-anchor="middle" fill="#444" >Q1-R4&amp;R3: P1</text>
<text x="264.60" y="272.60" font-size="2.6" font-weight="normal" text-anchor="end" fill="#444" >Q1-UR(2.83%)</text>
<text x="214.00" y="319.50" font-size="2.6" font-weight="normal" text-anchor="start" fill="#444" >Q1-LL(8.93%)</text>
<text x="264.60" y="319.50" font-size="2.6" font-weight="normal" text-anchor="end" fill="#444" >Q1-LR(1.22%)</text>
<line x1="213.80" y1="321.00" x2="213.80" y2="321.90" stroke="#777" stroke-width="0.45" />
<text x="213.80" y="325.90" font-size="2.8" font-weight="normal" text-anchor="middle" fill="#555" >10<tspan dy="-1" font-size="2">0</tspan></text>
<line x1="223.92" y1="321.00" x2="223.92" y2="321.90" stroke="#777" stroke-width="0.45" />
<text x="223.92" y="325.90" font-size="2.8" font-weight="normal" text-anchor="middle" fill="#555" >10<tspan dy="-1" font-size="2">1</tspan></text>
<line x1="234.04" y1="321.00" x2="234.04" y2="321.90" stroke="#777" stroke-width="0.45" />
<text x="234.04" y="325.90" font-size="2.8" font-weight="normal" text-anchor="middle" fill="#555" >10<tspan dy="-1" font-size="2">2</tspan></text>
<line x1="244.16" y1="321.00" x2="244.16" y2="321.90" stroke="#777" stroke-width="0.45" />
<text x="244.16" y="325.90" font-size="2.8" font-weight="normal" text-anchor="middle" fill="#555" >10<tspan dy="-1" font-size="2">3</tspan></text>
<line x1="254.28" y1="321.00" x2="254.28" y2="321.90" stroke="#777" stroke-width="0.45" />
<text x="254.28" y="325.90" font-size="2.8" font-weight="normal" text-anchor="middle" fill="#555" >10<tspan dy="-1" font-size="2">4</tspan></text>
<line x1="264.40" y1="321.00" x2="264.40" y2="321.90" stroke="#777" stroke-width="0.45" />
<text x="264.40" y="325.90" font-size="2.8" font-weight="normal" text-anchor="middle" fill="#555" >10<tspan dy="-1" font-size="2">5</tspan></text>
<text x="239.10" y="328.80" font-size="2.6" font-weight="normal" text-anchor="middle" fill="#555" >FITC-A</text>
<path d="M212.4 269.2h0.6M212.4 271.4h0.6M212.4 273.5h0.6M212.4 275.7h0.6M212.4 277.8h0.6M212.4 280.0h0.6M212.4 282.1h0.6M212.4 284.3h0.6M212.4 286.5h0.6M212.4 288.6h0.6M212.4 290.8h0.6M212.4 292.9h0.6M212.4 295.1h0.6M212.4 297.3h0.6M212.4 299.4h0.6M212.4 301.6h0.6M212.4 303.7h0.6M212.4 305.9h0.6M212.4 308.1h0.6M212.4 310.2h0.6M212.4 312.4h0.6M212.4 314.5h0.6M212.4 316.7h0.6M212.4 318.8h0.6M212.4 321.0h0.6" stroke="#888" stroke-width="0.35"/>
<path d="M213.0 321.0v0.6M215.2 321.0v0.6M217.3 321.0v0.6M219.5 321.0v0.6M221.7 321.0v0.6M223.9 321.0v0.6M226.1 321.0v0.6M228.2 321.0v0.6M230.4 321.0v0.6M232.6 321.0v0.6M234.8 321.0v0.6M236.9 321.0v0.6M239.1 321.0v0.6M241.3 321.0v0.6M243.4 321.0v0.6M245.6 321.0v0.6M247.8 321.0v0.6M250.0 321.0v0.6M252.1 321.0v0.6M254.3 321.0v0.6M256.5 321.0v0.6M258.7 321.0v0.6M260.8 321.0v0.6M263.0 321.0v0.6M265.2 321.0v0.6" stroke="#888" stroke-width="0.35"/>
<line x1="211.80" y1="320.40" x2="213.00" y2="320.40" stroke="#666" stroke-width="0.45" />
<text x="211.00" y="321.30" font-size="2.8" font-weight="normal" text-anchor="end" fill="#555" >10<tspan dy="-1" font-size="2">0</tspan></text>
<line x1="211.80" y1="310.28" x2="213.00" y2="310.28" stroke="#666" stroke-width="0.45" />
<text x="211.00" y="311.18" font-size="2.8" font-weight="normal" text-anchor="end" fill="#555" >10<tspan dy="-1" font-size="2">1</tspan></text>
<line x1="211.80" y1="300.16" x2="213.00" y2="300.16" stroke="#666" stroke-width="0.45" />
<text x="211.00" y="301.06" font-size="2.8" font-weight="normal" text-anchor="end" fill="#555" >10<tspan dy="-1" font-size="2">2</tspan></text>
<line x1="211.80" y1="290.04" x2="213.00" y2="290.04" stroke="#666" stroke-width="0.45" />
<text x="211.00" y="290.94" font-size="2.8" font-weight="normal" text-anchor="end" fill="#555" >10<tspan dy="-1" font-size="2">3</tspan></text>
<line x1="211.80" y1="279.92" x2="213.00" y2="279.92" stroke="#666" stroke-width="0.45" />
<text x="211.00" y="280.82" font-size="2.8" font-weight="normal" text-anchor="end" fill="#555" >10<tspan dy="-1" font-size="2">4</tspan></text>
<line x1="211.80" y1="269.80" x2="213.00" y2="269.80" stroke="#666" stroke-width="0.45" />
<text x="211.00" y="270.70" font-size="2.8" font-weight="normal" text-anchor="end" fill="#555" >10<tspan dy="-1" font-size="2">5</tspan></text>
<text transform="translate(205.80,295.10) rotate(-90)" font-size="2.6" text-anchor="middle" fill="#555" stroke="#555" stroke-width="0.08">PE-Cy7-A</text>
<rect x="286.0" y="269.2" width="52.60" height="51.80" fill="#fff" stroke="#a8a8a8" stroke-width="0.5"/>
<g filter="url(#soft)">
<ellipse cx="307.8" cy="299.3" rx="3.8" ry="4.0" fill="#1010e0" fill-opacity="0.85" filter="url(#bl)"/>
<path d="M311.1 297.7h0.9M305.3 287.9h0.9M309.9 286.0h0.9M308.7 286.3h0.9M311.1 285.5h0.9M306.2 279.2h0.9M304.8 278.3h0.9M307.7 296.5h0.9M302.4 283.0h0.9M304.8 292.5h0.9M307.0 286.8h0.9M303.9 287.2h0.9M306.7 283.3h0.9M314.9 292.7h0.9M307.6 291.4h0.9M318.9 293.6h0.9M305.9 288.9h0.9M313.6 292.5h0.9M307.1 289.9h0.9M303.2 286.8h0.9M306.5 287.4h0.9M314.6 289.4h0.9M313.7 289.1h0.9M301.4 298.0h0.9M305.9 288.3h0.9M313.4 299.3h0.9M309.1 298.3h0.9M306.1 293.8h0.9M304.2 296.2h0.9M305.7 293.9h0.9M302.8 299.5h0.9M315.9 287.2h0.9M308.7 282.2h0.9M307.5 278.6h0.9M311.7 288.6h0.9M313.7 289.1h0.9M307.3 283.1h0.9M311.3 288.2h0.9M302.8 278.3h0.9M312.8 288.4h0.9M308.0 285.1h0.9M305.9 289.0h0.9M309.3 280.5h0.9M319.8 295.7h0.9M299.5 289.6h0.9M313.6 284.4h0.9M302.1 293.0h0.9M305.5 289.1h0.9M316.0 289.1h0.9M314.5 283.4h0.9M299.9 286.3h0.9M306.6 294.0h0.9M310.4 274.8h0.9M303.2 285.9h0.9M305.0 284.4h0.9M306.8 290.2h0.9M301.4 282.4h0.9M304.1 297.7h0.9M307.6 278.4h0.9M310.6 295.7h0.9M300.9 280.3h0.9M310.4 289.4h0.9M311.2 300.6h0.9M311.4 296.2h0.9M306.1 299.2h0.9M305.1 291.5h0.9M299.0 286.1h0.9M312.0 282.4h0.9M306.2 273.5h0.9M306.8 279.6h0.9M308.6 285.6h0.9M305.2 286.6h0.9M306.4 289.0h0.9M307.1 297.2h0.9M313.2 271.0h0.9M314.6 287.5h0.9M310.0 282.5h0.9M311.1 293.1h0.9M305.8 280.9h0.9M310.7 292.2h0.9M304.2 273.7h0.9M303.2 291.9h0.9M314.2 282.0h0.9M305.7 281.2h0.9M310.0 283.3h0.9M316.1 293.2h0.9M307.5 286.1h0.9M313.0 286.1h0.9M306.6 289.8h0.9M313.2 299.2h0.9M306.8 280.2h0.9M304.2 287.8h0.9M311.3 270.2h0.9M311.4 291.9h0.9M309.3 278.4h0.9M308.8 285.3h0.9M304.1 293.3h0.9M314.1 290.3h0.9M311.0 296.1h0.9M308.6 286.0h0.9M315.2 284.5h0.9M307.0 291.4h0.9M306.5 282.1h0.9M313.4 288.8h0.9M305.3 284.8h0.9M311.1 294.8h0.9M309.4 297.2h0.9M308.4 300.2h0.9M312.6 280.8h0.9M308.0 291.3h0.9M308.4 281.9h0.9M310.6 288.5h0.9M301.7 279.8h0.9M306.7 295.5h0.9M308.3 290.3h0.9M312.8 287.3h0.9M308.5 288.4h0.9M312.6 284.3h0.9M310.2 283.8h0.9M308.9 296.7h0.9M301.8 301.9h0.9M310.3 297.8h0.9M309.2 303.8h0.9M313.0 310.8h0.9M307.8 302.3h0.9M302.1 314.8h0.9M305.4 294.0h0.9M302.6 289.1h0.9M302.3 300.3h0.9M307.7 310.9h0.9M310.6 289.6h0.9M304.2 308.5h0.9M308.2 303.6h0.9M302.6 309.3h0.9M306.1 301.8h0.9M306.0 302.0h0.9M308.0 312.3h0.9M306.9 298.8h0.9M305.9 302.5h0.9M308.9 309.7h0.9M314.6 310.7h0.9M298.2 297.2h0.9M300.3 306.1h0.9M318.0 307.3h0.9M303.7 314.5h0.9M309.6 297.4h0.9M301.8 315.2h0.9M310.2 287.5h0.9M302.8 308.1h0.9M299.8 303.7h0.9M302.2 290.7h0.9M303.9 299.6h0.9M307.8 290.3h0.9M307.7 300.9h0.9M298.6 313.1h0.9M304.3 307.0h0.9M314.1 306.9h0.9M311.1 305.4h0.9M303.6 305.2h0.9M298.7 307.5h0.9M310.5 307.1h0.9M303.1 294.3h0.9M302.8 301.5h0.9M299.4 318.7h0.9M302.5 304.7h0.9M304.1 304.7h0.9M295.8 295.7h0.9M306.3 303.4h0.9M308.4 299.6h0.9M310.5 305.4h0.9M306.2 303.9h0.9M311.7 303.5h0.9M314.1 304.7h0.9M307.6 303.8h0.9M307.9 307.4h0.9M303.3 309.9h0.9M319.1 307.9h0.9M307.0 297.5h0.9M302.6 297.4h0.9M307.7 298.4h0.9M314.3 300.4h0.9M302.0 296.7h0.9M305.9 302.6h0.9M311.0 298.1h0.9M308.1 311.1h0.9M305.0 290.2h0.9M307.6 311.7h0.9M308.4 303.8h0.9M296.8 316.3h0.9M305.5 294.5h0.9M304.7 304.9h0.9M306.6 296.7h0.9M318.3 313.4h0.9M311.4 308.7h0.9M304.4 294.6h0.9M300.1 312.1h0.9M306.8 316.4h0.9M295.2 314.0h0.9M308.7 299.5h0.9M310.8 298.6h0.9M305.0 307.8h0.9M307.2 305.9h0.9M307.5 311.8h0.9M302.2 288.1h0.9M301.8 284.9h0.9M316.0 298.6h0.9M306.2 306.3h0.9M302.5 299.8h0.9M307.7 303.8h0.9M310.4 301.8h0.9M303.1 292.4h0.9M298.0 305.8h0.9M307.9 300.5h0.9M312.4 282.7h0.9M309.6 294.4h0.9M304.7 301.9h0.9M302.7 301.5h0.9M306.4 309.3h0.9M310.5 296.3h0.9M308.8 300.5h0.9M310.8 299.2h0.9M311.7 296.7h0.9M304.0 310.3h0.9M311.4 310.5h0.9M316.3 311.7h0.9M306.3 311.0h0.9M302.3 310.0h0.9M308.3 302.5h0.9M302.8 312.0h0.9M296.4 302.4h0.9M299.4 301.0h0.9M304.2 297.3h0.9M303.3 305.9h0.9M316.1 317.3h0.9M305.4 300.4h0.9M309.4 297.2h0.9M299.0 311.3h0.9M304.3 315.6h0.9M308.0 292.3h0.9M307.8 307.5h0.9M306.7 293.0h0.9M298.9 318.3h0.9M292.5 296.2h0.9M310.4 317.8h0.9M309.6 303.5h0.9M308.3 312.6h0.9M303.7 313.7h0.9M307.6 305.3h0.9M308.6 306.2h0.9M301.8 315.9h0.9M303.9 301.6h0.9M294.7 290.9h0.9M309.2 303.0h0.9M305.9 300.8h0.9M309.4 298.6h0.9M299.0 291.0h0.9M302.4 306.2h0.9M313.5 308.2h0.9M303.0 293.3h0.9M310.5 307.6h0.9M306.1 308.6h0.9M309.3 307.7h0.9M313.0 291.6h0.9M303.1 299.5h0.9M301.4 319.2h0.9M308.2 307.0h0.9M310.3 301.9h0.9M310.6 302.1h0.9M310.1 308.1h0.9M312.9 291.8h0.9M301.8 297.8h0.9M302.3 306.7h0.9M311.2 301.0h0.9M311.7 310.7h0.9M303.5 308.9h0.9M313.5 300.0h0.9M295.5 308.1h0.9M307.8 308.6h0.9M309.0 303.3h0.9M306.3 297.4h0.9M316.1 315.9h0.9M305.7 297.1h0.9M308.5 316.3h0.9M306.6 297.3h0.9M311.1 305.8h0.9M302.5 302.1h0.9M307.2 295.0h0.9M307.8 313.8h0.9M311.7 313.6h0.9M310.1 303.1h0.9M309.5 313.4h0.9M306.6 307.9h0.9M303.3 303.9h0.9M304.0 295.4h0.9M298.1 300.0h0.9M307.4 298.0h0.9M307.3 310.5h0.9M298.4 303.0h0.9M309.4 308.3h0.9M315.5 305.5h0.9M312.6 299.4h0.9M302.0 299.6h0.9M304.3 310.9h0.9M310.2 304.0h0.9M302.0 305.0h0.9M304.4 300.9h0.9M297.9 316.2h0.9M319.7 304.3h0.9M317.4 300.6h0.9M320.3 303.5h0.9M297.4 303.8h0.9M310.5 317.4h0.9M311.3 317.9h0.9M307.4 291.9h0.9M307.3 297.0h0.9M310.6 287.1h0.9M301.6 294.7h0.9" stroke="#aab4f6" stroke-width="0.9" fill="none"/>
<path d="M308.5 282.7h0.9M312.3 284.9h0.9M305.3 286.1h0.9M310.9 280.3h0.9M304.2 285.0h0.9M311.0 303.7h0.9M307.6 294.8h0.9M307.8 276.2h0.9M306.9 292.7h0.9M304.8 286.6h0.9M306.1 291.2h0.9M315.8 289.1h0.9M304.2 299.7h0.9M307.3 285.8h0.9M309.7 293.7h0.9M308.8 290.9h0.9M308.7 280.5h0.9M310.6 294.4h0.9M305.8 276.8h0.9M306.3 289.8h0.9M312.5 290.0h0.9M298.2 284.4h0.9M308.4 290.2h0.9M303.5 286.1h0.9M308.6 293.2h0.9M310.7 299.6h0.9M306.1 285.6h0.9M306.8 291.9h0.9M314.3 289.8h0.9M308.7 282.4h0.9M304.2 300.5h0.9M307.9 298.1h0.9M310.7 285.2h0.9M308.9 282.5h0.9M310.1 287.5h0.9M310.6 296.9h0.9M306.4 293.9h0.9M309.5 285.0h0.9M309.0 296.9h0.9M308.7 295.1h0.9M309.2 297.0h0.9M307.8 286.3h0.9M310.1 273.1h0.9M306.6 298.9h0.9M305.9 301.0h0.9M313.2 285.2h0.9M305.9 291.2h0.9M311.0 300.3h0.9M312.9 283.8h0.9M310.9 285.1h0.9M311.5 291.7h0.9M312.7 287.9h0.9M310.8 280.0h0.9M305.2 292.0h0.9M308.5 294.5h0.9M315.3 284.3h0.9M304.5 281.4h0.9M306.3 296.4h0.9M309.4 286.5h0.9M310.3 287.4h0.9M309.0 288.4h0.9M304.0 294.0h0.9M308.8 303.5h0.9M308.5 284.5h0.9M308.8 283.6h0.9M308.1 286.0h0.9M309.3 282.3h0.9M307.9 285.7h0.9M305.2 288.0h0.9M310.4 293.4h0.9M309.2 287.7h0.9M311.2 286.6h0.9M310.3 276.8h0.9M304.5 283.5h0.9M311.8 286.7h0.9M309.7 281.0h0.9M303.5 307.4h0.9M313.4 300.4h0.9M308.3 284.0h0.9M309.0 286.8h0.9M306.8 271.7h0.9M308.9 273.5h0.9M306.7 278.1h0.9M314.5 279.7h0.9M307.0 291.0h0.9M307.3 290.1h0.9M311.1 284.1h0.9M309.9 287.6h0.9M304.2 290.4h0.9M304.9 295.4h0.9M308.3 289.6h0.9M311.4 282.8h0.9M305.8 298.1h0.9M310.5 291.3h0.9M302.0 288.6h0.9M305.3 284.3h0.9M303.1 277.2h0.9M306.9 291.0h0.9M306.7 287.2h0.9M308.5 297.5h0.9M306.4 289.3h0.9M316.9 288.2h0.9M310.9 280.3h0.9M304.9 285.3h0.9M317.9 284.1h0.9M312.7 285.0h0.9M304.3 275.6h0.9M308.8 295.5h0.9M305.8 285.6h0.9M304.8 283.4h0.9M311.5 284.7h0.9M305.0 292.5h0.9M309.1 288.0h0.9M314.8 290.4h0.9M312.0 279.9h0.9M308.1 297.0h0.9M310.7 294.6h0.9M303.6 286.4h0.9M313.6 298.3h0.9M298.5 275.5h0.9M312.7 293.7h0.9M308.6 293.8h0.9M312.2 281.7h0.9M311.7 293.7h0.9M306.6 299.1h0.9M312.4 294.4h0.9M306.8 290.2h0.9M308.2 299.6h0.9M316.2 282.5h0.9M314.8 291.3h0.9M306.1 283.4h0.9M313.3 290.5h0.9M306.2 287.0h0.9M307.1 287.4h0.9M314.2 283.6h0.9M310.0 294.7h0.9M315.0 284.1h0.9M307.4 285.6h0.9M304.3 288.3h0.9M305.8 286.7h0.9M308.8 293.4h0.9M308.5 304.7h0.9M309.4 291.9h0.9M310.0 287.6h0.9M311.5 289.3h0.9M304.0 284.7h0.9M313.2 277.3h0.9M314.1 289.1h0.9M309.2 296.8h0.9M309.1 285.0h0.9M301.2 284.1h0.9M304.5 293.0h0.9M308.7 281.8h0.9M312.2 294.3h0.9M315.6 290.1h0.9M304.3 289.0h0.9M310.8 294.3h0.9M304.0 291.5h0.9M310.5 290.9h0.9M303.0 285.1h0.9M308.0 286.7h0.9M311.3 285.6h0.9M302.3 273.8h0.9M309.9 282.7h0.9M308.2 295.7h0.9M306.6 288.0h0.9M303.6 280.0h0.9M304.8 301.4h0.9M307.7 300.4h0.9M309.2 299.8h0.9M309.2 306.8h0.9M305.1 295.1h0.9M310.0 301.0h0.9M314.2 296.9h0.9M309.9 297.2h0.9M305.8 297.0h0.9M304.7 295.6h0.9M306.4 298.8h0.9M307.7 302.7h0.9M304.4 299.1h0.9M304.5 302.8h0.9M304.4 298.0h0.9M304.8 303.8h0.9M303.4 294.8h0.9M306.2 298.0h0.9M304.4 304.0h0.9M305.6 291.0h0.9M306.8 294.1h0.9M305.3 297.5h0.9M304.5 297.8h0.9M306.1 302.0h0.9M315.9 296.7h0.9M305.9 304.0h0.9M313.2 302.6h0.9M306.6 307.3h0.9M307.8 304.3h0.9M305.7 294.5h0.9M312.0 295.9h0.9M304.0 300.0h0.9M304.4 302.2h0.9M307.7 298.6h0.9M305.6 305.3h0.9M312.1 304.0h0.9M303.1 306.1h0.9M307.8 306.4h0.9M309.2 296.7h0.9M302.0 296.8h0.9M311.5 297.6h0.9M313.0 294.3h0.9M309.6 299.0h0.9M302.8 301.0h0.9M306.1 298.3h0.9M300.5 295.4h0.9M305.3 298.9h0.9M304.7 307.7h0.9M306.1 300.3h0.9M306.4 304.6h0.9M309.4 303.5h0.9M302.4 300.1h0.9M307.0 302.0h0.9M305.2 300.0h0.9M304.2 298.0h0.9M308.6 297.4h0.9M304.6 298.9h0.9M308.5 301.1h0.9M303.5 297.7h0.9M303.6 295.4h0.9M315.4 304.4h0.9M309.8 298.3h0.9M310.3 305.7h0.9M311.5 302.4h0.9M304.2 309.1h0.9M310.0 303.0h0.9M308.6 301.0h0.9M306.1 292.6h0.9M313.4 310.0h0.9M309.0 302.2h0.9M307.4 302.6h0.9M306.9 299.1h0.9M309.5 292.6h0.9M312.1 297.9h0.9M309.2 301.9h0.9M312.7 306.3h0.9M303.1 295.6h0.9M308.0 292.9h0.9M309.5 299.0h0.9M304.8 302.9h0.9M304.3 296.5h0.9M307.3 303.0h0.9M306.7 298.1h0.9M308.0 298.0h0.9M301.2 303.2h0.9M309.0 303.9h0.9M307.8 301.4h0.9M301.8 294.0h0.9M300.9 304.2h0.9M305.0 304.9h0.9M308.8 297.7h0.9M307.0 296.3h0.9M305.8 300.9h0.9M309.6 297.5h0.9M302.1 304.1h0.9M303.6 302.4h0.9M302.2 295.8h0.9M300.7 302.1h0.9M308.8 312.0h0.9M313.6 300.0h0.9M300.4 298.6h0.9M308.2 301.0h0.9M307.8 295.4h0.9M306.3 307.1h0.9M305.5 297.9h0.9M303.3 297.0h0.9M311.3 301.0h0.9M305.6 298.0h0.9M310.0 297.2h0.9M304.6 298.2h0.9M298.7 304.1h0.9M304.5 302.5h0.9M307.2 303.6h0.9M305.5 309.4h0.9M309.1 298.6h0.9M308.3 291.1h0.9M303.4 291.2h0.9M306.3 308.3h0.9M308.4 293.6h0.9M302.0 301.0h0.9M309.4 298.7h0.9M312.1 300.5h0.9M314.0 302.9h0.9M314.2 288.8h0.9M309.8 302.6h0.9M312.2 301.9h0.9M308.6 300.8h0.9M307.9 301.8h0.9M312.6 293.0h0.9M305.7 293.6h0.9M305.3 300.6h0.9M307.8 301.0h0.9M309.7 301.2h0.9M306.1 299.0h0.9M303.7 297.7h0.9M306.9 301.0h0.9M301.9 304.0h0.9M307.0 293.2h0.9M306.7 301.8h0.9M307.5 297.8h0.9M304.2 300.4h0.9M307.7 300.7h0.9M305.9 304.4h0.9M301.1 299.5h0.9M301.7 291.7h0.9M307.8 302.9h0.9M306.2 301.3h0.9M306.6 304.1h0.9M305.2 301.6h0.9M308.3 293.1h0.9M311.1 297.1h0.9M303.4 296.8h0.9M310.0 297.9h0.9M309.8 295.7h0.9M308.0 292.5h0.9M306.2 304.7h0.9M305.4 300.2h0.9M301.1 306.2h0.9M306.4 301.3h0.9M305.9 295.3h0.9M306.0 298.2h0.9M303.7 298.8h0.9M303.9 297.5h0.9M297.7 295.6h0.9M308.2 300.4h0.9M306.3 301.1h0.9M312.9 300.9h0.9M307.5 299.1h0.9M308.3 302.0h0.9M299.7 307.9h0.9M310.3 301.4h0.9M305.1 299.0h0.9M304.6 304.8h0.9M304.8 293.0h0.9M306.4 296.1h0.9M307.8 300.1h0.9M304.3 293.3h0.9M306.0 294.3h0.9M306.5 300.2h0.9M305.8 300.1h0.9M305.7 306.0h0.9M301.2 295.1h0.9M310.8 294.6h0.9M309.2 298.6h0.9M307.1 293.8h0.9M305.7 298.9h0.9M300.0 299.5h0.9M305.6 290.5h0.9M307.6 298.0h0.9M302.0 304.0h0.9M306.6 294.9h0.9M304.1 300.6h0.9M305.2 302.3h0.9M302.9 300.5h0.9M308.5 301.5h0.9M304.3 295.7h0.9M303.2 299.8h0.9M300.2 310.5h0.9M306.1 304.2h0.9M306.0 304.7h0.9M306.1 303.4h0.9M310.3 300.6h0.9M302.8 301.1h0.9M307.5 298.2h0.9M306.2 302.2h0.9M300.2 301.6h0.9M312.3 296.8h0.9M311.0 297.6h0.9M306.0 298.0h0.9M306.9 296.4h0.9M305.0 298.5h0.9M303.9 299.2h0.9M310.3 296.1h0.9M307.6 296.4h0.9M303.2 299.4h0.9M306.0 303.3h0.9M309.3 299.8h0.9M304.8 304.8h0.9M302.7 296.4h0.9M309.4 301.0h0.9M309.0 298.6h0.9M309.4 304.0h0.9M300.7 301.5h0.9M310.1 295.3h0.9M303.8 300.8h0.9M309.0 299.3h0.9M301.6 300.2h0.9M306.6 297.9h0.9M310.3 291.0h0.9M307.3 297.0h0.9M308.9 298.2h0.9M312.6 300.1h0.9M305.2 293.0h0.9M306.1 299.2h0.9M312.1 300.9h0.9M307.6 295.8h0.9M307.6 295.6h0.9M302.4 301.1h0.9M305.5 294.1h0.9M310.7 304.2h0.9" stroke="#4a5af0" stroke-width="0.9" fill="none"/>
<path d="M308.1 294.9h0.9M305.1 296.7h0.9M307.7 308.2h0.9M309.2 298.9h0.9M305.1 295.5h0.9M305.4 299.7h0.9M306.5 300.6h0.9M308.3 296.2h0.9M309.0 299.3h0.9M310.8 298.9h0.9M306.3 298.9h0.9M309.9 300.6h0.9M309.8 302.0h0.9M307.9 305.4h0.9M306.9 298.6h0.9M309.7 296.2h0.9M307.8 301.9h0.9M305.0 294.2h0.9M303.8 302.2h0.9M312.9 296.9h0.9M304.1 295.9h0.9M310.7 301.2h0.9M308.7 297.3h0.9M308.7 297.3h0.9M308.4 297.2h0.9M304.2 298.0h0.9M308.1 300.1h0.9M305.9 301.6h0.9M303.4 294.0h0.9M308.5 298.8h0.9M307.0 298.0h0.9M308.4 299.8h0.9M310.3 296.7h0.9M304.2 298.9h0.9M306.6 298.4h0.9M302.2 300.2h0.9M311.1 300.2h0.9M310.0 300.8h0.9M307.8 300.3h0.9M309.7 300.4h0.9M308.7 299.0h0.9M305.4 300.1h0.9M306.2 300.7h0.9M302.0 303.9h0.9M310.2 303.2h0.9M308.1 296.4h0.9M306.3 296.1h0.9M308.1 299.2h0.9M307.6 294.3h0.9M303.7 293.4h0.9M310.5 300.5h0.9M307.3 298.3h0.9M303.0 298.2h0.9M306.2 297.0h0.9M309.5 293.8h0.9M307.6 301.3h0.9M309.1 295.2h0.9M300.7 302.9h0.9M310.5 298.8h0.9M306.6 300.1h0.9M309.7 299.5h0.9M306.4 299.8h0.9M308.1 304.6h0.9M307.3 296.8h0.9M311.7 303.2h0.9M310.7 296.7h0.9M305.9 295.6h0.9M307.0 302.7h0.9M309.5 299.3h0.9M307.8 300.5h0.9M306.9 296.4h0.9M305.6 303.6h0.9M305.1 296.2h0.9M308.6 298.3h0.9M306.5 299.6h0.9M307.0 294.8h0.9M309.5 299.8h0.9M311.3 301.5h0.9M305.9 298.0h0.9M305.6 293.3h0.9M309.0 297.4h0.9M309.6 299.7h0.9M307.0 303.5h0.9M305.1 303.9h0.9M306.4 304.9h0.9M310.1 297.8h0.9M311.5 300.3h0.9M308.1 298.2h0.9M307.2 298.1h0.9M306.5 301.3h0.9M309.3 302.5h0.9M310.2 299.0h0.9M309.1 298.6h0.9M308.7 300.9h0.9M308.2 297.1h0.9M304.6 303.8h0.9M305.5 297.6h0.9M308.3 298.2h0.9M308.4 302.9h0.9M303.7 299.5h0.9M308.8 295.5h0.9M309.1 303.2h0.9M307.4 300.5h0.9M306.7 301.8h0.9M306.2 299.3h0.9M305.8 297.3h0.9M310.1 299.1h0.9M309.5 295.0h0.9M304.6 296.8h0.9M311.9 302.3h0.9M312.6 298.1h0.9M308.8 300.2h0.9M306.8 300.8h0.9M307.3 300.5h0.9M303.2 296.5h0.9M305.0 303.7h0.9M309.5 296.7h0.9M308.6 297.7h0.9M304.7 296.8h0.9M314.4 299.5h0.9M307.2 302.6h0.9M308.0 296.3h0.9M312.5 305.1h0.9M309.3 297.0h0.9M307.2 299.6h0.9M304.8 306.3h0.9M307.4 297.8h0.9M306.7 298.4h0.9M301.4 299.6h0.9M310.1 299.8h0.9M308.4 299.1h0.9M303.3 300.8h0.9M309.0 296.5h0.9M304.7 297.7h0.9M304.3 292.7h0.9M306.4 297.7h0.9M307.7 302.4h0.9M305.2 295.1h0.9M307.1 301.0h0.9M310.8 301.7h0.9M307.7 299.4h0.9M303.3 301.1h0.9M309.2 299.0h0.9M306.7 300.3h0.9M308.4 300.6h0.9M308.4 295.2h0.9M306.1 294.9h0.9M309.3 306.1h0.9M305.5 298.9h0.9M308.0 297.4h0.9M311.4 299.8h0.9M312.5 305.3h0.9M308.5 297.2h0.9M310.5 298.5h0.9M305.5 298.7h0.9M310.0 297.1h0.9M306.8 301.6h0.9M306.7 301.6h0.9M310.3 297.9h0.9M304.6 296.1h0.9M310.4 300.7h0.9M307.6 298.2h0.9M309.9 298.0h0.9M313.8 300.1h0.9M303.6 302.0h0.9M308.0 299.2h0.9M306.9 302.4h0.9M306.2 303.4h0.9M305.6 301.6h0.9M303.8 301.8h0.9" stroke="#1010e0" stroke-width="0.9" fill="none"/>
<path d="M319.5 314.1h0.7M324.4 303.5h0.7M328.2 310.5h0.7M323.8 317.7h0.7M325.0 310.3h0.7M325.2 309.9h0.7M320.7 301.7h0.7M322.4 295.9h0.7M322.7 306.0h0.7M325.2 308.4h0.7M324.5 315.2h0.7M320.5 305.8h0.7M325.0 303.8h0.7M329.1 308.2h0.7" stroke="#f8d0c0" stroke-width="0.7" fill="none"/>
<path d="M325.3 312.0h0.7M324.7 304.0h0.7M324.3 307.9h0.7M327.0 308.9h0.7M327.3 298.6h0.7M328.0 316.1h0.7M324.3 317.8h0.7M322.7 311.7h0.7M323.1 306.4h0.7M325.9 309.3h0.7M325.6 307.8h0.7M322.2 302.8h0.7M323.8 305.0h0.7M324.4 302.6h0.7M324.9 310.2h0.7M324.3 313.1h0.7M325.5 311.7h0.7M323.7 309.2h0.7M322.9 301.9h0.7M322.4 307.1h0.7M325.5 315.9h0.7M325.6 307.2h0.7M326.8 308.9h0.7M325.2 308.9h0.7M326.7 314.1h0.7M322.9 308.8h0.7M324.4 308.5h0.7M328.9 307.7h0.7" stroke="#f2a88e" stroke-width="0.7" fill="none"/>
</g>
<line x1="296" y1="320.5" x2="318" y2="320.5" stroke="#4a5af0" stroke-width="0.6" stroke-opacity="0.6"/>
<line x1="323.50" y1="269.20" x2="323.50" y2="321.00" stroke="#7a7a7a" stroke-width="0.6" />
<line x1="286.00" y1="301.00" x2="338.60" y2="301.00" stroke="#7a7a7a" stroke-width="0.6" />
<line x1="286.00" y1="269.20" x2="286.00" y2="321.00" stroke="#666" stroke-width="0.9" />
<line x1="286.00" y1="321.00" x2="338.60" y2="321.00" stroke="#999" stroke-width="0.5" />
<text x="288.40" y="278.20" font-size="6.8" font-weight="bold" text-anchor="start" fill="#111" >62</text>
<text x="310.80" y="267.60" font-size="2.7" font-weight="normal" text-anchor="middle" fill="#444" >Q1-R4&amp;R3: P1</text>
<text x="338.00" y="272.60" font-size="2.6" font-weight="normal" text-anchor="end" fill="#444" >Q1-UR(2.83%)</text>
<text x="287.00" y="319.50" font-size="2.6" font-weight="normal" text-anchor="start" fill="#444" >Q1-LL(8.93%)</text>
<text x="338.00" y="319.50" font-size="2.6" font-weight="normal" text-anchor="end" fill="#444" >Q1-LR(1.22%)</text>
<line x1="286.80" y1="321.00" x2="286.80" y2="321.90" stroke="#777" stroke-width="0.45" />
<text x="286.80" y="325.90" font-size="2.8" font-weight="normal" text-anchor="middle" fill="#555" >10<tspan dy="-1" font-size="2">0</tspan></text>
<line x1="297.00" y1="321.00" x2="297.00" y2="321.90" stroke="#777" stroke-width="0.45" />
<text x="297.00" y="325.90" font-size="2.8" font-weight="normal" text-anchor="middle" fill="#555" >10<tspan dy="-1" font-size="2">1</tspan></text>
<line x1="307.20" y1="321.00" x2="307.20" y2="321.90" stroke="#777" stroke-width="0.45" />
<text x="307.20" y="325.90" font-size="2.8" font-weight="normal" text-anchor="middle" fill="#555" >10<tspan dy="-1" font-size="2">2</tspan></text>
<line x1="317.40" y1="321.00" x2="317.40" y2="321.90" stroke="#777" stroke-width="0.45" />
<text x="317.40" y="325.90" font-size="2.8" font-weight="normal" text-anchor="middle" fill="#555" >10<tspan dy="-1" font-size="2">3</tspan></text>
<line x1="327.60" y1="321.00" x2="327.60" y2="321.90" stroke="#777" stroke-width="0.45" />
<text x="327.60" y="325.90" font-size="2.8" font-weight="normal" text-anchor="middle" fill="#555" >10<tspan dy="-1" font-size="2">4</tspan></text>
<line x1="337.80" y1="321.00" x2="337.80" y2="321.90" stroke="#777" stroke-width="0.45" />
<text x="337.80" y="325.90" font-size="2.8" font-weight="normal" text-anchor="middle" fill="#555" >10<tspan dy="-1" font-size="2">5</tspan></text>
<text x="312.30" y="328.80" font-size="2.6" font-weight="normal" text-anchor="middle" fill="#555" >FITC-A</text>
<path d="M285.4 269.2h0.6M285.4 271.4h0.6M285.4 273.5h0.6M285.4 275.7h0.6M285.4 277.8h0.6M285.4 280.0h0.6M285.4 282.1h0.6M285.4 284.3h0.6M285.4 286.5h0.6M285.4 288.6h0.6M285.4 290.8h0.6M285.4 292.9h0.6M285.4 295.1h0.6M285.4 297.3h0.6M285.4 299.4h0.6M285.4 301.6h0.6M285.4 303.7h0.6M285.4 305.9h0.6M285.4 308.1h0.6M285.4 310.2h0.6M285.4 312.4h0.6M285.4 314.5h0.6M285.4 316.7h0.6M285.4 318.8h0.6M285.4 321.0h0.6" stroke="#888" stroke-width="0.35"/>
<path d="M286.0 321.0v0.6M288.2 321.0v0.6M290.4 321.0v0.6M292.6 321.0v0.6M294.8 321.0v0.6M297.0 321.0v0.6M299.1 321.0v0.6M301.3 321.0v0.6M303.5 321.0v0.6M305.7 321.0v0.6M307.9 321.0v0.6M310.1 321.0v0.6M312.3 321.0v0.6M314.5 321.0v0.6M316.7 321.0v0.6M318.9 321.0v0.6M321.1 321.0v0.6M323.3 321.0v0.6M325.5 321.0v0.6M327.6 321.0v0.6M329.8 321.0v0.6M332.0 321.0v0.6M334.2 321.0v0.6M336.4 321.0v0.6M338.6 321.0v0.6" stroke="#888" stroke-width="0.35"/>
<line x1="284.80" y1="320.40" x2="286.00" y2="320.40" stroke="#666" stroke-width="0.45" />
<text x="284.00" y="321.30" font-size="2.8" font-weight="normal" text-anchor="end" fill="#555" >10<tspan dy="-1" font-size="2">0</tspan></text>
<line x1="284.80" y1="310.28" x2="286.00" y2="310.28" stroke="#666" stroke-width="0.45" />
<text x="284.00" y="311.18" font-size="2.8" font-weight="normal" text-anchor="end" fill="#555" >10<tspan dy="-1" font-size="2">1</tspan></text>
<line x1="284.80" y1="300.16" x2="286.00" y2="300.16" stroke="#666" stroke-width="0.45" />
<text x="284.00" y="301.06" font-size="2.8" font-weight="normal" text-anchor="end" fill="#555" >10<tspan dy="-1" font-size="2">2</tspan></text>
<line x1="284.80" y1="290.04" x2="286.00" y2="290.04" stroke="#666" stroke-width="0.45" />
<text x="284.00" y="290.94" font-size="2.8" font-weight="normal" text-anchor="end" fill="#555" >10<tspan dy="-1" font-size="2">3</tspan></text>
<line x1="284.80" y1="279.92" x2="286.00" y2="279.92" stroke="#666" stroke-width="0.45" />
<text x="284.00" y="280.82" font-size="2.8" font-weight="normal" text-anchor="end" fill="#555" >10<tspan dy="-1" font-size="2">4</tspan></text>
<line x1="284.80" y1="269.80" x2="286.00" y2="269.80" stroke="#666" stroke-width="0.45" />
<text x="284.00" y="270.70" font-size="2.8" font-weight="normal" text-anchor="end" fill="#555" >10<tspan dy="-1" font-size="2">5</tspan></text>
<text transform="translate(278.80,295.10) rotate(-90)" font-size="2.6" text-anchor="middle" fill="#555" stroke="#555" stroke-width="0.08">PE-Cy7-A</text>
<text x="161.30" y="5.40" font-size="7.0" font-weight="bold" text-anchor="start" fill="#000" >B</text>
<text x="216.20" y="6.40" font-size="2.7" font-weight="normal" text-anchor="middle" fill="#222" >OVA Coated Latex Beads (L-OVA)</text>
<text x="216.20" y="9.40" font-size="2.7" font-weight="normal" text-anchor="middle" fill="#222" >or</text>
<text x="216.20" y="12.60" font-size="2.7" font-weight="normal" text-anchor="middle" fill="#222" >OVA<tspan font-size="1.6" dy="0.6">257-264</tspan></text>
<rect x="214.2" y="28.4" width="1.1" height="1.1" fill="#3f9fd8"/>
<rect x="207.3" y="27.2" width="1.1" height="1.1" fill="#3f9fd8"/>
<rect x="218.8" y="34.3" width="1.1" height="1.1" fill="#3f9fd8"/>
<rect x="219.5" y="29.8" width="1.1" height="1.1" fill="#3f9fd8"/>
<rect x="215.9" y="30.5" width="1.1" height="1.1" fill="#3f9fd8"/>
<rect x="214.3" y="21.4" width="1.1" height="1.1" fill="#3f9fd8"/>
<rect x="224.3" y="32.1" width="1.1" height="1.1" fill="#3f9fd8"/>
<rect x="222.4" y="24.5" width="1.1" height="1.1" fill="#3f9fd8"/>
<rect x="224.5" y="24.1" width="1.1" height="1.1" fill="#3f9fd8"/>
<rect x="222.7" y="21.2" width="1.1" height="1.1" fill="#3f9fd8"/>
<rect x="217.0" y="25.6" width="1.1" height="1.1" fill="#3f9fd8"/>
<rect x="204.8" y="29.0" width="1.1" height="1.1" fill="#3f9fd8"/>
<rect x="208.8" y="29.5" width="1.1" height="1.1" fill="#3f9fd8"/>
<rect x="212.1" y="25.8" width="1.1" height="1.1" fill="#3f9fd8"/>
<rect x="225.4" y="29.5" width="1.1" height="1.1" fill="#3f9fd8"/>
<rect x="218.0" y="21.8" width="1.1" height="1.1" fill="#3f9fd8"/>
<rect x="215.0" y="32.7" width="1.1" height="1.1" fill="#3f9fd8"/>
<rect x="221.6" y="37.0" width="1.1" height="1.1" fill="#3f9fd8"/>
<rect x="221.6" y="32.0" width="1.1" height="1.1" fill="#3f9fd8"/>
<rect x="211.6" y="31.6" width="1.1" height="1.1" fill="#3f9fd8"/>
<rect x="218.7" y="24.0" width="1.1" height="1.1" fill="#3f9fd8"/>
<rect x="221.6" y="29.0" width="1.1" height="1.1" fill="#3f9fd8"/>
<rect x="220.6" y="26.9" width="1.1" height="1.1" fill="#3f9fd8"/>
<rect x="224.2" y="35.7" width="1.1" height="1.1" fill="#3f9fd8"/>
<rect x="223.4" y="38.4" width="1.1" height="1.1" fill="#3f9fd8"/>
<rect x="220.2" y="19.4" width="1.1" height="1.1" fill="#3f9fd8"/>
<rect x="226.7" y="32.5" width="1.1" height="1.1" fill="#3f9fd8"/>
<rect x="221.2" y="34.9" width="1.1" height="1.1" fill="#3f9fd8"/>
<rect x="216.4" y="34.2" width="1.1" height="1.1" fill="#3f9fd8"/>
<rect x="210.6" y="24.0" width="1.1" height="1.1" fill="#3f9fd8"/>
<rect x="217.3" y="19.5" width="1.1" height="1.1" fill="#3f9fd8"/>
<rect x="220.4" y="16.1" width="1.1" height="1.1" fill="#3f9fd8"/>
<rect x="209.4" y="26.3" width="1.1" height="1.1" fill="#3f9fd8"/>
<rect x="220.3" y="22.5" width="1.1" height="1.1" fill="#3f9fd8"/>
<rect x="210.9" y="28.2" width="1.1" height="1.1" fill="#3f9fd8"/>
<rect x="213.6" y="23.7" width="1.1" height="1.1" fill="#3f9fd8"/>
<line x1="216.20" y1="41.50" x2="216.20" y2="60.40" stroke="#222" stroke-width="0.5" />
<path d="M216.2 62.0 L215.2 60.0 L217.2 60.0 Z" fill="#222"/>
<path d="M168.3 66.0 C170.6 65.8 171.6 67.6 171.0 70.5 C170.4 74 169.8 80 170.8 85.5 C171.3 88.5 169.0 89.6 167.8 87.6 C165.0 84 163.6 77.5 164.0 73.0 C164.4 68.8 166.2 66.1 168.3 66.0 Z" fill="#8a2c2c" stroke="#6a1c1c" stroke-width="0.4"/>
<text x="183.60" y="54.00" font-size="2.5" font-weight="normal" text-anchor="middle" fill="#222" >Cx 10<tspan font-size="1.5" dy="-0.8">5</tspan></text>
<text x="183.60" y="57.20" font-size="2.25" font-weight="normal" text-anchor="middle" fill="#222" >CD11b+ DCs</text>
<path d="M186.12 70.27L190.58 70.71M185.15 72.09L187.50 74.90M182.51 72.58L181.18 76.44M180.88 71.04L177.29 72.53M180.93 68.84L177.62 67.30M181.79 67.79L179.29 64.34M183.65 67.28L184.00 63.41M185.94 69.01L189.95 67.44" stroke="#a29be0" stroke-width="0.7" stroke-linecap="round"/>
<polygon points="187.11,70.00 186.53,71.81 185.28,73.26 183.40,74.02 181.52,73.26 180.29,71.80 179.39,70.00 180.01,68.05 181.32,66.40 183.40,65.83 185.48,66.40 186.71,68.09" fill="url(#dcg)" stroke="#b0aae6" stroke-width="0.3" stroke-linejoin="round"/>
<line x1="174.60" y1="77.30" x2="191.40" y2="77.30" stroke="#222" stroke-width="0.5" />
<path d="M193.0 77.3 L191.0 76.3 L191.0 78.3 Z" fill="#222"/>
<text x="168.60" y="92.20" font-size="2.5" font-weight="normal" text-anchor="middle" fill="#222" >WT</text>
<text x="168.60" y="95.20" font-size="2.5" font-weight="normal" text-anchor="middle" fill="#222" >or</text>
<text x="168.60" y="98.60" font-size="2.5" font-weight="normal" text-anchor="middle" fill="#222" >CD11b cKO</text>
<path d="M196.0 72.89999999999999 L196.0 83.005 A21.0 9.594999999999999 0 0 0 238.0 83.005 L238.0 72.89999999999999 Z" fill="#dceef5" stroke="#a3b3ba" stroke-width="0.55"/>
<ellipse cx="217.0" cy="72.89999999999999" rx="21.0" ry="10.1" fill="#e4f1f6" stroke="#a3b3ba" stroke-width="0.55"/>
<ellipse cx="216.8" cy="76.19999999999999" rx="19.4" ry="7.8" fill="#cde5ef" stroke="#b3cbd6" stroke-width="0.4"/>
<path d="M196.8 74.39999999999999 A20.2 9.299999999999999 0 0 1 237.2 74.39999999999999" fill="none" stroke="#c2d2d8" stroke-width="0.4"/>
<path d="M217.36 72.25L220.05 72.94M216.98 72.98L219.15 74.83M215.34 73.60L214.88 76.80M214.73 73.40L213.39 75.88M213.87 72.37L211.19 73.24M213.92 71.10L211.30 70.00M214.61 70.27L212.99 67.78M216.35 70.14L217.56 67.44M217.25 71.04L219.96 69.80" stroke="#a29be0" stroke-width="0.7" stroke-linecap="round"/>
<polygon points="218.02,71.80 217.93,73.15 216.98,74.18 215.60,74.27 214.42,73.84 213.36,73.09 213.01,71.80 213.34,70.50 214.20,69.38 215.60,69.16 216.96,69.45 217.65,70.62" fill="url(#dcg)" stroke="#b0aae6" stroke-width="0.3" stroke-linejoin="round"/>
<path d="M211.78 81.91L214.50 83.48M211.20 82.52L212.63 84.70M209.42 82.64L208.03 85.56M208.87 82.25L206.67 84.32M208.38 81.05L205.27 81.13M209.10 79.55L207.46 77.37M209.90 79.20L209.40 76.12M211.35 79.59L213.33 77.17M211.96 80.55L214.68 79.85" stroke="#a29be0" stroke-width="0.7" stroke-linecap="round"/>
<polygon points="212.99,81.00 212.50,82.33 211.49,83.23 210.20,83.59 208.86,83.32 207.89,82.34 207.43,81.00 208.01,79.73 208.84,78.64 210.20,78.35 211.57,78.63 212.55,79.64" fill="url(#dcg)" stroke="#b0aae6" stroke-width="0.3" stroke-linejoin="round"/>
<path d="M221.28 83.19L222.84 86.02M219.94 83.36L219.17 86.29M219.18 82.95L217.10 85.23M218.58 81.59L215.72 81.58M218.81 80.71L216.50 79.41M220.04 79.82L219.38 76.58M220.96 79.87L221.79 77.33M221.86 80.51L224.15 78.79M222.21 81.78L225.48 82.10" stroke="#a29be0" stroke-width="0.7" stroke-linecap="round"/>
<polygon points="222.77,81.60 222.55,82.84 221.60,83.67 220.40,84.24 219.05,83.94 218.30,82.81 218.03,81.60 218.19,80.32 219.09,79.34 220.40,78.83 221.58,79.56 222.47,80.40" fill="url(#dcg)" stroke="#b0aae6" stroke-width="0.3" stroke-linejoin="round"/>
<text x="245.00" y="74.00" font-size="2.25" font-weight="normal" text-anchor="middle" fill="#222" >2 hours</text>
<line x1="239.60" y1="78.20" x2="251.00" y2="78.20" stroke="#222" stroke-width="0.5" />
<path d="M252.6 78.2 L250.6 77.2 L250.6 79.2 Z" fill="#222"/>
<text x="273.50" y="12.50" font-size="2.8" font-weight="normal" text-anchor="middle" fill="#222" >OTII</text>
<path d="M275.0 16.8 C277.4 16.6 278.0 18.6 277.0 21.2 C275.6 25 275.0 30 276.0 35.4 C276.5 38.2 275.2 39.4 274.3 38.0 C271.8 34.2 270.2 28.6 270.6 23.6 C270.9 19.8 272.8 17.0 275.0 16.8 Z" fill="#8a2c2c" stroke="#6a1c1c" stroke-width="0.4"/>
<line x1="274.40" y1="41.00" x2="274.40" y2="60.20" stroke="#222" stroke-width="0.5" />
<path d="M274.4 61.8 L273.4 59.8 L275.4 59.8 Z" fill="#222"/>
<circle cx="285.1" cy="46.6" r="5.8" fill="#a9d9b6"/>
<circle cx="285.1" cy="46.6" r="4.5" fill="#d9efdf"/>
<circle cx="285.1" cy="46.6" r="3.7" fill="#6cb585"/>
<circle cx="284.6" cy="46.0" r="1.6" fill="#82c299"/>
<text x="285.10" y="54.80" font-size="2.5" font-weight="normal" text-anchor="middle" fill="#222" >Cx 10<tspan font-size="1.5" dy="-0.8">5</tspan></text>
<text x="285.10" y="57.80" font-size="2.1" font-weight="normal" text-anchor="middle" fill="#222" >Naive CD4+ T Cells</text>
<path d="M253.0 72.89999999999999 L253.0 83.205 A21.0 9.594999999999999 0 0 0 295.0 83.205 L295.0 72.89999999999999 Z" fill="#dceef5" stroke="#a3b3ba" stroke-width="0.55"/>
<ellipse cx="274.0" cy="72.89999999999999" rx="21.0" ry="10.1" fill="#e4f1f6" stroke="#a3b3ba" stroke-width="0.55"/>
<ellipse cx="273.8" cy="76.19999999999999" rx="19.4" ry="7.8" fill="#cde5ef" stroke="#b3cbd6" stroke-width="0.4"/>
<path d="M253.8 74.39999999999999 A20.2 9.299999999999999 0 0 1 294.2 74.39999999999999" fill="none" stroke="#c2d2d8" stroke-width="0.4"/>
<path d="M269.55 72.47L272.22 72.59M269.06 73.61L271.27 75.74M267.67 74.15L267.48 76.82M266.86 73.88L265.40 76.18M266.13 72.94L263.19 73.89M266.23 71.63L263.59 70.34M267.51 70.67L267.04 67.83M268.24 70.71L269.05 67.62M269.48 71.90L272.13 71.10" stroke="#a29be0" stroke-width="0.7" stroke-linecap="round"/>
<polygon points="270.30,72.40 270.12,73.74 269.03,74.54 267.80,74.75 266.66,74.37 265.48,73.74 265.19,72.40 265.70,71.19 266.56,70.25 267.80,69.92 268.99,70.34 270.13,71.05" fill="url(#dcg)" stroke="#b0aae6" stroke-width="0.3" stroke-linejoin="round"/>
<path d="M264.96 81.70L267.06 83.39M264.47 82.12L265.89 84.62M262.98 82.24L261.88 85.16M261.95 81.18L259.14 82.18M261.86 80.46L259.23 80.25M262.46 79.27L260.69 77.22M264.05 78.91L264.80 76.10M264.91 79.44L267.35 77.26M265.31 80.23L268.16 79.60" stroke="#a29be0" stroke-width="0.7" stroke-linecap="round"/>
<polygon points="265.92,80.60 265.85,81.90 264.73,82.55 263.60,83.22 262.28,82.88 261.33,81.91 261.31,80.60 261.55,79.41 262.31,78.37 263.60,78.31 264.83,78.46 265.73,79.37" fill="url(#dcg)" stroke="#b0aae6" stroke-width="0.3" stroke-linejoin="round"/>
<path d="M272.14 82.32L273.05 84.86M271.11 82.34L270.36 84.72M270.27 81.71L268.14 83.17M270.01 80.54L267.69 80.16M270.49 79.63L268.82 77.86M271.28 79.22L270.75 76.62M272.08 79.26L272.95 76.52M273.02 80.04L275.23 78.86M273.20 80.94L275.70 81.17" stroke="#a29be0" stroke-width="0.7" stroke-linecap="round"/>
<polygon points="273.86,80.80 273.65,81.98 272.71,82.72 271.60,83.15 270.54,82.63 269.67,81.92 269.34,80.80 269.46,79.56 270.39,78.71 271.60,78.46 272.64,79.00 273.53,79.69" fill="url(#dcg)" stroke="#b0aae6" stroke-width="0.3" stroke-linejoin="round"/>
<circle cx="279.6" cy="71.4" r="2.15" fill="#8fcc9c" stroke="#5a9e6c" stroke-width="0.5"/>
<circle cx="279.40000000000003" cy="71.2" r="1.07" fill="#a9dab3"/>
<circle cx="283.6" cy="72.8" r="2.15" fill="#8fcc9c" stroke="#5a9e6c" stroke-width="0.5"/>
<circle cx="283.40000000000003" cy="72.6" r="1.07" fill="#a9dab3"/>
<circle cx="287.4" cy="75.0" r="2.15" fill="#8fcc9c" stroke="#5a9e6c" stroke-width="0.5"/>
<circle cx="287.2" cy="74.8" r="1.07" fill="#a9dab3"/>
<circle cx="275.6" cy="75.6" r="2.15" fill="#8fcc9c" stroke="#5a9e6c" stroke-width="0.5"/>
<circle cx="275.40000000000003" cy="75.39999999999999" r="1.07" fill="#a9dab3"/>
<circle cx="279.8" cy="76.4" r="2.15" fill="#8fcc9c" stroke="#5a9e6c" stroke-width="0.5"/>
<circle cx="279.6" cy="76.2" r="1.07" fill="#a9dab3"/>
<circle cx="284.4" cy="77.8" r="2.15" fill="#8fcc9c" stroke="#5a9e6c" stroke-width="0.5"/>
<circle cx="284.2" cy="77.6" r="1.07" fill="#a9dab3"/>
<circle cx="288.8" cy="79.4" r="2.15" fill="#8fcc9c" stroke="#5a9e6c" stroke-width="0.5"/>
<circle cx="288.6" cy="79.2" r="1.07" fill="#a9dab3"/>
<circle cx="276.6" cy="80.8" r="2.15" fill="#8fcc9c" stroke="#5a9e6c" stroke-width="0.5"/>
<circle cx="276.40000000000003" cy="80.6" r="1.07" fill="#a9dab3"/>
<circle cx="281.0" cy="80.6" r="2.15" fill="#8fcc9c" stroke="#5a9e6c" stroke-width="0.5"/>
<circle cx="280.8" cy="80.39999999999999" r="1.07" fill="#a9dab3"/>
<circle cx="285.4" cy="82.2" r="2.15" fill="#8fcc9c" stroke="#5a9e6c" stroke-width="0.5"/>
<circle cx="285.2" cy="82.0" r="1.07" fill="#a9dab3"/>
<circle cx="279.4" cy="84.0" r="2.15" fill="#8fcc9c" stroke="#5a9e6c" stroke-width="0.5"/>
<circle cx="279.2" cy="83.8" r="1.07" fill="#a9dab3"/>
<circle cx="283.2" cy="84.4" r="2.15" fill="#8fcc9c" stroke="#5a9e6c" stroke-width="0.5"/>
<circle cx="283.0" cy="84.2" r="1.07" fill="#a9dab3"/>
<text x="303.80" y="73.80" font-size="2.25" font-weight="normal" text-anchor="middle" fill="#222" >72 hours</text>
<line x1="297.60" y1="78.40" x2="311.80" y2="78.40" stroke="#222" stroke-width="0.5" />
<path d="M313.4 78.4 L311.4 77.4 L311.4 79.4 Z" fill="#222"/>
<line x1="324.50" y1="35.30" x2="324.50" y2="55.00" stroke="#555" stroke-width="0.45" />
<line x1="324.50" y1="55.00" x2="345.40" y2="55.00" stroke="#555" stroke-width="0.45" />
<line x1="323.70" y1="37.00" x2="324.50" y2="37.00" stroke="#777" stroke-width="0.3" />
<line x1="326.50" y1="55.00" x2="326.50" y2="55.80" stroke="#777" stroke-width="0.3" />
<line x1="323.70" y1="40.50" x2="324.50" y2="40.50" stroke="#777" stroke-width="0.3" />
<line x1="330.10" y1="55.00" x2="330.10" y2="55.80" stroke="#777" stroke-width="0.3" />
<line x1="323.70" y1="44.00" x2="324.50" y2="44.00" stroke="#777" stroke-width="0.3" />
<line x1="333.70" y1="55.00" x2="333.70" y2="55.80" stroke="#777" stroke-width="0.3" />
<line x1="323.70" y1="47.50" x2="324.50" y2="47.50" stroke="#777" stroke-width="0.3" />
<line x1="337.30" y1="55.00" x2="337.30" y2="55.80" stroke="#777" stroke-width="0.3" />
<line x1="323.70" y1="51.00" x2="324.50" y2="51.00" stroke="#777" stroke-width="0.3" />
<line x1="340.90" y1="55.00" x2="340.90" y2="55.80" stroke="#777" stroke-width="0.3" />
<line x1="323.70" y1="54.50" x2="324.50" y2="54.50" stroke="#777" stroke-width="0.3" />
<line x1="344.50" y1="55.00" x2="344.50" y2="55.80" stroke="#777" stroke-width="0.3" />
<text x="336.40" y="37.60" font-size="1.8" font-weight="normal" text-anchor="middle" fill="#444" >No. Events</text>
<text x="335.00" y="59.20" font-size="1.5" font-weight="normal" text-anchor="middle" fill="#666" >Forward Scatter Area (FSC)</text>
<text transform="translate(321,45) rotate(-90)" font-size="1.5" text-anchor="middle" fill="#666">Side Scatter Area</text>
<g transform="translate(329.8,50.4) scale(0.85)"><path d="M-4.8 -2.6 C-2 -4.2 3 -3.8 4.8 -2.4 C5 0 1.5 3.6 0 4.2 C-2 3.2 -5.5 0 -4.8 -2.6 Z" fill="#1c2f9e"/><path d="M-3.4 -1.8 C-1.2 -2.9 2.2 -2.6 3.3 -1.6 C3.3 0 1 2.4 0 2.8 C-1.4 2.2 -3.8 0 -3.4 -1.8 Z" fill="#27c6e6"/><ellipse cx="-0.2" cy="-0.4" rx="2.0" ry="1.6" fill="#e8e632"/><ellipse cx="-0.3" cy="-0.4" rx="1.2" ry="1.0" fill="#f03a12"/></g>
<g transform="translate(338.5,45.0) rotate(-25) scale(0.88)"><ellipse rx="3.9" ry="2.5" fill="#1c2f9e"/><ellipse rx="2.8" ry="1.7" fill="#27c6e6"/><ellipse rx="1.7" ry="1.0" fill="#c8e03a"/></g>
<path d="M315.0 67.0 C315.2 64.6 316.8 63.6 319.5 63.5 L344.8 63.3 C347.0 63.3 347.6 64.6 347.6 66.8 L320.6 68.0 Z" fill="#eef0f3" stroke="#c2c7ce" stroke-width="0.35"/>
<path d="M315.0 67.0 L320.6 68.0 L320.6 92.6 L316.2 91.4 C315.4 91.2 315.0 90.6 315.0 89.8 Z" fill="#d5d9df" stroke="#c2c7ce" stroke-width="0.3"/>
<rect x="320.6" y="68.0" width="26.2" height="24.6" fill="#eceef2" stroke="#c6cad0" stroke-width="0.35"/>
<path d="M320.6 92.6 L346.8 80.6 L346.8 92.6 Z" fill="#dadee3"/>
<rect x="322.2" y="74.9" width="21.0" height="2.0" fill="#4a8fc0"/>
<rect x="322.2" y="74.9" width="21.0" height="0.6" fill="#8dbddb"/>
<rect x="343.8" y="74.9" width="2.2" height="2.0" fill="#3f86b8"/>
<path d="M346.8 66.8 L351 65.8 L351 92.6 L346.8 92.6 Z" fill="#e4e7eb" stroke="#c6cad0" stroke-width="0.3"/>
<line x1="347.40" y1="79.80" x2="349.80" y2="79.80" stroke="#7d838c" stroke-width="0.5" />
<line x1="347.40" y1="81.30" x2="349.80" y2="81.30" stroke="#7d838c" stroke-width="0.5" />
<line x1="347.40" y1="82.80" x2="349.80" y2="82.80" stroke="#7d838c" stroke-width="0.5" />
<line x1="347.40" y1="84.30" x2="349.80" y2="84.30" stroke="#7d838c" stroke-width="0.5" />
<line x1="347.40" y1="85.80" x2="349.80" y2="85.80" stroke="#7d838c" stroke-width="0.5" />
<line x1="347.40" y1="87.30" x2="349.80" y2="87.30" stroke="#7d838c" stroke-width="0.5" />
<line x1="347.40" y1="88.80" x2="349.80" y2="88.80" stroke="#7d838c" stroke-width="0.5" />
</svg></body></html>
